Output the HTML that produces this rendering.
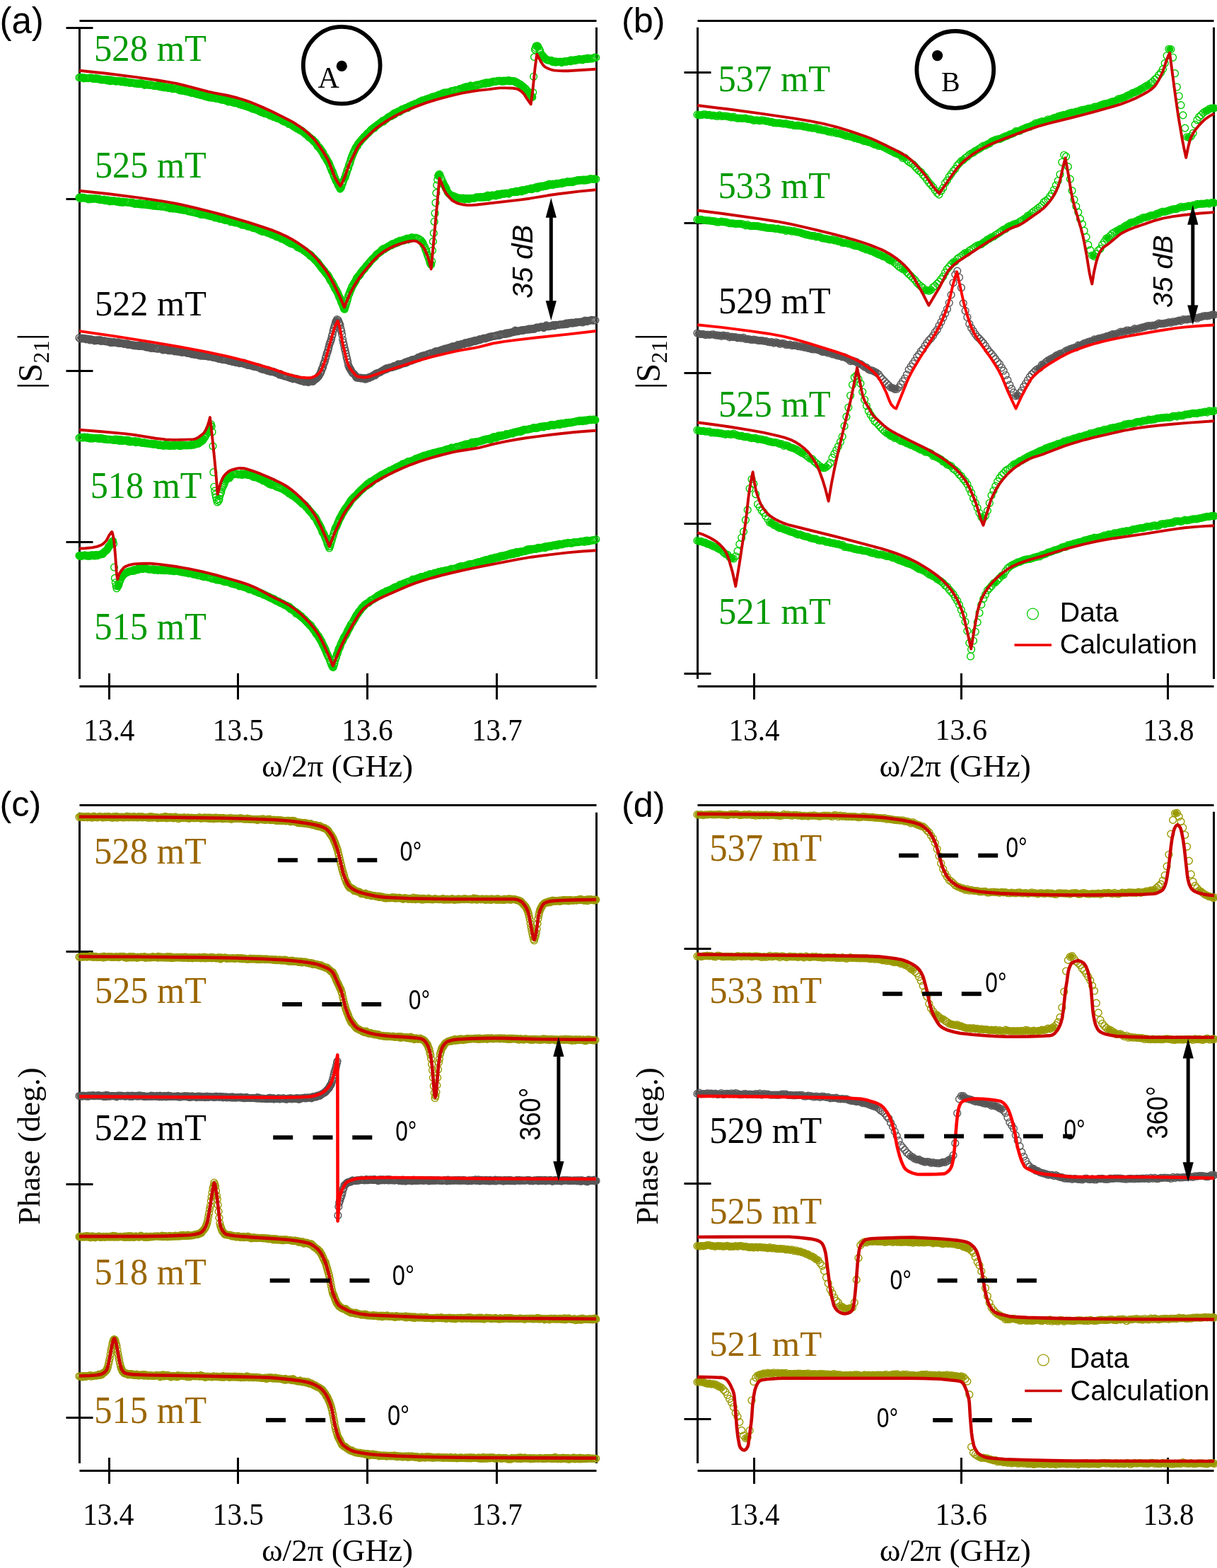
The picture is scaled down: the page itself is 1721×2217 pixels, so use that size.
<!DOCTYPE html>
<html><head><meta charset="utf-8"><title>S21 and phase spectra</title><style>html,body{margin:0;padding:0;background:#fff;}svg{display:block;}</style></head><body>
<svg xmlns="http://www.w3.org/2000/svg" width="1721" height="2217" viewBox="0 0 1721 2217">
<defs><marker id="mg" markerUnits="userSpaceOnUse" markerWidth="14" markerHeight="14" refX="7" refY="7" overflow="visible"><circle cx="7" cy="7" r="4.9" fill="none" stroke="#00cc00" stroke-width="1.4"/></marker><marker id="mk" markerUnits="userSpaceOnUse" markerWidth="14" markerHeight="14" refX="7" refY="7" overflow="visible"><circle cx="7" cy="7" r="4.9" fill="none" stroke="#575757" stroke-width="1.4"/></marker><marker id="mo" markerUnits="userSpaceOnUse" markerWidth="14" markerHeight="14" refX="7" refY="7" overflow="visible"><circle cx="7" cy="7" r="4.9" fill="none" stroke="#999900" stroke-width="1.4"/></marker></defs>
<rect width="100%" height="100%" fill="#fff"/>
<line x1="112.5" y1="29.5" x2="843.5" y2="29.5" stroke="#000" stroke-width="3"/>
<line x1="112.5" y1="38.8" x2="112.5" y2="960" stroke="#000" stroke-width="3"/>
<line x1="843.5" y1="38.8" x2="843.5" y2="960" stroke="#000" stroke-width="3"/>
<line x1="112.5" y1="970.5" x2="843.5" y2="970.5" stroke="#000" stroke-width="3"/>
<line x1="154.5" y1="952.0" x2="154.5" y2="989.0" stroke="#000" stroke-width="3"/>
<line x1="336.5" y1="952.0" x2="336.5" y2="989.0" stroke="#000" stroke-width="3"/>
<line x1="519.5" y1="952.0" x2="519.5" y2="989.0" stroke="#000" stroke-width="3"/>
<line x1="702.5" y1="952.0" x2="702.5" y2="989.0" stroke="#000" stroke-width="3"/>
<line x1="93.5" y1="39.5" x2="131.5" y2="39.5" stroke="#000" stroke-width="3"/>
<line x1="93.5" y1="281.5" x2="131.5" y2="281.5" stroke="#000" stroke-width="3"/>
<line x1="93.5" y1="524.5" x2="131.5" y2="524.5" stroke="#000" stroke-width="3"/>
<line x1="93.5" y1="766.5" x2="131.5" y2="766.5" stroke="#000" stroke-width="3"/>
<line x1="986.5" y1="29.5" x2="1716.5" y2="29.5" stroke="#000" stroke-width="3"/>
<line x1="986.5" y1="38.8" x2="986.5" y2="960" stroke="#000" stroke-width="3"/>
<line x1="1716.5" y1="38.8" x2="1716.5" y2="960" stroke="#000" stroke-width="3"/>
<line x1="986.5" y1="970.5" x2="1716.5" y2="970.5" stroke="#000" stroke-width="3"/>
<line x1="1066.5" y1="952.0" x2="1066.5" y2="989.0" stroke="#000" stroke-width="3"/>
<line x1="1359.5" y1="952.0" x2="1359.5" y2="989.0" stroke="#000" stroke-width="3"/>
<line x1="1651.5" y1="952.0" x2="1651.5" y2="989.0" stroke="#000" stroke-width="3"/>
<line x1="967.5" y1="102.5" x2="1005.5" y2="102.5" stroke="#000" stroke-width="3"/>
<line x1="967.5" y1="315.5" x2="1005.5" y2="315.5" stroke="#000" stroke-width="3"/>
<line x1="967.5" y1="527.5" x2="1005.5" y2="527.5" stroke="#000" stroke-width="3"/>
<line x1="967.5" y1="740.5" x2="1005.5" y2="740.5" stroke="#000" stroke-width="3"/>
<line x1="967.5" y1="952.5" x2="1005.5" y2="952.5" stroke="#000" stroke-width="3"/>
<line x1="112.5" y1="1138.5" x2="843.5" y2="1138.5" stroke="#000" stroke-width="3"/>
<line x1="112.5" y1="1148.7" x2="112.5" y2="2069" stroke="#000" stroke-width="3"/>
<line x1="843.5" y1="1148.7" x2="843.5" y2="2069" stroke="#000" stroke-width="3"/>
<line x1="112.5" y1="2079.5" x2="843.5" y2="2079.5" stroke="#000" stroke-width="3"/>
<line x1="154.5" y1="2061.0" x2="154.5" y2="2098.0" stroke="#000" stroke-width="3"/>
<line x1="336.5" y1="2061.0" x2="336.5" y2="2098.0" stroke="#000" stroke-width="3"/>
<line x1="519.5" y1="2061.0" x2="519.5" y2="2098.0" stroke="#000" stroke-width="3"/>
<line x1="702.5" y1="2061.0" x2="702.5" y2="2098.0" stroke="#000" stroke-width="3"/>
<line x1="93.5" y1="1345.5" x2="131.5" y2="1345.5" stroke="#000" stroke-width="3"/>
<line x1="93.5" y1="1674.5" x2="131.5" y2="1674.5" stroke="#000" stroke-width="3"/>
<line x1="93.5" y1="2004.5" x2="131.5" y2="2004.5" stroke="#000" stroke-width="3"/>
<line x1="986.5" y1="1138.5" x2="1716.5" y2="1138.5" stroke="#000" stroke-width="3"/>
<line x1="986.5" y1="1147.7" x2="986.5" y2="2069" stroke="#000" stroke-width="3"/>
<line x1="1716.5" y1="1147.7" x2="1716.5" y2="2069" stroke="#000" stroke-width="3"/>
<line x1="986.5" y1="2079.5" x2="1716.5" y2="2079.5" stroke="#000" stroke-width="3"/>
<line x1="1066.5" y1="2061.0" x2="1066.5" y2="2098.0" stroke="#000" stroke-width="3"/>
<line x1="1359.5" y1="2061.0" x2="1359.5" y2="2098.0" stroke="#000" stroke-width="3"/>
<line x1="1651.5" y1="2061.0" x2="1651.5" y2="2098.0" stroke="#000" stroke-width="3"/>
<line x1="967.5" y1="1341.5" x2="1005.5" y2="1341.5" stroke="#000" stroke-width="3"/>
<line x1="967.5" y1="1673.5" x2="1005.5" y2="1673.5" stroke="#000" stroke-width="3"/>
<line x1="967.5" y1="2006.5" x2="1005.5" y2="2006.5" stroke="#000" stroke-width="3"/>
<polyline points="117.4,110.1 118.3,110.8 119.2,109.9" fill="none" stroke="#00cc00" stroke-width="8.5" stroke-linejoin="round" stroke-linecap="round"/><polyline points="130.0,110.2 130.9,111.1" fill="none" stroke="#00cc00" stroke-width="8.5" stroke-linejoin="round" stroke-linecap="round"/><polyline points="134.5,111.4 135.4,110.4 136.3,111.4" fill="none" stroke="#00cc00" stroke-width="8.5" stroke-linejoin="round" stroke-linecap="round"/><polyline points="138.1,111.9 139.0,111.2" fill="none" stroke="#00cc00" stroke-width="8.5" stroke-linejoin="round" stroke-linecap="round"/><polyline points="142.6,112.8 143.5,112.0" fill="none" stroke="#00cc00" stroke-width="8.5" stroke-linejoin="round" stroke-linecap="round"/><polyline points="145.3,113.0 146.2,112.4" fill="none" stroke="#00cc00" stroke-width="8.5" stroke-linejoin="round" stroke-linecap="round"/><polyline points="149.8,112.4 150.7,113.1 151.6,113.9 152.5,112.5 153.4,113.8" fill="none" stroke="#00cc00" stroke-width="8.5" stroke-linejoin="round" stroke-linecap="round"/><polyline points="155.2,113.2 156.1,114.7" fill="none" stroke="#00cc00" stroke-width="8.5" stroke-linejoin="round" stroke-linecap="round"/><polyline points="157.9,113.2 158.8,114.0" fill="none" stroke="#00cc00" stroke-width="8.5" stroke-linejoin="round" stroke-linecap="round"/><polyline points="164.2,115.2 165.1,114.3" fill="none" stroke="#00cc00" stroke-width="8.5" stroke-linejoin="round" stroke-linecap="round"/><polyline points="170.5,115.1 171.4,115.8" fill="none" stroke="#00cc00" stroke-width="8.5" stroke-linejoin="round" stroke-linecap="round"/><polyline points="175.0,116.0 175.9,114.8 176.8,115.7" fill="none" stroke="#00cc00" stroke-width="8.5" stroke-linejoin="round" stroke-linecap="round"/><polyline points="182.2,116.4 183.1,117.4 184.0,116.5" fill="none" stroke="#00cc00" stroke-width="8.5" stroke-linejoin="round" stroke-linecap="round"/><polyline points="194.8,117.9 195.7,118.7" fill="none" stroke="#00cc00" stroke-width="8.5" stroke-linejoin="round" stroke-linecap="round"/><polyline points="197.5,118.6 198.4,117.8 199.3,118.7 200.2,117.8" fill="none" stroke="#00cc00" stroke-width="8.5" stroke-linejoin="round" stroke-linecap="round"/><polyline points="203.8,119.2 204.7,120.4 205.6,119.0" fill="none" stroke="#00cc00" stroke-width="8.5" stroke-linejoin="round" stroke-linecap="round"/><polyline points="221.8,121.5 222.7,120.7" fill="none" stroke="#00cc00" stroke-width="8.5" stroke-linejoin="round" stroke-linecap="round"/><polyline points="224.5,122.1 225.4,121.0" fill="none" stroke="#00cc00" stroke-width="8.5" stroke-linejoin="round" stroke-linecap="round"/><polyline points="226.3,122.7 227.2,121.5 228.1,122.9 229.0,122.2 229.9,123.2" fill="none" stroke="#00cc00" stroke-width="8.5" stroke-linejoin="round" stroke-linecap="round"/><polyline points="231.7,122.3 232.6,123.8" fill="none" stroke="#00cc00" stroke-width="8.5" stroke-linejoin="round" stroke-linecap="round"/><polyline points="238.0,124.6 238.9,123.9" fill="none" stroke="#00cc00" stroke-width="8.5" stroke-linejoin="round" stroke-linecap="round"/><polyline points="242.5,124.2 243.4,125.6" fill="none" stroke="#00cc00" stroke-width="8.5" stroke-linejoin="round" stroke-linecap="round"/><polyline points="254.2,127.8 255.1,126.8" fill="none" stroke="#00cc00" stroke-width="8.5" stroke-linejoin="round" stroke-linecap="round"/><polyline points="256.9,127.7 257.8,128.4 258.7,127.2 259.6,128.0" fill="none" stroke="#00cc00" stroke-width="8.5" stroke-linejoin="round" stroke-linecap="round"/><polyline points="261.4,127.7 262.3,129.1" fill="none" stroke="#00cc00" stroke-width="8.5" stroke-linejoin="round" stroke-linecap="round"/><polyline points="269.5,129.9 270.4,131.4 271.3,130.7" fill="none" stroke="#00cc00" stroke-width="8.5" stroke-linejoin="round" stroke-linecap="round"/><polyline points="274.9,131.6 275.8,132.4" fill="none" stroke="#00cc00" stroke-width="8.5" stroke-linejoin="round" stroke-linecap="round"/><polyline points="283.0,133.2 283.9,134.6" fill="none" stroke="#00cc00" stroke-width="8.5" stroke-linejoin="round" stroke-linecap="round"/><polyline points="291.1,136.6 292.0,135.5 292.9,136.7" fill="none" stroke="#00cc00" stroke-width="8.5" stroke-linejoin="round" stroke-linecap="round"/><polyline points="294.7,137.2 295.6,137.9" fill="none" stroke="#00cc00" stroke-width="8.5" stroke-linejoin="round" stroke-linecap="round"/><polyline points="299.2,138.2 300.1,137.5 301.0,138.2" fill="none" stroke="#00cc00" stroke-width="8.5" stroke-linejoin="round" stroke-linecap="round"/><polyline points="311.8,139.7 312.7,140.9" fill="none" stroke="#00cc00" stroke-width="8.5" stroke-linejoin="round" stroke-linecap="round"/><polyline points="318.1,141.4 319.0,142.1" fill="none" stroke="#00cc00" stroke-width="8.5" stroke-linejoin="round" stroke-linecap="round"/><polyline points="322.6,143.9 323.5,142.4 324.4,143.7" fill="none" stroke="#00cc00" stroke-width="8.5" stroke-linejoin="round" stroke-linecap="round"/><polyline points="328.0,144.0 328.9,144.8" fill="none" stroke="#00cc00" stroke-width="8.5" stroke-linejoin="round" stroke-linecap="round"/><polyline points="334.3,144.7 335.2,145.7" fill="none" stroke="#00cc00" stroke-width="8.5" stroke-linejoin="round" stroke-linecap="round"/><polyline points="337.9,146.6 338.8,147.7" fill="none" stroke="#00cc00" stroke-width="8.5" stroke-linejoin="round" stroke-linecap="round"/><polyline points="346.0,149.2 346.9,149.9" fill="none" stroke="#00cc00" stroke-width="8.5" stroke-linejoin="round" stroke-linecap="round"/><polyline points="352.3,151.9 353.2,151.0 354.1,151.9" fill="none" stroke="#00cc00" stroke-width="8.5" stroke-linejoin="round" stroke-linecap="round"/><polyline points="358.6,153.4 359.5,154.4" fill="none" stroke="#00cc00" stroke-width="8.5" stroke-linejoin="round" stroke-linecap="round"/><polyline points="369.4,157.9 370.3,159.0 371.2,158.3" fill="none" stroke="#00cc00" stroke-width="8.5" stroke-linejoin="round" stroke-linecap="round"/><polyline points="381.1,162.4 382.0,163.5" fill="none" stroke="#00cc00" stroke-width="8.5" stroke-linejoin="round" stroke-linecap="round"/><polyline points="385.6,163.9 386.5,165.3" fill="none" stroke="#00cc00" stroke-width="8.5" stroke-linejoin="round" stroke-linecap="round"/><polyline points="390.1,165.5 391.0,166.4 391.9,167.2" fill="none" stroke="#00cc00" stroke-width="8.5" stroke-linejoin="round" stroke-linecap="round"/><polyline points="400.9,171.1 401.8,172.0" fill="none" stroke="#00cc00" stroke-width="8.5" stroke-linejoin="round" stroke-linecap="round"/><polyline points="403.6,171.8 404.5,172.6" fill="none" stroke="#00cc00" stroke-width="8.5" stroke-linejoin="round" stroke-linecap="round"/><polyline points="406.3,172.9 407.2,174.1 408.1,175.3 409.0,174.6" fill="none" stroke="#00cc00" stroke-width="8.5" stroke-linejoin="round" stroke-linecap="round"/><polyline points="410.8,175.1 411.7,176.3" fill="none" stroke="#00cc00" stroke-width="8.5" stroke-linejoin="round" stroke-linecap="round"/><polyline points="416.2,179.2 417.1,179.9" fill="none" stroke="#00cc00" stroke-width="8.5" stroke-linejoin="round" stroke-linecap="round"/><polyline points="418.9,180.5 419.8,181.8" fill="none" stroke="#00cc00" stroke-width="8.5" stroke-linejoin="round" stroke-linecap="round"/><polyline points="423.4,183.1 424.3,184.4" fill="none" stroke="#00cc00" stroke-width="8.5" stroke-linejoin="round" stroke-linecap="round"/><polyline points="426.1,184.4 427.0,185.1 427.9,185.9 428.8,186.9" fill="none" stroke="#00cc00" stroke-width="8.5" stroke-linejoin="round" stroke-linecap="round"/><polyline points="430.6,188.2 431.5,189.0" fill="none" stroke="#00cc00" stroke-width="8.5" stroke-linejoin="round" stroke-linecap="round"/><polyline points="433.3,190.2 434.2,191.0" fill="none" stroke="#00cc00" stroke-width="8.5" stroke-linejoin="round" stroke-linecap="round"/><polyline points="436.0,192.7 436.9,194.1" fill="none" stroke="#00cc00" stroke-width="8.5" stroke-linejoin="round" stroke-linecap="round"/><polyline points="443.2,199.4 444.1,200.3" fill="none" stroke="#00cc00" stroke-width="8.5" stroke-linejoin="round" stroke-linecap="round"/><polyline points="446.8,202.8 447.7,203.7" fill="none" stroke="#00cc00" stroke-width="8.5" stroke-linejoin="round" stroke-linecap="round"/><polyline points="451.3,208.2 452.2,209.3" fill="none" stroke="#00cc00" stroke-width="8.5" stroke-linejoin="round" stroke-linecap="round"/><polyline points="453.1,211.1 454.0,212.3 454.9,213.1" fill="none" stroke="#00cc00" stroke-width="8.5" stroke-linejoin="round" stroke-linecap="round"/><polyline points="455.8,215.1 456.7,215.8" fill="none" stroke="#00cc00" stroke-width="8.5" stroke-linejoin="round" stroke-linecap="round"/><polyline points="457.6,218.4 458.5,219.9 459.4,221.4 460.3,222.2" fill="none" stroke="#00cc00" stroke-width="8.5" stroke-linejoin="round" stroke-linecap="round"/><polyline points="461.2,224.3 462.1,225.6 463.0,227.1" fill="none" stroke="#00cc00" stroke-width="8.5" stroke-linejoin="round" stroke-linecap="round"/><polyline points="463.9,228.9 464.8,230.2" fill="none" stroke="#00cc00" stroke-width="8.5" stroke-linejoin="round" stroke-linecap="round"/><polyline points="469.3,241.6 470.2,242.5" fill="none" stroke="#00cc00" stroke-width="8.5" stroke-linejoin="round" stroke-linecap="round"/><polyline points="474.7,254.7 475.6,256.2 476.5,257.3" fill="none" stroke="#00cc00" stroke-width="8.5" stroke-linejoin="round" stroke-linecap="round"/><polyline points="478.3,261.9 479.2,263.4" fill="none" stroke="#00cc00" stroke-width="8.5" stroke-linejoin="round" stroke-linecap="round"/><polyline points="481.0,267.1 481.9,265.9" fill="none" stroke="#00cc00" stroke-width="8.5" stroke-linejoin="round" stroke-linecap="round"/><polyline points="487.3,251.9 488.2,250.4" fill="none" stroke="#00cc00" stroke-width="8.5" stroke-linejoin="round" stroke-linecap="round"/><polyline points="503.5,208.3 504.4,207.4 505.3,206.4" fill="none" stroke="#00cc00" stroke-width="8.5" stroke-linejoin="round" stroke-linecap="round"/><polyline points="508.0,201.9 508.9,200.5" fill="none" stroke="#00cc00" stroke-width="8.5" stroke-linejoin="round" stroke-linecap="round"/><polyline points="514.3,194.5 515.2,193.3" fill="none" stroke="#00cc00" stroke-width="8.5" stroke-linejoin="round" stroke-linecap="round"/><polyline points="518.8,189.9 519.7,188.5" fill="none" stroke="#00cc00" stroke-width="8.5" stroke-linejoin="round" stroke-linecap="round"/><polyline points="526.9,182.1 527.8,181.0" fill="none" stroke="#00cc00" stroke-width="8.5" stroke-linejoin="round" stroke-linecap="round"/><polyline points="532.3,177.9 533.2,177.1" fill="none" stroke="#00cc00" stroke-width="8.5" stroke-linejoin="round" stroke-linecap="round"/><polyline points="535.0,175.8 535.9,175.2" fill="none" stroke="#00cc00" stroke-width="8.5" stroke-linejoin="round" stroke-linecap="round"/><polyline points="539.5,172.4 540.4,171.7 541.3,170.7 542.2,172.0" fill="none" stroke="#00cc00" stroke-width="8.5" stroke-linejoin="round" stroke-linecap="round"/><polyline points="548.5,166.3 549.4,165.5" fill="none" stroke="#00cc00" stroke-width="8.5" stroke-linejoin="round" stroke-linecap="round"/><polyline points="553.0,164.5 553.9,163.0 554.8,162.3" fill="none" stroke="#00cc00" stroke-width="8.5" stroke-linejoin="round" stroke-linecap="round"/><polyline points="557.5,160.0 558.4,161.2 559.3,159.9" fill="none" stroke="#00cc00" stroke-width="8.5" stroke-linejoin="round" stroke-linecap="round"/><polyline points="564.7,158.2 565.6,157.5 566.5,156.4 567.4,155.7 568.3,154.7" fill="none" stroke="#00cc00" stroke-width="8.5" stroke-linejoin="round" stroke-linecap="round"/><polyline points="571.9,153.9 572.8,152.9" fill="none" stroke="#00cc00" stroke-width="8.5" stroke-linejoin="round" stroke-linecap="round"/><polyline points="576.4,152.7 577.3,151.3 578.2,150.6" fill="none" stroke="#00cc00" stroke-width="8.5" stroke-linejoin="round" stroke-linecap="round"/><polyline points="581.8,149.3 582.7,148.4" fill="none" stroke="#00cc00" stroke-width="8.5" stroke-linejoin="round" stroke-linecap="round"/><polyline points="586.3,147.3 587.2,146.6" fill="none" stroke="#00cc00" stroke-width="8.5" stroke-linejoin="round" stroke-linecap="round"/><polyline points="596.2,143.2 597.1,141.9 598.0,142.7" fill="none" stroke="#00cc00" stroke-width="8.5" stroke-linejoin="round" stroke-linecap="round"/><polyline points="601.6,141.0 602.5,140.4" fill="none" stroke="#00cc00" stroke-width="8.5" stroke-linejoin="round" stroke-linecap="round"/><polyline points="611.5,136.8 612.4,137.6" fill="none" stroke="#00cc00" stroke-width="8.5" stroke-linejoin="round" stroke-linecap="round"/><polyline points="619.6,135.0 620.5,133.9 621.4,134.6" fill="none" stroke="#00cc00" stroke-width="8.5" stroke-linejoin="round" stroke-linecap="round"/><polyline points="623.2,134.3 624.1,133.6 625.0,132.4 625.9,133.4 626.8,132.6 627.7,131.1 628.6,132.3 629.5,131.1" fill="none" stroke="#00cc00" stroke-width="8.5" stroke-linejoin="round" stroke-linecap="round"/><polyline points="631.3,131.0 632.2,131.7 633.1,130.6" fill="none" stroke="#00cc00" stroke-width="8.5" stroke-linejoin="round" stroke-linecap="round"/><polyline points="654.7,125.0 655.6,123.8" fill="none" stroke="#00cc00" stroke-width="8.5" stroke-linejoin="round" stroke-linecap="round"/><polyline points="659.2,122.6 660.1,123.4" fill="none" stroke="#00cc00" stroke-width="8.5" stroke-linejoin="round" stroke-linecap="round"/><polyline points="661.9,123.3 662.8,122.6" fill="none" stroke="#00cc00" stroke-width="8.5" stroke-linejoin="round" stroke-linecap="round"/><polyline points="665.5,120.9 666.4,122.0" fill="none" stroke="#00cc00" stroke-width="8.5" stroke-linejoin="round" stroke-linecap="round"/><polyline points="686.2,118.4 687.1,116.9" fill="none" stroke="#00cc00" stroke-width="8.5" stroke-linejoin="round" stroke-linecap="round"/><polyline points="688.9,117.6 689.8,116.9" fill="none" stroke="#00cc00" stroke-width="8.5" stroke-linejoin="round" stroke-linecap="round"/><polyline points="693.4,116.8 694.3,116.1" fill="none" stroke="#00cc00" stroke-width="8.5" stroke-linejoin="round" stroke-linecap="round"/><polyline points="710.5,115.2 711.4,114.2" fill="none" stroke="#00cc00" stroke-width="8.5" stroke-linejoin="round" stroke-linecap="round"/><polyline points="713.2,115.0 714.1,114.2" fill="none" stroke="#00cc00" stroke-width="8.5" stroke-linejoin="round" stroke-linecap="round"/><polyline points="719.5,113.7 720.4,114.8 721.3,114.1" fill="none" stroke="#00cc00" stroke-width="8.5" stroke-linejoin="round" stroke-linecap="round"/><polyline points="728.5,115.1 729.4,116.6" fill="none" stroke="#00cc00" stroke-width="8.5" stroke-linejoin="round" stroke-linecap="round"/><polyline points="731.2,116.6 732.1,117.3" fill="none" stroke="#00cc00" stroke-width="8.5" stroke-linejoin="round" stroke-linecap="round"/><polyline points="735.7,119.1 736.6,120.0" fill="none" stroke="#00cc00" stroke-width="8.5" stroke-linejoin="round" stroke-linecap="round"/><polyline points="739.3,122.0 740.2,123.2 741.1,124.6" fill="none" stroke="#00cc00" stroke-width="8.5" stroke-linejoin="round" stroke-linecap="round"/><polyline points="747.4,130.7 748.3,131.7" fill="none" stroke="#00cc00" stroke-width="8.5" stroke-linejoin="round" stroke-linecap="round"/><polyline points="751.9,136.3 752.8,137.4" fill="none" stroke="#00cc00" stroke-width="8.5" stroke-linejoin="round" stroke-linecap="round"/><polyline points="760.0,64.9 760.9,66.1" fill="none" stroke="#00cc00" stroke-width="8.5" stroke-linejoin="round" stroke-linecap="round"/><polyline points="767.2,78.4 768.1,79.9 769.0,80.6 769.9,81.8 770.8,82.8" fill="none" stroke="#00cc00" stroke-width="8.5" stroke-linejoin="round" stroke-linecap="round"/><polyline points="779.8,85.4 780.7,86.5 781.6,87.6" fill="none" stroke="#00cc00" stroke-width="8.5" stroke-linejoin="round" stroke-linecap="round"/><polyline points="785.2,86.9 786.1,88.1 787.0,87.4" fill="none" stroke="#00cc00" stroke-width="8.5" stroke-linejoin="round" stroke-linecap="round"/><polyline points="794.2,88.6 795.1,87.4" fill="none" stroke="#00cc00" stroke-width="8.5" stroke-linejoin="round" stroke-linecap="round"/><polyline points="805.9,85.9 806.8,86.8" fill="none" stroke="#00cc00" stroke-width="8.5" stroke-linejoin="round" stroke-linecap="round"/><polyline points="813.1,84.5 814.0,85.6" fill="none" stroke="#00cc00" stroke-width="8.5" stroke-linejoin="round" stroke-linecap="round"/><polyline points="817.6,84.3 818.5,83.6 819.4,84.4 820.3,83.7" fill="none" stroke="#00cc00" stroke-width="8.5" stroke-linejoin="round" stroke-linecap="round"/><polyline points="823.9,84.8 824.8,83.8 825.7,83.0" fill="none" stroke="#00cc00" stroke-width="8.5" stroke-linejoin="round" stroke-linecap="round"/><polyline points="829.3,83.6 830.2,82.9 831.1,82.1 832.0,83.3" fill="none" stroke="#00cc00" stroke-width="8.5" stroke-linejoin="round" stroke-linecap="round"/><polyline points="112.0,109.6 113.8,109.6 115.6,109.7 117.4,110.1 118.3,110.8 119.2,109.9 121.0,110.6 122.8,110.5 124.6,110.6 126.4,110.1 128.2,110.0 130.0,110.2 130.9,111.1 132.7,111.5 134.5,111.4 135.4,110.4 136.3,111.4 138.1,111.9 139.0,111.2 140.8,111.6 142.6,112.8 143.5,112.0 145.3,113.0 146.2,112.4 148.0,112.9 149.8,112.4 150.7,113.1 151.6,113.9 152.5,112.5 153.4,113.8 155.2,113.2 156.1,114.7 157.9,113.2 158.8,114.0 160.6,114.0 162.4,114.3 164.2,115.2 165.1,114.3 166.9,114.6 168.7,114.4 170.5,115.1 171.4,115.8 173.2,114.8 175.0,116.0 175.9,114.8 176.8,115.7 178.6,116.7 180.4,116.2 182.2,116.4 183.1,117.4 184.0,116.5 185.8,117.1 187.6,117.1 189.4,117.4 191.2,118.2 193.0,117.8 194.8,117.9 195.7,118.7 197.5,118.6 198.4,117.8 199.3,118.7 200.2,117.8 202.0,118.8 203.8,119.2 204.7,120.4 205.6,119.0 207.4,119.7 209.2,119.8 211.0,120.4 212.8,119.8 214.6,120.6 216.4,120.9 218.2,121.5 220.0,121.4 221.8,121.5 222.7,120.7 224.5,122.1 225.4,121.0 226.3,122.7 227.2,121.5 228.1,122.9 229.0,122.2 229.9,123.2 231.7,122.3 232.6,123.8 234.4,123.4 236.2,123.7 238.0,124.6 238.9,123.9 240.7,124.1 242.5,124.2 243.4,125.6 245.2,125.7 247.0,125.2 248.8,125.6 250.6,126.0 252.4,125.9 254.2,127.8 255.1,126.8 256.9,127.7 257.8,128.4 258.7,127.2 259.6,128.0 261.4,127.7 262.3,129.1 264.1,129.2 265.9,129.8 267.7,130.0 269.5,129.9 270.4,131.4 271.3,130.7 273.1,131.3 274.9,131.6 275.8,132.4 277.6,132.4 279.4,133.5 281.2,133.6 283.0,133.2 283.9,134.6 285.7,134.5 287.5,135.4 289.3,135.9 291.1,136.6 292.0,135.5 292.9,136.7 294.7,137.2 295.6,137.9 297.4,136.8 299.2,138.2 300.1,137.5 301.0,138.2 302.8,137.8 304.6,139.1 306.4,139.2 308.2,139.3 310.0,140.0 311.8,139.7 312.7,140.9 314.5,141.2 316.3,141.1 318.1,141.4 319.0,142.1 320.8,142.6 322.6,143.9 323.5,142.4 324.4,143.7 326.2,143.7 328.0,144.0 328.9,144.8 330.7,144.9 332.5,145.9 334.3,144.7 335.2,145.7 337.0,144.9 337.9,146.6 338.8,147.7 340.6,147.0 342.4,148.7 344.2,148.7 346.0,149.2 346.9,149.9 348.7,150.2 350.5,150.9 352.3,151.9 353.2,151.0 354.1,151.9 355.9,152.0 356.8,153.8 358.6,153.4 359.5,154.4 361.3,153.4 362.2,155.2 364.0,155.8 365.8,156.3 367.6,157.7 369.4,157.9 370.3,159.0 371.2,158.3 373.0,158.3 373.9,160.4 375.7,160.7 377.5,161.0 379.3,161.6 381.1,162.4 382.0,163.5 383.8,163.4 385.6,163.9 386.5,165.3 388.3,165.3 390.1,165.5 391.0,166.4 391.9,167.2 393.7,167.5 395.5,168.4 397.3,169.1 399.1,170.5 400.9,171.1 401.8,172.0 403.6,171.8 404.5,172.6 406.3,172.9 407.2,174.1 408.1,175.3 409.0,174.6 410.8,175.1 411.7,176.3 413.5,176.6 414.4,178.3 416.2,179.2 417.1,179.9 418.9,180.5 419.8,181.8 421.6,181.6 423.4,183.1 424.3,184.4 426.1,184.4 427.0,185.1 427.9,185.9 428.8,186.9 430.6,188.2 431.5,189.0 433.3,190.2 434.2,191.0 436.0,192.7 436.9,194.1 438.7,194.8 440.5,196.6 442.3,197.4 443.2,199.4 444.1,200.3 445.9,201.0 446.8,202.8 447.7,203.7 448.6,205.4 449.5,207.4 451.3,208.2 452.2,209.3 453.1,211.1 454.0,212.3 454.9,213.1 455.8,215.1 456.7,215.8 457.6,218.4 458.5,219.9 459.4,221.4 460.3,222.2 461.2,224.3 462.1,225.6 463.0,227.1 463.9,228.9 464.8,230.2 465.7,231.9 466.6,235.0 467.5,236.6 468.4,239.0 469.3,241.6 470.2,242.5 471.1,245.3 472.0,248.0 472.9,250.3 473.8,252.1 474.7,254.7 475.6,256.2 476.5,257.3 477.4,259.3 478.3,261.9 479.2,263.4 481.0,267.1 481.9,265.9 482.8,264.0 483.7,260.9 484.6,258.7 485.5,256.0 487.3,251.9 488.2,250.4 489.1,246.9 490.0,244.7 490.9,241.2 491.8,239.1 492.7,237.0 493.6,233.1 494.5,231.5 495.4,228.4 496.3,225.1 497.2,222.8 498.1,220.3 499.0,218.3 499.9,215.9 500.8,213.9 501.7,212.3 502.6,210.1 503.5,208.3 504.4,207.4 505.3,206.4 506.2,203.8 508.0,201.9 508.9,200.5 510.7,198.5 512.5,196.3 514.3,194.5 515.2,193.3 517.0,191.7 518.8,189.9 519.7,188.5 521.5,187.4 523.3,185.3 525.1,183.3 526.9,182.1 527.8,181.0 529.6,181.0 530.5,179.0 532.3,177.9 533.2,177.1 535.0,175.8 535.9,175.2 537.7,173.8 539.5,172.4 540.4,171.7 541.3,170.7 542.2,172.0 543.1,170.2 544.9,169.2 546.7,168.0 548.5,166.3 549.4,165.5 551.2,164.5 553.0,164.5 553.9,163.0 554.8,162.3 556.6,162.6 557.5,160.0 558.4,161.2 559.3,159.9 561.1,158.9 562.9,157.7 564.7,158.2 565.6,157.5 566.5,156.4 567.4,155.7 568.3,154.7 570.1,154.8 571.9,153.9 572.8,152.9 574.6,152.6 576.4,152.7 577.3,151.3 578.2,150.6 580.0,149.8 581.8,149.3 582.7,148.4 584.5,148.1 586.3,147.3 587.2,146.6 589.0,146.1 590.8,145.6 592.6,144.1 594.4,143.4 596.2,143.2 597.1,141.9 598.0,142.7 599.8,141.8 601.6,141.0 602.5,140.4 604.3,140.0 606.1,139.0 607.9,139.0 609.7,138.1 611.5,136.8 612.4,137.6 614.2,136.9 616.0,135.8 617.8,135.8 619.6,135.0 620.5,133.9 621.4,134.6 623.2,134.3 624.1,133.6 625.0,132.4 625.9,133.4 626.8,132.6 627.7,131.1 628.6,132.3 629.5,131.1 631.3,131.0 632.2,131.7 633.1,130.6 634.9,131.1 636.7,129.7 638.5,128.6 640.3,128.9 642.1,128.3 643.9,127.3 645.7,127.6 647.5,127.3 649.3,126.1 651.1,125.3 652.9,125.6 654.7,125.0 655.6,123.8 657.4,123.9 659.2,122.6 660.1,123.4 661.9,123.3 662.8,122.6 664.6,122.9 665.5,120.9 666.4,122.0 668.2,122.0 670.0,121.8 671.8,121.0 673.6,120.2 675.4,120.5 677.2,119.6 679.0,119.4 680.8,118.9 682.6,118.1 684.4,118.1 686.2,118.4 687.1,116.9 688.9,117.6 689.8,116.9 691.6,117.4 693.4,116.8 694.3,116.1 696.1,115.9 697.9,115.2 699.7,115.4 701.5,115.3 703.3,114.3 705.1,114.3 706.9,114.0 708.7,114.8 710.5,115.2 711.4,114.2 713.2,115.0 714.1,114.2 715.9,114.3 717.7,113.9 719.5,113.7 720.4,114.8 721.3,114.1 723.1,114.7 724.9,114.5 726.7,114.5 728.5,115.1 729.4,116.6 731.2,116.6 732.1,117.3 733.9,118.9 735.7,119.1 736.6,120.0 737.5,122.0 739.3,122.0 740.2,123.2 741.1,124.6 742.9,125.0 743.8,126.6 745.6,128.1 747.4,130.7 748.3,131.7 750.1,133.6 751.9,136.3 752.8,137.4 753.7,130.6 754.6,108.3 755.5,80.6 756.4,70.1 757.3,67.7 758.2,65.0 760.0,64.9 760.9,66.1 762.7,69.7 763.6,71.6 764.5,74.7 765.4,77.6 767.2,78.4 768.1,79.9 769.0,80.6 769.9,81.8 770.8,82.8 772.6,84.1 774.4,85.0 776.2,85.2 778.0,85.6 779.8,85.4 780.7,86.5 781.6,87.6 783.4,87.7 785.2,86.9 786.1,88.1 787.0,87.4 788.8,87.4 790.6,87.4 792.4,87.0 794.2,88.6 795.1,87.4 796.9,87.5 798.7,86.5 800.5,87.3 802.3,86.7 804.1,86.1 805.9,85.9 806.8,86.8 807.7,84.9 809.5,85.4 811.3,85.8 813.1,84.5 814.0,85.6 815.8,84.7 817.6,84.3 818.5,83.6 819.4,84.4 820.3,83.7 822.1,84.4 823.9,84.8 824.8,83.8 825.7,83.0 827.5,83.1 829.3,83.6 830.2,82.9 831.1,82.1 832.0,83.3 833.8,82.9 835.6,82.8 837.4,82.9 839.2,82.2 841.0,81.0 842.8,81.4" fill="none" stroke="none" marker-start="url(#mg)" marker-mid="url(#mg)" marker-end="url(#mg)"/>
<path d="M112.0 99.8L150.0 103.8 192.5 109.1 223.3 113.5 248.8 117.9 261.5 120.9 294.8 129.7 302.8 131.4 321.8 135.0 336.0 138.5 345.3 141.3 352.5 143.8 360.5 147.0 373.0 152.4 385.3 158.0 403.3 166.9 410.0 170.4 415.8 173.6 423.0 178.3 429.8 183.3 436.0 188.5 441.8 194.0 445.5 198.3 450.0 204.3 456.3 213.6 460.8 220.9 463.8 226.4 466.0 231.0 472.0 247.0 474.0 251.7 477.8 258.3 481.3 263.0 484.1 258.0 487.3 250.7 489.3 245.5 492.6 235.2 494.8 229.9 500.1 219.7 505.1 209.3 506.8 206.5 509.6 202.9 513.3 198.9 527.1 185.6 531.1 182.0 535.1 178.9 543.6 173.0 552.3 167.6 561.1 162.7 570.3 158.2 586.4 151.4 602.6 145.4 617.9 140.6 637.6 135.4 653.6 131.7 668.2 129.1 676.4 127.9 690.7 126.4 701.9 124.9 706.9 124.4 714.9 124.4 725.7 124.8 730.2 125.5 732.2 126.1 733.4 126.6 737.7 129.6 740.7 132.6 741.9 134.3 744.9 139.2 750.7 147.3 753.2 128.7 756.7 95.2 759.2 76.6 765.7 88.7 767.5 91.2 769.2 93.3 771.2 94.9 773.7 96.3 778.0 98.0 781.5 99.1 784.5 99.6 788.5 99.9 796.2 100.2 803.0 100.2 810.7 99.8 843.0 97.7" fill="none" stroke="#cc0000" stroke-width="3.9" stroke-linejoin="round" stroke-linecap="butt"/>
<polyline points="112.0,279.6 112.9,278.9" fill="none" stroke="#00cc00" stroke-width="8.5" stroke-linejoin="round" stroke-linecap="round"/><polyline points="113.8,280.5 114.7,279.8" fill="none" stroke="#00cc00" stroke-width="8.5" stroke-linejoin="round" stroke-linecap="round"/><polyline points="116.5,279.0 117.4,279.8" fill="none" stroke="#00cc00" stroke-width="8.5" stroke-linejoin="round" stroke-linecap="round"/><polyline points="121.0,280.0 121.9,280.6" fill="none" stroke="#00cc00" stroke-width="8.5" stroke-linejoin="round" stroke-linecap="round"/><polyline points="128.2,280.5 129.1,281.4 130.0,280.5" fill="none" stroke="#00cc00" stroke-width="8.5" stroke-linejoin="round" stroke-linecap="round"/><polyline points="139.0,281.8 139.9,281.1 140.8,281.9 141.7,282.6" fill="none" stroke="#00cc00" stroke-width="8.5" stroke-linejoin="round" stroke-linecap="round"/><polyline points="150.7,283.7 151.6,282.9 152.5,283.7 153.4,283.0" fill="none" stroke="#00cc00" stroke-width="8.5" stroke-linejoin="round" stroke-linecap="round"/><polyline points="155.2,284.8 156.1,284.0" fill="none" stroke="#00cc00" stroke-width="8.5" stroke-linejoin="round" stroke-linecap="round"/><polyline points="159.7,284.6 160.6,283.8" fill="none" stroke="#00cc00" stroke-width="8.5" stroke-linejoin="round" stroke-linecap="round"/><polyline points="164.2,284.5 165.1,285.2" fill="none" stroke="#00cc00" stroke-width="8.5" stroke-linejoin="round" stroke-linecap="round"/><polyline points="166.9,285.2 167.8,284.3 168.7,285.4 169.6,286.1" fill="none" stroke="#00cc00" stroke-width="8.5" stroke-linejoin="round" stroke-linecap="round"/><polyline points="173.2,286.3 174.1,285.1" fill="none" stroke="#00cc00" stroke-width="8.5" stroke-linejoin="round" stroke-linecap="round"/><polyline points="186.7,287.2 187.6,286.4 188.5,287.2" fill="none" stroke="#00cc00" stroke-width="8.5" stroke-linejoin="round" stroke-linecap="round"/><polyline points="190.3,287.8 191.2,288.5" fill="none" stroke="#00cc00" stroke-width="8.5" stroke-linejoin="round" stroke-linecap="round"/><polyline points="196.6,288.7 197.5,287.4 198.4,288.7" fill="none" stroke="#00cc00" stroke-width="8.5" stroke-linejoin="round" stroke-linecap="round"/><polyline points="211.9,290.2 212.8,289.6" fill="none" stroke="#00cc00" stroke-width="8.5" stroke-linejoin="round" stroke-linecap="round"/><polyline points="214.6,290.0 215.5,290.8 216.4,289.6 217.3,291.0 218.2,290.2" fill="none" stroke="#00cc00" stroke-width="8.5" stroke-linejoin="round" stroke-linecap="round"/><polyline points="239.8,293.7 240.7,294.7 241.6,293.3 242.5,294.3" fill="none" stroke="#00cc00" stroke-width="8.5" stroke-linejoin="round" stroke-linecap="round"/><polyline points="246.1,293.4 247.0,294.1 247.9,295.0" fill="none" stroke="#00cc00" stroke-width="8.5" stroke-linejoin="round" stroke-linecap="round"/><polyline points="253.3,295.6 254.2,296.3 255.1,294.8" fill="none" stroke="#00cc00" stroke-width="8.5" stroke-linejoin="round" stroke-linecap="round"/><polyline points="256.0,296.5 256.9,295.8 257.8,297.0" fill="none" stroke="#00cc00" stroke-width="8.5" stroke-linejoin="round" stroke-linecap="round"/><polyline points="259.6,296.4 260.5,297.2" fill="none" stroke="#00cc00" stroke-width="8.5" stroke-linejoin="round" stroke-linecap="round"/><polyline points="282.1,301.6 283.0,303.0" fill="none" stroke="#00cc00" stroke-width="8.5" stroke-linejoin="round" stroke-linecap="round"/><polyline points="292.0,303.2 292.9,304.3 293.8,303.5 294.7,305.0" fill="none" stroke="#00cc00" stroke-width="8.5" stroke-linejoin="round" stroke-linecap="round"/><polyline points="298.3,305.8 299.2,305.2" fill="none" stroke="#00cc00" stroke-width="8.5" stroke-linejoin="round" stroke-linecap="round"/><polyline points="302.8,306.3 303.7,307.8 304.6,306.6 305.5,307.7 306.4,306.9 307.3,308.0" fill="none" stroke="#00cc00" stroke-width="8.5" stroke-linejoin="round" stroke-linecap="round"/><polyline points="319.0,309.7 319.9,310.8 320.8,311.6" fill="none" stroke="#00cc00" stroke-width="8.5" stroke-linejoin="round" stroke-linecap="round"/><polyline points="324.4,311.4 325.3,312.4 326.2,313.8" fill="none" stroke="#00cc00" stroke-width="8.5" stroke-linejoin="round" stroke-linecap="round"/><polyline points="329.8,313.3 330.7,314.3 331.6,313.6" fill="none" stroke="#00cc00" stroke-width="8.5" stroke-linejoin="round" stroke-linecap="round"/><polyline points="337.0,314.7 337.9,315.4" fill="none" stroke="#00cc00" stroke-width="8.5" stroke-linejoin="round" stroke-linecap="round"/><polyline points="341.5,317.0 342.4,318.0" fill="none" stroke="#00cc00" stroke-width="8.5" stroke-linejoin="round" stroke-linecap="round"/><polyline points="344.2,317.0 345.1,318.3" fill="none" stroke="#00cc00" stroke-width="8.5" stroke-linejoin="round" stroke-linecap="round"/><polyline points="351.4,318.6 352.3,319.5 353.2,320.2" fill="none" stroke="#00cc00" stroke-width="8.5" stroke-linejoin="round" stroke-linecap="round"/><polyline points="356.8,321.4 357.7,322.3 358.6,321.0 359.5,322.3" fill="none" stroke="#00cc00" stroke-width="8.5" stroke-linejoin="round" stroke-linecap="round"/><polyline points="369.4,324.9 370.3,326.1 371.2,327.6" fill="none" stroke="#00cc00" stroke-width="8.5" stroke-linejoin="round" stroke-linecap="round"/><polyline points="376.6,328.0 377.5,329.0" fill="none" stroke="#00cc00" stroke-width="8.5" stroke-linejoin="round" stroke-linecap="round"/><polyline points="382.9,330.6 383.8,331.5" fill="none" stroke="#00cc00" stroke-width="8.5" stroke-linejoin="round" stroke-linecap="round"/><polyline points="389.2,333.0 390.1,334.0" fill="none" stroke="#00cc00" stroke-width="8.5" stroke-linejoin="round" stroke-linecap="round"/><polyline points="395.5,335.5 396.4,336.4" fill="none" stroke="#00cc00" stroke-width="8.5" stroke-linejoin="round" stroke-linecap="round"/><polyline points="400.0,336.8 400.9,337.9" fill="none" stroke="#00cc00" stroke-width="8.5" stroke-linejoin="round" stroke-linecap="round"/><polyline points="402.7,339.1 403.6,340.1" fill="none" stroke="#00cc00" stroke-width="8.5" stroke-linejoin="round" stroke-linecap="round"/><polyline points="405.4,339.7 406.3,340.5" fill="none" stroke="#00cc00" stroke-width="8.5" stroke-linejoin="round" stroke-linecap="round"/><polyline points="409.0,342.2 409.9,343.1 410.8,344.3" fill="none" stroke="#00cc00" stroke-width="8.5" stroke-linejoin="round" stroke-linecap="round"/><polyline points="416.2,345.3 417.1,346.4" fill="none" stroke="#00cc00" stroke-width="8.5" stroke-linejoin="round" stroke-linecap="round"/><polyline points="420.7,349.6 421.6,348.5 422.5,349.4" fill="none" stroke="#00cc00" stroke-width="8.5" stroke-linejoin="round" stroke-linecap="round"/><polyline points="424.3,350.8 425.2,351.6" fill="none" stroke="#00cc00" stroke-width="8.5" stroke-linejoin="round" stroke-linecap="round"/><polyline points="428.8,353.0 429.7,354.3" fill="none" stroke="#00cc00" stroke-width="8.5" stroke-linejoin="round" stroke-linecap="round"/><polyline points="431.5,354.8 432.4,355.8 433.3,356.6 434.2,357.5" fill="none" stroke="#00cc00" stroke-width="8.5" stroke-linejoin="round" stroke-linecap="round"/><polyline points="438.7,361.7 439.6,360.6" fill="none" stroke="#00cc00" stroke-width="8.5" stroke-linejoin="round" stroke-linecap="round"/><polyline points="440.5,362.3 441.4,363.4" fill="none" stroke="#00cc00" stroke-width="8.5" stroke-linejoin="round" stroke-linecap="round"/><polyline points="443.2,364.6 444.1,365.9 445.0,366.8 445.9,367.7" fill="none" stroke="#00cc00" stroke-width="8.5" stroke-linejoin="round" stroke-linecap="round"/><polyline points="447.7,369.6 448.6,370.2 449.5,371.4 450.4,372.8 451.3,374.1 452.2,375.3" fill="none" stroke="#00cc00" stroke-width="8.5" stroke-linejoin="round" stroke-linecap="round"/><polyline points="454.0,377.5 454.9,378.7 455.8,379.8 456.7,381.1" fill="none" stroke="#00cc00" stroke-width="8.5" stroke-linejoin="round" stroke-linecap="round"/><polyline points="461.2,386.5 462.1,387.4 463.0,388.8 463.9,389.4" fill="none" stroke="#00cc00" stroke-width="8.5" stroke-linejoin="round" stroke-linecap="round"/><polyline points="466.6,394.9 467.5,396.5 468.4,397.5 469.3,399.0 470.2,400.3" fill="none" stroke="#00cc00" stroke-width="8.5" stroke-linejoin="round" stroke-linecap="round"/><polyline points="471.1,402.5 472.0,403.8" fill="none" stroke="#00cc00" stroke-width="8.5" stroke-linejoin="round" stroke-linecap="round"/><polyline points="473.8,408.3 474.7,409.1 475.6,410.2" fill="none" stroke="#00cc00" stroke-width="8.5" stroke-linejoin="round" stroke-linecap="round"/><polyline points="476.5,412.4 477.4,413.9" fill="none" stroke="#00cc00" stroke-width="8.5" stroke-linejoin="round" stroke-linecap="round"/><polyline points="479.2,419.1 480.1,420.5 481.0,421.7" fill="none" stroke="#00cc00" stroke-width="8.5" stroke-linejoin="round" stroke-linecap="round"/><polyline points="482.8,427.5 483.7,429.0" fill="none" stroke="#00cc00" stroke-width="8.5" stroke-linejoin="round" stroke-linecap="round"/><polyline points="486.4,436.5 487.3,437.2" fill="none" stroke="#00cc00" stroke-width="8.5" stroke-linejoin="round" stroke-linecap="round"/><polyline points="495.4,411.1 496.3,409.5" fill="none" stroke="#00cc00" stroke-width="8.5" stroke-linejoin="round" stroke-linecap="round"/><polyline points="500.8,400.3 501.7,399.1 502.6,397.7" fill="none" stroke="#00cc00" stroke-width="8.5" stroke-linejoin="round" stroke-linecap="round"/><polyline points="506.2,391.5 507.1,390.0 508.0,389.4 508.9,388.7" fill="none" stroke="#00cc00" stroke-width="8.5" stroke-linejoin="round" stroke-linecap="round"/><polyline points="509.8,386.6 510.7,385.2" fill="none" stroke="#00cc00" stroke-width="8.5" stroke-linejoin="round" stroke-linecap="round"/><polyline points="512.5,383.3 513.4,381.7" fill="none" stroke="#00cc00" stroke-width="8.5" stroke-linejoin="round" stroke-linecap="round"/><polyline points="517.9,376.6 518.8,375.2" fill="none" stroke="#00cc00" stroke-width="8.5" stroke-linejoin="round" stroke-linecap="round"/><polyline points="526.9,366.2 527.8,365.1" fill="none" stroke="#00cc00" stroke-width="8.5" stroke-linejoin="round" stroke-linecap="round"/><polyline points="529.6,363.7 530.5,363.0 531.4,361.6 532.3,360.2 533.2,359.4" fill="none" stroke="#00cc00" stroke-width="8.5" stroke-linejoin="round" stroke-linecap="round"/><polyline points="538.6,355.8 539.5,354.4 540.4,352.9" fill="none" stroke="#00cc00" stroke-width="8.5" stroke-linejoin="round" stroke-linecap="round"/><polyline points="542.2,351.8 543.1,352.7" fill="none" stroke="#00cc00" stroke-width="8.5" stroke-linejoin="round" stroke-linecap="round"/><polyline points="547.6,349.8 548.5,348.7" fill="none" stroke="#00cc00" stroke-width="8.5" stroke-linejoin="round" stroke-linecap="round"/><polyline points="558.4,344.5 559.3,343.6" fill="none" stroke="#00cc00" stroke-width="8.5" stroke-linejoin="round" stroke-linecap="round"/><polyline points="561.1,342.2 562.0,343.2 562.9,342.0" fill="none" stroke="#00cc00" stroke-width="8.5" stroke-linejoin="round" stroke-linecap="round"/><polyline points="571.0,338.8 571.9,339.9" fill="none" stroke="#00cc00" stroke-width="8.5" stroke-linejoin="round" stroke-linecap="round"/><polyline points="575.5,337.2 576.4,338.2 577.3,338.8 578.2,337.6" fill="none" stroke="#00cc00" stroke-width="8.5" stroke-linejoin="round" stroke-linecap="round"/><polyline points="580.0,337.1 580.9,336.1 581.8,337.1 582.7,335.7" fill="none" stroke="#00cc00" stroke-width="8.5" stroke-linejoin="round" stroke-linecap="round"/><polyline points="597.1,342.2 598.0,343.7" fill="none" stroke="#00cc00" stroke-width="8.5" stroke-linejoin="round" stroke-linecap="round"/><polyline points="608.8,373.0 609.7,374.2" fill="none" stroke="#00cc00" stroke-width="8.5" stroke-linejoin="round" stroke-linecap="round"/><polyline points="619.6,248.6 620.5,247.1 621.4,246.4" fill="none" stroke="#00cc00" stroke-width="8.5" stroke-linejoin="round" stroke-linecap="round"/><polyline points="627.7,261.1 628.6,262.6 629.5,263.7" fill="none" stroke="#00cc00" stroke-width="8.5" stroke-linejoin="round" stroke-linecap="round"/><polyline points="630.4,266.3 631.3,267.1" fill="none" stroke="#00cc00" stroke-width="8.5" stroke-linejoin="round" stroke-linecap="round"/><polyline points="636.7,275.4 637.6,276.2 638.5,277.0" fill="none" stroke="#00cc00" stroke-width="8.5" stroke-linejoin="round" stroke-linecap="round"/><polyline points="640.3,276.9 641.2,277.9" fill="none" stroke="#00cc00" stroke-width="8.5" stroke-linejoin="round" stroke-linecap="round"/><polyline points="643.0,277.8 643.9,278.9" fill="none" stroke="#00cc00" stroke-width="8.5" stroke-linejoin="round" stroke-linecap="round"/><polyline points="649.3,280.0 650.2,280.8 651.1,280.0" fill="none" stroke="#00cc00" stroke-width="8.5" stroke-linejoin="round" stroke-linecap="round"/><polyline points="652.9,281.1 653.8,280.1" fill="none" stroke="#00cc00" stroke-width="8.5" stroke-linejoin="round" stroke-linecap="round"/><polyline points="655.6,280.2 656.5,281.0 657.4,281.8 658.3,280.6" fill="none" stroke="#00cc00" stroke-width="8.5" stroke-linejoin="round" stroke-linecap="round"/><polyline points="661.9,280.3 662.8,281.6" fill="none" stroke="#00cc00" stroke-width="8.5" stroke-linejoin="round" stroke-linecap="round"/><polyline points="664.6,281.0 665.5,280.3" fill="none" stroke="#00cc00" stroke-width="8.5" stroke-linejoin="round" stroke-linecap="round"/><polyline points="670.9,280.4 671.8,279.7" fill="none" stroke="#00cc00" stroke-width="8.5" stroke-linejoin="round" stroke-linecap="round"/><polyline points="679.0,279.3 679.9,278.3" fill="none" stroke="#00cc00" stroke-width="8.5" stroke-linejoin="round" stroke-linecap="round"/><polyline points="681.7,278.3 682.6,279.1" fill="none" stroke="#00cc00" stroke-width="8.5" stroke-linejoin="round" stroke-linecap="round"/><polyline points="684.4,278.9 685.3,278.1 686.2,278.9" fill="none" stroke="#00cc00" stroke-width="8.5" stroke-linejoin="round" stroke-linecap="round"/><polyline points="687.1,277.3 688.0,278.7 688.9,277.5 689.8,276.2" fill="none" stroke="#00cc00" stroke-width="8.5" stroke-linejoin="round" stroke-linecap="round"/><polyline points="690.7,278.8 691.6,278.1 692.5,276.7" fill="none" stroke="#00cc00" stroke-width="8.5" stroke-linejoin="round" stroke-linecap="round"/><polyline points="699.7,276.6 700.6,275.9 701.5,276.9" fill="none" stroke="#00cc00" stroke-width="8.5" stroke-linejoin="round" stroke-linecap="round"/><polyline points="706.0,275.7 706.9,274.4" fill="none" stroke="#00cc00" stroke-width="8.5" stroke-linejoin="round" stroke-linecap="round"/><polyline points="708.7,274.5 709.6,273.9" fill="none" stroke="#00cc00" stroke-width="8.5" stroke-linejoin="round" stroke-linecap="round"/><polyline points="718.6,273.4 719.5,274.1 720.4,273.0" fill="none" stroke="#00cc00" stroke-width="8.5" stroke-linejoin="round" stroke-linecap="round"/><polyline points="727.6,271.7 728.5,270.9" fill="none" stroke="#00cc00" stroke-width="8.5" stroke-linejoin="round" stroke-linecap="round"/><polyline points="730.3,270.2 731.2,271.5 732.1,270.7" fill="none" stroke="#00cc00" stroke-width="8.5" stroke-linejoin="round" stroke-linecap="round"/><polyline points="738.4,268.7 739.3,269.8" fill="none" stroke="#00cc00" stroke-width="8.5" stroke-linejoin="round" stroke-linecap="round"/><polyline points="742.9,269.1 743.8,268.0" fill="none" stroke="#00cc00" stroke-width="8.5" stroke-linejoin="round" stroke-linecap="round"/><polyline points="751.0,266.2 751.9,267.7" fill="none" stroke="#00cc00" stroke-width="8.5" stroke-linejoin="round" stroke-linecap="round"/><polyline points="753.7,266.7 754.6,265.9" fill="none" stroke="#00cc00" stroke-width="8.5" stroke-linejoin="round" stroke-linecap="round"/><polyline points="758.2,264.5 759.1,265.5 760.0,266.4" fill="none" stroke="#00cc00" stroke-width="8.5" stroke-linejoin="round" stroke-linecap="round"/><polyline points="760.9,263.8 761.8,265.0" fill="none" stroke="#00cc00" stroke-width="8.5" stroke-linejoin="round" stroke-linecap="round"/><polyline points="767.2,264.1 768.1,263.0" fill="none" stroke="#00cc00" stroke-width="8.5" stroke-linejoin="round" stroke-linecap="round"/><polyline points="771.7,263.2 772.6,261.8 773.5,262.5 774.4,261.2 775.3,262.1" fill="none" stroke="#00cc00" stroke-width="8.5" stroke-linejoin="round" stroke-linecap="round"/><polyline points="777.1,260.1 778.0,261.2 778.9,260.5" fill="none" stroke="#00cc00" stroke-width="8.5" stroke-linejoin="round" stroke-linecap="round"/><polyline points="780.7,261.6 781.6,260.1" fill="none" stroke="#00cc00" stroke-width="8.5" stroke-linejoin="round" stroke-linecap="round"/><polyline points="783.4,261.1 784.3,260.3" fill="none" stroke="#00cc00" stroke-width="8.5" stroke-linejoin="round" stroke-linecap="round"/><polyline points="786.1,260.1 787.0,259.4" fill="none" stroke="#00cc00" stroke-width="8.5" stroke-linejoin="round" stroke-linecap="round"/><polyline points="794.2,259.7 795.1,258.6 796.0,257.9" fill="none" stroke="#00cc00" stroke-width="8.5" stroke-linejoin="round" stroke-linecap="round"/><polyline points="801.4,257.7 802.3,256.7" fill="none" stroke="#00cc00" stroke-width="8.5" stroke-linejoin="round" stroke-linecap="round"/><polyline points="804.1,257.7 805.0,256.9" fill="none" stroke="#00cc00" stroke-width="8.5" stroke-linejoin="round" stroke-linecap="round"/><polyline points="808.6,256.7 809.5,257.7 810.4,256.8 811.3,256.2" fill="none" stroke="#00cc00" stroke-width="8.5" stroke-linejoin="round" stroke-linecap="round"/><polyline points="813.1,256.3 814.0,255.6" fill="none" stroke="#00cc00" stroke-width="8.5" stroke-linejoin="round" stroke-linecap="round"/><polyline points="815.8,255.7 816.7,254.7 817.6,255.5" fill="none" stroke="#00cc00" stroke-width="8.5" stroke-linejoin="round" stroke-linecap="round"/><polyline points="819.4,255.1 820.3,254.4" fill="none" stroke="#00cc00" stroke-width="8.5" stroke-linejoin="round" stroke-linecap="round"/><polyline points="823.9,254.2 824.8,255.1 825.7,254.0" fill="none" stroke="#00cc00" stroke-width="8.5" stroke-linejoin="round" stroke-linecap="round"/><polyline points="827.5,255.1 828.4,254.0" fill="none" stroke="#00cc00" stroke-width="8.5" stroke-linejoin="round" stroke-linecap="round"/><polyline points="830.2,254.7 831.1,253.9" fill="none" stroke="#00cc00" stroke-width="8.5" stroke-linejoin="round" stroke-linecap="round"/><polyline points="840.1,253.5 841.0,252.8" fill="none" stroke="#00cc00" stroke-width="8.5" stroke-linejoin="round" stroke-linecap="round"/><polyline points="112.0,279.6 112.9,278.9 113.8,280.5 114.7,279.8 116.5,279.0 117.4,279.8 119.2,279.8 121.0,280.0 121.9,280.6 123.7,280.5 125.5,282.0 126.4,280.3 128.2,280.5 129.1,281.4 130.0,280.5 131.8,281.2 133.6,280.9 135.4,280.5 137.2,281.6 139.0,281.8 139.9,281.1 140.8,281.9 141.7,282.6 143.5,282.3 145.3,282.9 147.1,282.1 148.9,283.6 150.7,283.7 151.6,282.9 152.5,283.7 153.4,283.0 155.2,284.8 156.1,284.0 157.9,283.8 159.7,284.6 160.6,283.8 162.4,284.1 164.2,284.5 165.1,285.2 166.9,285.2 167.8,284.3 168.7,285.4 169.6,286.1 171.4,285.4 173.2,286.3 174.1,285.1 175.9,285.9 177.7,285.7 179.5,286.0 181.3,286.2 183.1,286.5 184.9,286.2 186.7,287.2 187.6,286.4 188.5,287.2 190.3,287.8 191.2,288.5 193.0,287.5 194.8,287.8 196.6,288.7 197.5,287.4 198.4,288.7 200.2,289.1 202.0,288.2 203.8,289.2 205.6,289.2 207.4,288.1 208.3,289.8 210.1,289.6 211.9,290.2 212.8,289.6 214.6,290.0 215.5,290.8 216.4,289.6 217.3,291.0 218.2,290.2 220.0,291.4 221.8,290.3 223.6,291.7 225.4,291.2 227.2,292.0 229.0,292.1 230.8,291.9 232.6,292.4 234.4,292.4 236.2,293.5 238.0,293.6 239.8,293.7 240.7,294.7 241.6,293.3 242.5,294.3 244.3,295.1 246.1,293.4 247.0,294.1 247.9,295.0 249.7,295.4 251.5,295.6 253.3,295.6 254.2,296.3 255.1,294.8 256.0,296.5 256.9,295.8 257.8,297.0 259.6,296.4 260.5,297.2 262.3,296.9 264.1,297.7 265.9,298.6 267.7,299.0 269.5,298.9 271.3,299.8 273.1,299.6 274.9,300.2 276.7,301.0 278.5,301.2 280.3,301.5 282.1,301.6 283.0,303.0 284.8,303.3 286.6,302.5 288.4,303.5 290.2,303.7 292.0,303.2 292.9,304.3 293.8,303.5 294.7,305.0 296.5,304.9 298.3,305.8 299.2,305.2 301.0,305.8 302.8,306.3 303.7,307.8 304.6,306.6 305.5,307.7 306.4,306.9 307.3,308.0 309.1,308.2 310.9,309.6 312.7,309.2 314.5,309.9 316.3,310.5 318.1,311.4 319.0,309.7 319.9,310.8 320.8,311.6 322.6,311.3 324.4,311.4 325.3,312.4 326.2,313.8 328.0,312.5 329.8,313.3 330.7,314.3 331.6,313.6 333.4,315.0 335.2,314.8 337.0,314.7 337.9,315.4 339.7,316.7 341.5,317.0 342.4,318.0 344.2,317.0 345.1,318.3 346.9,318.0 348.7,318.9 350.5,320.2 351.4,318.6 352.3,319.5 353.2,320.2 355.0,321.0 356.8,321.4 357.7,322.3 358.6,321.0 359.5,322.3 361.3,323.0 363.1,323.1 364.9,324.5 366.7,324.4 367.6,326.1 369.4,324.9 370.3,326.1 371.2,327.6 373.0,327.1 374.8,327.3 376.6,328.0 377.5,329.0 379.3,329.1 381.1,329.9 382.9,330.6 383.8,331.5 385.6,332.0 387.4,332.5 389.2,333.0 390.1,334.0 391.9,335.0 393.7,334.7 395.5,335.5 396.4,336.4 398.2,337.7 400.0,336.8 400.9,337.9 402.7,339.1 403.6,340.1 405.4,339.7 406.3,340.5 407.2,342.2 409.0,342.2 409.9,343.1 410.8,344.3 412.6,344.0 414.4,345.2 416.2,345.3 417.1,346.4 418.9,347.3 420.7,349.6 421.6,348.5 422.5,349.4 424.3,350.8 425.2,351.6 427.0,351.9 428.8,353.0 429.7,354.3 431.5,354.8 432.4,355.8 433.3,356.6 434.2,357.5 436.0,358.5 437.8,359.5 438.7,361.7 439.6,360.6 440.5,362.3 441.4,363.4 443.2,364.6 444.1,365.9 445.0,366.8 445.9,367.7 447.7,369.6 448.6,370.2 449.5,371.4 450.4,372.8 451.3,374.1 452.2,375.3 454.0,377.5 454.9,378.7 455.8,379.8 456.7,381.1 458.5,382.7 459.4,384.4 461.2,386.5 462.1,387.4 463.0,388.8 463.9,389.4 464.8,391.2 465.7,393.0 466.6,394.9 467.5,396.5 468.4,397.5 469.3,399.0 470.2,400.3 471.1,402.5 472.0,403.8 472.9,406.0 473.8,408.3 474.7,409.1 475.6,410.2 476.5,412.4 477.4,413.9 478.3,415.9 479.2,419.1 480.1,420.5 481.0,421.7 481.9,424.9 482.8,427.5 483.7,429.0 484.6,431.2 485.5,433.7 486.4,436.5 487.3,437.2 488.2,434.3 489.1,431.2 490.0,428.1 490.9,425.2 491.8,421.9 492.7,418.0 493.6,416.1 494.5,413.8 495.4,411.1 496.3,409.5 497.2,406.9 498.1,404.8 499.9,402.2 500.8,400.3 501.7,399.1 502.6,397.7 503.5,395.9 504.4,393.1 506.2,391.5 507.1,390.0 508.0,389.4 508.9,388.7 509.8,386.6 510.7,385.2 512.5,383.3 513.4,381.7 515.2,380.4 516.1,378.7 517.9,376.6 518.8,375.2 520.6,373.9 521.5,372.1 523.3,370.3 525.1,367.9 526.9,366.2 527.8,365.1 529.6,363.7 530.5,363.0 531.4,361.6 532.3,360.2 533.2,359.4 535.0,358.3 536.8,356.7 538.6,355.8 539.5,354.4 540.4,352.9 542.2,351.8 543.1,352.7 544.0,351.0 545.8,350.6 547.6,349.8 548.5,348.7 550.3,347.9 552.1,346.7 553.9,346.9 554.8,344.8 556.6,344.4 558.4,344.5 559.3,343.6 561.1,342.2 562.0,343.2 562.9,342.0 564.7,341.7 565.6,340.0 567.4,340.8 569.2,340.3 571.0,338.8 571.9,339.9 573.7,338.6 575.5,337.2 576.4,338.2 577.3,338.8 578.2,337.6 580.0,337.1 580.9,336.1 581.8,337.1 582.7,335.7 584.5,336.3 586.3,336.3 588.1,336.0 589.9,337.1 591.7,337.3 593.5,338.9 595.3,339.8 597.1,342.2 598.0,343.7 598.9,346.2 600.7,349.3 601.6,352.5 602.5,354.4 603.4,356.7 604.3,360.2 605.2,362.0 606.1,364.5 607.0,367.2 607.9,370.7 608.8,373.0 609.7,374.2 610.6,369.5 611.5,354.1 612.4,341.4 613.3,329.6 614.2,313.4 615.1,301.5 616.0,286.7 616.9,272.9 617.8,261.8 618.7,254.1 619.6,248.6 620.5,247.1 621.4,246.4 622.3,248.2 624.1,252.5 625.9,256.6 626.8,259.1 627.7,261.1 628.6,262.6 629.5,263.7 630.4,266.3 631.3,267.1 633.1,271.8 634.9,273.7 636.7,275.4 637.6,276.2 638.5,277.0 640.3,276.9 641.2,277.9 643.0,277.8 643.9,278.9 645.7,279.2 647.5,280.7 649.3,280.0 650.2,280.8 651.1,280.0 652.9,281.1 653.8,280.1 655.6,280.2 656.5,281.0 657.4,281.8 658.3,280.6 660.1,280.5 661.9,280.3 662.8,281.6 664.6,281.0 665.5,280.3 667.3,280.4 669.1,280.5 670.9,280.4 671.8,279.7 673.6,278.9 675.4,278.9 677.2,278.9 679.0,279.3 679.9,278.3 681.7,278.3 682.6,279.1 684.4,278.9 685.3,278.1 686.2,278.9 687.1,277.3 688.0,278.7 688.9,277.5 689.8,276.2 690.7,278.8 691.6,278.1 692.5,276.7 694.3,276.8 696.1,275.9 697.9,276.6 699.7,276.6 700.6,275.9 701.5,276.9 702.4,275.3 704.2,274.4 706.0,275.7 706.9,274.4 708.7,274.5 709.6,273.9 711.4,273.9 713.2,274.2 715.0,273.2 716.8,273.3 718.6,273.4 719.5,274.1 720.4,273.0 722.2,272.2 724.0,271.5 725.8,271.4 727.6,271.7 728.5,270.9 730.3,270.2 731.2,271.5 732.1,270.7 733.9,270.6 735.7,269.7 737.5,270.9 738.4,268.7 739.3,269.8 741.1,269.0 742.9,269.1 743.8,268.0 745.6,267.5 747.4,267.3 749.2,267.3 751.0,266.2 751.9,267.7 753.7,266.7 754.6,265.9 756.4,266.0 758.2,264.5 759.1,265.5 760.0,266.4 760.9,263.8 761.8,265.0 763.6,264.1 765.4,263.1 767.2,264.1 768.1,263.0 769.9,262.8 771.7,263.2 772.6,261.8 773.5,262.5 774.4,261.2 775.3,262.1 777.1,260.1 778.0,261.2 778.9,260.5 780.7,261.6 781.6,260.1 783.4,261.1 784.3,260.3 786.1,260.1 787.0,259.4 788.8,260.2 790.6,259.3 792.4,258.9 794.2,259.7 795.1,258.6 796.0,257.9 797.8,258.6 799.6,257.9 801.4,257.7 802.3,256.7 804.1,257.7 805.0,256.9 806.8,257.6 808.6,256.7 809.5,257.7 810.4,256.8 811.3,256.2 813.1,256.3 814.0,255.6 815.8,255.7 816.7,254.7 817.6,255.5 819.4,255.1 820.3,254.4 822.1,255.0 823.9,254.2 824.8,255.1 825.7,254.0 827.5,255.1 828.4,254.0 830.2,254.7 831.1,253.9 832.9,254.0 834.7,252.6 836.5,253.1 838.3,253.0 840.1,253.5 841.0,252.8 842.8,253.3" fill="none" stroke="none" marker-start="url(#mg)" marker-mid="url(#mg)" marker-end="url(#mg)"/>
<path d="M112.0 269.7L152.5 274.0 197.0 279.6 230.8 284.6 246.8 287.4 257.8 289.6 275.2 293.6 300.0 299.9 317.5 304.5 334.2 309.3 349.8 313.9 375.2 322.1 386.8 326.2 397.0 330.4 404.8 334.0 412.2 337.9 419.5 342.3 426.5 347.0 433.2 352.1 438.8 356.7 444.0 361.7 449.5 367.7 454.5 373.8 459.5 380.5 463.2 385.9 466.8 391.8 472.0 401.7 479.8 417.8 487.0 434.4 493.5 418.2 496.3 412.4 499.0 407.3 503.0 400.6 507.0 394.5 511.5 388.3 516.5 382.0 522.8 374.4 527.8 368.8 532.3 364.1 536.6 360.2 540.6 357.2 545.6 354.0 551.4 350.8 557.1 348.1 561.9 346.1 566.4 344.6 575.1 342.1 580.2 341.0 583.7 340.6 586.7 340.6 588.7 341.1 590.9 342.2 593.9 344.5 597.2 347.4 598.9 349.8 600.9 353.4 603.7 359.6 605.2 363.7 607.2 370.4 609.7 380.4 621.5 252.0 625.5 261.8 627.8 267.9 629.0 270.4 630.8 273.2 632.5 275.6 638.2 282.2 640.0 283.7 641.8 284.8 644.8 286.4 647.8 287.6 650.2 288.4 654.2 289.2 660.8 290.1 666.5 290.1 674.2 289.5 734.5 282.6 748.8 280.7 774.8 276.3 791.0 274.0 818.8 270.6 843.0 268.3" fill="none" stroke="#cc0000" stroke-width="3.9" stroke-linejoin="round" stroke-linecap="butt"/>
<polyline points="117.4,478.3 118.3,479.0" fill="none" stroke="#575757" stroke-width="8.5" stroke-linejoin="round" stroke-linecap="round"/><polyline points="121.9,479.9 122.8,479.1" fill="none" stroke="#575757" stroke-width="8.5" stroke-linejoin="round" stroke-linecap="round"/><polyline points="126.4,479.6 127.3,481.0 128.2,479.9" fill="none" stroke="#575757" stroke-width="8.5" stroke-linejoin="round" stroke-linecap="round"/><polyline points="133.6,481.8 134.5,480.9 135.4,481.7" fill="none" stroke="#575757" stroke-width="8.5" stroke-linejoin="round" stroke-linecap="round"/><polyline points="137.2,481.5 138.1,480.6 139.0,481.3" fill="none" stroke="#575757" stroke-width="8.5" stroke-linejoin="round" stroke-linecap="round"/><polyline points="140.8,481.5 141.7,480.7" fill="none" stroke="#575757" stroke-width="8.5" stroke-linejoin="round" stroke-linecap="round"/><polyline points="155.2,484.1 156.1,483.1 157.0,484.5" fill="none" stroke="#575757" stroke-width="8.5" stroke-linejoin="round" stroke-linecap="round"/><polyline points="158.8,483.7 159.7,484.4 160.6,483.4" fill="none" stroke="#575757" stroke-width="8.5" stroke-linejoin="round" stroke-linecap="round"/><polyline points="166.0,484.9 166.9,483.9 167.8,485.4 168.7,484.5" fill="none" stroke="#575757" stroke-width="8.5" stroke-linejoin="round" stroke-linecap="round"/><polyline points="175.9,486.5 176.8,485.8" fill="none" stroke="#575757" stroke-width="8.5" stroke-linejoin="round" stroke-linecap="round"/><polyline points="178.6,486.1 179.5,486.9 180.4,485.8" fill="none" stroke="#575757" stroke-width="8.5" stroke-linejoin="round" stroke-linecap="round"/><polyline points="181.3,487.5 182.2,486.8" fill="none" stroke="#575757" stroke-width="8.5" stroke-linejoin="round" stroke-linecap="round"/><polyline points="187.6,487.8 188.5,488.5" fill="none" stroke="#575757" stroke-width="8.5" stroke-linejoin="round" stroke-linecap="round"/><polyline points="190.3,488.1 191.2,489.0" fill="none" stroke="#575757" stroke-width="8.5" stroke-linejoin="round" stroke-linecap="round"/><polyline points="194.8,488.6 195.7,489.3 196.6,488.4 197.5,489.5" fill="none" stroke="#575757" stroke-width="8.5" stroke-linejoin="round" stroke-linecap="round"/><polyline points="199.3,489.5 200.2,488.4 201.1,489.6" fill="none" stroke="#575757" stroke-width="8.5" stroke-linejoin="round" stroke-linecap="round"/><polyline points="207.4,491.0 208.3,489.7 209.2,491.1" fill="none" stroke="#575757" stroke-width="8.5" stroke-linejoin="round" stroke-linecap="round"/><polyline points="211.0,491.4 211.9,490.7" fill="none" stroke="#575757" stroke-width="8.5" stroke-linejoin="round" stroke-linecap="round"/><polyline points="213.7,492.5 214.6,491.1" fill="none" stroke="#575757" stroke-width="8.5" stroke-linejoin="round" stroke-linecap="round"/><polyline points="229.0,494.1 229.9,493.4" fill="none" stroke="#575757" stroke-width="8.5" stroke-linejoin="round" stroke-linecap="round"/><polyline points="230.8,495.0 231.7,494.0" fill="none" stroke="#575757" stroke-width="8.5" stroke-linejoin="round" stroke-linecap="round"/><polyline points="235.3,494.7 236.2,494.0 237.1,494.9 238.0,495.6 238.9,494.8" fill="none" stroke="#575757" stroke-width="8.5" stroke-linejoin="round" stroke-linecap="round"/><polyline points="244.3,495.4 245.2,496.1" fill="none" stroke="#575757" stroke-width="8.5" stroke-linejoin="round" stroke-linecap="round"/><polyline points="248.8,495.7 249.7,496.8" fill="none" stroke="#575757" stroke-width="8.5" stroke-linejoin="round" stroke-linecap="round"/><polyline points="255.1,497.9 256.0,497.0" fill="none" stroke="#575757" stroke-width="8.5" stroke-linejoin="round" stroke-linecap="round"/><polyline points="257.8,498.4 258.7,497.6" fill="none" stroke="#575757" stroke-width="8.5" stroke-linejoin="round" stroke-linecap="round"/><polyline points="264.1,499.0 265.0,497.8" fill="none" stroke="#575757" stroke-width="8.5" stroke-linejoin="round" stroke-linecap="round"/><polyline points="265.9,499.5 266.8,498.7" fill="none" stroke="#575757" stroke-width="8.5" stroke-linejoin="round" stroke-linecap="round"/><polyline points="271.3,500.9 272.2,499.7 273.1,500.4" fill="none" stroke="#575757" stroke-width="8.5" stroke-linejoin="round" stroke-linecap="round"/><polyline points="274.9,501.3 275.8,500.5 276.7,501.4 277.6,500.6 278.5,501.7 279.4,500.9" fill="none" stroke="#575757" stroke-width="8.5" stroke-linejoin="round" stroke-linecap="round"/><polyline points="281.2,502.5 282.1,501.9" fill="none" stroke="#575757" stroke-width="8.5" stroke-linejoin="round" stroke-linecap="round"/><polyline points="283.9,503.2 284.8,502.4" fill="none" stroke="#575757" stroke-width="8.5" stroke-linejoin="round" stroke-linecap="round"/><polyline points="286.6,502.9 287.5,502.1 288.4,503.4" fill="none" stroke="#575757" stroke-width="8.5" stroke-linejoin="round" stroke-linecap="round"/><polyline points="293.8,503.3 294.7,504.2 295.6,503.1 296.5,504.0" fill="none" stroke="#575757" stroke-width="8.5" stroke-linejoin="round" stroke-linecap="round"/><polyline points="300.1,504.3 301.0,505.4" fill="none" stroke="#575757" stroke-width="8.5" stroke-linejoin="round" stroke-linecap="round"/><polyline points="304.6,505.1 305.5,506.1" fill="none" stroke="#575757" stroke-width="8.5" stroke-linejoin="round" stroke-linecap="round"/><polyline points="307.3,506.3 308.2,506.9" fill="none" stroke="#575757" stroke-width="8.5" stroke-linejoin="round" stroke-linecap="round"/><polyline points="310.0,507.5 310.9,506.8" fill="none" stroke="#575757" stroke-width="8.5" stroke-linejoin="round" stroke-linecap="round"/><polyline points="323.5,509.2 324.4,510.5 325.3,509.8 326.2,510.5" fill="none" stroke="#575757" stroke-width="8.5" stroke-linejoin="round" stroke-linecap="round"/><polyline points="328.0,510.3 328.9,511.6 329.8,510.6" fill="none" stroke="#575757" stroke-width="8.5" stroke-linejoin="round" stroke-linecap="round"/><polyline points="333.4,512.6 334.3,511.9" fill="none" stroke="#575757" stroke-width="8.5" stroke-linejoin="round" stroke-linecap="round"/><polyline points="336.1,511.7 337.0,512.5" fill="none" stroke="#575757" stroke-width="8.5" stroke-linejoin="round" stroke-linecap="round"/><polyline points="338.8,513.7 339.7,512.6 340.6,513.5" fill="none" stroke="#575757" stroke-width="8.5" stroke-linejoin="round" stroke-linecap="round"/><polyline points="342.4,513.1 343.3,513.8" fill="none" stroke="#575757" stroke-width="8.5" stroke-linejoin="round" stroke-linecap="round"/><polyline points="353.2,516.0 354.1,516.9" fill="none" stroke="#575757" stroke-width="8.5" stroke-linejoin="round" stroke-linecap="round"/><polyline points="357.7,517.5 358.6,518.2" fill="none" stroke="#575757" stroke-width="8.5" stroke-linejoin="round" stroke-linecap="round"/><polyline points="372.1,522.5 373.0,521.9" fill="none" stroke="#575757" stroke-width="8.5" stroke-linejoin="round" stroke-linecap="round"/><polyline points="378.4,524.4 379.3,523.2 380.2,524.2" fill="none" stroke="#575757" stroke-width="8.5" stroke-linejoin="round" stroke-linecap="round"/><polyline points="382.0,525.3 382.9,524.6" fill="none" stroke="#575757" stroke-width="8.5" stroke-linejoin="round" stroke-linecap="round"/><polyline points="386.5,525.3 387.4,526.0" fill="none" stroke="#575757" stroke-width="8.5" stroke-linejoin="round" stroke-linecap="round"/><polyline points="394.6,529.1 395.5,530.0 396.4,528.6 397.3,529.8" fill="none" stroke="#575757" stroke-width="8.5" stroke-linejoin="round" stroke-linecap="round"/><polyline points="409.9,533.8 410.8,534.6" fill="none" stroke="#575757" stroke-width="8.5" stroke-linejoin="round" stroke-linecap="round"/><polyline points="419.8,535.7 420.7,536.7" fill="none" stroke="#575757" stroke-width="8.5" stroke-linejoin="round" stroke-linecap="round"/><polyline points="422.5,536.5 423.4,537.8" fill="none" stroke="#575757" stroke-width="8.5" stroke-linejoin="round" stroke-linecap="round"/><polyline points="432.4,538.9 433.3,539.5" fill="none" stroke="#575757" stroke-width="8.5" stroke-linejoin="round" stroke-linecap="round"/><polyline points="435.1,539.8 436.0,540.5" fill="none" stroke="#575757" stroke-width="8.5" stroke-linejoin="round" stroke-linecap="round"/><polyline points="441.4,538.5 442.3,539.5" fill="none" stroke="#575757" stroke-width="8.5" stroke-linejoin="round" stroke-linecap="round"/><polyline points="443.2,537.8 444.1,536.3" fill="none" stroke="#575757" stroke-width="8.5" stroke-linejoin="round" stroke-linecap="round"/><polyline points="445.9,536.6 446.8,535.3" fill="none" stroke="#575757" stroke-width="8.5" stroke-linejoin="round" stroke-linecap="round"/><polyline points="450.4,532.3 451.3,530.8" fill="none" stroke="#575757" stroke-width="8.5" stroke-linejoin="round" stroke-linecap="round"/><polyline points="474.7,455.2 475.6,453.8" fill="none" stroke="#575757" stroke-width="8.5" stroke-linejoin="round" stroke-linecap="round"/><polyline points="494.5,520.5 495.4,522.0 496.3,523.5" fill="none" stroke="#575757" stroke-width="8.5" stroke-linejoin="round" stroke-linecap="round"/><polyline points="502.6,531.2 503.5,532.7 504.4,534.0" fill="none" stroke="#575757" stroke-width="8.5" stroke-linejoin="round" stroke-linecap="round"/><polyline points="509.8,534.8 510.7,534.0 511.6,535.0" fill="none" stroke="#575757" stroke-width="8.5" stroke-linejoin="round" stroke-linecap="round"/><polyline points="517.0,534.5 517.9,535.9" fill="none" stroke="#575757" stroke-width="8.5" stroke-linejoin="round" stroke-linecap="round"/><polyline points="519.7,534.6 520.6,533.9 521.5,534.7" fill="none" stroke="#575757" stroke-width="8.5" stroke-linejoin="round" stroke-linecap="round"/><polyline points="525.1,533.0 526.0,532.2" fill="none" stroke="#575757" stroke-width="8.5" stroke-linejoin="round" stroke-linecap="round"/><polyline points="529.6,529.6 530.5,530.8" fill="none" stroke="#575757" stroke-width="8.5" stroke-linejoin="round" stroke-linecap="round"/><polyline points="531.4,529.0 532.3,527.8" fill="none" stroke="#575757" stroke-width="8.5" stroke-linejoin="round" stroke-linecap="round"/><polyline points="541.3,524.1 542.2,523.3" fill="none" stroke="#575757" stroke-width="8.5" stroke-linejoin="round" stroke-linecap="round"/><polyline points="544.0,522.5 544.9,521.6 545.8,522.3" fill="none" stroke="#575757" stroke-width="8.5" stroke-linejoin="round" stroke-linecap="round"/><polyline points="546.7,520.6 547.6,521.6" fill="none" stroke="#575757" stroke-width="8.5" stroke-linejoin="round" stroke-linecap="round"/><polyline points="554.8,519.3 555.7,518.3" fill="none" stroke="#575757" stroke-width="8.5" stroke-linejoin="round" stroke-linecap="round"/><polyline points="557.5,517.3 558.4,518.2" fill="none" stroke="#575757" stroke-width="8.5" stroke-linejoin="round" stroke-linecap="round"/><polyline points="562.9,514.9 563.8,516.0 564.7,515.0 565.6,515.9" fill="none" stroke="#575757" stroke-width="8.5" stroke-linejoin="round" stroke-linecap="round"/><polyline points="572.8,512.3 573.7,513.3" fill="none" stroke="#575757" stroke-width="8.5" stroke-linejoin="round" stroke-linecap="round"/><polyline points="581.8,510.1 582.7,508.6" fill="none" stroke="#575757" stroke-width="8.5" stroke-linejoin="round" stroke-linecap="round"/><polyline points="591.7,505.0 592.6,506.2 593.5,505.1" fill="none" stroke="#575757" stroke-width="8.5" stroke-linejoin="round" stroke-linecap="round"/><polyline points="595.3,504.1 596.2,503.4" fill="none" stroke="#575757" stroke-width="8.5" stroke-linejoin="round" stroke-linecap="round"/><polyline points="599.8,502.3 600.7,503.5 601.6,502.6" fill="none" stroke="#575757" stroke-width="8.5" stroke-linejoin="round" stroke-linecap="round"/><polyline points="612.4,499.8 613.3,498.9 614.2,498.2 615.1,497.2" fill="none" stroke="#575757" stroke-width="8.5" stroke-linejoin="round" stroke-linecap="round"/><polyline points="616.9,496.7 617.8,497.6 618.7,496.6" fill="none" stroke="#575757" stroke-width="8.5" stroke-linejoin="round" stroke-linecap="round"/><polyline points="622.3,496.5 623.2,495.2" fill="none" stroke="#575757" stroke-width="8.5" stroke-linejoin="round" stroke-linecap="round"/><polyline points="630.4,493.6 631.3,494.4" fill="none" stroke="#575757" stroke-width="8.5" stroke-linejoin="round" stroke-linecap="round"/><polyline points="632.2,492.4 633.1,493.1" fill="none" stroke="#575757" stroke-width="8.5" stroke-linejoin="round" stroke-linecap="round"/><polyline points="639.4,489.8 640.3,490.7" fill="none" stroke="#575757" stroke-width="8.5" stroke-linejoin="round" stroke-linecap="round"/><polyline points="647.5,487.4 648.4,488.9" fill="none" stroke="#575757" stroke-width="8.5" stroke-linejoin="round" stroke-linecap="round"/><polyline points="655.6,486.7 656.5,485.5" fill="none" stroke="#575757" stroke-width="8.5" stroke-linejoin="round" stroke-linecap="round"/><polyline points="660.1,485.0 661.0,484.3" fill="none" stroke="#575757" stroke-width="8.5" stroke-linejoin="round" stroke-linecap="round"/><polyline points="665.5,483.1 666.4,483.9" fill="none" stroke="#575757" stroke-width="8.5" stroke-linejoin="round" stroke-linecap="round"/><polyline points="668.2,483.0 669.1,482.2" fill="none" stroke="#575757" stroke-width="8.5" stroke-linejoin="round" stroke-linecap="round"/><polyline points="670.9,482.6 671.8,481.4 672.7,482.3" fill="none" stroke="#575757" stroke-width="8.5" stroke-linejoin="round" stroke-linecap="round"/><polyline points="678.1,479.7 679.0,480.6 679.9,479.6" fill="none" stroke="#575757" stroke-width="8.5" stroke-linejoin="round" stroke-linecap="round"/><polyline points="685.3,478.0 686.2,478.9" fill="none" stroke="#575757" stroke-width="8.5" stroke-linejoin="round" stroke-linecap="round"/><polyline points="691.6,477.1 692.5,476.2" fill="none" stroke="#575757" stroke-width="8.5" stroke-linejoin="round" stroke-linecap="round"/><polyline points="715.0,471.2 715.9,472.2" fill="none" stroke="#575757" stroke-width="8.5" stroke-linejoin="round" stroke-linecap="round"/><polyline points="719.5,470.5 720.4,471.2 721.3,470.3" fill="none" stroke="#575757" stroke-width="8.5" stroke-linejoin="round" stroke-linecap="round"/><polyline points="729.4,468.9 730.3,467.7 731.2,468.6" fill="none" stroke="#575757" stroke-width="8.5" stroke-linejoin="round" stroke-linecap="round"/><polyline points="738.4,466.7 739.3,467.5 740.2,466.8" fill="none" stroke="#575757" stroke-width="8.5" stroke-linejoin="round" stroke-linecap="round"/><polyline points="749.2,466.0 750.1,464.9" fill="none" stroke="#575757" stroke-width="8.5" stroke-linejoin="round" stroke-linecap="round"/><polyline points="755.5,465.3 756.4,464.2" fill="none" stroke="#575757" stroke-width="8.5" stroke-linejoin="round" stroke-linecap="round"/><polyline points="758.2,463.7 759.1,462.9" fill="none" stroke="#575757" stroke-width="8.5" stroke-linejoin="round" stroke-linecap="round"/><polyline points="766.3,461.8 767.2,462.9" fill="none" stroke="#575757" stroke-width="8.5" stroke-linejoin="round" stroke-linecap="round"/><polyline points="769.0,463.6 769.9,462.5 770.8,461.6" fill="none" stroke="#575757" stroke-width="8.5" stroke-linejoin="round" stroke-linecap="round"/><polyline points="772.6,459.9 773.5,461.2" fill="none" stroke="#575757" stroke-width="8.5" stroke-linejoin="round" stroke-linecap="round"/><polyline points="782.5,459.6 783.4,461.0" fill="none" stroke="#575757" stroke-width="8.5" stroke-linejoin="round" stroke-linecap="round"/><polyline points="785.2,460.4 786.1,459.3" fill="none" stroke="#575757" stroke-width="8.5" stroke-linejoin="round" stroke-linecap="round"/><polyline points="796.9,458.8 797.8,458.2" fill="none" stroke="#575757" stroke-width="8.5" stroke-linejoin="round" stroke-linecap="round"/><polyline points="799.6,457.9 800.5,457.2 801.4,458.3 802.3,457.2 803.2,457.9" fill="none" stroke="#575757" stroke-width="8.5" stroke-linejoin="round" stroke-linecap="round"/><polyline points="808.6,456.2 809.5,457.1" fill="none" stroke="#575757" stroke-width="8.5" stroke-linejoin="round" stroke-linecap="round"/><polyline points="813.1,456.4 814.0,455.7" fill="none" stroke="#575757" stroke-width="8.5" stroke-linejoin="round" stroke-linecap="round"/><polyline points="823.0,455.1 823.9,456.0 824.8,454.5" fill="none" stroke="#575757" stroke-width="8.5" stroke-linejoin="round" stroke-linecap="round"/><polyline points="827.5,453.0 828.4,454.2" fill="none" stroke="#575757" stroke-width="8.5" stroke-linejoin="round" stroke-linecap="round"/><polyline points="830.2,454.6 831.1,453.7" fill="none" stroke="#575757" stroke-width="8.5" stroke-linejoin="round" stroke-linecap="round"/><polyline points="112.0,477.7 113.8,479.2 115.6,478.2 117.4,478.3 118.3,479.0 120.1,478.7 121.9,479.9 122.8,479.1 124.6,479.1 126.4,479.6 127.3,481.0 128.2,479.9 130.0,480.0 131.8,480.8 133.6,481.8 134.5,480.9 135.4,481.7 137.2,481.5 138.1,480.6 139.0,481.3 140.8,481.5 141.7,480.7 142.6,482.3 144.4,481.9 146.2,482.2 148.0,481.9 149.8,482.9 151.6,482.8 153.4,482.8 155.2,484.1 156.1,483.1 157.0,484.5 158.8,483.7 159.7,484.4 160.6,483.4 162.4,483.8 164.2,484.5 166.0,484.9 166.9,483.9 167.8,485.4 168.7,484.5 170.5,485.3 172.3,485.0 174.1,485.9 175.9,486.5 176.8,485.8 178.6,486.1 179.5,486.9 180.4,485.8 181.3,487.5 182.2,486.8 184.0,487.5 185.8,487.7 187.6,487.8 188.5,488.5 190.3,488.1 191.2,489.0 193.0,488.6 194.8,488.6 195.7,489.3 196.6,488.4 197.5,489.5 199.3,489.5 200.2,488.4 201.1,489.6 202.9,489.5 204.7,489.0 205.6,490.6 207.4,491.0 208.3,489.7 209.2,491.1 211.0,491.4 211.9,490.7 213.7,492.5 214.6,491.1 216.4,491.6 218.2,492.6 220.0,491.9 221.8,493.1 223.6,493.2 225.4,492.6 227.2,492.6 229.0,494.1 229.9,493.4 230.8,495.0 231.7,494.0 233.5,494.6 235.3,494.7 236.2,494.0 237.1,494.9 238.0,495.6 238.9,494.8 240.7,495.8 242.5,495.0 244.3,495.4 245.2,496.1 247.0,496.8 248.8,495.7 249.7,496.8 251.5,497.1 253.3,496.9 255.1,497.9 256.0,497.0 257.8,498.4 258.7,497.6 260.5,497.6 262.3,498.0 264.1,499.0 265.0,497.8 265.9,499.5 266.8,498.7 268.6,499.9 270.4,499.1 271.3,500.9 272.2,499.7 273.1,500.4 274.9,501.3 275.8,500.5 276.7,501.4 277.6,500.6 278.5,501.7 279.4,500.9 281.2,502.5 282.1,501.9 283.9,503.2 284.8,502.4 286.6,502.9 287.5,502.1 288.4,503.4 290.2,502.8 292.0,503.5 293.8,503.3 294.7,504.2 295.6,503.1 296.5,504.0 298.3,504.4 300.1,504.3 301.0,505.4 302.8,505.1 304.6,505.1 305.5,506.1 307.3,506.3 308.2,506.9 310.0,507.5 310.9,506.8 312.7,507.8 314.5,508.2 316.3,508.6 318.1,508.7 319.9,508.9 321.7,509.2 323.5,509.2 324.4,510.5 325.3,509.8 326.2,510.5 328.0,510.3 328.9,511.6 329.8,510.6 331.6,510.8 333.4,512.6 334.3,511.9 336.1,511.7 337.0,512.5 338.8,513.7 339.7,512.6 340.6,513.5 342.4,513.1 343.3,513.8 345.1,513.1 346.0,514.8 347.8,514.7 349.6,516.1 351.4,516.3 353.2,516.0 354.1,516.9 355.9,516.9 357.7,517.5 358.6,518.2 360.4,518.1 362.2,518.8 364.0,518.9 365.8,519.4 367.6,519.9 368.5,521.4 370.3,521.2 372.1,522.5 373.0,521.9 374.8,522.4 376.6,523.5 378.4,524.4 379.3,523.2 380.2,524.2 382.0,525.3 382.9,524.6 384.7,525.7 386.5,525.3 387.4,526.0 389.2,526.9 391.0,527.3 392.8,528.0 394.6,529.1 395.5,530.0 396.4,528.6 397.3,529.8 399.1,530.7 400.9,531.0 402.7,532.0 404.5,532.1 406.3,532.7 408.1,533.6 409.9,533.8 410.8,534.6 412.6,534.1 414.4,535.9 416.2,535.2 418.0,535.7 419.8,535.7 420.7,536.7 422.5,536.5 423.4,537.8 425.2,537.8 427.0,538.7 428.8,538.8 430.6,540.0 432.4,538.9 433.3,539.5 435.1,539.8 436.0,540.5 437.8,539.1 439.6,538.4 441.4,538.5 442.3,539.5 443.2,537.8 444.1,536.3 445.9,536.6 446.8,535.3 448.6,534.2 450.4,532.3 451.3,530.8 453.1,527.8 454.0,525.6 454.9,522.8 455.8,520.6 456.7,518.8 457.6,515.0 458.5,512.9 459.4,510.4 460.3,506.7 461.2,503.9 462.1,500.1 463.0,498.1 463.9,494.9 464.8,491.4 465.7,487.4 466.6,484.7 467.5,482.6 468.4,479.8 469.3,475.8 470.2,472.7 471.1,468.1 472.0,464.7 472.9,461.6 473.8,458.9 474.7,455.2 475.6,453.8 476.5,451.7 478.3,452.9 479.2,455.6 480.1,457.6 481.0,459.8 481.9,464.9 482.8,468.5 483.7,473.2 484.6,480.0 485.5,484.1 486.4,488.0 487.3,492.6 488.2,495.9 489.1,499.9 490.0,504.4 490.9,508.0 491.8,512.0 492.7,516.5 493.6,518.7 494.5,520.5 495.4,522.0 496.3,523.5 497.2,525.2 499.0,527.7 500.8,528.9 502.6,531.2 503.5,532.7 504.4,534.0 506.2,534.3 508.0,534.2 509.8,534.8 510.7,534.0 511.6,535.0 513.4,534.8 515.2,534.5 516.1,536.1 517.0,534.5 517.9,535.9 519.7,534.6 520.6,533.9 521.5,534.7 523.3,532.9 525.1,533.0 526.0,532.2 527.8,530.8 529.6,529.6 530.5,530.8 531.4,529.0 532.3,527.8 534.1,527.9 535.9,526.8 537.7,526.2 539.5,524.9 541.3,524.1 542.2,523.3 544.0,522.5 544.9,521.6 545.8,522.3 546.7,520.6 547.6,521.6 549.4,520.4 551.2,519.7 553.0,519.7 554.8,519.3 555.7,518.3 557.5,517.3 558.4,518.2 560.2,517.0 562.0,517.0 562.9,514.9 563.8,516.0 564.7,515.0 565.6,515.9 567.4,514.5 569.2,514.0 571.0,513.8 572.8,512.3 573.7,513.3 574.6,511.7 576.4,512.1 578.2,510.4 580.0,510.0 581.8,510.1 582.7,508.6 584.5,508.9 586.3,508.1 588.1,507.5 589.9,506.9 591.7,505.0 592.6,506.2 593.5,505.1 595.3,504.1 596.2,503.4 598.0,503.3 599.8,502.3 600.7,503.5 601.6,502.6 603.4,501.5 605.2,500.7 607.0,500.6 608.8,499.3 610.6,499.0 612.4,499.8 613.3,498.9 614.2,498.2 615.1,497.2 616.9,496.7 617.8,497.6 618.7,496.6 620.5,496.1 622.3,496.5 623.2,495.2 625.0,494.6 626.8,494.0 628.6,493.2 630.4,493.6 631.3,494.4 632.2,492.4 633.1,493.1 634.9,491.5 636.7,491.4 638.5,492.0 639.4,489.8 640.3,490.7 642.1,489.7 643.9,489.9 645.7,489.1 647.5,487.4 648.4,488.9 650.2,488.2 652.0,486.5 653.8,486.3 655.6,486.7 656.5,485.5 658.3,484.5 660.1,485.0 661.0,484.3 662.8,485.2 663.7,483.4 665.5,483.1 666.4,483.9 668.2,483.0 669.1,482.2 670.9,482.6 671.8,481.4 672.7,482.3 674.5,481.2 676.3,481.1 678.1,479.7 679.0,480.6 679.9,479.6 681.7,479.4 683.5,478.4 685.3,478.0 686.2,478.9 688.0,478.1 689.8,477.1 691.6,477.1 692.5,476.2 694.3,476.3 696.1,475.3 697.9,475.3 699.7,475.1 701.5,474.7 703.3,473.9 705.1,474.3 706.9,474.1 707.8,472.5 709.6,472.7 711.4,472.3 713.2,472.5 715.0,471.2 715.9,472.2 717.7,470.9 719.5,470.5 720.4,471.2 721.3,470.3 723.1,469.9 724.9,469.8 726.7,469.4 728.5,467.2 729.4,468.9 730.3,467.7 731.2,468.6 733.0,468.3 734.8,467.7 736.6,467.2 738.4,466.7 739.3,467.5 740.2,466.8 742.0,466.3 743.8,466.0 745.6,466.2 747.4,465.2 749.2,466.0 750.1,464.9 751.9,465.5 753.7,464.7 755.5,465.3 756.4,464.2 758.2,463.7 759.1,462.9 760.9,463.5 762.7,462.9 764.5,462.1 766.3,461.8 767.2,462.9 769.0,463.6 769.9,462.5 770.8,461.6 772.6,459.9 773.5,461.2 775.3,461.8 777.1,461.3 778.9,461.1 780.7,460.0 782.5,459.6 783.4,461.0 785.2,460.4 786.1,459.3 787.9,459.5 789.7,459.3 791.5,458.9 793.3,459.0 795.1,458.6 796.9,458.8 797.8,458.2 799.6,457.9 800.5,457.2 801.4,458.3 802.3,457.2 803.2,457.9 805.0,456.5 806.8,456.8 808.6,456.2 809.5,457.1 811.3,456.7 813.1,456.4 814.0,455.7 815.8,456.1 817.6,455.4 819.4,455.4 821.2,455.0 823.0,455.1 823.9,456.0 824.8,454.5 826.6,454.6 827.5,453.0 828.4,454.2 830.2,454.6 831.1,453.7 832.9,453.4 834.7,453.0 836.5,452.4 838.3,453.2 840.1,452.9 841.9,452.9" fill="none" stroke="none" marker-start="url(#mk)" marker-mid="url(#mk)" marker-end="url(#mk)"/>
<path d="M112.0 468.1L162.3 475.4 215.8 483.9 258.3 491.1 293.8 497.9 322.8 504.2 336.8 507.6 348.3 510.6 373.6 518.1 388.1 522.7 405.3 528.6 418.1 532.2 421.6 533.0 424.6 533.5 432.1 534.0 437.8 534.2 439.8 534.0 442.1 533.4 445.1 532.0 448.3 530.2 450.1 528.7 452.1 526.6 453.6 524.6 454.8 522.4 457.6 515.8 460.6 507.3 469.8 474.2 473.1 463.5 475.3 457.9 477.6 453.8 479.4 459.3 481.1 466.5 483.9 482.3 485.9 491.3 490.6 510.7 491.6 514.0 492.6 516.3 494.4 519.7 496.6 523.1 501.6 529.1 503.9 531.4 505.1 532.2 506.1 532.5 510.4 533.1 514.6 533.5 518.6 533.4 522.6 532.5 533.9 528.7 546.9 524.0 563.6 518.9 585.1 511.9 596.9 508.4 610.4 504.7 628.2 500.3 644.4 496.6 653.4 494.9 669.9 492.1 677.2 490.7 693.4 486.5 698.7 485.2 713.2 482.9 730.7 480.6 761.5 477.0 803.2 472.6 843.0 468.0" fill="none" stroke="#ff0000" stroke-width="3.9" stroke-linejoin="round" stroke-linecap="butt"/>
<polyline points="119.2,617.8 120.1,618.5" fill="none" stroke="#00cc00" stroke-width="8.5" stroke-linejoin="round" stroke-linecap="round"/><polyline points="123.7,618.2 124.6,619.5" fill="none" stroke="#00cc00" stroke-width="8.5" stroke-linejoin="round" stroke-linecap="round"/><polyline points="126.4,619.3 127.3,620.1" fill="none" stroke="#00cc00" stroke-width="8.5" stroke-linejoin="round" stroke-linecap="round"/><polyline points="129.1,618.8 130.0,620.0" fill="none" stroke="#00cc00" stroke-width="8.5" stroke-linejoin="round" stroke-linecap="round"/><polyline points="139.0,619.5 139.9,620.4" fill="none" stroke="#00cc00" stroke-width="8.5" stroke-linejoin="round" stroke-linecap="round"/><polyline points="141.7,620.4 142.6,619.3" fill="none" stroke="#00cc00" stroke-width="8.5" stroke-linejoin="round" stroke-linecap="round"/><polyline points="146.2,620.2 147.1,621.1" fill="none" stroke="#00cc00" stroke-width="8.5" stroke-linejoin="round" stroke-linecap="round"/><polyline points="168.7,623.3 169.6,622.6 170.5,621.6 171.4,622.7" fill="none" stroke="#00cc00" stroke-width="8.5" stroke-linejoin="round" stroke-linecap="round"/><polyline points="173.2,623.5 174.1,622.1" fill="none" stroke="#00cc00" stroke-width="8.5" stroke-linejoin="round" stroke-linecap="round"/><polyline points="177.7,622.8 178.6,622.0 179.5,623.3 180.4,624.1" fill="none" stroke="#00cc00" stroke-width="8.5" stroke-linejoin="round" stroke-linecap="round"/><polyline points="182.2,624.0 183.1,623.2 184.0,624.8 184.9,623.9" fill="none" stroke="#00cc00" stroke-width="8.5" stroke-linejoin="round" stroke-linecap="round"/><polyline points="188.5,623.8 189.4,624.6" fill="none" stroke="#00cc00" stroke-width="8.5" stroke-linejoin="round" stroke-linecap="round"/><polyline points="192.1,625.6 193.0,624.5" fill="none" stroke="#00cc00" stroke-width="8.5" stroke-linejoin="round" stroke-linecap="round"/><polyline points="194.8,625.1 195.7,624.2" fill="none" stroke="#00cc00" stroke-width="8.5" stroke-linejoin="round" stroke-linecap="round"/><polyline points="199.3,625.5 200.2,626.2 201.1,625.5" fill="none" stroke="#00cc00" stroke-width="8.5" stroke-linejoin="round" stroke-linecap="round"/><polyline points="202.9,626.3 203.8,625.5 204.7,626.3" fill="none" stroke="#00cc00" stroke-width="8.5" stroke-linejoin="round" stroke-linecap="round"/><polyline points="213.7,627.0 214.6,628.0" fill="none" stroke="#00cc00" stroke-width="8.5" stroke-linejoin="round" stroke-linecap="round"/><polyline points="216.4,627.4 217.3,628.4" fill="none" stroke="#00cc00" stroke-width="8.5" stroke-linejoin="round" stroke-linecap="round"/><polyline points="222.7,628.4 223.6,629.3" fill="none" stroke="#00cc00" stroke-width="8.5" stroke-linejoin="round" stroke-linecap="round"/><polyline points="225.4,628.6 226.3,629.6 227.2,628.9" fill="none" stroke="#00cc00" stroke-width="8.5" stroke-linejoin="round" stroke-linecap="round"/><polyline points="230.8,630.4 231.7,629.4 232.6,628.8 233.5,630.1 234.4,629.3" fill="none" stroke="#00cc00" stroke-width="8.5" stroke-linejoin="round" stroke-linecap="round"/><polyline points="240.7,630.6 241.6,629.8" fill="none" stroke="#00cc00" stroke-width="8.5" stroke-linejoin="round" stroke-linecap="round"/><polyline points="247.0,629.2 247.9,630.1" fill="none" stroke="#00cc00" stroke-width="8.5" stroke-linejoin="round" stroke-linecap="round"/><polyline points="253.3,629.3 254.2,630.7" fill="none" stroke="#00cc00" stroke-width="8.5" stroke-linejoin="round" stroke-linecap="round"/><polyline points="255.1,629.1 256.0,629.9" fill="none" stroke="#00cc00" stroke-width="8.5" stroke-linejoin="round" stroke-linecap="round"/><polyline points="257.8,630.1 258.7,629.1" fill="none" stroke="#00cc00" stroke-width="8.5" stroke-linejoin="round" stroke-linecap="round"/><polyline points="269.5,629.7 270.4,628.6" fill="none" stroke="#00cc00" stroke-width="8.5" stroke-linejoin="round" stroke-linecap="round"/><polyline points="282.1,625.2 283.0,624.5" fill="none" stroke="#00cc00" stroke-width="8.5" stroke-linejoin="round" stroke-linecap="round"/><polyline points="286.6,622.9 287.5,621.4" fill="none" stroke="#00cc00" stroke-width="8.5" stroke-linejoin="round" stroke-linecap="round"/><polyline points="293.8,610.7 294.7,609.5" fill="none" stroke="#00cc00" stroke-width="8.5" stroke-linejoin="round" stroke-linecap="round"/><polyline points="295.6,606.8 296.5,605.3" fill="none" stroke="#00cc00" stroke-width="8.5" stroke-linejoin="round" stroke-linecap="round"/><polyline points="319.9,678.2 320.8,677.4" fill="none" stroke="#00cc00" stroke-width="8.5" stroke-linejoin="round" stroke-linecap="round"/><polyline points="325.3,674.2 326.2,673.4 327.1,671.9" fill="none" stroke="#00cc00" stroke-width="8.5" stroke-linejoin="round" stroke-linecap="round"/><polyline points="346.0,670.7 346.9,669.6" fill="none" stroke="#00cc00" stroke-width="8.5" stroke-linejoin="round" stroke-linecap="round"/><polyline points="350.5,670.8 351.4,671.7 352.3,671.0 353.2,671.8" fill="none" stroke="#00cc00" stroke-width="8.5" stroke-linejoin="round" stroke-linecap="round"/><polyline points="355.0,671.8 355.9,672.7" fill="none" stroke="#00cc00" stroke-width="8.5" stroke-linejoin="round" stroke-linecap="round"/><polyline points="357.7,674.0 358.6,673.1" fill="none" stroke="#00cc00" stroke-width="8.5" stroke-linejoin="round" stroke-linecap="round"/><polyline points="359.5,674.7 360.4,673.5 361.3,674.7" fill="none" stroke="#00cc00" stroke-width="8.5" stroke-linejoin="round" stroke-linecap="round"/><polyline points="363.1,674.4 364.0,675.5" fill="none" stroke="#00cc00" stroke-width="8.5" stroke-linejoin="round" stroke-linecap="round"/><polyline points="370.3,678.3 371.2,677.6" fill="none" stroke="#00cc00" stroke-width="8.5" stroke-linejoin="round" stroke-linecap="round"/><polyline points="375.7,680.1 376.6,680.8 377.5,682.2" fill="none" stroke="#00cc00" stroke-width="8.5" stroke-linejoin="round" stroke-linecap="round"/><polyline points="379.3,682.3 380.2,683.0 381.1,684.5" fill="none" stroke="#00cc00" stroke-width="8.5" stroke-linejoin="round" stroke-linecap="round"/><polyline points="382.9,684.3 383.8,685.6" fill="none" stroke="#00cc00" stroke-width="8.5" stroke-linejoin="round" stroke-linecap="round"/><polyline points="403.6,693.4 404.5,694.5" fill="none" stroke="#00cc00" stroke-width="8.5" stroke-linejoin="round" stroke-linecap="round"/><polyline points="406.3,694.7 407.2,695.8 408.1,697.3 409.0,696.6 409.9,698.1 410.8,698.8 411.7,699.4" fill="none" stroke="#00cc00" stroke-width="8.5" stroke-linejoin="round" stroke-linecap="round"/><polyline points="415.3,701.1 416.2,701.8 417.1,702.9" fill="none" stroke="#00cc00" stroke-width="8.5" stroke-linejoin="round" stroke-linecap="round"/><polyline points="418.9,703.9 419.8,705.4" fill="none" stroke="#00cc00" stroke-width="8.5" stroke-linejoin="round" stroke-linecap="round"/><polyline points="422.5,707.3 423.4,708.0 424.3,709.0" fill="none" stroke="#00cc00" stroke-width="8.5" stroke-linejoin="round" stroke-linecap="round"/><polyline points="427.9,712.5 428.8,711.9" fill="none" stroke="#00cc00" stroke-width="8.5" stroke-linejoin="round" stroke-linecap="round"/><polyline points="431.5,714.3 432.4,715.6" fill="none" stroke="#00cc00" stroke-width="8.5" stroke-linejoin="round" stroke-linecap="round"/><polyline points="436.0,720.2 436.9,721.2 437.8,722.3" fill="none" stroke="#00cc00" stroke-width="8.5" stroke-linejoin="round" stroke-linecap="round"/><polyline points="449.5,738.7 450.4,740.0 451.3,741.4" fill="none" stroke="#00cc00" stroke-width="8.5" stroke-linejoin="round" stroke-linecap="round"/><polyline points="452.2,743.5 453.1,744.8" fill="none" stroke="#00cc00" stroke-width="8.5" stroke-linejoin="round" stroke-linecap="round"/><polyline points="455.8,752.2 456.7,753.2 457.6,754.3" fill="none" stroke="#00cc00" stroke-width="8.5" stroke-linejoin="round" stroke-linecap="round"/><polyline points="474.7,745.9 475.6,744.7" fill="none" stroke="#00cc00" stroke-width="8.5" stroke-linejoin="round" stroke-linecap="round"/><polyline points="481.0,732.0 481.9,731.1" fill="none" stroke="#00cc00" stroke-width="8.5" stroke-linejoin="round" stroke-linecap="round"/><polyline points="484.6,725.4 485.5,724.3" fill="none" stroke="#00cc00" stroke-width="8.5" stroke-linejoin="round" stroke-linecap="round"/><polyline points="489.1,718.5 490.0,717.1" fill="none" stroke="#00cc00" stroke-width="8.5" stroke-linejoin="round" stroke-linecap="round"/><polyline points="492.7,713.3 493.6,712.4" fill="none" stroke="#00cc00" stroke-width="8.5" stroke-linejoin="round" stroke-linecap="round"/><polyline points="494.5,710.4 495.4,709.4" fill="none" stroke="#00cc00" stroke-width="8.5" stroke-linejoin="round" stroke-linecap="round"/><polyline points="499.9,703.8 500.8,702.7" fill="none" stroke="#00cc00" stroke-width="8.5" stroke-linejoin="round" stroke-linecap="round"/><polyline points="502.6,701.3 503.5,700.5" fill="none" stroke="#00cc00" stroke-width="8.5" stroke-linejoin="round" stroke-linecap="round"/><polyline points="505.3,698.4 506.2,697.8" fill="none" stroke="#00cc00" stroke-width="8.5" stroke-linejoin="round" stroke-linecap="round"/><polyline points="508.9,694.7 509.8,693.6 510.7,692.9 511.6,692.1 512.5,691.4 513.4,690.8 514.3,689.5 515.2,688.7" fill="none" stroke="#00cc00" stroke-width="8.5" stroke-linejoin="round" stroke-linecap="round"/><polyline points="522.4,682.5 523.3,684.0" fill="none" stroke="#00cc00" stroke-width="8.5" stroke-linejoin="round" stroke-linecap="round"/><polyline points="524.2,680.8 525.1,682.1" fill="none" stroke="#00cc00" stroke-width="8.5" stroke-linejoin="round" stroke-linecap="round"/><polyline points="526.9,680.6 527.8,679.4" fill="none" stroke="#00cc00" stroke-width="8.5" stroke-linejoin="round" stroke-linecap="round"/><polyline points="535.9,674.4 536.8,673.1 537.7,673.8 538.6,672.9 539.5,671.4" fill="none" stroke="#00cc00" stroke-width="8.5" stroke-linejoin="round" stroke-linecap="round"/><polyline points="543.1,670.2 544.0,669.3" fill="none" stroke="#00cc00" stroke-width="8.5" stroke-linejoin="round" stroke-linecap="round"/><polyline points="554.8,664.5 555.7,663.6 556.6,662.9" fill="none" stroke="#00cc00" stroke-width="8.5" stroke-linejoin="round" stroke-linecap="round"/><polyline points="560.2,661.7 561.1,660.3" fill="none" stroke="#00cc00" stroke-width="8.5" stroke-linejoin="round" stroke-linecap="round"/><polyline points="562.9,660.6 563.8,659.6 564.7,658.9" fill="none" stroke="#00cc00" stroke-width="8.5" stroke-linejoin="round" stroke-linecap="round"/><polyline points="568.3,657.1 569.2,656.0 570.1,657.0 571.0,655.5" fill="none" stroke="#00cc00" stroke-width="8.5" stroke-linejoin="round" stroke-linecap="round"/><polyline points="581.8,652.6 582.7,651.4" fill="none" stroke="#00cc00" stroke-width="8.5" stroke-linejoin="round" stroke-linecap="round"/><polyline points="588.1,648.4 589.0,649.3" fill="none" stroke="#00cc00" stroke-width="8.5" stroke-linejoin="round" stroke-linecap="round"/><polyline points="594.4,647.7 595.3,646.6 596.2,645.5" fill="none" stroke="#00cc00" stroke-width="8.5" stroke-linejoin="round" stroke-linecap="round"/><polyline points="598.0,645.4 598.9,644.4" fill="none" stroke="#00cc00" stroke-width="8.5" stroke-linejoin="round" stroke-linecap="round"/><polyline points="600.7,643.9 601.6,644.5" fill="none" stroke="#00cc00" stroke-width="8.5" stroke-linejoin="round" stroke-linecap="round"/><polyline points="611.5,641.3 612.4,640.4" fill="none" stroke="#00cc00" stroke-width="8.5" stroke-linejoin="round" stroke-linecap="round"/><polyline points="618.7,639.6 619.6,638.6 620.5,639.4 621.4,638.3" fill="none" stroke="#00cc00" stroke-width="8.5" stroke-linejoin="round" stroke-linecap="round"/><polyline points="632.2,636.2 633.1,634.9" fill="none" stroke="#00cc00" stroke-width="8.5" stroke-linejoin="round" stroke-linecap="round"/><polyline points="636.7,634.4 637.6,635.1" fill="none" stroke="#00cc00" stroke-width="8.5" stroke-linejoin="round" stroke-linecap="round"/><polyline points="638.5,632.9 639.4,634.4" fill="none" stroke="#00cc00" stroke-width="8.5" stroke-linejoin="round" stroke-linecap="round"/><polyline points="655.6,629.0 656.5,630.1 657.4,629.0 658.3,628.1 659.2,629.1 660.1,628.0" fill="none" stroke="#00cc00" stroke-width="8.5" stroke-linejoin="round" stroke-linecap="round"/><polyline points="665.5,626.9 666.4,627.7" fill="none" stroke="#00cc00" stroke-width="8.5" stroke-linejoin="round" stroke-linecap="round"/><polyline points="667.3,625.3 668.2,626.2" fill="none" stroke="#00cc00" stroke-width="8.5" stroke-linejoin="round" stroke-linecap="round"/><polyline points="671.8,626.3 672.7,624.8 673.6,625.8 674.5,624.8" fill="none" stroke="#00cc00" stroke-width="8.5" stroke-linejoin="round" stroke-linecap="round"/><polyline points="685.3,622.1 686.2,621.4" fill="none" stroke="#00cc00" stroke-width="8.5" stroke-linejoin="round" stroke-linecap="round"/><polyline points="691.6,620.4 692.5,621.2 693.4,619.9 694.3,621.3 695.2,620.0" fill="none" stroke="#00cc00" stroke-width="8.5" stroke-linejoin="round" stroke-linecap="round"/><polyline points="697.0,618.9 697.9,617.5 698.8,618.6" fill="none" stroke="#00cc00" stroke-width="8.5" stroke-linejoin="round" stroke-linecap="round"/><polyline points="701.5,617.3 702.4,618.8 703.3,617.5" fill="none" stroke="#00cc00" stroke-width="8.5" stroke-linejoin="round" stroke-linecap="round"/><polyline points="705.1,615.9 706.0,617.0" fill="none" stroke="#00cc00" stroke-width="8.5" stroke-linejoin="round" stroke-linecap="round"/><polyline points="709.6,615.4 710.5,616.2" fill="none" stroke="#00cc00" stroke-width="8.5" stroke-linejoin="round" stroke-linecap="round"/><polyline points="714.1,615.4 715.0,614.6 715.9,613.7" fill="none" stroke="#00cc00" stroke-width="8.5" stroke-linejoin="round" stroke-linecap="round"/><polyline points="724.9,613.1 725.8,611.9 726.7,611.3" fill="none" stroke="#00cc00" stroke-width="8.5" stroke-linejoin="round" stroke-linecap="round"/><polyline points="730.3,611.1 731.2,610.3" fill="none" stroke="#00cc00" stroke-width="8.5" stroke-linejoin="round" stroke-linecap="round"/><polyline points="734.8,610.2 735.7,609.5 736.6,610.4" fill="none" stroke="#00cc00" stroke-width="8.5" stroke-linejoin="round" stroke-linecap="round"/><polyline points="739.3,608.9 740.2,608.2 741.1,607.4" fill="none" stroke="#00cc00" stroke-width="8.5" stroke-linejoin="round" stroke-linecap="round"/><polyline points="753.7,605.4 754.6,604.7" fill="none" stroke="#00cc00" stroke-width="8.5" stroke-linejoin="round" stroke-linecap="round"/><polyline points="758.2,605.5 759.1,604.6" fill="none" stroke="#00cc00" stroke-width="8.5" stroke-linejoin="round" stroke-linecap="round"/><polyline points="764.5,603.7 765.4,603.0" fill="none" stroke="#00cc00" stroke-width="8.5" stroke-linejoin="round" stroke-linecap="round"/><polyline points="767.2,603.7 768.1,602.8 769.0,603.9 769.9,602.6" fill="none" stroke="#00cc00" stroke-width="8.5" stroke-linejoin="round" stroke-linecap="round"/><polyline points="775.3,602.6 776.2,602.0" fill="none" stroke="#00cc00" stroke-width="8.5" stroke-linejoin="round" stroke-linecap="round"/><polyline points="778.0,601.3 778.9,600.5" fill="none" stroke="#00cc00" stroke-width="8.5" stroke-linejoin="round" stroke-linecap="round"/><polyline points="780.7,600.5 781.6,601.3 782.5,600.6 783.4,601.3" fill="none" stroke="#00cc00" stroke-width="8.5" stroke-linejoin="round" stroke-linecap="round"/><polyline points="788.8,600.1 789.7,599.2" fill="none" stroke="#00cc00" stroke-width="8.5" stroke-linejoin="round" stroke-linecap="round"/><polyline points="791.5,600.6 792.4,599.1" fill="none" stroke="#00cc00" stroke-width="8.5" stroke-linejoin="round" stroke-linecap="round"/><polyline points="796.0,599.2 796.9,598.5" fill="none" stroke="#00cc00" stroke-width="8.5" stroke-linejoin="round" stroke-linecap="round"/><polyline points="800.5,597.5 801.4,598.3" fill="none" stroke="#00cc00" stroke-width="8.5" stroke-linejoin="round" stroke-linecap="round"/><polyline points="805.0,597.3 805.9,598.0" fill="none" stroke="#00cc00" stroke-width="8.5" stroke-linejoin="round" stroke-linecap="round"/><polyline points="818.5,595.8 819.4,594.5 820.3,595.4" fill="none" stroke="#00cc00" stroke-width="8.5" stroke-linejoin="round" stroke-linecap="round"/><polyline points="822.1,595.3 823.0,594.6 823.9,595.7 824.8,594.6" fill="none" stroke="#00cc00" stroke-width="8.5" stroke-linejoin="round" stroke-linecap="round"/><polyline points="830.2,594.5 831.1,593.7" fill="none" stroke="#00cc00" stroke-width="8.5" stroke-linejoin="round" stroke-linecap="round"/><polyline points="834.7,593.1 835.6,593.9" fill="none" stroke="#00cc00" stroke-width="8.5" stroke-linejoin="round" stroke-linecap="round"/><polyline points="841.0,593.1 841.9,594.0" fill="none" stroke="#00cc00" stroke-width="8.5" stroke-linejoin="round" stroke-linecap="round"/><polyline points="112.0,619.2 113.8,618.4 115.6,618.7 117.4,618.8 119.2,617.8 120.1,618.5 121.9,619.0 123.7,618.2 124.6,619.5 126.4,619.3 127.3,620.1 129.1,618.8 130.0,620.0 131.8,619.8 133.6,619.3 135.4,619.4 137.2,619.9 139.0,619.5 139.9,620.4 141.7,620.4 142.6,619.3 144.4,620.1 146.2,620.2 147.1,621.1 148.9,620.7 150.7,621.2 152.5,621.6 154.3,621.2 156.1,621.5 157.9,621.9 159.7,622.0 161.5,622.3 163.3,620.8 164.2,622.5 166.0,621.4 167.8,621.7 168.7,623.3 169.6,622.6 170.5,621.6 171.4,622.7 173.2,623.5 174.1,622.1 175.9,622.8 177.7,622.8 178.6,622.0 179.5,623.3 180.4,624.1 181.3,622.3 182.2,624.0 183.1,623.2 184.0,624.8 184.9,623.9 186.7,624.4 188.5,623.8 189.4,624.6 191.2,623.5 192.1,625.6 193.0,624.5 194.8,625.1 195.7,624.2 197.5,625.0 199.3,625.5 200.2,626.2 201.1,625.5 202.9,626.3 203.8,625.5 204.7,626.3 206.5,627.0 208.3,626.7 210.1,627.0 211.9,627.5 213.7,627.0 214.6,628.0 216.4,627.4 217.3,628.4 219.1,627.9 220.9,627.9 222.7,628.4 223.6,629.3 225.4,628.6 226.3,629.6 227.2,628.9 229.0,629.5 230.8,630.4 231.7,629.4 232.6,628.8 233.5,630.1 234.4,629.3 236.2,628.1 237.1,630.1 238.9,630.1 240.7,630.6 241.6,629.8 243.4,629.5 245.2,630.4 247.0,629.2 247.9,630.1 249.7,629.5 251.5,629.7 253.3,629.3 254.2,630.7 255.1,629.1 256.0,629.9 257.8,630.1 258.7,629.1 260.5,629.7 262.3,629.3 264.1,630.0 265.9,629.6 267.7,629.5 269.5,629.7 270.4,628.6 272.2,629.0 274.0,629.0 275.8,628.4 277.6,627.3 279.4,627.5 281.2,626.9 282.1,625.2 283.0,624.5 284.8,624.2 286.6,622.9 287.5,621.4 289.3,618.9 290.2,617.0 292.0,614.2 292.9,612.6 293.8,610.7 294.7,609.5 295.6,606.8 296.5,605.3 297.4,602.1 298.3,599.8 299.2,602.8 300.1,610.8 301.0,630.8 301.9,667.7 302.8,688.3 303.7,694.1 304.6,699.1 305.5,702.9 306.4,706.7 307.3,710.0 309.1,708.3 310.0,705.7 310.9,700.9 311.8,698.0 312.7,695.7 313.6,691.6 314.5,689.2 315.4,687.5 316.3,685.4 317.2,683.4 318.1,680.6 319.9,678.2 320.8,677.4 322.6,675.8 324.4,676.0 325.3,674.2 326.2,673.4 327.1,671.9 328.9,670.5 330.7,670.0 332.5,670.4 334.3,669.8 336.1,670.7 337.9,671.0 339.7,670.3 341.5,669.8 342.4,671.6 344.2,670.4 346.0,670.7 346.9,669.6 348.7,671.1 350.5,670.8 351.4,671.7 352.3,671.0 353.2,671.8 355.0,671.8 355.9,672.7 357.7,674.0 358.6,673.1 359.5,674.7 360.4,673.5 361.3,674.7 363.1,674.4 364.0,675.5 365.8,675.4 366.7,677.0 368.5,677.2 370.3,678.3 371.2,677.6 372.1,679.8 373.9,679.7 375.7,680.1 376.6,680.8 377.5,682.2 379.3,682.3 380.2,683.0 381.1,684.5 382.9,684.3 383.8,685.6 385.6,685.7 387.4,685.7 389.2,687.0 391.0,688.1 392.8,688.8 394.6,689.0 396.4,690.0 398.2,690.7 400.0,691.3 401.8,692.7 403.6,693.4 404.5,694.5 406.3,694.7 407.2,695.8 408.1,697.3 409.0,696.6 409.9,698.1 410.8,698.8 411.7,699.4 413.5,700.9 415.3,701.1 416.2,701.8 417.1,702.9 418.9,703.9 419.8,705.4 421.6,705.7 422.5,707.3 423.4,708.0 424.3,709.0 426.1,710.6 427.9,712.5 428.8,711.9 429.7,713.4 431.5,714.3 432.4,715.6 433.3,717.4 435.1,718.4 436.0,720.2 436.9,721.2 437.8,722.3 439.6,723.9 440.5,725.5 442.3,726.9 443.2,728.9 444.1,730.5 445.9,731.1 446.8,733.1 447.7,734.8 448.6,736.7 449.5,738.7 450.4,740.0 451.3,741.4 452.2,743.5 453.1,744.8 454.0,747.0 454.9,748.6 455.8,752.2 456.7,753.2 457.6,754.3 458.5,756.2 459.4,758.6 460.3,760.2 461.2,762.9 462.1,765.3 463.0,768.5 463.9,770.4 464.8,772.7 465.7,775.0 466.6,772.4 467.5,769.5 468.4,766.1 469.3,763.6 470.2,759.6 471.1,757.5 472.0,754.2 472.9,751.4 473.8,747.9 474.7,745.9 475.6,744.7 476.5,742.9 477.4,740.2 478.3,738.4 479.2,735.9 480.1,734.0 481.0,732.0 481.9,731.1 482.8,729.0 483.7,727.1 484.6,725.4 485.5,724.3 486.4,722.7 487.3,720.7 489.1,718.5 490.0,717.1 491.8,715.1 492.7,713.3 493.6,712.4 494.5,710.4 495.4,709.4 496.3,707.5 498.1,705.4 499.9,703.8 500.8,702.7 502.6,701.3 503.5,700.5 505.3,698.4 506.2,697.8 507.1,696.1 508.9,694.7 509.8,693.6 510.7,692.9 511.6,692.1 512.5,691.4 513.4,690.8 514.3,689.5 515.2,688.7 517.0,686.7 518.8,686.9 519.7,684.1 521.5,684.4 522.4,682.5 523.3,684.0 524.2,680.8 525.1,682.1 526.9,680.6 527.8,679.4 529.6,677.9 531.4,676.6 533.2,676.5 534.1,674.9 535.9,674.4 536.8,673.1 537.7,673.8 538.6,672.9 539.5,671.4 541.3,670.8 543.1,670.2 544.0,669.3 545.8,668.3 547.6,667.7 549.4,666.5 551.2,665.2 553.0,665.3 554.8,664.5 555.7,663.6 556.6,662.9 558.4,662.1 560.2,661.7 561.1,660.3 562.9,660.6 563.8,659.6 564.7,658.9 566.5,658.0 568.3,657.1 569.2,656.0 570.1,657.0 571.0,655.5 572.8,655.0 574.6,654.5 576.4,652.9 578.2,652.3 580.0,652.4 581.8,652.6 582.7,651.4 584.5,650.5 586.3,650.2 588.1,648.4 589.0,649.3 590.8,648.6 592.6,646.8 594.4,647.7 595.3,646.6 596.2,645.5 598.0,645.4 598.9,644.4 600.7,643.9 601.6,644.5 603.4,643.7 605.2,643.6 606.1,642.0 607.9,642.1 609.7,641.7 611.5,641.3 612.4,640.4 614.2,641.7 615.1,639.9 616.9,640.0 618.7,639.6 619.6,638.6 620.5,639.4 621.4,638.3 623.2,637.9 625.0,638.1 626.8,637.2 628.6,636.8 630.4,635.6 632.2,636.2 633.1,634.9 634.9,635.1 636.7,634.4 637.6,635.1 638.5,632.9 639.4,634.4 641.2,633.5 643.0,633.4 644.8,631.9 646.6,631.9 648.4,631.6 650.2,630.8 652.0,630.2 653.8,630.0 655.6,629.0 656.5,630.1 657.4,629.0 658.3,628.1 659.2,629.1 660.1,628.0 661.9,627.9 663.7,627.5 665.5,626.9 666.4,627.7 667.3,625.3 668.2,626.2 670.0,625.2 671.8,626.3 672.7,624.8 673.6,625.8 674.5,624.8 676.3,624.3 678.1,624.2 679.9,623.3 681.7,623.4 683.5,621.8 685.3,622.1 686.2,621.4 688.0,620.8 689.8,621.0 691.6,620.4 692.5,621.2 693.4,619.9 694.3,621.3 695.2,620.0 697.0,618.9 697.9,617.5 698.8,618.6 700.6,619.2 701.5,617.3 702.4,618.8 703.3,617.5 705.1,615.9 706.0,617.0 707.8,616.8 709.6,615.4 710.5,616.2 712.3,615.6 714.1,615.4 715.0,614.6 715.9,613.7 717.7,614.6 719.5,613.5 721.3,613.0 723.1,612.3 724.9,613.1 725.8,611.9 726.7,611.3 728.5,610.8 730.3,611.1 731.2,610.3 733.0,609.9 734.8,610.2 735.7,609.5 736.6,610.4 737.5,608.5 739.3,608.9 740.2,608.2 741.1,607.4 742.9,607.7 744.7,607.3 746.5,607.4 748.3,606.6 750.1,606.5 751.9,605.9 753.7,605.4 754.6,604.7 756.4,605.4 758.2,605.5 759.1,604.6 760.9,604.9 762.7,603.6 764.5,603.7 765.4,603.0 767.2,603.7 768.1,602.8 769.0,603.9 769.9,602.6 771.7,602.3 773.5,602.3 775.3,602.6 776.2,602.0 778.0,601.3 778.9,600.5 780.7,600.5 781.6,601.3 782.5,600.6 783.4,601.3 785.2,600.6 787.0,600.0 788.8,600.1 789.7,599.2 791.5,600.6 792.4,599.1 794.2,598.5 796.0,599.2 796.9,598.5 798.7,599.1 800.5,597.5 801.4,598.3 803.2,597.8 805.0,597.3 805.9,598.0 807.7,597.1 809.5,597.2 811.3,596.7 813.1,596.5 814.9,595.6 816.7,595.3 818.5,595.8 819.4,594.5 820.3,595.4 822.1,595.3 823.0,594.6 823.9,595.7 824.8,594.6 826.6,594.2 828.4,595.1 830.2,594.5 831.1,593.7 832.9,593.7 834.7,593.1 835.6,593.9 837.4,593.7 839.2,593.1 841.0,593.1 841.9,594.0" fill="none" stroke="none" marker-start="url(#mg)" marker-mid="url(#mg)" marker-end="url(#mg)"/>
<path d="M112.0 607.8L143.8 610.2 178.2 613.4 190.5 615.0 219.8 619.7 234.2 621.4 242.2 621.8 250.2 621.9 262.2 621.6 273.5 621.1 276.8 620.3 280.5 618.4 285.2 614.9 287.5 612.9 288.8 611.5 291.2 607.4 293.2 603.1 295.2 597.2 297.0 590.1 300.1 617.2 303.6 651.6 305.7 673.7 307.7 698.9 311.0 686.4 312.5 681.5 314.5 676.7 316.5 673.3 319.7 669.6 322.0 667.6 324.0 666.1 328.0 664.3 334.0 662.6 336.7 662.1 339.5 662.0 345.2 662.2 348.0 662.8 358.2 666.2 369.0 670.2 377.5 673.7 389.0 678.9 396.3 682.4 402.3 685.7 407.5 689.0 412.8 692.9 419.0 698.1 425.5 704.1 431.5 710.3 436.5 716.0 440.3 720.8 444.0 726.2 446.5 730.2 449.0 734.8 453.0 743.0 459.0 756.1 465.8 772.5 470.1 761.4 473.8 752.3 480.3 737.9 485.1 728.5 488.3 723.1 493.6 715.6 498.8 708.9 504.1 703.0 509.6 697.5 515.3 692.4 522.3 687.1 529.8 682.0 537.8 677.3 547.3 672.2 558.6 666.6 569.4 661.7 581.4 656.8 593.4 652.4 609.6 647.4 625.4 643.0 637.1 640.2 648.6 637.7 670.4 634.3 677.4 633.1 697.9 627.8 715.4 624.2 729.9 621.5 743.7 619.3 778.2 614.7 796.2 612.7 812.7 611.0 828.2 609.7 843.0 608.7" fill="none" stroke="#cc0000" stroke-width="3.9" stroke-linejoin="round" stroke-linecap="butt"/>
<polyline points="112.0,785.5 112.9,786.3 113.8,785.5 114.7,786.5" fill="none" stroke="#00cc00" stroke-width="8.5" stroke-linejoin="round" stroke-linecap="round"/><polyline points="120.1,784.9 121.0,785.8" fill="none" stroke="#00cc00" stroke-width="8.5" stroke-linejoin="round" stroke-linecap="round"/><polyline points="124.6,786.3 125.5,785.3" fill="none" stroke="#00cc00" stroke-width="8.5" stroke-linejoin="round" stroke-linecap="round"/><polyline points="129.1,785.6 130.0,784.5" fill="none" stroke="#00cc00" stroke-width="8.5" stroke-linejoin="round" stroke-linecap="round"/><polyline points="133.6,786.0 134.5,784.5 135.4,785.5 136.3,784.8 137.2,785.7 138.1,784.9" fill="none" stroke="#00cc00" stroke-width="8.5" stroke-linejoin="round" stroke-linecap="round"/><polyline points="145.3,783.3 146.2,782.1 147.1,780.7" fill="none" stroke="#00cc00" stroke-width="8.5" stroke-linejoin="round" stroke-linecap="round"/><polyline points="150.7,778.1 151.6,777.1" fill="none" stroke="#00cc00" stroke-width="8.5" stroke-linejoin="round" stroke-linecap="round"/><polyline points="153.4,773.3 154.3,772.6 155.2,771.1" fill="none" stroke="#00cc00" stroke-width="8.5" stroke-linejoin="round" stroke-linecap="round"/><polyline points="157.9,767.0 158.8,765.6 159.7,765.0" fill="none" stroke="#00cc00" stroke-width="8.5" stroke-linejoin="round" stroke-linecap="round"/><polyline points="166.9,828.8 167.8,827.3" fill="none" stroke="#00cc00" stroke-width="8.5" stroke-linejoin="round" stroke-linecap="round"/><polyline points="171.4,816.8 172.3,815.8" fill="none" stroke="#00cc00" stroke-width="8.5" stroke-linejoin="round" stroke-linecap="round"/><polyline points="173.2,813.7 174.1,812.9 175.0,812.2 175.9,811.6 176.8,810.8" fill="none" stroke="#00cc00" stroke-width="8.5" stroke-linejoin="round" stroke-linecap="round"/><polyline points="180.4,809.1 181.3,808.4" fill="none" stroke="#00cc00" stroke-width="8.5" stroke-linejoin="round" stroke-linecap="round"/><polyline points="188.5,805.8 189.4,807.2 190.3,806.1" fill="none" stroke="#00cc00" stroke-width="8.5" stroke-linejoin="round" stroke-linecap="round"/><polyline points="192.1,806.0 193.0,805.2" fill="none" stroke="#00cc00" stroke-width="8.5" stroke-linejoin="round" stroke-linecap="round"/><polyline points="197.5,804.4 198.4,803.2" fill="none" stroke="#00cc00" stroke-width="8.5" stroke-linejoin="round" stroke-linecap="round"/><polyline points="200.2,803.7 201.1,804.6" fill="none" stroke="#00cc00" stroke-width="8.5" stroke-linejoin="round" stroke-linecap="round"/><polyline points="205.6,803.1 206.5,804.0" fill="none" stroke="#00cc00" stroke-width="8.5" stroke-linejoin="round" stroke-linecap="round"/><polyline points="217.3,804.9 218.2,806.1" fill="none" stroke="#00cc00" stroke-width="8.5" stroke-linejoin="round" stroke-linecap="round"/><polyline points="221.8,805.5 222.7,806.3" fill="none" stroke="#00cc00" stroke-width="8.5" stroke-linejoin="round" stroke-linecap="round"/><polyline points="228.1,806.2 229.0,805.6 229.9,806.2" fill="none" stroke="#00cc00" stroke-width="8.5" stroke-linejoin="round" stroke-linecap="round"/><polyline points="233.5,806.6 234.4,805.7 235.3,806.5" fill="none" stroke="#00cc00" stroke-width="8.5" stroke-linejoin="round" stroke-linecap="round"/><polyline points="238.9,806.8 239.8,805.4 240.7,806.6 241.6,805.8 242.5,807.2 243.4,805.7" fill="none" stroke="#00cc00" stroke-width="8.5" stroke-linejoin="round" stroke-linecap="round"/><polyline points="246.1,807.7 247.0,806.3 247.9,807.1" fill="none" stroke="#00cc00" stroke-width="8.5" stroke-linejoin="round" stroke-linecap="round"/><polyline points="249.7,806.3 250.6,807.1" fill="none" stroke="#00cc00" stroke-width="8.5" stroke-linejoin="round" stroke-linecap="round"/><polyline points="252.4,807.4 253.3,808.1" fill="none" stroke="#00cc00" stroke-width="8.5" stroke-linejoin="round" stroke-linecap="round"/><polyline points="256.9,808.3 257.8,809.2" fill="none" stroke="#00cc00" stroke-width="8.5" stroke-linejoin="round" stroke-linecap="round"/><polyline points="261.4,808.5 262.3,809.8 263.2,808.6" fill="none" stroke="#00cc00" stroke-width="8.5" stroke-linejoin="round" stroke-linecap="round"/><polyline points="267.7,808.9 268.6,810.4" fill="none" stroke="#00cc00" stroke-width="8.5" stroke-linejoin="round" stroke-linecap="round"/><polyline points="272.2,811.2 273.1,812.0 274.0,810.9" fill="none" stroke="#00cc00" stroke-width="8.5" stroke-linejoin="round" stroke-linecap="round"/><polyline points="277.6,812.0 278.5,811.3" fill="none" stroke="#00cc00" stroke-width="8.5" stroke-linejoin="round" stroke-linecap="round"/><polyline points="286.6,813.3 287.5,814.1" fill="none" stroke="#00cc00" stroke-width="8.5" stroke-linejoin="round" stroke-linecap="round"/><polyline points="288.4,815.7 289.3,814.8" fill="none" stroke="#00cc00" stroke-width="8.5" stroke-linejoin="round" stroke-linecap="round"/><polyline points="305.5,819.1 306.4,820.0" fill="none" stroke="#00cc00" stroke-width="8.5" stroke-linejoin="round" stroke-linecap="round"/><polyline points="313.6,820.0 314.5,821.3" fill="none" stroke="#00cc00" stroke-width="8.5" stroke-linejoin="round" stroke-linecap="round"/><polyline points="316.3,822.0 317.2,821.2 318.1,822.6" fill="none" stroke="#00cc00" stroke-width="8.5" stroke-linejoin="round" stroke-linecap="round"/><polyline points="323.5,822.5 324.4,823.3" fill="none" stroke="#00cc00" stroke-width="8.5" stroke-linejoin="round" stroke-linecap="round"/><polyline points="329.8,825.0 330.7,825.8" fill="none" stroke="#00cc00" stroke-width="8.5" stroke-linejoin="round" stroke-linecap="round"/><polyline points="334.3,826.1 335.2,826.9" fill="none" stroke="#00cc00" stroke-width="8.5" stroke-linejoin="round" stroke-linecap="round"/><polyline points="337.0,827.3 337.9,828.2 338.8,828.9 339.7,828.1" fill="none" stroke="#00cc00" stroke-width="8.5" stroke-linejoin="round" stroke-linecap="round"/><polyline points="341.5,827.7 342.4,829.1" fill="none" stroke="#00cc00" stroke-width="8.5" stroke-linejoin="round" stroke-linecap="round"/><polyline points="344.2,828.6 345.1,830.2" fill="none" stroke="#00cc00" stroke-width="8.5" stroke-linejoin="round" stroke-linecap="round"/><polyline points="348.7,830.7 349.6,831.9 350.5,831.1 351.4,832.0 352.3,833.4 353.2,832.8" fill="none" stroke="#00cc00" stroke-width="8.5" stroke-linejoin="round" stroke-linecap="round"/><polyline points="358.6,834.2 359.5,835.2 360.4,836.0" fill="none" stroke="#00cc00" stroke-width="8.5" stroke-linejoin="round" stroke-linecap="round"/><polyline points="362.2,835.4 363.1,836.0" fill="none" stroke="#00cc00" stroke-width="8.5" stroke-linejoin="round" stroke-linecap="round"/><polyline points="368.5,838.2 369.4,839.2" fill="none" stroke="#00cc00" stroke-width="8.5" stroke-linejoin="round" stroke-linecap="round"/><polyline points="371.2,839.5 372.1,840.4 373.0,841.1" fill="none" stroke="#00cc00" stroke-width="8.5" stroke-linejoin="round" stroke-linecap="round"/><polyline points="380.2,843.7 381.1,844.9" fill="none" stroke="#00cc00" stroke-width="8.5" stroke-linejoin="round" stroke-linecap="round"/><polyline points="384.7,845.9 385.6,846.7" fill="none" stroke="#00cc00" stroke-width="8.5" stroke-linejoin="round" stroke-linecap="round"/><polyline points="387.4,846.8 388.3,847.7 389.2,848.9" fill="none" stroke="#00cc00" stroke-width="8.5" stroke-linejoin="round" stroke-linecap="round"/><polyline points="394.6,850.6 395.5,852.1" fill="none" stroke="#00cc00" stroke-width="8.5" stroke-linejoin="round" stroke-linecap="round"/><polyline points="400.9,854.2 401.8,855.0" fill="none" stroke="#00cc00" stroke-width="8.5" stroke-linejoin="round" stroke-linecap="round"/><polyline points="405.4,856.3 406.3,857.1" fill="none" stroke="#00cc00" stroke-width="8.5" stroke-linejoin="round" stroke-linecap="round"/><polyline points="408.1,858.8 409.0,857.8 409.9,859.3" fill="none" stroke="#00cc00" stroke-width="8.5" stroke-linejoin="round" stroke-linecap="round"/><polyline points="410.8,861.2 411.7,860.4" fill="none" stroke="#00cc00" stroke-width="8.5" stroke-linejoin="round" stroke-linecap="round"/><polyline points="413.5,861.8 414.4,863.1" fill="none" stroke="#00cc00" stroke-width="8.5" stroke-linejoin="round" stroke-linecap="round"/><polyline points="418.9,867.5 419.8,866.6" fill="none" stroke="#00cc00" stroke-width="8.5" stroke-linejoin="round" stroke-linecap="round"/><polyline points="421.6,867.8 422.5,869.0 423.4,869.8 424.3,870.7" fill="none" stroke="#00cc00" stroke-width="8.5" stroke-linejoin="round" stroke-linecap="round"/><polyline points="430.6,875.8 431.5,876.6 432.4,877.9" fill="none" stroke="#00cc00" stroke-width="8.5" stroke-linejoin="round" stroke-linecap="round"/><polyline points="434.2,879.7 435.1,880.7" fill="none" stroke="#00cc00" stroke-width="8.5" stroke-linejoin="round" stroke-linecap="round"/><polyline points="436.9,882.2 437.8,883.0" fill="none" stroke="#00cc00" stroke-width="8.5" stroke-linejoin="round" stroke-linecap="round"/><polyline points="438.7,884.9 439.6,884.2" fill="none" stroke="#00cc00" stroke-width="8.5" stroke-linejoin="round" stroke-linecap="round"/><polyline points="445.0,892.2 445.9,892.9" fill="none" stroke="#00cc00" stroke-width="8.5" stroke-linejoin="round" stroke-linecap="round"/><polyline points="446.8,895.5 447.7,896.3 448.6,897.7" fill="none" stroke="#00cc00" stroke-width="8.5" stroke-linejoin="round" stroke-linecap="round"/><polyline points="451.3,901.9 452.2,902.8" fill="none" stroke="#00cc00" stroke-width="8.5" stroke-linejoin="round" stroke-linecap="round"/><polyline points="454.0,906.3 454.9,907.2" fill="none" stroke="#00cc00" stroke-width="8.5" stroke-linejoin="round" stroke-linecap="round"/><polyline points="455.8,910.0 456.7,911.5" fill="none" stroke="#00cc00" stroke-width="8.5" stroke-linejoin="round" stroke-linecap="round"/><polyline points="457.6,913.5 458.5,914.9" fill="none" stroke="#00cc00" stroke-width="8.5" stroke-linejoin="round" stroke-linecap="round"/><polyline points="459.4,917.4 460.3,918.7" fill="none" stroke="#00cc00" stroke-width="8.5" stroke-linejoin="round" stroke-linecap="round"/><polyline points="470.2,942.6 471.1,943.6" fill="none" stroke="#00cc00" stroke-width="8.5" stroke-linejoin="round" stroke-linecap="round"/><polyline points="476.5,924.9 477.4,923.7" fill="none" stroke="#00cc00" stroke-width="8.5" stroke-linejoin="round" stroke-linecap="round"/><polyline points="479.2,917.3 480.1,916.0" fill="none" stroke="#00cc00" stroke-width="8.5" stroke-linejoin="round" stroke-linecap="round"/><polyline points="483.7,907.2 484.6,906.2" fill="none" stroke="#00cc00" stroke-width="8.5" stroke-linejoin="round" stroke-linecap="round"/><polyline points="486.4,901.1 487.3,900.4 488.2,898.9 489.1,897.8" fill="none" stroke="#00cc00" stroke-width="8.5" stroke-linejoin="round" stroke-linecap="round"/><polyline points="492.7,890.1 493.6,888.7" fill="none" stroke="#00cc00" stroke-width="8.5" stroke-linejoin="round" stroke-linecap="round"/><polyline points="494.5,886.8 495.4,885.5" fill="none" stroke="#00cc00" stroke-width="8.5" stroke-linejoin="round" stroke-linecap="round"/><polyline points="500.8,876.0 501.7,874.9" fill="none" stroke="#00cc00" stroke-width="8.5" stroke-linejoin="round" stroke-linecap="round"/><polyline points="502.6,872.5 503.5,871.4" fill="none" stroke="#00cc00" stroke-width="8.5" stroke-linejoin="round" stroke-linecap="round"/><polyline points="507.1,865.4 508.0,864.7 508.9,863.9 509.8,862.5 510.7,861.3" fill="none" stroke="#00cc00" stroke-width="8.5" stroke-linejoin="round" stroke-linecap="round"/><polyline points="511.6,859.6 512.5,858.7" fill="none" stroke="#00cc00" stroke-width="8.5" stroke-linejoin="round" stroke-linecap="round"/><polyline points="515.2,855.9 516.1,855.0" fill="none" stroke="#00cc00" stroke-width="8.5" stroke-linejoin="round" stroke-linecap="round"/><polyline points="521.5,852.1 522.4,850.9" fill="none" stroke="#00cc00" stroke-width="8.5" stroke-linejoin="round" stroke-linecap="round"/><polyline points="531.4,845.1 532.3,844.1" fill="none" stroke="#00cc00" stroke-width="8.5" stroke-linejoin="round" stroke-linecap="round"/><polyline points="537.7,840.4 538.6,841.1 539.5,839.6" fill="none" stroke="#00cc00" stroke-width="8.5" stroke-linejoin="round" stroke-linecap="round"/><polyline points="543.1,838.9 544.0,837.5" fill="none" stroke="#00cc00" stroke-width="8.5" stroke-linejoin="round" stroke-linecap="round"/><polyline points="545.8,836.8 546.7,835.5 547.6,836.4" fill="none" stroke="#00cc00" stroke-width="8.5" stroke-linejoin="round" stroke-linecap="round"/><polyline points="553.0,833.7 553.9,833.0 554.8,834.0" fill="none" stroke="#00cc00" stroke-width="8.5" stroke-linejoin="round" stroke-linecap="round"/><polyline points="555.7,831.7 556.6,832.4" fill="none" stroke="#00cc00" stroke-width="8.5" stroke-linejoin="round" stroke-linecap="round"/><polyline points="560.2,830.7 561.1,829.7" fill="none" stroke="#00cc00" stroke-width="8.5" stroke-linejoin="round" stroke-linecap="round"/><polyline points="562.9,829.7 563.8,828.5 564.7,827.8 565.6,826.5 566.5,827.6 567.4,826.6" fill="none" stroke="#00cc00" stroke-width="8.5" stroke-linejoin="round" stroke-linecap="round"/><polyline points="569.2,826.4 570.1,825.2 571.0,826.4 571.9,825.7" fill="none" stroke="#00cc00" stroke-width="8.5" stroke-linejoin="round" stroke-linecap="round"/><polyline points="583.6,819.1 584.5,819.8" fill="none" stroke="#00cc00" stroke-width="8.5" stroke-linejoin="round" stroke-linecap="round"/><polyline points="586.3,820.0 587.2,819.0" fill="none" stroke="#00cc00" stroke-width="8.5" stroke-linejoin="round" stroke-linecap="round"/><polyline points="594.4,816.4 595.3,815.6 596.2,816.4 597.1,815.5" fill="none" stroke="#00cc00" stroke-width="8.5" stroke-linejoin="round" stroke-linecap="round"/><polyline points="600.7,815.2 601.6,814.2" fill="none" stroke="#00cc00" stroke-width="8.5" stroke-linejoin="round" stroke-linecap="round"/><polyline points="603.4,813.3 604.3,814.5 605.2,813.6" fill="none" stroke="#00cc00" stroke-width="8.5" stroke-linejoin="round" stroke-linecap="round"/><polyline points="607.0,812.7 607.9,811.6 608.8,813.2 609.7,812.2" fill="none" stroke="#00cc00" stroke-width="8.5" stroke-linejoin="round" stroke-linecap="round"/><polyline points="613.3,811.4 614.2,810.1 615.1,811.3 616.0,810.2" fill="none" stroke="#00cc00" stroke-width="8.5" stroke-linejoin="round" stroke-linecap="round"/><polyline points="617.8,810.9 618.7,810.2 619.6,809.4 620.5,808.4 621.4,809.2" fill="none" stroke="#00cc00" stroke-width="8.5" stroke-linejoin="round" stroke-linecap="round"/><polyline points="623.2,808.6 624.1,807.8" fill="none" stroke="#00cc00" stroke-width="8.5" stroke-linejoin="round" stroke-linecap="round"/><polyline points="631.3,806.9 632.2,806.2" fill="none" stroke="#00cc00" stroke-width="8.5" stroke-linejoin="round" stroke-linecap="round"/><polyline points="634.0,807.0 634.9,805.9" fill="none" stroke="#00cc00" stroke-width="8.5" stroke-linejoin="round" stroke-linecap="round"/><polyline points="649.3,801.6 650.2,801.0" fill="none" stroke="#00cc00" stroke-width="8.5" stroke-linejoin="round" stroke-linecap="round"/><polyline points="653.8,801.5 654.7,800.6" fill="none" stroke="#00cc00" stroke-width="8.5" stroke-linejoin="round" stroke-linecap="round"/><polyline points="658.3,799.5 659.2,800.2 660.1,799.5" fill="none" stroke="#00cc00" stroke-width="8.5" stroke-linejoin="round" stroke-linecap="round"/><polyline points="661.9,799.0 662.8,797.8" fill="none" stroke="#00cc00" stroke-width="8.5" stroke-linejoin="round" stroke-linecap="round"/><polyline points="675.4,795.0 676.3,795.8 677.2,794.7" fill="none" stroke="#00cc00" stroke-width="8.5" stroke-linejoin="round" stroke-linecap="round"/><polyline points="687.1,791.6 688.0,792.8 688.9,791.3" fill="none" stroke="#00cc00" stroke-width="8.5" stroke-linejoin="round" stroke-linecap="round"/><polyline points="692.5,791.0 693.4,789.8 694.3,790.6 695.2,789.7" fill="none" stroke="#00cc00" stroke-width="8.5" stroke-linejoin="round" stroke-linecap="round"/><polyline points="700.6,788.2 701.5,789.1 702.4,788.3" fill="none" stroke="#00cc00" stroke-width="8.5" stroke-linejoin="round" stroke-linecap="round"/><polyline points="706.0,788.1 706.9,786.8 707.8,786.1 708.7,787.0 709.6,786.0" fill="none" stroke="#00cc00" stroke-width="8.5" stroke-linejoin="round" stroke-linecap="round"/><polyline points="711.4,786.6 712.3,785.5" fill="none" stroke="#00cc00" stroke-width="8.5" stroke-linejoin="round" stroke-linecap="round"/><polyline points="714.1,785.1 715.0,786.0" fill="none" stroke="#00cc00" stroke-width="8.5" stroke-linejoin="round" stroke-linecap="round"/><polyline points="720.4,784.5 721.3,782.9 722.2,783.9 723.1,782.5" fill="none" stroke="#00cc00" stroke-width="8.5" stroke-linejoin="round" stroke-linecap="round"/><polyline points="725.8,783.6 726.7,782.4" fill="none" stroke="#00cc00" stroke-width="8.5" stroke-linejoin="round" stroke-linecap="round"/><polyline points="728.5,781.5 729.4,782.2" fill="none" stroke="#00cc00" stroke-width="8.5" stroke-linejoin="round" stroke-linecap="round"/><polyline points="730.3,780.4 731.2,781.2 732.1,782.1 733.0,780.6" fill="none" stroke="#00cc00" stroke-width="8.5" stroke-linejoin="round" stroke-linecap="round"/><polyline points="734.8,780.7 735.7,779.8" fill="none" stroke="#00cc00" stroke-width="8.5" stroke-linejoin="round" stroke-linecap="round"/><polyline points="744.7,778.1 745.6,776.8 746.5,778.2" fill="none" stroke="#00cc00" stroke-width="8.5" stroke-linejoin="round" stroke-linecap="round"/><polyline points="748.3,777.0 749.2,776.3" fill="none" stroke="#00cc00" stroke-width="8.5" stroke-linejoin="round" stroke-linecap="round"/><polyline points="751.0,777.4 751.9,776.2" fill="none" stroke="#00cc00" stroke-width="8.5" stroke-linejoin="round" stroke-linecap="round"/><polyline points="757.3,775.5 758.2,776.4" fill="none" stroke="#00cc00" stroke-width="8.5" stroke-linejoin="round" stroke-linecap="round"/><polyline points="760.0,775.2 760.9,774.4" fill="none" stroke="#00cc00" stroke-width="8.5" stroke-linejoin="round" stroke-linecap="round"/><polyline points="762.7,775.1 763.6,774.3 764.5,774.9" fill="none" stroke="#00cc00" stroke-width="8.5" stroke-linejoin="round" stroke-linecap="round"/><polyline points="768.1,774.1 769.0,773.3" fill="none" stroke="#00cc00" stroke-width="8.5" stroke-linejoin="round" stroke-linecap="round"/><polyline points="773.5,773.5 774.4,772.7" fill="none" stroke="#00cc00" stroke-width="8.5" stroke-linejoin="round" stroke-linecap="round"/><polyline points="776.2,771.8 777.1,772.6" fill="none" stroke="#00cc00" stroke-width="8.5" stroke-linejoin="round" stroke-linecap="round"/><polyline points="778.9,772.7 779.8,771.9" fill="none" stroke="#00cc00" stroke-width="8.5" stroke-linejoin="round" stroke-linecap="round"/><polyline points="787.0,770.2 787.9,771.2 788.8,770.2" fill="none" stroke="#00cc00" stroke-width="8.5" stroke-linejoin="round" stroke-linecap="round"/><polyline points="790.6,770.0 791.5,769.2" fill="none" stroke="#00cc00" stroke-width="8.5" stroke-linejoin="round" stroke-linecap="round"/><polyline points="796.9,769.1 797.8,768.3" fill="none" stroke="#00cc00" stroke-width="8.5" stroke-linejoin="round" stroke-linecap="round"/><polyline points="829.3,765.0 830.2,764.2" fill="none" stroke="#00cc00" stroke-width="8.5" stroke-linejoin="round" stroke-linecap="round"/><polyline points="112.0,785.5 112.9,786.3 113.8,785.5 114.7,786.5 116.5,785.5 118.3,785.3 120.1,784.9 121.0,785.8 122.8,785.6 124.6,786.3 125.5,785.3 127.3,786.1 129.1,785.6 130.0,784.5 131.8,785.6 133.6,786.0 134.5,784.5 135.4,785.5 136.3,784.8 137.2,785.7 138.1,784.9 139.9,784.5 141.7,784.0 143.5,783.3 145.3,783.3 146.2,782.1 147.1,780.7 148.9,779.4 150.7,778.1 151.6,777.1 152.5,775.4 153.4,773.3 154.3,772.6 155.2,771.1 157.0,768.9 157.9,767.0 158.8,765.6 159.7,765.0 160.6,768.9 161.5,802.1 162.4,817.4 163.3,823.8 164.2,828.4 165.1,831.9 166.9,828.8 167.8,827.3 168.7,824.1 169.6,821.0 170.5,818.8 171.4,816.8 172.3,815.8 173.2,813.7 174.1,812.9 175.0,812.2 175.9,811.6 176.8,810.8 178.6,809.9 180.4,809.1 181.3,808.4 183.1,807.8 184.9,807.5 186.7,807.4 188.5,805.8 189.4,807.2 190.3,806.1 192.1,806.0 193.0,805.2 194.8,805.7 195.7,803.8 197.5,804.4 198.4,803.2 200.2,803.7 201.1,804.6 202.0,803.0 203.8,803.8 205.6,803.1 206.5,804.0 208.3,804.4 210.1,805.0 211.9,805.0 213.7,805.0 215.5,805.0 217.3,804.9 218.2,806.1 220.0,805.3 221.8,805.5 222.7,806.3 224.5,805.8 226.3,805.9 228.1,806.2 229.0,805.6 229.9,806.2 231.7,806.6 233.5,806.6 234.4,805.7 235.3,806.5 237.1,806.4 238.9,806.8 239.8,805.4 240.7,806.6 241.6,805.8 242.5,807.2 243.4,805.7 245.2,805.9 246.1,807.7 247.0,806.3 247.9,807.1 249.7,806.3 250.6,807.1 252.4,807.4 253.3,808.1 255.1,807.9 256.9,808.3 257.8,809.2 259.6,808.7 261.4,808.5 262.3,809.8 263.2,808.6 265.0,809.5 266.8,810.9 267.7,808.9 268.6,810.4 270.4,810.1 272.2,811.2 273.1,812.0 274.0,810.9 275.8,812.3 277.6,812.0 278.5,811.3 279.4,813.4 281.2,813.6 283.0,813.3 284.8,814.6 286.6,813.3 287.5,814.1 288.4,815.7 289.3,814.8 291.1,815.4 292.9,815.8 294.7,816.2 296.5,816.9 298.3,817.0 300.1,818.2 301.9,818.0 303.7,818.7 305.5,819.1 306.4,820.0 308.2,819.5 310.0,820.4 311.8,820.4 313.6,820.0 314.5,821.3 316.3,822.0 317.2,821.2 318.1,822.6 319.9,822.8 321.7,822.6 323.5,822.5 324.4,823.3 326.2,824.5 328.0,825.3 329.8,825.0 330.7,825.8 332.5,826.4 334.3,826.1 335.2,826.9 337.0,827.3 337.9,828.2 338.8,828.9 339.7,828.1 341.5,827.7 342.4,829.1 344.2,828.6 345.1,830.2 346.9,830.2 348.7,830.7 349.6,831.9 350.5,831.1 351.4,832.0 352.3,833.4 353.2,832.8 355.0,833.3 356.8,834.0 358.6,834.2 359.5,835.2 360.4,836.0 362.2,835.4 363.1,836.0 364.9,837.8 366.7,838.4 368.5,838.2 369.4,839.2 371.2,839.5 372.1,840.4 373.0,841.1 374.8,841.1 376.6,842.3 378.4,843.1 380.2,843.7 381.1,844.9 382.9,845.4 384.7,845.9 385.6,846.7 387.4,846.8 388.3,847.7 389.2,848.9 391.0,849.9 392.8,849.9 394.6,850.6 395.5,852.1 397.3,852.6 399.1,853.2 400.9,854.2 401.8,855.0 403.6,855.9 405.4,856.3 406.3,857.1 408.1,858.8 409.0,857.8 409.9,859.3 410.8,861.2 411.7,860.4 413.5,861.8 414.4,863.1 416.2,864.1 418.0,865.0 418.9,867.5 419.8,866.6 421.6,867.8 422.5,869.0 423.4,869.8 424.3,870.7 426.1,871.2 427.0,873.0 428.8,874.3 430.6,875.8 431.5,876.6 432.4,877.9 434.2,879.7 435.1,880.7 436.9,882.2 437.8,883.0 438.7,884.9 439.6,884.2 440.5,886.3 442.3,888.5 443.2,890.2 445.0,892.2 445.9,892.9 446.8,895.5 447.7,896.3 448.6,897.7 450.4,899.3 451.3,901.9 452.2,902.8 453.1,904.4 454.0,906.3 454.9,907.2 455.8,910.0 456.7,911.5 457.6,913.5 458.5,914.9 459.4,917.4 460.3,918.7 461.2,921.5 462.1,923.6 463.0,925.6 463.9,927.4 464.8,929.6 466.6,934.2 467.5,935.9 468.4,938.5 469.3,940.7 470.2,942.6 471.1,943.6 472.0,940.9 472.9,938.1 473.8,933.9 474.7,930.7 475.6,928.9 476.5,924.9 477.4,923.7 478.3,920.2 479.2,917.3 480.1,916.0 481.0,914.2 481.9,910.6 483.7,907.2 484.6,906.2 485.5,903.4 486.4,901.1 487.3,900.4 488.2,898.9 489.1,897.8 490.0,896.0 490.9,893.9 491.8,891.8 492.7,890.1 493.6,888.7 494.5,886.8 495.4,885.5 496.3,882.8 498.1,880.9 499.9,878.1 500.8,876.0 501.7,874.9 502.6,872.5 503.5,871.4 504.4,869.3 506.2,867.7 507.1,865.4 508.0,864.7 508.9,863.9 509.8,862.5 510.7,861.3 511.6,859.6 512.5,858.7 514.3,857.6 515.2,855.9 516.1,855.0 517.9,853.6 519.7,852.7 521.5,852.1 522.4,850.9 524.2,848.8 526.0,848.3 527.8,847.5 529.6,845.8 531.4,845.1 532.3,844.1 534.1,842.5 535.9,841.5 537.7,840.4 538.6,841.1 539.5,839.6 541.3,838.4 543.1,838.9 544.0,837.5 545.8,836.8 546.7,835.5 547.6,836.4 549.4,834.8 551.2,834.1 553.0,833.7 553.9,833.0 554.8,834.0 555.7,831.7 556.6,832.4 558.4,830.2 560.2,830.7 561.1,829.7 562.9,829.7 563.8,828.5 564.7,827.8 565.6,826.5 566.5,827.6 567.4,826.6 569.2,826.4 570.1,825.2 571.0,826.4 571.9,825.7 573.7,823.8 575.5,823.4 577.3,822.4 579.1,822.3 580.9,821.3 582.7,820.9 583.6,819.1 584.5,819.8 586.3,820.0 587.2,819.0 589.0,818.2 590.8,817.7 592.6,816.9 594.4,816.4 595.3,815.6 596.2,816.4 597.1,815.5 598.9,815.5 600.7,815.2 601.6,814.2 603.4,813.3 604.3,814.5 605.2,813.6 607.0,812.7 607.9,811.6 608.8,813.2 609.7,812.2 611.5,811.7 613.3,811.4 614.2,810.1 615.1,811.3 616.0,810.2 617.8,810.9 618.7,810.2 619.6,809.4 620.5,808.4 621.4,809.2 623.2,808.6 624.1,807.8 625.9,807.3 627.7,807.9 629.5,806.7 631.3,806.9 632.2,806.2 634.0,807.0 634.9,805.9 636.7,805.1 638.5,804.0 640.3,805.0 642.1,804.6 643.9,803.5 645.7,803.0 647.5,802.2 649.3,801.6 650.2,801.0 652.0,800.6 653.8,801.5 654.7,800.6 656.5,800.8 658.3,799.5 659.2,800.2 660.1,799.5 661.9,799.0 662.8,797.8 664.6,798.0 666.4,797.4 668.2,797.6 670.0,797.0 671.8,796.0 673.6,795.9 675.4,795.0 676.3,795.8 677.2,794.7 679.0,794.6 680.8,793.9 682.6,793.2 684.4,792.6 686.2,793.4 687.1,791.6 688.0,792.8 688.9,791.3 690.7,791.7 692.5,791.0 693.4,789.8 694.3,790.6 695.2,789.7 696.1,791.2 697.0,789.6 698.8,788.7 700.6,788.2 701.5,789.1 702.4,788.3 704.2,787.6 706.0,788.1 706.9,786.8 707.8,786.1 708.7,787.0 709.6,786.0 711.4,786.6 712.3,785.5 714.1,785.1 715.0,786.0 716.8,784.5 718.6,783.9 720.4,784.5 721.3,782.9 722.2,783.9 723.1,782.5 724.9,781.9 725.8,783.6 726.7,782.4 728.5,781.5 729.4,782.2 730.3,780.4 731.2,781.2 732.1,782.1 733.0,780.6 734.8,780.7 735.7,779.8 737.5,780.3 739.3,779.6 741.1,779.1 742.9,779.3 744.7,778.1 745.6,776.8 746.5,778.2 748.3,777.0 749.2,776.3 751.0,777.4 751.9,776.2 753.7,776.5 755.5,776.1 757.3,775.5 758.2,776.4 760.0,775.2 760.9,774.4 762.7,775.1 763.6,774.3 764.5,774.9 766.3,774.3 768.1,774.1 769.0,773.3 770.8,774.6 771.7,772.6 773.5,773.5 774.4,772.7 776.2,771.8 777.1,772.6 778.9,772.7 779.8,771.9 781.6,771.0 783.4,770.9 785.2,771.4 787.0,770.2 787.9,771.2 788.8,770.2 790.6,770.0 791.5,769.2 793.3,769.8 795.1,769.7 796.9,769.1 797.8,768.3 799.6,768.3 801.4,768.4 803.2,767.4 805.0,767.8 806.8,767.9 808.6,768.1 810.4,767.2 812.2,766.5 814.0,766.9 815.8,766.5 817.6,766.6 819.4,766.2 821.2,765.5 823.0,765.8 824.8,765.3 826.6,766.3 827.5,764.7 829.3,765.0 830.2,764.2 832.0,765.5 833.8,764.7 835.6,764.3 837.4,763.9 839.2,763.9 841.0,763.8 842.8,762.5" fill="none" stroke="none" marker-start="url(#mg)" marker-mid="url(#mg)" marker-end="url(#mg)"/>
<path d="M112.0 775.6L120.5 775.2 131.0 774.1 137.2 772.8 143.2 770.7 146.2 768.6 149.8 765.1 151.0 763.3 154.2 757.2 158.0 751.9 158.3 752.0 158.8 752.9 159.5 755.5 161.3 765.0 163.0 784.1 164.8 809.0 165.5 815.3 166.3 819.1 167.8 813.5 169.8 809.3 171.8 806.5 174.1 803.7 175.8 802.0 177.6 800.9 180.6 799.7 183.8 798.6 187.1 797.9 190.3 797.4 202.6 796.6 212.8 796.7 225.6 797.9 250.8 801.3 266.8 804.2 286.8 808.4 305.8 813.2 339.1 822.7 350.3 826.4 358.8 829.8 366.3 833.6 384.3 843.2 401.6 851.6 408.6 855.5 414.3 859.3 420.1 863.7 426.1 868.9 432.3 874.9 438.1 880.9 443.1 886.9 447.8 893.3 451.6 899.2 455.6 906.8 460.8 918.0 465.8 929.2 470.8 941.5 475.1 930.7 478.8 921.8 484.3 909.9 489.3 899.9 492.8 893.5 503.6 874.9 508.1 868.0 511.8 863.2 514.8 860.1 519.8 856.2 525.1 852.6 530.8 849.2 540.8 844.2 565.9 833.2 577.1 828.4 587.6 824.4 597.6 821.1 609.6 817.5 624.1 813.5 640.6 809.5 656.9 805.8 674.4 802.2 730.9 791.1 751.2 787.7 778.7 784.1 802.2 781.4 823.5 779.5 843.0 778.2" fill="none" stroke="#cc0000" stroke-width="3.9" stroke-linejoin="round" stroke-linecap="butt"/>
<polyline points="986.0,162.1 988.9,162.9 991.7,162.6 994.5,161.9 997.4,161.9 1000.2,162.7 1003.1,162.3 1006.0,163.3 1008.8,163.0 1011.6,163.9 1014.5,164.4 1017.4,162.9 1020.2,164.4 1023.0,164.1 1025.9,164.0 1028.8,164.7 1031.6,165.2 1034.5,166.1 1037.3,165.1 1040.2,166.6 1043.0,167.4 1045.8,167.0 1048.7,167.3 1051.5,167.3 1054.4,167.1 1057.2,168.3 1060.1,168.5 1063.0,169.1 1065.8,170.3 1068.7,169.8 1071.5,170.0 1074.3,170.9 1077.2,169.8 1080.0,170.3 1082.9,171.1 1085.8,171.3 1088.6,172.4 1091.5,172.3 1094.3,173.7 1097.2,173.9 1100.0,174.0 1102.8,173.8 1105.7,174.6 1108.5,175.1 1111.4,174.6 1114.2,175.7 1117.1,176.2 1120.0,176.4 1122.8,177.5 1125.7,177.7 1128.5,177.1 1131.3,178.0 1134.2,177.9 1137.0,179.1 1139.9,178.8 1142.8,180.2 1145.6,180.4 1148.5,181.1 1151.3,181.1 1154.2,180.9" fill="none" stroke="#00cc00" stroke-width="7.0" stroke-linejoin="round" stroke-linecap="round"/><polyline points="1157.0,183.1 1159.8,182.7 1162.7,184.0 1165.5,184.1 1168.4,184.9 1171.2,186.1 1174.1,186.0 1177.0,187.2 1179.8,186.4" fill="none" stroke="#00cc00" stroke-width="7.0" stroke-linejoin="round" stroke-linecap="round"/><polyline points="1182.7,188.3 1185.5,188.4 1188.4,189.2 1191.2,190.1 1194.0,191.0 1196.9,192.4 1199.8,191.5" fill="none" stroke="#00cc00" stroke-width="7.0" stroke-linejoin="round" stroke-linecap="round"/><polyline points="1202.6,193.2 1205.5,193.6" fill="none" stroke="#00cc00" stroke-width="7.0" stroke-linejoin="round" stroke-linecap="round"/><polyline points="1208.3,195.4 1211.2,195.5 1214.0,196.7 1216.9,197.2 1219.7,198.6 1222.5,199.6 1225.4,199.8 1228.2,201.0 1231.1,201.2" fill="none" stroke="#00cc00" stroke-width="7.0" stroke-linejoin="round" stroke-linecap="round"/><polyline points="1234.0,203.0 1236.8,204.3 1239.7,204.6" fill="none" stroke="#00cc00" stroke-width="7.0" stroke-linejoin="round" stroke-linecap="round"/><polyline points="1242.5,206.5 1245.3,206.0 1248.2,207.3 1251.1,208.7" fill="none" stroke="#00cc00" stroke-width="7.0" stroke-linejoin="round" stroke-linecap="round"/><polyline points="1253.9,210.4 1256.8,211.9 1259.6,213.2 1262.5,214.6" fill="none" stroke="#00cc00" stroke-width="7.0" stroke-linejoin="round" stroke-linecap="round"/><polyline points="1265.3,216.4 1268.2,217.3 1271.0,218.4 1273.9,220.1" fill="none" stroke="#00cc00" stroke-width="7.0" stroke-linejoin="round" stroke-linecap="round"/><polyline points="1276.7,223.5 1279.6,223.0" fill="none" stroke="#00cc00" stroke-width="7.0" stroke-linejoin="round" stroke-linecap="round"/><polyline points="1359.4,227.7 1362.2,226.2" fill="none" stroke="#00cc00" stroke-width="7.0" stroke-linejoin="round" stroke-linecap="round"/><polyline points="1373.6,216.9 1376.5,215.7" fill="none" stroke="#00cc00" stroke-width="7.0" stroke-linejoin="round" stroke-linecap="round"/><polyline points="1379.3,213.3 1382.2,211.9" fill="none" stroke="#00cc00" stroke-width="7.0" stroke-linejoin="round" stroke-linecap="round"/><polyline points="1390.7,206.0 1393.6,205.8" fill="none" stroke="#00cc00" stroke-width="7.0" stroke-linejoin="round" stroke-linecap="round"/><polyline points="1396.4,203.9 1399.3,203.0" fill="none" stroke="#00cc00" stroke-width="7.0" stroke-linejoin="round" stroke-linecap="round"/><polyline points="1402.1,200.1 1405.0,199.0 1407.8,197.5 1410.7,196.9 1413.5,196.7 1416.4,195.3 1419.2,193.8 1422.1,192.7 1424.9,191.9" fill="none" stroke="#00cc00" stroke-width="7.0" stroke-linejoin="round" stroke-linecap="round"/><polyline points="1427.8,190.2 1430.6,189.4 1433.5,188.1" fill="none" stroke="#00cc00" stroke-width="7.0" stroke-linejoin="round" stroke-linecap="round"/><polyline points="1436.3,185.7 1439.2,185.4 1442.0,185.1" fill="none" stroke="#00cc00" stroke-width="7.0" stroke-linejoin="round" stroke-linecap="round"/><polyline points="1444.9,183.1 1447.7,182.1 1450.6,180.7 1453.4,179.6 1456.3,179.3" fill="none" stroke="#00cc00" stroke-width="7.0" stroke-linejoin="round" stroke-linecap="round"/><polyline points="1459.1,177.5 1462.0,176.1" fill="none" stroke="#00cc00" stroke-width="7.0" stroke-linejoin="round" stroke-linecap="round"/><polyline points="1464.8,174.0 1467.7,174.2" fill="none" stroke="#00cc00" stroke-width="7.0" stroke-linejoin="round" stroke-linecap="round"/><polyline points="1470.5,172.5 1473.4,171.6 1476.2,172.0 1479.1,171.0" fill="none" stroke="#00cc00" stroke-width="7.0" stroke-linejoin="round" stroke-linecap="round"/><polyline points="1481.9,168.8 1484.8,169.3 1487.6,168.2 1490.5,166.7 1493.3,166.6" fill="none" stroke="#00cc00" stroke-width="7.0" stroke-linejoin="round" stroke-linecap="round"/><polyline points="1496.2,164.6 1499.0,163.9 1501.9,163.0 1504.7,162.3 1507.6,162.5" fill="none" stroke="#00cc00" stroke-width="7.0" stroke-linejoin="round" stroke-linecap="round"/><polyline points="1510.4,160.6 1513.3,159.9 1516.1,159.2 1519.0,159.0 1521.8,157.9 1524.7,157.8 1527.5,156.3 1530.4,155.3 1533.2,155.0 1536.1,154.5 1538.9,153.3 1541.8,153.2 1544.6,153.2" fill="none" stroke="#00cc00" stroke-width="7.0" stroke-linejoin="round" stroke-linecap="round"/><polyline points="1547.5,151.2 1550.3,150.8 1553.2,150.6" fill="none" stroke="#00cc00" stroke-width="7.0" stroke-linejoin="round" stroke-linecap="round"/><polyline points="1556.0,148.8 1558.9,147.9 1561.7,146.8 1564.6,146.7 1567.4,145.8 1570.3,144.5 1573.1,143.7 1576.0,143.3 1578.8,142.0" fill="none" stroke="#00cc00" stroke-width="7.0" stroke-linejoin="round" stroke-linecap="round"/><polyline points="1581.7,139.8 1584.5,139.5 1587.4,138.4 1590.2,137.5 1593.1,135.9 1595.9,134.5 1598.8,133.3" fill="none" stroke="#00cc00" stroke-width="7.0" stroke-linejoin="round" stroke-linecap="round"/><polyline points="1601.6,131.4 1604.5,130.9" fill="none" stroke="#00cc00" stroke-width="7.0" stroke-linejoin="round" stroke-linecap="round"/><polyline points="1607.3,129.2 1610.2,128.3" fill="none" stroke="#00cc00" stroke-width="7.0" stroke-linejoin="round" stroke-linecap="round"/><polyline points="1613.0,126.1 1615.9,124.8" fill="none" stroke="#00cc00" stroke-width="7.0" stroke-linejoin="round" stroke-linecap="round"/><polyline points="1621.6,121.1 1624.4,120.1" fill="none" stroke="#00cc00" stroke-width="7.0" stroke-linejoin="round" stroke-linecap="round"/><polyline points="1652.9,69.3 1655.8,69.7" fill="none" stroke="#00cc00" stroke-width="7.0" stroke-linejoin="round" stroke-linecap="round"/><polyline points="1678.6,193.5 1681.4,194.9" fill="none" stroke="#00cc00" stroke-width="7.0" stroke-linejoin="round" stroke-linecap="round"/><polyline points="1704.2,157.6 1707.1,156.2" fill="none" stroke="#00cc00" stroke-width="7.0" stroke-linejoin="round" stroke-linecap="round"/><polyline points="1709.9,154.2 1712.8,153.2 1715.6,153.2 1717.0,152.8" fill="none" stroke="#00cc00" stroke-width="7.0" stroke-linejoin="round" stroke-linecap="round"/><polyline points="986.0,162.1 988.9,162.9 991.7,162.6 994.5,161.9 997.4,161.9 1000.2,162.7 1003.1,162.3 1006.0,163.3 1008.8,163.0 1011.6,163.9 1014.5,164.4 1017.4,162.9 1020.2,164.4 1023.0,164.1 1025.9,164.0 1028.8,164.7 1031.6,165.2 1034.5,166.1 1037.3,165.1 1040.2,166.6 1043.0,167.4 1045.8,167.0 1048.7,167.3 1051.5,167.3 1054.4,167.1 1057.2,168.3 1060.1,168.5 1063.0,169.1 1065.8,170.3 1068.7,169.8 1071.5,170.0 1074.3,170.9 1077.2,169.8 1080.0,170.3 1082.9,171.1 1085.8,171.3 1088.6,172.4 1091.5,172.3 1094.3,173.7 1097.2,173.9 1100.0,174.0 1102.8,173.8 1105.7,174.6 1108.5,175.1 1111.4,174.6 1114.2,175.7 1117.1,176.2 1120.0,176.4 1122.8,177.5 1125.7,177.7 1128.5,177.1 1131.3,178.0 1134.2,177.9 1137.0,179.1 1139.9,178.8 1142.8,180.2 1145.6,180.4 1148.5,181.1 1151.3,181.1 1154.2,180.9 1157.0,183.1 1159.8,182.7 1162.7,184.0 1165.5,184.1 1168.4,184.9 1171.2,186.1 1174.1,186.0 1177.0,187.2 1179.8,186.4 1182.7,188.3 1185.5,188.4 1188.4,189.2 1191.2,190.1 1194.0,191.0 1196.9,192.4 1199.8,191.5 1202.6,193.2 1205.5,193.6 1208.3,195.4 1211.2,195.5 1214.0,196.7 1216.9,197.2 1219.7,198.6 1222.5,199.6 1225.4,199.8 1228.2,201.0 1231.1,201.2 1234.0,203.0 1236.8,204.3 1239.7,204.6 1242.5,206.5 1245.3,206.0 1248.2,207.3 1251.1,208.7 1253.9,210.4 1256.8,211.9 1259.6,213.2 1262.5,214.6 1265.3,216.4 1268.2,217.3 1271.0,218.4 1273.9,220.1 1276.7,223.5 1279.6,223.0 1282.4,226.0 1285.2,228.8 1288.1,230.5 1291.0,232.3 1293.8,235.2 1296.7,238.4 1299.5,241.4 1302.4,243.3 1305.2,247.2 1308.1,250.2 1310.9,254.3 1313.8,258.3 1316.6,261.3 1319.5,264.5 1322.3,268.8 1325.2,272.7 1328.0,275.1 1330.9,269.9 1333.7,265.6 1336.6,258.8 1339.4,255.1 1342.3,249.9 1345.1,246.0 1348.0,241.9 1350.8,238.7 1353.7,234.0 1356.5,231.0 1359.4,227.7 1362.2,226.2 1365.1,223.3 1367.9,221.5 1370.8,218.6 1373.6,216.9 1376.5,215.7 1379.3,213.3 1382.2,211.9 1385.0,210.2 1387.9,208.2 1390.7,206.0 1393.6,205.8 1396.4,203.9 1399.3,203.0 1402.1,200.1 1405.0,199.0 1407.8,197.5 1410.7,196.9 1413.5,196.7 1416.4,195.3 1419.2,193.8 1422.1,192.7 1424.9,191.9 1427.8,190.2 1430.6,189.4 1433.5,188.1 1436.3,185.7 1439.2,185.4 1442.0,185.1 1444.9,183.1 1447.7,182.1 1450.6,180.7 1453.4,179.6 1456.3,179.3 1459.1,177.5 1462.0,176.1 1464.8,174.0 1467.7,174.2 1470.5,172.5 1473.4,171.6 1476.2,172.0 1479.1,171.0 1481.9,168.8 1484.8,169.3 1487.6,168.2 1490.5,166.7 1493.3,166.6 1496.2,164.6 1499.0,163.9 1501.9,163.0 1504.7,162.3 1507.6,162.5 1510.4,160.6 1513.3,159.9 1516.1,159.2 1519.0,159.0 1521.8,157.9 1524.7,157.8 1527.5,156.3 1530.4,155.3 1533.2,155.0 1536.1,154.5 1538.9,153.3 1541.8,153.2 1544.6,153.2 1547.5,151.2 1550.3,150.8 1553.2,150.6 1556.0,148.8 1558.9,147.9 1561.7,146.8 1564.6,146.7 1567.4,145.8 1570.3,144.5 1573.1,143.7 1576.0,143.3 1578.8,142.0 1581.7,139.8 1584.5,139.5 1587.4,138.4 1590.2,137.5 1593.1,135.9 1595.9,134.5 1598.8,133.3 1601.6,131.4 1604.5,130.9 1607.3,129.2 1610.2,128.3 1613.0,126.1 1615.9,124.8 1618.7,122.9 1621.6,121.1 1624.4,120.1 1627.3,117.5 1630.1,115.7 1633.0,112.4 1635.8,110.3 1638.7,106.2 1641.5,102.9 1644.4,97.9 1647.2,89.4 1650.1,78.8 1652.9,69.3 1655.8,69.7 1658.6,81.3 1661.5,103.7 1664.3,123.0 1667.2,135.8 1670.0,148.6 1672.9,162.9 1675.7,181.1 1678.6,193.5 1681.4,194.9 1684.3,192.5 1687.1,188.2 1690.0,176.1 1692.8,169.6 1695.7,165.3 1698.5,162.8 1701.4,159.6 1704.2,157.6 1707.1,156.2 1709.9,154.2 1712.8,153.2 1715.6,153.2 1717.0,152.8" fill="none" stroke="none" marker-start="url(#mg)" marker-mid="url(#mg)" marker-end="url(#mg)"/>
<path d="M986.0 149.0L1029.3 154.3 1076.3 160.6 1124.3 167.6 1146.8 171.3 1165.4 175.1 1184.1 179.9 1203.6 185.8 1224.4 193.0 1231.6 195.8 1239.6 199.3 1267.2 212.7 1277.4 218.3 1281.9 221.2 1285.7 224.0 1289.7 227.3 1294.2 231.6 1298.9 236.7 1304.4 242.9 1309.2 248.9 1319.9 264.3 1323.7 268.8 1328.2 273.6 1350.0 242.5 1354.0 237.2 1357.5 233.3 1361.7 229.3 1366.2 225.3 1375.2 218.4 1384.7 212.3 1395.5 206.6 1406.0 201.8 1419.0 196.6 1448.5 185.4 1467.3 178.9 1482.3 174.7 1511.8 167.4 1544.5 158.8 1573.1 150.9 1584.8 147.3 1595.1 143.5 1604.8 139.4 1613.6 135.0 1623.1 129.7 1628.1 126.3 1632.3 122.5 1635.1 119.0 1637.8 114.6 1640.8 108.8 1644.3 101.2 1649.6 85.3 1651.8 79.6 1654.1 74.7 1661.9 133.7 1666.4 165.2 1671.9 197.4 1674.7 211.4 1677.2 222.9 1680.5 206.9 1682.7 198.2 1683.7 195.4 1685.0 192.6 1688.2 186.7 1691.2 182.5 1696.2 176.6 1699.5 173.0 1702.5 170.1 1705.7 167.5 1710.2 164.4 1713.7 162.4 1717.0 161.0" fill="none" stroke="#cc0000" stroke-width="3.9" stroke-linejoin="round" stroke-linecap="butt"/>
<polyline points="986.0,310.5 988.9,310.6 991.7,310.3 994.5,311.4 997.4,311.5 1000.2,311.9 1003.1,311.8 1006.0,312.4 1008.8,312.7 1011.6,313.2 1014.5,314.1 1017.4,313.9 1020.2,313.2 1023.0,313.9 1025.9,313.9 1028.8,314.7 1031.6,315.7 1034.5,315.9 1037.3,315.8 1040.2,316.6 1043.0,316.4 1045.8,316.4 1048.7,316.7 1051.5,317.3 1054.4,318.8 1057.2,317.7 1060.1,319.4 1063.0,319.7 1065.8,319.3 1068.7,319.7 1071.5,319.7 1074.3,320.4 1077.2,321.0 1080.0,321.1 1082.9,321.9 1085.8,322.4 1088.6,322.3 1091.5,322.7 1094.3,322.9 1097.2,323.5 1100.0,323.2 1102.8,324.4 1105.7,324.7 1108.5,324.6" fill="none" stroke="#00cc00" stroke-width="7.0" stroke-linejoin="round" stroke-linecap="round"/><polyline points="1111.4,326.6 1114.2,325.6 1117.1,326.1 1120.0,327.2 1122.8,326.7 1125.7,327.8 1128.5,328.0 1131.3,328.9 1134.2,329.9 1137.0,330.7 1139.9,331.7 1142.8,332.2 1145.6,333.0 1148.5,333.3 1151.3,333.4 1154.2,334.8 1157.0,334.6 1159.8,335.2" fill="none" stroke="#00cc00" stroke-width="7.0" stroke-linejoin="round" stroke-linecap="round"/><polyline points="1162.7,336.9 1165.5,337.1 1168.4,337.5 1171.2,338.4 1174.1,339.0 1177.0,338.6 1179.8,339.8 1182.7,339.9 1185.5,341.2 1188.3,341.5" fill="none" stroke="#00cc00" stroke-width="7.0" stroke-linejoin="round" stroke-linecap="round"/><polyline points="1191.2,343.2 1194.0,343.5 1196.9,343.5 1199.8,344.6 1202.6,344.8 1205.5,346.2 1208.3,347.2 1211.2,347.9 1214.0,347.7" fill="none" stroke="#00cc00" stroke-width="7.0" stroke-linejoin="round" stroke-linecap="round"/><polyline points="1216.8,349.3 1219.7,350.7 1222.5,351.6 1225.4,353.0 1228.2,352.8" fill="none" stroke="#00cc00" stroke-width="7.0" stroke-linejoin="round" stroke-linecap="round"/><polyline points="1231.1,354.8 1234.0,355.4 1236.8,357.0 1239.7,358.4 1242.5,359.8 1245.3,360.5" fill="none" stroke="#00cc00" stroke-width="7.0" stroke-linejoin="round" stroke-linecap="round"/><polyline points="1248.2,362.3 1251.0,363.0 1253.9,364.4" fill="none" stroke="#00cc00" stroke-width="7.0" stroke-linejoin="round" stroke-linecap="round"/><polyline points="1256.8,367.0 1259.6,368.4 1262.5,369.4" fill="none" stroke="#00cc00" stroke-width="7.0" stroke-linejoin="round" stroke-linecap="round"/><polyline points="1276.7,380.6 1279.5,381.6" fill="none" stroke="#00cc00" stroke-width="7.0" stroke-linejoin="round" stroke-linecap="round"/><polyline points="1308.0,410.3 1310.9,410.4 1313.8,411.4 1316.6,409.9" fill="none" stroke="#00cc00" stroke-width="7.0" stroke-linejoin="round" stroke-linecap="round"/><polyline points="1348.0,370.9 1350.8,369.8" fill="none" stroke="#00cc00" stroke-width="7.0" stroke-linejoin="round" stroke-linecap="round"/><polyline points="1365.0,357.5 1367.9,357.2" fill="none" stroke="#00cc00" stroke-width="7.0" stroke-linejoin="round" stroke-linecap="round"/><polyline points="1382.2,347.0 1385.0,346.0 1387.8,345.4" fill="none" stroke="#00cc00" stroke-width="7.0" stroke-linejoin="round" stroke-linecap="round"/><polyline points="1390.7,342.9 1393.5,341.3" fill="none" stroke="#00cc00" stroke-width="7.0" stroke-linejoin="round" stroke-linecap="round"/><polyline points="1396.4,338.5 1399.2,337.6" fill="none" stroke="#00cc00" stroke-width="7.0" stroke-linejoin="round" stroke-linecap="round"/><polyline points="1402.1,335.3 1405.0,334.6" fill="none" stroke="#00cc00" stroke-width="7.0" stroke-linejoin="round" stroke-linecap="round"/><polyline points="1419.2,324.5 1422.0,323.8" fill="none" stroke="#00cc00" stroke-width="7.0" stroke-linejoin="round" stroke-linecap="round"/><polyline points="1424.9,321.1 1427.8,319.6 1430.6,318.6 1433.5,317.0 1436.3,316.3 1439.2,315.4" fill="none" stroke="#00cc00" stroke-width="7.0" stroke-linejoin="round" stroke-linecap="round"/><polyline points="1447.7,309.9 1450.5,308.3" fill="none" stroke="#00cc00" stroke-width="7.0" stroke-linejoin="round" stroke-linecap="round"/><polyline points="1453.4,305.0 1456.2,304.0" fill="none" stroke="#00cc00" stroke-width="7.0" stroke-linejoin="round" stroke-linecap="round"/><polyline points="1544.6,361.0 1547.5,362.6" fill="none" stroke="#00cc00" stroke-width="7.0" stroke-linejoin="round" stroke-linecap="round"/><polyline points="1564.5,337.2 1567.4,335.8" fill="none" stroke="#00cc00" stroke-width="7.0" stroke-linejoin="round" stroke-linecap="round"/><polyline points="1578.8,326.7 1581.6,325.3" fill="none" stroke="#00cc00" stroke-width="7.0" stroke-linejoin="round" stroke-linecap="round"/><polyline points="1584.5,323.3 1587.3,322.6" fill="none" stroke="#00cc00" stroke-width="7.0" stroke-linejoin="round" stroke-linecap="round"/><polyline points="1590.2,320.1 1593.0,318.5 1595.9,317.2" fill="none" stroke="#00cc00" stroke-width="7.0" stroke-linejoin="round" stroke-linecap="round"/><polyline points="1598.8,314.8 1601.6,314.3 1604.5,313.9 1607.3,312.3" fill="none" stroke="#00cc00" stroke-width="7.0" stroke-linejoin="round" stroke-linecap="round"/><polyline points="1610.2,310.6 1613.0,310.0" fill="none" stroke="#00cc00" stroke-width="7.0" stroke-linejoin="round" stroke-linecap="round"/><polyline points="1615.8,307.8 1618.7,307.6 1621.5,307.0 1624.4,306.2 1627.2,304.5 1630.1,304.5 1633.0,304.1" fill="none" stroke="#00cc00" stroke-width="7.0" stroke-linejoin="round" stroke-linecap="round"/><polyline points="1635.8,302.2 1638.7,301.9" fill="none" stroke="#00cc00" stroke-width="7.0" stroke-linejoin="round" stroke-linecap="round"/><polyline points="1641.5,300.0 1644.3,299.0 1647.2,299.5 1650.0,298.5 1652.9,297.7 1655.8,296.5 1658.6,295.9 1661.5,295.7 1664.3,295.4" fill="none" stroke="#00cc00" stroke-width="7.0" stroke-linejoin="round" stroke-linecap="round"/><polyline points="1667.2,293.7 1670.0,292.3 1672.8,293.2 1675.7,292.3 1678.5,291.9 1681.4,291.1 1684.2,291.7 1687.1,290.2 1690.0,290.0 1692.8,288.4 1695.7,288.6 1698.5,288.2 1701.3,288.1 1704.2,288.0 1707.0,287.2 1709.9,288.1 1712.8,286.5 1715.6,286.6 1717.0,286.9" fill="none" stroke="#00cc00" stroke-width="7.0" stroke-linejoin="round" stroke-linecap="round"/><polyline points="986.0,310.5 988.9,310.6 991.7,310.3 994.5,311.4 997.4,311.5 1000.2,311.9 1003.1,311.8 1006.0,312.4 1008.8,312.7 1011.6,313.2 1014.5,314.1 1017.4,313.9 1020.2,313.2 1023.0,313.9 1025.9,313.9 1028.8,314.7 1031.6,315.7 1034.5,315.9 1037.3,315.8 1040.2,316.6 1043.0,316.4 1045.8,316.4 1048.7,316.7 1051.5,317.3 1054.4,318.8 1057.2,317.7 1060.1,319.4 1063.0,319.7 1065.8,319.3 1068.7,319.7 1071.5,319.7 1074.3,320.4 1077.2,321.0 1080.0,321.1 1082.9,321.9 1085.8,322.4 1088.6,322.3 1091.5,322.7 1094.3,322.9 1097.2,323.5 1100.0,323.2 1102.8,324.4 1105.7,324.7 1108.5,324.6 1111.4,326.6 1114.2,325.6 1117.1,326.1 1120.0,327.2 1122.8,326.7 1125.7,327.8 1128.5,328.0 1131.3,328.9 1134.2,329.9 1137.0,330.7 1139.9,331.7 1142.8,332.2 1145.6,333.0 1148.5,333.3 1151.3,333.4 1154.2,334.8 1157.0,334.6 1159.8,335.2 1162.7,336.9 1165.5,337.1 1168.4,337.5 1171.2,338.4 1174.1,339.0 1177.0,338.6 1179.8,339.8 1182.7,339.9 1185.5,341.2 1188.3,341.5 1191.2,343.2 1194.0,343.5 1196.9,343.5 1199.8,344.6 1202.6,344.8 1205.5,346.2 1208.3,347.2 1211.2,347.9 1214.0,347.7 1216.8,349.3 1219.7,350.7 1222.5,351.6 1225.4,353.0 1228.2,352.8 1231.1,354.8 1234.0,355.4 1236.8,357.0 1239.7,358.4 1242.5,359.8 1245.3,360.5 1248.2,362.3 1251.0,363.0 1253.9,364.4 1256.8,367.0 1259.6,368.4 1262.5,369.4 1265.3,371.6 1268.2,374.0 1271.0,376.8 1273.8,378.6 1276.7,380.6 1279.5,381.6 1282.4,384.8 1285.2,387.5 1288.1,390.2 1291.0,393.1 1293.8,395.8 1296.7,399.8 1299.5,402.5 1302.3,404.8 1305.2,406.9 1308.0,410.3 1310.9,410.4 1313.8,411.4 1316.6,409.9 1319.5,406.0 1322.3,404.2 1325.2,401.1 1328.0,398.5 1330.8,394.6 1333.7,390.9 1336.5,385.4 1339.4,380.5 1342.2,377.3 1345.1,373.6 1348.0,370.9 1350.8,369.8 1353.7,366.0 1356.5,364.0 1359.3,362.3 1362.2,359.9 1365.0,357.5 1367.9,357.2 1370.8,354.4 1373.6,352.7 1376.5,350.9 1379.3,348.8 1382.2,347.0 1385.0,346.0 1387.8,345.4 1390.7,342.9 1393.5,341.3 1396.4,338.5 1399.2,337.6 1402.1,335.3 1405.0,334.6 1407.8,332.3 1410.7,330.6 1413.5,328.7 1416.3,326.7 1419.2,324.5 1422.0,323.8 1424.9,321.1 1427.8,319.6 1430.6,318.6 1433.5,317.0 1436.3,316.3 1439.2,315.4 1442.0,313.5 1444.8,311.8 1447.7,309.9 1450.5,308.3 1453.4,305.0 1456.2,304.0 1459.1,301.1 1462.0,298.8 1464.8,297.1 1467.7,294.5 1470.5,292.5 1473.3,290.1 1476.2,285.6 1479.0,283.9 1481.9,281.8 1484.8,277.7 1487.6,273.9 1490.5,268.3 1493.3,262.0 1496.2,255.5 1499.0,246.5 1501.8,229.3 1504.7,219.3 1507.6,221.2 1510.4,235.6 1513.3,253.1 1516.1,269.6 1519.0,282.2 1521.8,291.8 1524.7,300.0 1527.5,309.4 1530.4,316.8 1533.2,326.3 1536.1,335.1 1538.9,346.2 1541.8,353.6 1544.6,361.0 1547.5,362.6 1550.3,358.9 1553.1,354.1 1556.0,351.7 1558.8,345.9 1561.7,341.6 1564.5,337.2 1567.4,335.8 1570.2,333.2 1573.1,330.0 1576.0,328.3 1578.8,326.7 1581.6,325.3 1584.5,323.3 1587.3,322.6 1590.2,320.1 1593.0,318.5 1595.9,317.2 1598.8,314.8 1601.6,314.3 1604.5,313.9 1607.3,312.3 1610.2,310.6 1613.0,310.0 1615.8,307.8 1618.7,307.6 1621.5,307.0 1624.4,306.2 1627.2,304.5 1630.1,304.5 1633.0,304.1 1635.8,302.2 1638.7,301.9 1641.5,300.0 1644.3,299.0 1647.2,299.5 1650.0,298.5 1652.9,297.7 1655.8,296.5 1658.6,295.9 1661.5,295.7 1664.3,295.4 1667.2,293.7 1670.0,292.3 1672.8,293.2 1675.7,292.3 1678.5,291.9 1681.4,291.1 1684.2,291.7 1687.1,290.2 1690.0,290.0 1692.8,288.4 1695.7,288.6 1698.5,288.2 1701.3,288.1 1704.2,288.0 1707.0,287.2 1709.9,288.1 1712.8,286.5 1715.6,286.6 1717.0,286.9" fill="none" stroke="none" marker-start="url(#mg)" marker-mid="url(#mg)" marker-end="url(#mg)"/>
<path d="M986.0 297.5L1025.3 302.5 1076.0 309.6 1098.8 313.2 1117.3 316.7 1132.8 320.1 1153.3 324.9 1177.8 330.9 1195.8 335.6 1208.9 339.3 1219.1 342.5 1230.9 346.6 1240.1 350.2 1246.9 353.1 1252.9 356.1 1258.9 359.5 1264.4 363.1 1269.6 366.9 1274.6 371.1 1279.4 375.5 1284.1 380.5 1288.1 385.8 1292.9 393.6 1304.1 413.7 1313.4 431.8 1328.7 406.0 1336.9 389.8 1339.9 384.5 1341.7 381.9 1343.2 380.1 1346.4 376.8 1349.7 373.8 1353.2 371.0 1357.2 368.1 1369.9 359.9 1384.9 349.8 1395.2 343.2 1416.7 329.9 1422.5 326.5 1427.7 323.7 1432.2 321.7 1440.2 318.8 1443.5 317.1 1447.2 314.9 1470.5 298.6 1475.5 294.5 1479.7 290.3 1484.5 284.7 1489.0 278.3 1492.5 272.3 1495.5 265.8 1497.5 260.2 1499.2 254.3 1503.2 236.4 1506.5 223.2 1510.8 246.8 1514.5 269.6 1516.3 279.0 1518.8 289.3 1528.3 321.8 1531.3 333.5 1533.5 344.2 1536.5 360.3 1540.5 385.1 1542.5 394.6 1544.3 401.5 1546.8 386.0 1549.1 375.3 1550.8 368.6 1552.6 362.9 1554.1 359.0 1555.8 355.6 1558.1 352.2 1560.6 349.6 1567.3 344.9 1580.8 333.7 1584.1 331.2 1586.8 329.4 1591.1 327.2 1595.9 325.0 1606.6 320.8 1631.2 312.4 1638.4 310.3 1644.7 308.7 1658.4 306.1 1674.0 304.0 1697.7 301.5 1717.0 300.1" fill="none" stroke="#cc0000" stroke-width="3.9" stroke-linejoin="round" stroke-linecap="butt"/>
<polyline points="986.0,471.0 988.9,472.2 991.7,472.5 994.5,472.3 997.4,473.6 1000.2,473.0 1003.1,473.4 1006.0,473.0 1008.8,472.9 1011.6,473.8 1014.5,474.2 1017.4,474.4 1020.2,475.3 1023.0,474.1 1025.9,475.0 1028.8,474.9" fill="none" stroke="#575757" stroke-width="7.0" stroke-linejoin="round" stroke-linecap="round"/><polyline points="1031.6,476.8 1034.5,476.2 1037.3,476.6 1040.2,476.6 1043.0,477.9 1045.8,477.6 1048.7,478.2 1051.5,477.4" fill="none" stroke="#575757" stroke-width="7.0" stroke-linejoin="round" stroke-linecap="round"/><polyline points="1054.4,479.4 1057.2,479.3 1060.1,479.8 1063.0,480.5 1065.8,480.1 1068.7,480.5 1071.5,481.3 1074.3,481.6 1077.2,481.6 1080.0,482.1 1082.9,482.3 1085.8,483.3 1088.6,483.8 1091.5,483.7 1094.3,485.1 1097.2,483.8 1100.0,484.9 1102.8,486.3 1105.7,485.7 1108.5,485.5" fill="none" stroke="#575757" stroke-width="7.0" stroke-linejoin="round" stroke-linecap="round"/><polyline points="1111.4,487.5 1114.2,487.5 1117.1,487.1 1120.0,488.6 1122.8,488.2 1125.7,488.5 1128.5,489.6 1131.3,489.9 1134.2,490.2 1137.0,491.1 1139.9,491.3 1142.8,492.4 1145.6,492.9 1148.5,493.9 1151.3,493.9 1154.2,494.0 1157.0,494.7 1159.8,495.9 1162.7,497.4 1165.5,497.7 1168.4,497.7 1171.2,499.2 1174.1,498.9" fill="none" stroke="#575757" stroke-width="7.0" stroke-linejoin="round" stroke-linecap="round"/><polyline points="1177.0,500.8 1179.8,500.9 1182.7,502.3 1185.5,503.0 1188.4,503.5 1191.2,504.7 1194.0,504.9 1196.9,506.4 1199.8,508.0" fill="none" stroke="#575757" stroke-width="7.0" stroke-linejoin="round" stroke-linecap="round"/><polyline points="1202.6,510.6 1205.5,510.0 1208.3,510.9 1211.2,511.8" fill="none" stroke="#575757" stroke-width="7.0" stroke-linejoin="round" stroke-linecap="round"/><polyline points="1214.0,514.3 1216.9,514.6" fill="none" stroke="#575757" stroke-width="7.0" stroke-linejoin="round" stroke-linecap="round"/><polyline points="1222.5,518.8 1225.4,519.6" fill="none" stroke="#575757" stroke-width="7.0" stroke-linejoin="round" stroke-linecap="round"/><polyline points="1228.2,522.4 1231.1,523.5 1234.0,524.1 1236.8,525.6 1239.7,527.1" fill="none" stroke="#575757" stroke-width="7.0" stroke-linejoin="round" stroke-linecap="round"/><polyline points="1259.6,547.9 1262.5,548.6" fill="none" stroke="#575757" stroke-width="7.0" stroke-linejoin="round" stroke-linecap="round"/><polyline points="1265.3,550.3 1268.2,550.2" fill="none" stroke="#575757" stroke-width="7.0" stroke-linejoin="round" stroke-linecap="round"/><polyline points="1436.3,559.8 1439.2,559.1" fill="none" stroke="#575757" stroke-width="7.0" stroke-linejoin="round" stroke-linecap="round"/><polyline points="1467.7,521.5 1470.5,520.0" fill="none" stroke="#575757" stroke-width="7.0" stroke-linejoin="round" stroke-linecap="round"/><polyline points="1473.4,515.7 1476.2,514.5" fill="none" stroke="#575757" stroke-width="7.0" stroke-linejoin="round" stroke-linecap="round"/><polyline points="1481.9,509.7 1484.8,508.2" fill="none" stroke="#575757" stroke-width="7.0" stroke-linejoin="round" stroke-linecap="round"/><polyline points="1487.6,506.5 1490.5,505.3" fill="none" stroke="#575757" stroke-width="7.0" stroke-linejoin="round" stroke-linecap="round"/><polyline points="1493.3,502.9 1496.2,501.5 1499.0,500.1 1501.9,499.8" fill="none" stroke="#575757" stroke-width="7.0" stroke-linejoin="round" stroke-linecap="round"/><polyline points="1507.6,495.8 1510.4,494.8 1513.3,493.4 1516.1,492.6 1519.0,491.5 1521.8,491.4" fill="none" stroke="#575757" stroke-width="7.0" stroke-linejoin="round" stroke-linecap="round"/><polyline points="1524.7,488.1 1527.5,488.5 1530.4,487.1 1533.2,485.4 1536.1,484.6 1538.9,483.4 1541.8,482.7 1544.6,482.2" fill="none" stroke="#575757" stroke-width="7.0" stroke-linejoin="round" stroke-linecap="round"/><polyline points="1547.5,479.9 1550.3,480.4" fill="none" stroke="#575757" stroke-width="7.0" stroke-linejoin="round" stroke-linecap="round"/><polyline points="1553.2,478.6 1556.0,478.7 1558.9,477.3 1561.7,476.8 1564.6,475.7 1567.4,475.1 1570.3,473.8 1573.1,472.6 1576.0,472.5 1578.8,471.8 1581.7,471.7" fill="none" stroke="#575757" stroke-width="7.0" stroke-linejoin="round" stroke-linecap="round"/><polyline points="1584.5,469.0 1587.4,469.1 1590.2,469.1" fill="none" stroke="#575757" stroke-width="7.0" stroke-linejoin="round" stroke-linecap="round"/><polyline points="1593.1,467.2 1595.9,467.0 1598.8,467.5 1601.6,466.5" fill="none" stroke="#575757" stroke-width="7.0" stroke-linejoin="round" stroke-linecap="round"/><polyline points="1604.5,464.7 1607.3,465.3 1610.2,464.5 1613.0,463.7 1615.9,462.9 1618.7,462.3 1621.6,461.1 1624.4,460.7 1627.3,460.8 1630.1,460.0 1633.0,460.4 1635.8,458.8 1638.7,457.2 1641.5,457.8 1644.4,457.6 1647.2,457.2 1650.1,456.6 1652.9,455.6 1655.8,456.3 1658.6,454.8 1661.5,455.0 1664.3,454.0 1667.2,453.1 1670.0,453.9" fill="none" stroke="#575757" stroke-width="7.0" stroke-linejoin="round" stroke-linecap="round"/><polyline points="1672.9,451.5 1675.7,451.8 1678.6,451.9 1681.4,451.0 1684.3,451.1 1687.1,450.1 1690.0,449.4 1692.8,450.2" fill="none" stroke="#575757" stroke-width="7.0" stroke-linejoin="round" stroke-linecap="round"/><polyline points="1695.7,448.5 1698.5,448.0 1701.4,447.0 1704.2,446.7 1707.1,446.8 1709.9,446.3 1712.8,445.5 1715.6,444.6 1717.0,445.0" fill="none" stroke="#575757" stroke-width="7.0" stroke-linejoin="round" stroke-linecap="round"/><polyline points="986.0,471.0 988.9,472.2 991.7,472.5 994.5,472.3 997.4,473.6 1000.2,473.0 1003.1,473.4 1006.0,473.0 1008.8,472.9 1011.6,473.8 1014.5,474.2 1017.4,474.4 1020.2,475.3 1023.0,474.1 1025.9,475.0 1028.8,474.9 1031.6,476.8 1034.5,476.2 1037.3,476.6 1040.2,476.6 1043.0,477.9 1045.8,477.6 1048.7,478.2 1051.5,477.4 1054.4,479.4 1057.2,479.3 1060.1,479.8 1063.0,480.5 1065.8,480.1 1068.7,480.5 1071.5,481.3 1074.3,481.6 1077.2,481.6 1080.0,482.1 1082.9,482.3 1085.8,483.3 1088.6,483.8 1091.5,483.7 1094.3,485.1 1097.2,483.8 1100.0,484.9 1102.8,486.3 1105.7,485.7 1108.5,485.5 1111.4,487.5 1114.2,487.5 1117.1,487.1 1120.0,488.6 1122.8,488.2 1125.7,488.5 1128.5,489.6 1131.3,489.9 1134.2,490.2 1137.0,491.1 1139.9,491.3 1142.8,492.4 1145.6,492.9 1148.5,493.9 1151.3,493.9 1154.2,494.0 1157.0,494.7 1159.8,495.9 1162.7,497.4 1165.5,497.7 1168.4,497.7 1171.2,499.2 1174.1,498.9 1177.0,500.8 1179.8,500.9 1182.7,502.3 1185.5,503.0 1188.4,503.5 1191.2,504.7 1194.0,504.9 1196.9,506.4 1199.8,508.0 1202.6,510.6 1205.5,510.0 1208.3,510.9 1211.2,511.8 1214.0,514.3 1216.9,514.6 1219.7,516.6 1222.5,518.8 1225.4,519.6 1228.2,522.4 1231.1,523.5 1234.0,524.1 1236.8,525.6 1239.7,527.1 1242.5,529.3 1245.3,533.1 1248.2,536.4 1251.1,539.4 1253.9,542.3 1256.8,545.0 1259.6,547.9 1262.5,548.6 1265.3,550.3 1268.2,550.2 1271.0,547.6 1273.9,543.4 1276.7,539.2 1279.6,535.0 1282.4,529.6 1285.2,522.6 1288.1,518.3 1291.0,514.0 1293.8,510.0 1296.7,504.6 1299.5,501.1 1302.4,496.5 1305.2,493.8 1308.1,488.9 1310.9,484.8 1313.8,481.0 1316.6,478.2 1319.5,474.5 1322.3,469.8 1325.2,466.2 1328.0,460.5 1330.9,455.3 1333.7,449.2 1336.6,443.3 1339.4,437.0 1342.2,428.3 1345.1,416.9 1348.0,399.8 1350.8,388.1 1353.7,383.1 1356.5,392.3 1359.4,406.7 1362.2,428.8 1365.1,439.4 1367.9,448.5 1370.8,457.9 1373.6,463.7 1376.5,468.2 1379.3,472.5 1382.2,476.4 1385.0,478.9 1387.9,482.1 1390.7,485.3 1393.6,489.1 1396.4,493.8 1399.3,497.4 1402.1,500.4 1405.0,504.0 1407.8,507.7 1410.7,511.8 1413.5,514.8 1416.4,519.8 1419.2,524.2 1422.1,530.5 1424.9,537.4 1427.8,544.1 1430.6,549.6 1433.5,554.9 1436.3,559.8 1439.2,559.1 1442.0,555.9 1444.9,552.2 1447.7,546.6 1450.6,542.3 1453.4,537.5 1456.3,532.6 1459.1,529.2 1462.0,526.4 1464.8,523.4 1467.7,521.5 1470.5,520.0 1473.4,515.7 1476.2,514.5 1479.1,511.9 1481.9,509.7 1484.8,508.2 1487.6,506.5 1490.5,505.3 1493.3,502.9 1496.2,501.5 1499.0,500.1 1501.9,499.8 1504.7,498.0 1507.6,495.8 1510.4,494.8 1513.3,493.4 1516.1,492.6 1519.0,491.5 1521.8,491.4 1524.7,488.1 1527.5,488.5 1530.4,487.1 1533.2,485.4 1536.1,484.6 1538.9,483.4 1541.8,482.7 1544.6,482.2 1547.5,479.9 1550.3,480.4 1553.2,478.6 1556.0,478.7 1558.9,477.3 1561.7,476.8 1564.6,475.7 1567.4,475.1 1570.3,473.8 1573.1,472.6 1576.0,472.5 1578.8,471.8 1581.7,471.7 1584.5,469.0 1587.4,469.1 1590.2,469.1 1593.1,467.2 1595.9,467.0 1598.8,467.5 1601.6,466.5 1604.5,464.7 1607.3,465.3 1610.2,464.5 1613.0,463.7 1615.9,462.9 1618.7,462.3 1621.6,461.1 1624.4,460.7 1627.3,460.8 1630.1,460.0 1633.0,460.4 1635.8,458.8 1638.7,457.2 1641.5,457.8 1644.4,457.6 1647.2,457.2 1650.1,456.6 1652.9,455.6 1655.8,456.3 1658.6,454.8 1661.5,455.0 1664.3,454.0 1667.2,453.1 1670.0,453.9 1672.9,451.5 1675.7,451.8 1678.6,451.9 1681.4,451.0 1684.3,451.1 1687.1,450.1 1690.0,449.4 1692.8,450.2 1695.7,448.5 1698.5,448.0 1701.4,447.0 1704.2,446.7 1707.1,446.8 1709.9,446.3 1712.8,445.5 1715.6,444.6 1717.0,445.0" fill="none" stroke="none" marker-start="url(#mk)" marker-mid="url(#mk)" marker-end="url(#mk)"/>
<path d="M986.0 459.2L1020.8 462.9 1061.3 468.1 1086.3 471.7 1106.5 475.4 1114.8 477.3 1123.8 479.6 1144.5 485.6 1183.0 497.6 1192.8 501.0 1201.5 504.5 1207.0 506.9 1211.5 509.1 1216.3 511.9 1221.3 515.0 1227.0 519.1 1231.5 522.5 1235.3 525.9 1238.5 529.2 1240.8 531.9 1242.8 534.8 1245.0 538.5 1247.8 543.7 1253.5 555.5 1258.0 567.2 1260.0 571.4 1261.8 573.7 1264.0 576.0 1265.8 577.2 1267.3 577.7 1282.3 540.4 1284.8 534.7 1287.8 528.6 1292.6 520.0 1300.6 506.5 1322.6 471.7 1328.2 461.6 1332.4 452.8 1337.2 440.9 1341.4 428.1 1343.4 420.9 1347.7 402.4 1350.4 392.7 1353.2 384.3 1362.2 425.2 1364.2 433.5 1369.7 451.8 1372.2 458.9 1374.7 465.2 1377.7 471.5 1381.5 477.9 1391.0 491.9 1401.5 506.6 1407.8 516.4 1412.3 524.1 1416.6 532.5 1425.6 554.3 1431.1 566.3 1436.6 577.7 1444.1 561.4 1452.6 545.1 1457.6 536.7 1459.6 534.0 1461.9 531.5 1465.6 528.0 1471.9 522.9 1477.1 519.0 1482.9 515.2 1492.4 509.3 1500.4 504.6 1507.6 500.8 1514.1 497.8 1522.6 494.4 1531.4 491.2 1540.4 488.2 1549.4 485.5 1558.4 483.1 1568.9 480.6 1591.9 475.9 1639.5 467.5 1663.2 463.9 1674.5 462.6 1690.2 461.2 1704.2 460.2 1717.0 459.5" fill="none" stroke="#ff0000" stroke-width="3.9" stroke-linejoin="round" stroke-linecap="butt"/>
<polyline points="986.0,608.2 988.9,609.1 991.7,609.4 994.5,609.4 997.4,610.1 1000.2,610.0 1003.1,610.2 1006.0,611.8 1008.8,611.6 1011.6,612.1 1014.5,611.9 1017.4,612.7 1020.2,612.9 1023.1,613.5 1025.9,614.4 1028.8,613.5 1031.6,614.1 1034.5,614.3 1037.3,613.0 1040.2,614.5 1043.0,615.6 1045.9,616.3 1048.7,616.1 1051.5,617.4 1054.4,617.9 1057.2,617.5 1060.1,618.9 1063.0,619.6 1065.8,619.5 1068.7,619.3" fill="none" stroke="#00cc00" stroke-width="7.0" stroke-linejoin="round" stroke-linecap="round"/><polyline points="1071.5,621.1 1074.4,620.8 1077.2,621.3 1080.0,622.1 1082.9,622.4 1085.8,623.8 1088.6,624.3 1091.5,625.1 1094.3,625.5 1097.2,625.5 1100.0,626.5 1102.9,627.7 1105.7,627.9" fill="none" stroke="#00cc00" stroke-width="7.0" stroke-linejoin="round" stroke-linecap="round"/><polyline points="1108.5,630.3 1111.4,629.6 1114.2,630.4" fill="none" stroke="#00cc00" stroke-width="7.0" stroke-linejoin="round" stroke-linecap="round"/><polyline points="1117.1,632.3 1120.0,633.1 1122.8,634.0 1125.7,635.3" fill="none" stroke="#00cc00" stroke-width="7.0" stroke-linejoin="round" stroke-linecap="round"/><polyline points="1131.4,638.9 1134.2,640.5 1137.1,641.7" fill="none" stroke="#00cc00" stroke-width="7.0" stroke-linejoin="round" stroke-linecap="round"/><polyline points="1145.6,648.4 1148.5,648.9" fill="none" stroke="#00cc00" stroke-width="7.0" stroke-linejoin="round" stroke-linecap="round"/><polyline points="1159.9,659.5 1162.7,661.1 1165.6,661.7 1168.4,660.4" fill="none" stroke="#00cc00" stroke-width="7.0" stroke-linejoin="round" stroke-linecap="round"/><polyline points="1253.9,612.3 1256.8,613.8" fill="none" stroke="#00cc00" stroke-width="7.0" stroke-linejoin="round" stroke-linecap="round"/><polyline points="1259.6,616.4 1262.5,617.2" fill="none" stroke="#00cc00" stroke-width="7.0" stroke-linejoin="round" stroke-linecap="round"/><polyline points="1265.3,619.5 1268.2,619.4" fill="none" stroke="#00cc00" stroke-width="7.0" stroke-linejoin="round" stroke-linecap="round"/><polyline points="1273.9,623.5 1276.7,624.1 1279.6,625.1" fill="none" stroke="#00cc00" stroke-width="7.0" stroke-linejoin="round" stroke-linecap="round"/><polyline points="1282.4,626.9 1285.3,627.6" fill="none" stroke="#00cc00" stroke-width="7.0" stroke-linejoin="round" stroke-linecap="round"/><polyline points="1288.1,629.4 1291.0,629.5" fill="none" stroke="#00cc00" stroke-width="7.0" stroke-linejoin="round" stroke-linecap="round"/><polyline points="1293.8,631.7 1296.7,632.8" fill="none" stroke="#00cc00" stroke-width="7.0" stroke-linejoin="round" stroke-linecap="round"/><polyline points="1299.5,634.6 1302.4,636.0 1305.2,636.4" fill="none" stroke="#00cc00" stroke-width="7.0" stroke-linejoin="round" stroke-linecap="round"/><polyline points="1308.1,638.9 1310.9,639.2 1313.8,639.9 1316.6,641.2" fill="none" stroke="#00cc00" stroke-width="7.0" stroke-linejoin="round" stroke-linecap="round"/><polyline points="1319.5,644.7 1322.3,645.4 1325.2,646.7 1328.0,648.2 1330.9,649.8" fill="none" stroke="#00cc00" stroke-width="7.0" stroke-linejoin="round" stroke-linecap="round"/><polyline points="1333.7,652.7 1336.6,653.9" fill="none" stroke="#00cc00" stroke-width="7.0" stroke-linejoin="round" stroke-linecap="round"/><polyline points="1339.4,656.8 1342.3,657.8 1345.1,659.0" fill="none" stroke="#00cc00" stroke-width="7.0" stroke-linejoin="round" stroke-linecap="round"/><polyline points="1387.9,731.2 1390.7,732.6" fill="none" stroke="#00cc00" stroke-width="7.0" stroke-linejoin="round" stroke-linecap="round"/><polyline points="1433.5,656.7 1436.3,655.7 1439.2,654.3" fill="none" stroke="#00cc00" stroke-width="7.0" stroke-linejoin="round" stroke-linecap="round"/><polyline points="1442.0,651.9 1444.9,651.0" fill="none" stroke="#00cc00" stroke-width="7.0" stroke-linejoin="round" stroke-linecap="round"/><polyline points="1447.7,649.2 1450.6,647.6" fill="none" stroke="#00cc00" stroke-width="7.0" stroke-linejoin="round" stroke-linecap="round"/><polyline points="1453.4,645.8 1456.3,644.3 1459.1,643.0 1462.0,641.8 1464.8,640.6 1467.7,639.2 1470.5,637.6 1473.4,636.6 1476.2,635.6" fill="none" stroke="#00cc00" stroke-width="7.0" stroke-linejoin="round" stroke-linecap="round"/><polyline points="1479.1,633.5 1481.9,632.8 1484.8,631.7 1487.6,630.9 1490.5,629.8 1493.3,628.8 1496.2,627.4 1499.0,627.2 1501.9,626.0" fill="none" stroke="#00cc00" stroke-width="7.0" stroke-linejoin="round" stroke-linecap="round"/><polyline points="1504.7,624.1 1507.6,623.9 1510.4,622.4 1513.3,622.9" fill="none" stroke="#00cc00" stroke-width="7.0" stroke-linejoin="round" stroke-linecap="round"/><polyline points="1516.1,620.8 1519.0,619.9 1521.8,619.3 1524.7,618.2 1527.5,617.4 1530.4,617.3 1533.2,615.8 1536.1,615.2 1538.9,614.5" fill="none" stroke="#00cc00" stroke-width="7.0" stroke-linejoin="round" stroke-linecap="round"/><polyline points="1541.8,612.6 1544.6,613.1 1547.5,611.8 1550.3,611.2" fill="none" stroke="#00cc00" stroke-width="7.0" stroke-linejoin="round" stroke-linecap="round"/><polyline points="1553.2,609.5 1556.0,609.6 1558.9,608.6 1561.7,607.4 1564.6,608.1 1567.4,606.5 1570.3,605.4 1573.1,604.9 1576.0,604.6 1578.8,604.0 1581.7,603.0 1584.5,602.7 1587.4,602.2" fill="none" stroke="#00cc00" stroke-width="7.0" stroke-linejoin="round" stroke-linecap="round"/><polyline points="1590.2,600.2 1593.1,599.9 1595.9,599.0 1598.8,599.0 1601.6,599.0 1604.5,598.0 1607.3,596.6 1610.2,596.4 1613.0,596.5 1615.9,595.2 1618.7,594.9 1621.6,594.6 1624.4,593.1 1627.3,593.9 1630.1,593.2 1633.0,592.9 1635.8,591.6 1638.7,591.3 1641.5,590.9 1644.4,590.9 1647.2,590.4 1650.1,590.0 1652.9,590.5 1655.8,589.8 1658.6,588.4 1661.5,588.0 1664.3,588.8 1667.2,587.4 1670.0,587.9 1672.9,587.6 1675.7,586.1 1678.6,585.9 1681.4,585.7 1684.3,584.8 1687.1,584.4 1690.0,584.3 1692.8,584.6 1695.7,583.6 1698.5,583.3 1701.4,582.8 1704.2,582.0 1707.1,583.1" fill="none" stroke="#00cc00" stroke-width="7.0" stroke-linejoin="round" stroke-linecap="round"/><polyline points="1709.9,580.9 1712.8,581.4 1715.6,581.6 1717.0,580.5" fill="none" stroke="#00cc00" stroke-width="7.0" stroke-linejoin="round" stroke-linecap="round"/><polyline points="986.0,608.2 988.9,609.1 991.7,609.4 994.5,609.4 997.4,610.1 1000.2,610.0 1003.1,610.2 1006.0,611.8 1008.8,611.6 1011.6,612.1 1014.5,611.9 1017.4,612.7 1020.2,612.9 1023.1,613.5 1025.9,614.4 1028.8,613.5 1031.6,614.1 1034.5,614.3 1037.3,613.0 1040.2,614.5 1043.0,615.6 1045.9,616.3 1048.7,616.1 1051.5,617.4 1054.4,617.9 1057.2,617.5 1060.1,618.9 1063.0,619.6 1065.8,619.5 1068.7,619.3 1071.5,621.1 1074.4,620.8 1077.2,621.3 1080.0,622.1 1082.9,622.4 1085.8,623.8 1088.6,624.3 1091.5,625.1 1094.3,625.5 1097.2,625.5 1100.0,626.5 1102.9,627.7 1105.7,627.9 1108.5,630.3 1111.4,629.6 1114.2,630.4 1117.1,632.3 1120.0,633.1 1122.8,634.0 1125.7,635.3 1128.5,637.1 1131.4,638.9 1134.2,640.5 1137.1,641.7 1139.9,643.9 1142.8,646.1 1145.6,648.4 1148.5,648.9 1151.3,652.4 1154.2,654.8 1157.0,657.4 1159.9,659.5 1162.7,661.1 1165.6,661.7 1168.4,660.4 1171.2,657.8 1174.1,654.4 1177.0,647.2 1179.8,641.7 1182.7,636.5 1185.5,631.1 1188.4,624.7 1191.2,617.3 1194.1,602.4 1196.9,589.2 1199.8,576.1 1202.6,559.3 1205.5,544.0 1208.3,533.5 1211.2,530.9 1214.0,536.0 1216.9,542.3 1219.7,554.0 1222.6,565.0 1225.4,573.8 1228.3,581.2 1231.1,586.4 1234.0,590.7 1236.8,595.5 1239.7,597.8 1242.5,601.1 1245.4,604.2 1248.2,607.2 1251.1,610.0 1253.9,612.3 1256.8,613.8 1259.6,616.4 1262.5,617.2 1265.3,619.5 1268.2,619.4 1271.0,621.2 1273.9,623.5 1276.7,624.1 1279.6,625.1 1282.4,626.9 1285.3,627.6 1288.1,629.4 1291.0,629.5 1293.8,631.7 1296.7,632.8 1299.5,634.6 1302.4,636.0 1305.2,636.4 1308.1,638.9 1310.9,639.2 1313.8,639.9 1316.6,641.2 1319.5,644.7 1322.3,645.4 1325.2,646.7 1328.0,648.2 1330.9,649.8 1333.7,652.7 1336.6,653.9 1339.4,656.8 1342.3,657.8 1345.1,659.0 1348.0,662.8 1350.8,664.6 1353.7,667.3 1356.5,671.0 1359.4,673.2 1362.2,677.4 1365.1,680.5 1367.9,684.8 1370.8,691.0 1373.6,696.8 1376.5,704.4 1379.3,711.1 1382.2,718.0 1385.0,725.3 1387.9,731.2 1390.7,732.6 1393.6,729.3 1396.4,722.1 1399.3,711.3 1402.1,700.4 1405.0,693.7 1407.8,687.2 1410.7,680.7 1413.5,675.9 1416.4,671.8 1419.2,669.3 1422.1,665.7 1424.9,663.8 1427.8,662.1 1430.6,659.5 1433.5,656.7 1436.3,655.7 1439.2,654.3 1442.0,651.9 1444.9,651.0 1447.7,649.2 1450.6,647.6 1453.4,645.8 1456.3,644.3 1459.1,643.0 1462.0,641.8 1464.8,640.6 1467.7,639.2 1470.5,637.6 1473.4,636.6 1476.2,635.6 1479.1,633.5 1481.9,632.8 1484.8,631.7 1487.6,630.9 1490.5,629.8 1493.3,628.8 1496.2,627.4 1499.0,627.2 1501.9,626.0 1504.7,624.1 1507.6,623.9 1510.4,622.4 1513.3,622.9 1516.1,620.8 1519.0,619.9 1521.8,619.3 1524.7,618.2 1527.5,617.4 1530.4,617.3 1533.2,615.8 1536.1,615.2 1538.9,614.5 1541.8,612.6 1544.6,613.1 1547.5,611.8 1550.3,611.2 1553.2,609.5 1556.0,609.6 1558.9,608.6 1561.7,607.4 1564.6,608.1 1567.4,606.5 1570.3,605.4 1573.1,604.9 1576.0,604.6 1578.8,604.0 1581.7,603.0 1584.5,602.7 1587.4,602.2 1590.2,600.2 1593.1,599.9 1595.9,599.0 1598.8,599.0 1601.6,599.0 1604.5,598.0 1607.3,596.6 1610.2,596.4 1613.0,596.5 1615.9,595.2 1618.7,594.9 1621.6,594.6 1624.4,593.1 1627.3,593.9 1630.1,593.2 1633.0,592.9 1635.8,591.6 1638.7,591.3 1641.5,590.9 1644.4,590.9 1647.2,590.4 1650.1,590.0 1652.9,590.5 1655.8,589.8 1658.6,588.4 1661.5,588.0 1664.3,588.8 1667.2,587.4 1670.0,587.9 1672.9,587.6 1675.7,586.1 1678.6,585.9 1681.4,585.7 1684.3,584.8 1687.1,584.4 1690.0,584.3 1692.8,584.6 1695.7,583.6 1698.5,583.3 1701.4,582.8 1704.2,582.0 1707.1,583.1 1709.9,580.9 1712.8,581.4 1715.6,581.6 1717.0,580.5" fill="none" stroke="none" marker-start="url(#mg)" marker-mid="url(#mg)" marker-end="url(#mg)"/>
<path d="M986.0 597.3L1008.8 600.2 1033.5 603.8 1060.3 608.1 1079.8 611.7 1098.6 615.8 1109.3 618.7 1114.3 620.3 1118.8 622.1 1122.3 623.7 1126.1 625.8 1130.1 628.4 1134.3 631.5 1138.8 635.3 1142.1 638.5 1145.1 642.0 1148.1 646.2 1151.1 650.8 1154.1 656.1 1156.3 660.5 1158.6 665.7 1163.6 679.5 1167.3 691.8 1171.6 708.6 1176.1 682.3 1180.6 660.0 1184.6 642.1 1192.1 610.1 1202.6 567.2 1207.1 545.9 1212.1 519.8 1218.6 553.1 1219.9 558.7 1220.9 562.2 1222.4 566.0 1224.1 569.5 1227.6 575.3 1232.4 583.9 1234.9 587.5 1236.9 589.7 1249.6 601.5 1253.4 604.6 1257.4 607.3 1263.1 610.8 1270.1 614.6 1288.2 623.7 1309.2 634.0 1323.4 642.0 1332.0 647.4 1339.2 652.5 1346.5 658.4 1352.7 664.2 1358.5 670.4 1363.7 677.1 1367.2 682.5 1371.0 689.6 1375.2 699.2 1380.0 711.2 1381.7 716.5 1386.5 732.6 1388.2 737.4 1390.5 742.7 1398.8 714.6 1401.5 706.5 1404.5 699.8 1407.5 693.8 1410.5 688.5 1413.8 683.6 1417.8 678.3 1422.8 672.5 1427.5 667.7 1432.5 663.3 1437.8 659.3 1443.8 655.3 1450.0 651.7 1456.0 648.8 1462.0 646.3 1469.8 644.0 1477.5 641.3 1505.8 630.4 1519.2 626.1 1533.5 622.0 1548.5 618.2 1573.5 612.4 1590.2 608.7 1601.8 606.5 1612.2 604.7 1623.2 603.3 1636.5 601.7 1654.5 600.0 1679.2 597.9 1717.0 595.2" fill="none" stroke="#cc0000" stroke-width="3.9" stroke-linejoin="round" stroke-linecap="butt"/>
<polyline points="986.0,764.4 988.9,765.6 991.7,765.4 994.5,766.8 997.4,767.1" fill="none" stroke="#00cc00" stroke-width="7.0" stroke-linejoin="round" stroke-linecap="round"/><polyline points="1000.2,769.0 1003.1,769.7 1006.0,770.8 1008.8,772.5 1011.6,773.3" fill="none" stroke="#00cc00" stroke-width="7.0" stroke-linejoin="round" stroke-linecap="round"/><polyline points="1014.5,775.1 1017.4,776.5 1020.2,777.8" fill="none" stroke="#00cc00" stroke-width="7.0" stroke-linejoin="round" stroke-linecap="round"/><polyline points="1025.9,783.2 1028.8,784.3" fill="none" stroke="#00cc00" stroke-width="7.0" stroke-linejoin="round" stroke-linecap="round"/><polyline points="1031.6,787.8 1034.5,788.7 1037.3,790.0" fill="none" stroke="#00cc00" stroke-width="7.0" stroke-linejoin="round" stroke-linecap="round"/><polyline points="1088.6,738.9 1091.5,739.7" fill="none" stroke="#00cc00" stroke-width="7.0" stroke-linejoin="round" stroke-linecap="round"/><polyline points="1094.3,742.4 1097.2,743.2" fill="none" stroke="#00cc00" stroke-width="7.0" stroke-linejoin="round" stroke-linecap="round"/><polyline points="1100.0,745.3 1102.8,746.7 1105.7,746.8 1108.5,748.2 1111.4,749.3 1114.2,750.2 1117.1,751.6 1120.0,752.4 1122.8,753.1 1125.7,754.7 1128.5,755.8 1131.3,755.7 1134.2,756.9 1137.0,758.0 1139.9,758.6 1142.8,759.1 1145.6,760.6 1148.5,761.3 1151.3,761.9 1154.2,762.1" fill="none" stroke="#00cc00" stroke-width="7.0" stroke-linejoin="round" stroke-linecap="round"/><polyline points="1157.0,763.9 1159.8,764.4 1162.7,764.1 1165.5,764.9 1168.4,766.3 1171.2,766.0 1174.1,767.3 1177.0,767.8 1179.8,768.2 1182.7,769.1 1185.5,769.1 1188.3,770.4 1191.2,770.3" fill="none" stroke="#00cc00" stroke-width="7.0" stroke-linejoin="round" stroke-linecap="round"/><polyline points="1194.0,773.2 1196.9,773.5 1199.8,774.1 1202.6,774.3 1205.5,775.4 1208.3,776.2 1211.2,776.8 1214.0,777.4 1216.8,777.2 1219.7,778.6 1222.5,778.8 1225.4,779.1 1228.2,779.8 1231.1,781.2 1234.0,782.1 1236.8,781.5" fill="none" stroke="#00cc00" stroke-width="7.0" stroke-linejoin="round" stroke-linecap="round"/><polyline points="1239.7,783.6 1242.5,784.1 1245.3,783.8 1248.2,784.4 1251.0,785.3 1253.9,786.5 1256.8,786.6 1259.6,787.1 1262.5,788.7 1265.3,788.5" fill="none" stroke="#00cc00" stroke-width="7.0" stroke-linejoin="round" stroke-linecap="round"/><polyline points="1268.2,790.5 1271.0,792.0 1273.8,792.7 1276.7,794.0 1279.5,794.9 1282.4,796.2 1285.2,797.1 1288.1,797.8 1291.0,799.4 1293.8,800.8" fill="none" stroke="#00cc00" stroke-width="7.0" stroke-linejoin="round" stroke-linecap="round"/><polyline points="1296.7,802.9 1299.5,804.5 1302.3,805.4 1305.2,806.3 1308.0,807.9" fill="none" stroke="#00cc00" stroke-width="7.0" stroke-linejoin="round" stroke-linecap="round"/><polyline points="1313.8,812.1 1316.6,813.2 1319.5,814.7 1322.3,816.1" fill="none" stroke="#00cc00" stroke-width="7.0" stroke-linejoin="round" stroke-linecap="round"/><polyline points="1325.2,818.7 1328.0,820.3" fill="none" stroke="#00cc00" stroke-width="7.0" stroke-linejoin="round" stroke-linecap="round"/><polyline points="1405.0,824.7 1407.8,823.3" fill="none" stroke="#00cc00" stroke-width="7.0" stroke-linejoin="round" stroke-linecap="round"/><polyline points="1416.3,814.2 1419.2,812.8" fill="none" stroke="#00cc00" stroke-width="7.0" stroke-linejoin="round" stroke-linecap="round"/><polyline points="1430.6,799.4 1433.5,797.8 1436.3,796.6" fill="none" stroke="#00cc00" stroke-width="7.0" stroke-linejoin="round" stroke-linecap="round"/><polyline points="1439.2,794.9 1442.0,794.6 1444.8,793.1 1447.7,791.8 1450.5,791.2 1453.4,790.6 1456.2,790.5 1459.1,789.5 1462.0,788.3 1464.8,787.7 1467.7,786.9 1470.5,786.8" fill="none" stroke="#00cc00" stroke-width="7.0" stroke-linejoin="round" stroke-linecap="round"/><polyline points="1473.3,784.5 1476.2,784.0 1479.0,783.0" fill="none" stroke="#00cc00" stroke-width="7.0" stroke-linejoin="round" stroke-linecap="round"/><polyline points="1481.9,781.1 1484.8,780.6 1487.6,779.5 1490.5,778.1 1493.3,777.5 1496.2,776.6 1499.0,775.6" fill="none" stroke="#00cc00" stroke-width="7.0" stroke-linejoin="round" stroke-linecap="round"/><polyline points="1501.8,773.9 1504.7,773.1 1507.5,773.1" fill="none" stroke="#00cc00" stroke-width="7.0" stroke-linejoin="round" stroke-linecap="round"/><polyline points="1510.4,770.5 1513.2,770.2 1516.1,769.7 1519.0,768.4 1521.8,767.8 1524.7,766.8 1527.5,766.3 1530.3,765.7 1533.2,764.2 1536.0,763.6 1538.9,762.8 1541.8,761.9 1544.6,761.3 1547.5,760.1 1550.3,760.3 1553.2,760.1 1556.0,759.4 1558.8,758.6" fill="none" stroke="#00cc00" stroke-width="7.0" stroke-linejoin="round" stroke-linecap="round"/><polyline points="1561.7,756.8 1564.5,757.4" fill="none" stroke="#00cc00" stroke-width="7.0" stroke-linejoin="round" stroke-linecap="round"/><polyline points="1567.4,755.7 1570.2,755.4 1573.1,755.7" fill="none" stroke="#00cc00" stroke-width="7.0" stroke-linejoin="round" stroke-linecap="round"/><polyline points="1576.0,753.7 1578.8,754.0 1581.7,753.2 1584.5,752.4 1587.3,751.5 1590.2,751.6 1593.0,750.6 1595.9,750.8 1598.8,750.3" fill="none" stroke="#00cc00" stroke-width="7.0" stroke-linejoin="round" stroke-linecap="round"/><polyline points="1601.6,748.5 1604.5,748.4 1607.3,747.9 1610.2,747.0 1613.0,746.5 1615.8,746.6 1618.7,745.9 1621.5,744.6 1624.4,744.7 1627.2,744.7 1630.1,743.3 1633.0,742.9 1635.8,743.7 1638.7,743.0" fill="none" stroke="#00cc00" stroke-width="7.0" stroke-linejoin="round" stroke-linecap="round"/><polyline points="1641.5,741.1 1644.3,740.7 1647.2,741.1 1650.0,739.8 1652.9,739.8 1655.8,739.2 1658.6,739.2" fill="none" stroke="#00cc00" stroke-width="7.0" stroke-linejoin="round" stroke-linecap="round"/><polyline points="1661.5,737.2 1664.3,736.9 1667.2,736.9 1670.0,737.5 1672.8,736.4 1675.7,735.2 1678.5,735.8 1681.4,735.4 1684.2,734.5 1687.1,733.9 1690.0,733.9 1692.8,733.8 1695.7,732.8 1698.5,732.5 1701.3,731.7 1704.2,731.1 1707.0,730.4 1709.9,730.5 1712.8,729.7 1715.6,729.3 1717.0,729.7" fill="none" stroke="#00cc00" stroke-width="7.0" stroke-linejoin="round" stroke-linecap="round"/><polyline points="986.0,764.4 988.9,765.6 991.7,765.4 994.5,766.8 997.4,767.1 1000.2,769.0 1003.1,769.7 1006.0,770.8 1008.8,772.5 1011.6,773.3 1014.5,775.1 1017.4,776.5 1020.2,777.8 1023.0,780.8 1025.9,783.2 1028.8,784.3 1031.6,787.8 1034.5,788.7 1037.3,790.0 1040.2,786.5 1043.0,779.3 1045.8,769.4 1048.7,760.3 1051.5,751.7 1054.4,735.2 1057.2,720.9 1060.1,690.8 1063.0,677.5 1065.8,684.2 1068.7,698.8 1071.5,712.8 1074.3,717.0 1077.2,722.1 1080.0,724.7 1082.9,729.8 1085.8,734.2 1088.6,738.9 1091.5,739.7 1094.3,742.4 1097.2,743.2 1100.0,745.3 1102.8,746.7 1105.7,746.8 1108.5,748.2 1111.4,749.3 1114.2,750.2 1117.1,751.6 1120.0,752.4 1122.8,753.1 1125.7,754.7 1128.5,755.8 1131.3,755.7 1134.2,756.9 1137.0,758.0 1139.9,758.6 1142.8,759.1 1145.6,760.6 1148.5,761.3 1151.3,761.9 1154.2,762.1 1157.0,763.9 1159.8,764.4 1162.7,764.1 1165.5,764.9 1168.4,766.3 1171.2,766.0 1174.1,767.3 1177.0,767.8 1179.8,768.2 1182.7,769.1 1185.5,769.1 1188.3,770.4 1191.2,770.3 1194.0,773.2 1196.9,773.5 1199.8,774.1 1202.6,774.3 1205.5,775.4 1208.3,776.2 1211.2,776.8 1214.0,777.4 1216.8,777.2 1219.7,778.6 1222.5,778.8 1225.4,779.1 1228.2,779.8 1231.1,781.2 1234.0,782.1 1236.8,781.5 1239.7,783.6 1242.5,784.1 1245.3,783.8 1248.2,784.4 1251.0,785.3 1253.9,786.5 1256.8,786.6 1259.6,787.1 1262.5,788.7 1265.3,788.5 1268.2,790.5 1271.0,792.0 1273.8,792.7 1276.7,794.0 1279.5,794.9 1282.4,796.2 1285.2,797.1 1288.1,797.8 1291.0,799.4 1293.8,800.8 1296.7,802.9 1299.5,804.5 1302.3,805.4 1305.2,806.3 1308.0,807.9 1310.9,809.7 1313.8,812.1 1316.6,813.2 1319.5,814.7 1322.3,816.1 1325.2,818.7 1328.0,820.3 1330.8,822.1 1333.7,824.4 1336.5,827.7 1339.4,829.5 1342.2,833.5 1345.1,836.8 1348.0,840.1 1350.8,844.8 1353.7,849.4 1356.5,855.1 1359.3,862.2 1362.2,869.4 1365.0,879.1 1367.9,892.1 1370.8,909.1 1373.6,918.2 1376.5,906.0 1379.3,893.2 1382.2,879.9 1385.0,866.5 1387.8,854.9 1390.7,846.6 1393.5,840.7 1396.4,834.7 1399.2,831.9 1402.1,828.5 1405.0,824.7 1407.8,823.3 1410.7,820.3 1413.5,817.3 1416.3,814.2 1419.2,812.8 1422.0,807.6 1424.9,803.7 1427.8,801.3 1430.6,799.4 1433.5,797.8 1436.3,796.6 1439.2,794.9 1442.0,794.6 1444.8,793.1 1447.7,791.8 1450.5,791.2 1453.4,790.6 1456.2,790.5 1459.1,789.5 1462.0,788.3 1464.8,787.7 1467.7,786.9 1470.5,786.8 1473.3,784.5 1476.2,784.0 1479.0,783.0 1481.9,781.1 1484.8,780.6 1487.6,779.5 1490.5,778.1 1493.3,777.5 1496.2,776.6 1499.0,775.6 1501.8,773.9 1504.7,773.1 1507.5,773.1 1510.4,770.5 1513.2,770.2 1516.1,769.7 1519.0,768.4 1521.8,767.8 1524.7,766.8 1527.5,766.3 1530.3,765.7 1533.2,764.2 1536.0,763.6 1538.9,762.8 1541.8,761.9 1544.6,761.3 1547.5,760.1 1550.3,760.3 1553.2,760.1 1556.0,759.4 1558.8,758.6 1561.7,756.8 1564.5,757.4 1567.4,755.7 1570.2,755.4 1573.1,755.7 1576.0,753.7 1578.8,754.0 1581.7,753.2 1584.5,752.4 1587.3,751.5 1590.2,751.6 1593.0,750.6 1595.9,750.8 1598.8,750.3 1601.6,748.5 1604.5,748.4 1607.3,747.9 1610.2,747.0 1613.0,746.5 1615.8,746.6 1618.7,745.9 1621.5,744.6 1624.4,744.7 1627.2,744.7 1630.1,743.3 1633.0,742.9 1635.8,743.7 1638.7,743.0 1641.5,741.1 1644.3,740.7 1647.2,741.1 1650.0,739.8 1652.9,739.8 1655.8,739.2 1658.6,739.2 1661.5,737.2 1664.3,736.9 1667.2,736.9 1670.0,737.5 1672.8,736.4 1675.7,735.2 1678.5,735.8 1681.4,735.4 1684.2,734.5 1687.1,733.9 1690.0,733.9 1692.8,733.8 1695.7,732.8 1698.5,732.5 1701.3,731.7 1704.2,731.1 1707.0,730.4 1709.9,730.5 1712.8,729.7 1715.6,729.3 1717.0,729.7 1372.5,928.0" fill="none" stroke="none" marker-start="url(#mg)" marker-mid="url(#mg)" marker-end="url(#mg)"/>
<path d="M986.0 753.0L991.5 754.8 997.5 757.2 1003.8 760.2 1009.0 763.2 1013.5 766.2 1017.8 769.8 1021.0 773.1 1024.0 776.8 1026.3 780.3 1027.8 783.2 1029.5 787.7 1031.5 793.7 1035.8 808.7 1040.3 829.0 1045.8 796.0 1053.6 743.7 1055.8 726.9 1058.3 704.0 1060.3 689.8 1062.6 676.3 1064.6 667.3 1066.9 682.6 1069.1 693.9 1071.1 700.5 1073.9 708.1 1075.6 712.4 1077.6 715.9 1080.1 719.8 1082.4 722.8 1084.9 725.7 1087.1 727.8 1089.9 730.0 1093.4 732.4 1096.9 734.5 1101.4 736.8 1106.1 738.9 1111.4 740.8 1116.6 742.5 1179.1 758.0 1201.1 763.6 1246.2 775.6 1254.4 778.1 1264.4 781.4 1273.4 784.7 1281.7 788.1 1289.2 791.5 1296.7 795.3 1304.7 799.9 1312.7 804.9 1319.9 809.8 1326.2 814.6 1331.2 818.9 1335.7 823.2 1339.4 827.2 1343.2 831.7 1346.9 836.9 1350.4 842.3 1353.4 847.5 1356.2 853.1 1358.4 858.4 1360.4 863.7 1362.9 872.0 1368.9 897.6 1373.2 917.5 1377.2 893.2 1381.2 870.8 1383.0 862.1 1384.0 858.2 1385.7 852.9 1387.7 847.8 1390.0 842.9 1393.2 837.1 1397.5 830.7 1401.7 825.2 1406.5 820.0 1413.0 814.0 1419.7 808.5 1426.0 804.1 1432.2 800.5 1436.7 798.4 1441.7 796.3 1453.5 792.1 1473.7 786.4 1504.2 777.0 1513.5 774.4 1530.0 770.2 1542.0 767.3 1552.7 765.0 1574.5 761.2 1618.2 754.9 1651.0 749.6 1664.5 747.6 1675.0 746.3 1690.5 744.9 1704.2 743.9 1717.0 743.2" fill="none" stroke="#cc0000" stroke-width="3.9" stroke-linejoin="round" stroke-linecap="butt"/>
<polyline points="113.8,1154.3 114.7,1155.4" fill="none" stroke="#999900" stroke-width="8.5" stroke-linejoin="round" stroke-linecap="round"/><polyline points="130.0,1156.2 130.9,1155.0" fill="none" stroke="#999900" stroke-width="8.5" stroke-linejoin="round" stroke-linecap="round"/><polyline points="132.7,1154.2 133.6,1155.3" fill="none" stroke="#999900" stroke-width="8.5" stroke-linejoin="round" stroke-linecap="round"/><polyline points="135.4,1155.0 136.3,1155.7" fill="none" stroke="#999900" stroke-width="8.5" stroke-linejoin="round" stroke-linecap="round"/><polyline points="145.3,1156.1 146.2,1155.1" fill="none" stroke="#999900" stroke-width="8.5" stroke-linejoin="round" stroke-linecap="round"/><polyline points="148.0,1154.6 148.9,1155.7" fill="none" stroke="#999900" stroke-width="8.5" stroke-linejoin="round" stroke-linecap="round"/><polyline points="150.7,1154.9 151.6,1155.5" fill="none" stroke="#999900" stroke-width="8.5" stroke-linejoin="round" stroke-linecap="round"/><polyline points="153.4,1154.3 154.3,1155.6" fill="none" stroke="#999900" stroke-width="8.5" stroke-linejoin="round" stroke-linecap="round"/><polyline points="159.7,1156.2 160.6,1154.7" fill="none" stroke="#999900" stroke-width="8.5" stroke-linejoin="round" stroke-linecap="round"/><polyline points="162.4,1155.7 163.3,1154.7" fill="none" stroke="#999900" stroke-width="8.5" stroke-linejoin="round" stroke-linecap="round"/><polyline points="171.4,1155.6 172.3,1155.0 173.2,1155.9 174.1,1155.1" fill="none" stroke="#999900" stroke-width="8.5" stroke-linejoin="round" stroke-linecap="round"/><polyline points="175.9,1156.0 176.8,1155.3" fill="none" stroke="#999900" stroke-width="8.5" stroke-linejoin="round" stroke-linecap="round"/><polyline points="178.6,1155.2 179.5,1154.2 180.4,1155.6 181.3,1154.7 182.2,1155.9 183.1,1154.6" fill="none" stroke="#999900" stroke-width="8.5" stroke-linejoin="round" stroke-linecap="round"/><polyline points="186.7,1155.5 187.6,1154.8 188.5,1155.9 189.4,1154.7" fill="none" stroke="#999900" stroke-width="8.5" stroke-linejoin="round" stroke-linecap="round"/><polyline points="193.0,1155.9 193.9,1155.2" fill="none" stroke="#999900" stroke-width="8.5" stroke-linejoin="round" stroke-linecap="round"/><polyline points="195.7,1155.8 196.6,1154.7" fill="none" stroke="#999900" stroke-width="8.5" stroke-linejoin="round" stroke-linecap="round"/><polyline points="200.2,1155.7 201.1,1154.6 202.0,1155.9" fill="none" stroke="#999900" stroke-width="8.5" stroke-linejoin="round" stroke-linecap="round"/><polyline points="211.9,1154.5 212.8,1155.2 213.7,1155.9 214.6,1154.9 215.5,1156.1 216.4,1155.1 217.3,1155.8" fill="none" stroke="#999900" stroke-width="8.5" stroke-linejoin="round" stroke-linecap="round"/><polyline points="222.7,1156.9 223.6,1155.8" fill="none" stroke="#999900" stroke-width="8.5" stroke-linejoin="round" stroke-linecap="round"/><polyline points="229.0,1155.4 229.9,1156.4" fill="none" stroke="#999900" stroke-width="8.5" stroke-linejoin="round" stroke-linecap="round"/><polyline points="233.5,1154.4 234.4,1155.6 235.3,1156.8" fill="none" stroke="#999900" stroke-width="8.5" stroke-linejoin="round" stroke-linecap="round"/><polyline points="236.2,1155.0 237.1,1155.7" fill="none" stroke="#999900" stroke-width="8.5" stroke-linejoin="round" stroke-linecap="round"/><polyline points="240.7,1155.1 241.6,1156.0" fill="none" stroke="#999900" stroke-width="8.5" stroke-linejoin="round" stroke-linecap="round"/><polyline points="243.4,1155.4 244.3,1156.0 245.2,1157.0" fill="none" stroke="#999900" stroke-width="8.5" stroke-linejoin="round" stroke-linecap="round"/><polyline points="247.9,1154.8 248.8,1156.0" fill="none" stroke="#999900" stroke-width="8.5" stroke-linejoin="round" stroke-linecap="round"/><polyline points="265.9,1155.8 266.8,1156.5 267.7,1157.3" fill="none" stroke="#999900" stroke-width="8.5" stroke-linejoin="round" stroke-linecap="round"/><polyline points="287.5,1156.0 288.4,1156.8" fill="none" stroke="#999900" stroke-width="8.5" stroke-linejoin="round" stroke-linecap="round"/><polyline points="290.2,1155.9 291.1,1156.9" fill="none" stroke="#999900" stroke-width="8.5" stroke-linejoin="round" stroke-linecap="round"/><polyline points="292.9,1156.9 293.8,1156.1 294.7,1157.0 295.6,1156.0 296.5,1157.5 297.4,1156.8 298.3,1156.2 299.2,1157.5" fill="none" stroke="#999900" stroke-width="8.5" stroke-linejoin="round" stroke-linecap="round"/><polyline points="301.0,1156.5 301.9,1157.9" fill="none" stroke="#999900" stroke-width="8.5" stroke-linejoin="round" stroke-linecap="round"/><polyline points="302.8,1156.3 303.7,1157.0" fill="none" stroke="#999900" stroke-width="8.5" stroke-linejoin="round" stroke-linecap="round"/><polyline points="310.0,1157.1 310.9,1156.4" fill="none" stroke="#999900" stroke-width="8.5" stroke-linejoin="round" stroke-linecap="round"/><polyline points="314.5,1157.8 315.4,1156.4" fill="none" stroke="#999900" stroke-width="8.5" stroke-linejoin="round" stroke-linecap="round"/><polyline points="339.7,1156.6 340.6,1157.5" fill="none" stroke="#999900" stroke-width="8.5" stroke-linejoin="round" stroke-linecap="round"/><polyline points="349.6,1157.2 350.5,1157.9" fill="none" stroke="#999900" stroke-width="8.5" stroke-linejoin="round" stroke-linecap="round"/><polyline points="354.1,1157.9 355.0,1158.5" fill="none" stroke="#999900" stroke-width="8.5" stroke-linejoin="round" stroke-linecap="round"/><polyline points="364.0,1159.6 364.9,1158.5" fill="none" stroke="#999900" stroke-width="8.5" stroke-linejoin="round" stroke-linecap="round"/><polyline points="368.5,1158.7 369.4,1158.1" fill="none" stroke="#999900" stroke-width="8.5" stroke-linejoin="round" stroke-linecap="round"/><polyline points="371.2,1158.8 372.1,1157.9 373.0,1158.9" fill="none" stroke="#999900" stroke-width="8.5" stroke-linejoin="round" stroke-linecap="round"/><polyline points="380.2,1159.1 381.1,1158.1 382.0,1159.2" fill="none" stroke="#999900" stroke-width="8.5" stroke-linejoin="round" stroke-linecap="round"/><polyline points="389.2,1159.6 390.1,1160.4 391.0,1159.7" fill="none" stroke="#999900" stroke-width="8.5" stroke-linejoin="round" stroke-linecap="round"/><polyline points="392.8,1159.3 393.7,1160.5 394.6,1159.5 395.5,1160.3" fill="none" stroke="#999900" stroke-width="8.5" stroke-linejoin="round" stroke-linecap="round"/><polyline points="397.3,1159.6 398.2,1160.6" fill="none" stroke="#999900" stroke-width="8.5" stroke-linejoin="round" stroke-linecap="round"/><polyline points="410.8,1161.9 411.7,1160.5 412.6,1161.5 413.5,1160.4 414.4,1161.1" fill="none" stroke="#999900" stroke-width="8.5" stroke-linejoin="round" stroke-linecap="round"/><polyline points="421.6,1163.6 422.5,1162.6" fill="none" stroke="#999900" stroke-width="8.5" stroke-linejoin="round" stroke-linecap="round"/><polyline points="426.1,1163.0 427.0,1163.9" fill="none" stroke="#999900" stroke-width="8.5" stroke-linejoin="round" stroke-linecap="round"/><polyline points="430.6,1163.3 431.5,1164.5" fill="none" stroke="#999900" stroke-width="8.5" stroke-linejoin="round" stroke-linecap="round"/><polyline points="438.7,1165.2 439.6,1164.6 440.5,1165.8" fill="none" stroke="#999900" stroke-width="8.5" stroke-linejoin="round" stroke-linecap="round"/><polyline points="445.9,1167.3 446.8,1166.6 447.7,1167.8" fill="none" stroke="#999900" stroke-width="8.5" stroke-linejoin="round" stroke-linecap="round"/><polyline points="449.5,1167.8 450.4,1168.6" fill="none" stroke="#999900" stroke-width="8.5" stroke-linejoin="round" stroke-linecap="round"/><polyline points="452.2,1167.7 453.1,1169.0" fill="none" stroke="#999900" stroke-width="8.5" stroke-linejoin="round" stroke-linecap="round"/><polyline points="458.5,1170.3 459.4,1171.3 460.3,1171.9" fill="none" stroke="#999900" stroke-width="8.5" stroke-linejoin="round" stroke-linecap="round"/><polyline points="462.1,1172.7 463.0,1173.5 463.9,1174.3 464.8,1175.8 465.7,1177.2" fill="none" stroke="#999900" stroke-width="8.5" stroke-linejoin="round" stroke-linecap="round"/><polyline points="466.6,1178.8 467.5,1179.7 468.4,1180.8 469.3,1182.4" fill="none" stroke="#999900" stroke-width="8.5" stroke-linejoin="round" stroke-linecap="round"/><polyline points="470.2,1184.1 471.1,1185.1" fill="none" stroke="#999900" stroke-width="8.5" stroke-linejoin="round" stroke-linecap="round"/><polyline points="490.0,1247.7 490.9,1248.6" fill="none" stroke="#999900" stroke-width="8.5" stroke-linejoin="round" stroke-linecap="round"/><polyline points="491.8,1251.2 492.7,1252.8 493.6,1253.5" fill="none" stroke="#999900" stroke-width="8.5" stroke-linejoin="round" stroke-linecap="round"/><polyline points="496.3,1255.1 497.2,1256.4" fill="none" stroke="#999900" stroke-width="8.5" stroke-linejoin="round" stroke-linecap="round"/><polyline points="500.8,1259.6 501.7,1258.7 502.6,1259.4" fill="none" stroke="#999900" stroke-width="8.5" stroke-linejoin="round" stroke-linecap="round"/><polyline points="508.0,1261.0 508.9,1261.6 509.8,1262.4 510.7,1263.6" fill="none" stroke="#999900" stroke-width="8.5" stroke-linejoin="round" stroke-linecap="round"/><polyline points="516.1,1264.0 517.0,1263.1 517.9,1264.3 518.8,1265.5" fill="none" stroke="#999900" stroke-width="8.5" stroke-linejoin="round" stroke-linecap="round"/><polyline points="522.4,1264.8 523.3,1265.5" fill="none" stroke="#999900" stroke-width="8.5" stroke-linejoin="round" stroke-linecap="round"/><polyline points="530.5,1266.5 531.4,1267.3" fill="none" stroke="#999900" stroke-width="8.5" stroke-linejoin="round" stroke-linecap="round"/><polyline points="533.2,1267.8 534.1,1267.1 535.0,1267.8 535.9,1267.1 536.8,1268.6 537.7,1267.7" fill="none" stroke="#999900" stroke-width="8.5" stroke-linejoin="round" stroke-linecap="round"/><polyline points="543.1,1269.7 544.0,1269.1" fill="none" stroke="#999900" stroke-width="8.5" stroke-linejoin="round" stroke-linecap="round"/><polyline points="545.8,1270.1 546.7,1269.1" fill="none" stroke="#999900" stroke-width="8.5" stroke-linejoin="round" stroke-linecap="round"/><polyline points="548.5,1269.3 549.4,1269.9" fill="none" stroke="#999900" stroke-width="8.5" stroke-linejoin="round" stroke-linecap="round"/><polyline points="554.8,1268.6 555.7,1269.6" fill="none" stroke="#999900" stroke-width="8.5" stroke-linejoin="round" stroke-linecap="round"/><polyline points="557.5,1269.6 558.4,1268.8 559.3,1270.2 560.2,1269.4" fill="none" stroke="#999900" stroke-width="8.5" stroke-linejoin="round" stroke-linecap="round"/><polyline points="563.8,1269.8 564.7,1269.1" fill="none" stroke="#999900" stroke-width="8.5" stroke-linejoin="round" stroke-linecap="round"/><polyline points="570.1,1271.3 571.0,1270.5 571.9,1269.7" fill="none" stroke="#999900" stroke-width="8.5" stroke-linejoin="round" stroke-linecap="round"/><polyline points="577.3,1271.3 578.2,1270.5" fill="none" stroke="#999900" stroke-width="8.5" stroke-linejoin="round" stroke-linecap="round"/><polyline points="587.2,1271.7 588.1,1270.8 589.0,1269.9 589.9,1271.1" fill="none" stroke="#999900" stroke-width="8.5" stroke-linejoin="round" stroke-linecap="round"/><polyline points="595.3,1271.3 596.2,1270.4" fill="none" stroke="#999900" stroke-width="8.5" stroke-linejoin="round" stroke-linecap="round"/><polyline points="599.8,1270.3 600.7,1271.7" fill="none" stroke="#999900" stroke-width="8.5" stroke-linejoin="round" stroke-linecap="round"/><polyline points="606.1,1270.2 607.0,1271.6" fill="none" stroke="#999900" stroke-width="8.5" stroke-linejoin="round" stroke-linecap="round"/><polyline points="610.6,1271.4 611.5,1272.0" fill="none" stroke="#999900" stroke-width="8.5" stroke-linejoin="round" stroke-linecap="round"/><polyline points="625.9,1270.6 626.8,1272.1 627.7,1270.8 628.6,1271.9" fill="none" stroke="#999900" stroke-width="8.5" stroke-linejoin="round" stroke-linecap="round"/><polyline points="632.2,1271.0 633.1,1272.0" fill="none" stroke="#999900" stroke-width="8.5" stroke-linejoin="round" stroke-linecap="round"/><polyline points="638.5,1271.6 639.4,1270.7" fill="none" stroke="#999900" stroke-width="8.5" stroke-linejoin="round" stroke-linecap="round"/><polyline points="641.2,1271.6 642.1,1272.4 643.0,1271.7" fill="none" stroke="#999900" stroke-width="8.5" stroke-linejoin="round" stroke-linecap="round"/><polyline points="644.8,1272.1 645.7,1271.5" fill="none" stroke="#999900" stroke-width="8.5" stroke-linejoin="round" stroke-linecap="round"/><polyline points="647.5,1271.6 648.4,1270.8 649.3,1272.0" fill="none" stroke="#999900" stroke-width="8.5" stroke-linejoin="round" stroke-linecap="round"/><polyline points="656.5,1271.7 657.4,1270.7" fill="none" stroke="#999900" stroke-width="8.5" stroke-linejoin="round" stroke-linecap="round"/><polyline points="670.0,1269.9 670.9,1271.0" fill="none" stroke="#999900" stroke-width="8.5" stroke-linejoin="round" stroke-linecap="round"/><polyline points="672.7,1271.6 673.6,1270.7 674.5,1272.2" fill="none" stroke="#999900" stroke-width="8.5" stroke-linejoin="round" stroke-linecap="round"/><polyline points="685.3,1272.2 686.2,1271.0 687.1,1272.4" fill="none" stroke="#999900" stroke-width="8.5" stroke-linejoin="round" stroke-linecap="round"/><polyline points="690.7,1272.1 691.6,1271.4" fill="none" stroke="#999900" stroke-width="8.5" stroke-linejoin="round" stroke-linecap="round"/><polyline points="693.4,1271.6 694.3,1272.5" fill="none" stroke="#999900" stroke-width="8.5" stroke-linejoin="round" stroke-linecap="round"/><polyline points="695.2,1270.8 696.1,1271.8" fill="none" stroke="#999900" stroke-width="8.5" stroke-linejoin="round" stroke-linecap="round"/><polyline points="699.7,1271.4 700.6,1272.1" fill="none" stroke="#999900" stroke-width="8.5" stroke-linejoin="round" stroke-linecap="round"/><polyline points="702.4,1271.0 703.3,1272.3 704.2,1270.9 705.1,1271.9" fill="none" stroke="#999900" stroke-width="8.5" stroke-linejoin="round" stroke-linecap="round"/><polyline points="712.3,1272.6 713.2,1271.2 714.1,1272.1" fill="none" stroke="#999900" stroke-width="8.5" stroke-linejoin="round" stroke-linecap="round"/><polyline points="717.7,1271.8 718.6,1270.8" fill="none" stroke="#999900" stroke-width="8.5" stroke-linejoin="round" stroke-linecap="round"/><polyline points="720.4,1271.9 721.3,1270.8 722.2,1272.3 723.1,1271.4" fill="none" stroke="#999900" stroke-width="8.5" stroke-linejoin="round" stroke-linecap="round"/><polyline points="728.5,1271.6 729.4,1272.3" fill="none" stroke="#999900" stroke-width="8.5" stroke-linejoin="round" stroke-linecap="round"/><polyline points="736.6,1274.4 737.5,1275.6 738.4,1276.6" fill="none" stroke="#999900" stroke-width="8.5" stroke-linejoin="round" stroke-linecap="round"/><polyline points="740.2,1278.7 741.1,1279.5" fill="none" stroke="#999900" stroke-width="8.5" stroke-linejoin="round" stroke-linecap="round"/><polyline points="742.9,1281.5 743.8,1282.9" fill="none" stroke="#999900" stroke-width="8.5" stroke-linejoin="round" stroke-linecap="round"/><polyline points="744.7,1285.0 745.6,1286.3" fill="none" stroke="#999900" stroke-width="8.5" stroke-linejoin="round" stroke-linecap="round"/><polyline points="763.6,1286.7 764.5,1285.2" fill="none" stroke="#999900" stroke-width="8.5" stroke-linejoin="round" stroke-linecap="round"/><polyline points="765.4,1282.9 766.3,1282.1" fill="none" stroke="#999900" stroke-width="8.5" stroke-linejoin="round" stroke-linecap="round"/><polyline points="769.0,1278.1 769.9,1277.0" fill="none" stroke="#999900" stroke-width="8.5" stroke-linejoin="round" stroke-linecap="round"/><polyline points="773.5,1276.5 774.4,1275.4" fill="none" stroke="#999900" stroke-width="8.5" stroke-linejoin="round" stroke-linecap="round"/><polyline points="778.9,1273.8 779.8,1275.0" fill="none" stroke="#999900" stroke-width="8.5" stroke-linejoin="round" stroke-linecap="round"/><polyline points="783.4,1273.5 784.3,1274.4 785.2,1273.6" fill="none" stroke="#999900" stroke-width="8.5" stroke-linejoin="round" stroke-linecap="round"/><polyline points="790.6,1274.1 791.5,1273.1 792.4,1274.3 793.3,1273.2" fill="none" stroke="#999900" stroke-width="8.5" stroke-linejoin="round" stroke-linecap="round"/><polyline points="796.9,1272.3 797.8,1273.3 798.7,1272.5" fill="none" stroke="#999900" stroke-width="8.5" stroke-linejoin="round" stroke-linecap="round"/><polyline points="800.5,1273.5 801.4,1272.7" fill="none" stroke="#999900" stroke-width="8.5" stroke-linejoin="round" stroke-linecap="round"/><polyline points="803.2,1272.9 804.1,1274.0 805.0,1273.0" fill="none" stroke="#999900" stroke-width="8.5" stroke-linejoin="round" stroke-linecap="round"/><polyline points="817.6,1272.4 818.5,1271.8" fill="none" stroke="#999900" stroke-width="8.5" stroke-linejoin="round" stroke-linecap="round"/><polyline points="820.3,1272.7 821.2,1271.3 822.1,1272.3" fill="none" stroke="#999900" stroke-width="8.5" stroke-linejoin="round" stroke-linecap="round"/><polyline points="827.5,1272.3 828.4,1273.1" fill="none" stroke="#999900" stroke-width="8.5" stroke-linejoin="round" stroke-linecap="round"/><polyline points="835.6,1271.7 836.5,1272.3" fill="none" stroke="#999900" stroke-width="8.5" stroke-linejoin="round" stroke-linecap="round"/><polyline points="840.1,1273.1 841.0,1271.9 841.9,1272.8 842.8,1272.2" fill="none" stroke="#999900" stroke-width="8.5" stroke-linejoin="round" stroke-linecap="round"/><polyline points="112.0,1155.3 113.8,1154.3 114.7,1155.4 116.5,1154.7 118.3,1155.7 120.1,1154.7 121.9,1155.1 123.7,1155.9 124.6,1154.4 126.4,1155.0 128.2,1155.2 130.0,1156.2 130.9,1155.0 132.7,1154.2 133.6,1155.3 135.4,1155.0 136.3,1155.7 138.1,1155.9 139.9,1154.6 141.7,1154.4 143.5,1155.3 145.3,1156.1 146.2,1155.1 148.0,1154.6 148.9,1155.7 150.7,1154.9 151.6,1155.5 153.4,1154.3 154.3,1155.6 156.1,1155.0 157.9,1156.1 159.7,1156.2 160.6,1154.7 162.4,1155.7 163.3,1154.7 165.1,1154.4 166.0,1156.2 167.8,1155.5 169.6,1155.1 171.4,1155.6 172.3,1155.0 173.2,1155.9 174.1,1155.1 175.9,1156.0 176.8,1155.3 178.6,1155.2 179.5,1154.2 180.4,1155.6 181.3,1154.7 182.2,1155.9 183.1,1154.6 184.9,1155.6 186.7,1155.5 187.6,1154.8 188.5,1155.9 189.4,1154.7 191.2,1155.1 193.0,1155.9 193.9,1155.2 195.7,1155.8 196.6,1154.7 198.4,1155.3 200.2,1155.7 201.1,1154.6 202.0,1155.9 203.8,1155.5 205.6,1155.6 207.4,1155.9 209.2,1156.0 211.0,1156.4 211.9,1154.5 212.8,1155.2 213.7,1155.9 214.6,1154.9 215.5,1156.1 216.4,1155.1 217.3,1155.8 219.1,1155.5 220.9,1155.7 222.7,1156.9 223.6,1155.8 225.4,1156.3 227.2,1156.4 229.0,1155.4 229.9,1156.4 231.7,1155.9 233.5,1154.4 234.4,1155.6 235.3,1156.8 236.2,1155.0 237.1,1155.7 238.9,1156.3 240.7,1155.1 241.6,1156.0 243.4,1155.4 244.3,1156.0 245.2,1157.0 247.0,1156.3 247.9,1154.8 248.8,1156.0 250.6,1156.0 252.4,1157.7 253.3,1156.0 255.1,1156.3 256.9,1156.0 258.7,1156.6 260.5,1155.6 262.3,1156.5 264.1,1156.9 265.9,1155.8 266.8,1156.5 267.7,1157.3 269.5,1156.3 271.3,1156.0 273.1,1156.7 274.9,1156.7 276.7,1156.6 278.5,1156.7 280.3,1156.5 282.1,1155.7 283.9,1157.3 285.7,1156.7 287.5,1156.0 288.4,1156.8 290.2,1155.9 291.1,1156.9 292.9,1156.9 293.8,1156.1 294.7,1157.0 295.6,1156.0 296.5,1157.5 297.4,1156.8 298.3,1156.2 299.2,1157.5 301.0,1156.5 301.9,1157.9 302.8,1156.3 303.7,1157.0 305.5,1155.8 306.4,1157.4 308.2,1156.9 310.0,1157.1 310.9,1156.4 312.7,1156.8 314.5,1157.8 315.4,1156.4 317.2,1156.9 319.0,1157.5 320.8,1157.0 322.6,1157.2 324.4,1157.6 326.2,1156.3 327.1,1158.4 328.9,1157.5 330.7,1157.1 332.5,1157.3 334.3,1157.2 336.1,1157.4 337.9,1157.3 339.7,1156.6 340.6,1157.5 342.4,1157.1 344.2,1158.0 346.0,1158.0 347.8,1158.2 349.6,1157.2 350.5,1157.9 352.3,1158.3 354.1,1157.9 355.0,1158.5 356.8,1158.5 358.6,1158.4 360.4,1158.7 362.2,1158.4 364.0,1159.6 364.9,1158.5 366.7,1158.3 368.5,1158.7 369.4,1158.1 371.2,1158.8 372.1,1157.9 373.0,1158.9 374.8,1159.4 376.6,1159.1 378.4,1158.4 380.2,1159.1 381.1,1158.1 382.0,1159.2 383.8,1159.6 385.6,1159.4 387.4,1159.2 389.2,1159.6 390.1,1160.4 391.0,1159.7 392.8,1159.3 393.7,1160.5 394.6,1159.5 395.5,1160.3 397.3,1159.6 398.2,1160.6 400.0,1160.3 401.8,1160.4 403.6,1160.8 405.4,1160.8 407.2,1160.1 409.0,1160.8 410.8,1161.9 411.7,1160.5 412.6,1161.5 413.5,1160.4 414.4,1161.1 416.2,1160.7 418.0,1162.2 419.8,1162.3 421.6,1163.6 422.5,1162.6 424.3,1163.8 426.1,1163.0 427.0,1163.9 428.8,1163.9 430.6,1163.3 431.5,1164.5 433.3,1163.8 435.1,1165.0 436.9,1164.9 438.7,1165.2 439.6,1164.6 440.5,1165.8 442.3,1166.3 444.1,1166.4 445.9,1167.3 446.8,1166.6 447.7,1167.8 449.5,1167.8 450.4,1168.6 452.2,1167.7 453.1,1169.0 454.9,1169.3 456.7,1170.5 458.5,1170.3 459.4,1171.3 460.3,1171.9 462.1,1172.7 463.0,1173.5 463.9,1174.3 464.8,1175.8 465.7,1177.2 466.6,1178.8 467.5,1179.7 468.4,1180.8 469.3,1182.4 470.2,1184.1 471.1,1185.1 472.0,1187.7 472.9,1189.7 473.8,1191.8 474.7,1194.1 475.6,1196.6 476.5,1199.4 477.4,1201.8 478.3,1206.0 479.2,1209.4 480.1,1213.4 481.0,1217.3 481.9,1221.2 482.8,1224.5 483.7,1228.7 484.6,1231.7 485.5,1234.5 486.4,1237.2 487.3,1241.3 489.1,1245.2 490.0,1247.7 490.9,1248.6 491.8,1251.2 492.7,1252.8 493.6,1253.5 494.5,1255.2 496.3,1255.1 497.2,1256.4 499.0,1256.7 500.8,1259.6 501.7,1258.7 502.6,1259.4 504.4,1260.3 506.2,1260.8 508.0,1261.0 508.9,1261.6 509.8,1262.4 510.7,1263.6 512.5,1263.9 514.3,1263.5 516.1,1264.0 517.0,1263.1 517.9,1264.3 518.8,1265.5 520.6,1265.7 522.4,1264.8 523.3,1265.5 525.1,1266.7 526.9,1266.1 528.7,1266.7 530.5,1266.5 531.4,1267.3 533.2,1267.8 534.1,1267.1 535.0,1267.8 535.9,1267.1 536.8,1268.6 537.7,1267.7 539.5,1268.2 541.3,1268.1 543.1,1269.7 544.0,1269.1 545.8,1270.1 546.7,1269.1 548.5,1269.3 549.4,1269.9 551.2,1269.6 553.0,1269.7 554.8,1268.6 555.7,1269.6 557.5,1269.6 558.4,1268.8 559.3,1270.2 560.2,1269.4 562.0,1269.7 563.8,1269.8 564.7,1269.1 566.5,1270.0 568.3,1270.2 570.1,1271.3 571.0,1270.5 571.9,1269.7 573.7,1270.1 575.5,1270.1 577.3,1271.3 578.2,1270.5 580.0,1270.4 581.8,1271.3 583.6,1271.2 584.5,1269.1 585.4,1270.9 587.2,1271.7 588.1,1270.8 589.0,1269.9 589.9,1271.1 591.7,1270.0 593.5,1271.4 595.3,1271.3 596.2,1270.4 597.1,1272.2 598.0,1270.4 599.8,1270.3 600.7,1271.7 602.5,1271.5 604.3,1271.1 606.1,1270.2 607.0,1271.6 608.8,1271.0 610.6,1271.4 611.5,1272.0 613.3,1271.3 615.1,1270.5 616.9,1271.4 618.7,1271.4 620.5,1271.6 622.3,1271.7 624.1,1271.4 625.9,1270.6 626.8,1272.1 627.7,1270.8 628.6,1271.9 630.4,1272.0 632.2,1271.0 633.1,1272.0 634.9,1271.6 636.7,1272.0 638.5,1271.6 639.4,1270.7 641.2,1271.6 642.1,1272.4 643.0,1271.7 644.8,1272.1 645.7,1271.5 647.5,1271.6 648.4,1270.8 649.3,1272.0 651.1,1271.4 652.9,1271.6 654.7,1271.2 656.5,1271.7 657.4,1270.7 659.2,1271.3 661.0,1271.4 662.8,1271.7 664.6,1271.2 666.4,1271.8 668.2,1272.0 670.0,1269.9 670.9,1271.0 672.7,1271.6 673.6,1270.7 674.5,1272.2 676.3,1271.2 678.1,1271.4 679.9,1271.8 681.7,1270.8 683.5,1271.5 685.3,1272.2 686.2,1271.0 687.1,1272.4 688.9,1271.1 690.7,1272.1 691.6,1271.4 693.4,1271.6 694.3,1272.5 695.2,1270.8 696.1,1271.8 697.9,1271.5 699.7,1271.4 700.6,1272.1 702.4,1271.0 703.3,1272.3 704.2,1270.9 705.1,1271.9 706.9,1272.1 708.7,1272.1 710.5,1272.0 712.3,1272.6 713.2,1271.2 714.1,1272.1 715.9,1271.6 717.7,1271.8 718.6,1270.8 720.4,1271.9 721.3,1270.8 722.2,1272.3 723.1,1271.4 724.9,1271.6 726.7,1271.4 728.5,1271.6 729.4,1272.3 731.2,1272.9 733.0,1272.8 734.8,1274.0 736.6,1274.4 737.5,1275.6 738.4,1276.6 740.2,1278.7 741.1,1279.5 742.9,1281.5 743.8,1282.9 744.7,1285.0 745.6,1286.3 746.5,1289.1 747.4,1291.8 748.3,1295.7 749.2,1300.2 750.1,1305.8 751.0,1310.7 751.9,1315.4 752.8,1320.3 753.7,1324.2 754.6,1327.8 755.5,1329.7 756.4,1325.6 757.3,1323.3 758.2,1319.0 759.1,1313.6 760.0,1306.0 760.9,1299.3 761.8,1294.4 762.7,1290.3 763.6,1286.7 764.5,1285.2 765.4,1282.9 766.3,1282.1 767.2,1279.8 769.0,1278.1 769.9,1277.0 771.7,1276.0 773.5,1276.5 774.4,1275.4 776.2,1274.5 778.0,1275.8 778.9,1273.8 779.8,1275.0 781.6,1273.2 783.4,1273.5 784.3,1274.4 785.2,1273.6 787.0,1274.1 788.8,1273.7 790.6,1274.1 791.5,1273.1 792.4,1274.3 793.3,1273.2 795.1,1273.7 796.9,1272.3 797.8,1273.3 798.7,1272.5 800.5,1273.5 801.4,1272.7 803.2,1272.9 804.1,1274.0 805.0,1273.0 806.8,1272.4 808.6,1273.0 810.4,1273.3 812.2,1272.9 814.0,1272.7 815.8,1273.1 817.6,1272.4 818.5,1271.8 820.3,1272.7 821.2,1271.3 822.1,1272.3 823.9,1272.2 825.7,1273.4 827.5,1272.3 828.4,1273.1 830.2,1271.9 831.1,1273.7 832.0,1271.9 833.8,1271.8 835.6,1271.7 836.5,1272.3 838.3,1272.4 840.1,1273.1 841.0,1271.9 841.9,1272.8 842.8,1272.2" fill="none" stroke="none" marker-start="url(#mo)" marker-mid="url(#mo)" marker-end="url(#mo)"/>
<path d="M112.0 1154.8L177.0 1155.0 251.0 1155.8 318.0 1156.8 361.0 1158.0 391.2 1159.3 409.5 1160.8 420.5 1162.1 431.8 1163.7 443.2 1165.7 449.8 1167.2 456.5 1169.4 459.5 1170.8 461.2 1171.9 463.2 1173.7 465.2 1175.9 468.0 1179.5 469.5 1181.8 471.2 1185.3 473.0 1189.5 477.2 1201.6 478.8 1207.2 484.8 1232.7 485.8 1236.1 488.8 1243.8 491.2 1249.1 493.8 1252.9 497.2 1255.9 501.8 1258.7 505.5 1260.4 510.0 1262.0 517.0 1263.9 524.2 1265.6 531.0 1266.9 537.5 1267.9 543.8 1268.6 550.2 1269.0 578.2 1270.2 619.5 1271.0 637.0 1271.2 727.0 1271.2 730.5 1271.7 734.5 1273.2 737.0 1274.5 738.0 1275.2 739.5 1276.9 742.8 1281.2 744.0 1283.1 745.2 1285.5 746.8 1289.7 748.5 1296.3 753.0 1320.8 754.5 1327.1 755.2 1328.7 755.8 1328.3 756.2 1327.0 757.8 1321.0 759.5 1310.0 761.2 1296.3 762.5 1290.9 763.8 1286.9 765.5 1283.0 767.5 1279.4 769.2 1277.5 772.5 1275.8 776.2 1274.6 779.5 1274.1 785.5 1273.5 794.8 1273.0 813.8 1272.4 843.0 1272.0" fill="none" stroke="#cc0000" stroke-width="4.6" stroke-linejoin="round" stroke-linecap="butt"/>
<polyline points="126.4,1352.3 127.3,1351.6 128.2,1353.0 129.1,1352.2" fill="none" stroke="#999900" stroke-width="8.5" stroke-linejoin="round" stroke-linecap="round"/><polyline points="130.9,1352.4 131.8,1353.4 132.7,1352.4 133.6,1353.2" fill="none" stroke="#999900" stroke-width="8.5" stroke-linejoin="round" stroke-linecap="round"/><polyline points="147.1,1352.1 148.0,1353.2" fill="none" stroke="#999900" stroke-width="8.5" stroke-linejoin="round" stroke-linecap="round"/><polyline points="157.0,1353.4 157.9,1352.6 158.8,1353.3" fill="none" stroke="#999900" stroke-width="8.5" stroke-linejoin="round" stroke-linecap="round"/><polyline points="167.8,1353.7 168.7,1352.9" fill="none" stroke="#999900" stroke-width="8.5" stroke-linejoin="round" stroke-linecap="round"/><polyline points="175.9,1353.5 176.8,1352.8" fill="none" stroke="#999900" stroke-width="8.5" stroke-linejoin="round" stroke-linecap="round"/><polyline points="178.6,1354.4 179.5,1353.3" fill="none" stroke="#999900" stroke-width="8.5" stroke-linejoin="round" stroke-linecap="round"/><polyline points="181.3,1353.6 182.2,1352.8 183.1,1354.0 184.0,1352.5" fill="none" stroke="#999900" stroke-width="8.5" stroke-linejoin="round" stroke-linecap="round"/><polyline points="187.6,1354.0 188.5,1352.5" fill="none" stroke="#999900" stroke-width="8.5" stroke-linejoin="round" stroke-linecap="round"/><polyline points="193.9,1354.4 194.8,1353.1" fill="none" stroke="#999900" stroke-width="8.5" stroke-linejoin="round" stroke-linecap="round"/><polyline points="203.8,1353.6 204.7,1352.6" fill="none" stroke="#999900" stroke-width="8.5" stroke-linejoin="round" stroke-linecap="round"/><polyline points="207.4,1353.9 208.3,1353.3" fill="none" stroke="#999900" stroke-width="8.5" stroke-linejoin="round" stroke-linecap="round"/><polyline points="213.7,1354.0 214.6,1353.0" fill="none" stroke="#999900" stroke-width="8.5" stroke-linejoin="round" stroke-linecap="round"/><polyline points="221.8,1353.5 222.7,1354.1" fill="none" stroke="#999900" stroke-width="8.5" stroke-linejoin="round" stroke-linecap="round"/><polyline points="223.6,1352.3 224.5,1353.8" fill="none" stroke="#999900" stroke-width="8.5" stroke-linejoin="round" stroke-linecap="round"/><polyline points="228.1,1354.0 229.0,1353.0" fill="none" stroke="#999900" stroke-width="8.5" stroke-linejoin="round" stroke-linecap="round"/><polyline points="232.6,1353.8 233.5,1353.2" fill="none" stroke="#999900" stroke-width="8.5" stroke-linejoin="round" stroke-linecap="round"/><polyline points="237.1,1352.6 238.0,1354.0" fill="none" stroke="#999900" stroke-width="8.5" stroke-linejoin="round" stroke-linecap="round"/><polyline points="239.8,1353.2 240.7,1354.4 241.6,1352.8" fill="none" stroke="#999900" stroke-width="8.5" stroke-linejoin="round" stroke-linecap="round"/><polyline points="242.5,1354.6 243.4,1353.4 244.3,1354.5 245.2,1353.7" fill="none" stroke="#999900" stroke-width="8.5" stroke-linejoin="round" stroke-linecap="round"/><polyline points="250.6,1353.3 251.5,1354.0" fill="none" stroke="#999900" stroke-width="8.5" stroke-linejoin="round" stroke-linecap="round"/><polyline points="255.1,1353.4 256.0,1354.2" fill="none" stroke="#999900" stroke-width="8.5" stroke-linejoin="round" stroke-linecap="round"/><polyline points="259.6,1354.5 260.5,1353.1 261.4,1354.0" fill="none" stroke="#999900" stroke-width="8.5" stroke-linejoin="round" stroke-linecap="round"/><polyline points="263.2,1353.1 264.1,1354.0" fill="none" stroke="#999900" stroke-width="8.5" stroke-linejoin="round" stroke-linecap="round"/><polyline points="269.5,1354.5 270.4,1353.7" fill="none" stroke="#999900" stroke-width="8.5" stroke-linejoin="round" stroke-linecap="round"/><polyline points="272.2,1354.8 273.1,1353.9" fill="none" stroke="#999900" stroke-width="8.5" stroke-linejoin="round" stroke-linecap="round"/><polyline points="276.7,1353.8 277.6,1354.5" fill="none" stroke="#999900" stroke-width="8.5" stroke-linejoin="round" stroke-linecap="round"/><polyline points="281.2,1354.2 282.1,1353.4" fill="none" stroke="#999900" stroke-width="8.5" stroke-linejoin="round" stroke-linecap="round"/><polyline points="285.7,1354.4 286.6,1353.7 287.5,1354.6 288.4,1353.1 289.3,1353.9 290.2,1355.0" fill="none" stroke="#999900" stroke-width="8.5" stroke-linejoin="round" stroke-linecap="round"/><polyline points="297.4,1354.1 298.3,1353.4 299.2,1354.8 300.1,1354.1" fill="none" stroke="#999900" stroke-width="8.5" stroke-linejoin="round" stroke-linecap="round"/><polyline points="301.9,1353.7 302.8,1354.5" fill="none" stroke="#999900" stroke-width="8.5" stroke-linejoin="round" stroke-linecap="round"/><polyline points="306.4,1355.0 307.3,1354.3" fill="none" stroke="#999900" stroke-width="8.5" stroke-linejoin="round" stroke-linecap="round"/><polyline points="310.9,1354.9 311.8,1356.1" fill="none" stroke="#999900" stroke-width="8.5" stroke-linejoin="round" stroke-linecap="round"/><polyline points="318.1,1353.9 319.0,1354.5" fill="none" stroke="#999900" stroke-width="8.5" stroke-linejoin="round" stroke-linecap="round"/><polyline points="320.8,1355.5 321.7,1354.6" fill="none" stroke="#999900" stroke-width="8.5" stroke-linejoin="round" stroke-linecap="round"/><polyline points="339.7,1355.7 340.6,1354.6" fill="none" stroke="#999900" stroke-width="8.5" stroke-linejoin="round" stroke-linecap="round"/><polyline points="342.4,1354.9 343.3,1356.0" fill="none" stroke="#999900" stroke-width="8.5" stroke-linejoin="round" stroke-linecap="round"/><polyline points="354.1,1355.1 355.0,1356.0" fill="none" stroke="#999900" stroke-width="8.5" stroke-linejoin="round" stroke-linecap="round"/><polyline points="364.0,1356.6 364.9,1355.6" fill="none" stroke="#999900" stroke-width="8.5" stroke-linejoin="round" stroke-linecap="round"/><polyline points="366.7,1355.5 367.6,1356.7" fill="none" stroke="#999900" stroke-width="8.5" stroke-linejoin="round" stroke-linecap="round"/><polyline points="374.8,1356.7 375.7,1355.8 376.6,1356.5" fill="none" stroke="#999900" stroke-width="8.5" stroke-linejoin="round" stroke-linecap="round"/><polyline points="389.2,1356.6 390.1,1357.6" fill="none" stroke="#999900" stroke-width="8.5" stroke-linejoin="round" stroke-linecap="round"/><polyline points="395.5,1356.8 396.4,1357.7" fill="none" stroke="#999900" stroke-width="8.5" stroke-linejoin="round" stroke-linecap="round"/><polyline points="398.2,1357.4 399.1,1358.2" fill="none" stroke="#999900" stroke-width="8.5" stroke-linejoin="round" stroke-linecap="round"/><polyline points="402.7,1358.0 403.6,1357.2 404.5,1358.4" fill="none" stroke="#999900" stroke-width="8.5" stroke-linejoin="round" stroke-linecap="round"/><polyline points="408.1,1359.2 409.0,1358.4" fill="none" stroke="#999900" stroke-width="8.5" stroke-linejoin="round" stroke-linecap="round"/><polyline points="410.8,1359.4 411.7,1358.3" fill="none" stroke="#999900" stroke-width="8.5" stroke-linejoin="round" stroke-linecap="round"/><polyline points="413.5,1358.1 414.4,1359.4" fill="none" stroke="#999900" stroke-width="8.5" stroke-linejoin="round" stroke-linecap="round"/><polyline points="419.8,1359.0 420.7,1359.7" fill="none" stroke="#999900" stroke-width="8.5" stroke-linejoin="round" stroke-linecap="round"/><polyline points="422.5,1360.5 423.4,1359.4" fill="none" stroke="#999900" stroke-width="8.5" stroke-linejoin="round" stroke-linecap="round"/><polyline points="425.2,1359.5 426.1,1360.8 427.0,1359.6 427.9,1360.8" fill="none" stroke="#999900" stroke-width="8.5" stroke-linejoin="round" stroke-linecap="round"/><polyline points="431.5,1359.8 432.4,1360.8" fill="none" stroke="#999900" stroke-width="8.5" stroke-linejoin="round" stroke-linecap="round"/><polyline points="436.0,1361.1 436.9,1362.1" fill="none" stroke="#999900" stroke-width="8.5" stroke-linejoin="round" stroke-linecap="round"/><polyline points="440.5,1361.5 441.4,1362.3 442.3,1363.6 443.2,1362.3 444.1,1363.1" fill="none" stroke="#999900" stroke-width="8.5" stroke-linejoin="round" stroke-linecap="round"/><polyline points="449.5,1363.9 450.4,1365.0" fill="none" stroke="#999900" stroke-width="8.5" stroke-linejoin="round" stroke-linecap="round"/><polyline points="454.0,1364.7 454.9,1366.2" fill="none" stroke="#999900" stroke-width="8.5" stroke-linejoin="round" stroke-linecap="round"/><polyline points="464.8,1370.1 465.7,1371.3" fill="none" stroke="#999900" stroke-width="8.5" stroke-linejoin="round" stroke-linecap="round"/><polyline points="467.5,1372.7 468.4,1373.8" fill="none" stroke="#999900" stroke-width="8.5" stroke-linejoin="round" stroke-linecap="round"/><polyline points="472.0,1378.3 472.9,1379.5" fill="none" stroke="#999900" stroke-width="8.5" stroke-linejoin="round" stroke-linecap="round"/><polyline points="477.4,1390.1 478.3,1391.3" fill="none" stroke="#999900" stroke-width="8.5" stroke-linejoin="round" stroke-linecap="round"/><polyline points="481.0,1397.6 481.9,1398.8" fill="none" stroke="#999900" stroke-width="8.5" stroke-linejoin="round" stroke-linecap="round"/><polyline points="494.5,1441.3 495.4,1442.0" fill="none" stroke="#999900" stroke-width="8.5" stroke-linejoin="round" stroke-linecap="round"/><polyline points="497.2,1446.3 498.1,1445.7" fill="none" stroke="#999900" stroke-width="8.5" stroke-linejoin="round" stroke-linecap="round"/><polyline points="499.0,1447.6 499.9,1448.3 500.8,1449.9 501.7,1450.8 502.6,1452.0 503.5,1453.3 504.4,1454.1" fill="none" stroke="#999900" stroke-width="8.5" stroke-linejoin="round" stroke-linecap="round"/><polyline points="508.0,1455.7 508.9,1456.4" fill="none" stroke="#999900" stroke-width="8.5" stroke-linejoin="round" stroke-linecap="round"/><polyline points="512.5,1458.0 513.4,1458.9" fill="none" stroke="#999900" stroke-width="8.5" stroke-linejoin="round" stroke-linecap="round"/><polyline points="518.8,1459.8 519.7,1460.5" fill="none" stroke="#999900" stroke-width="8.5" stroke-linejoin="round" stroke-linecap="round"/><polyline points="523.3,1461.2 524.2,1460.4 525.1,1461.1 526.0,1461.9" fill="none" stroke="#999900" stroke-width="8.5" stroke-linejoin="round" stroke-linecap="round"/><polyline points="529.6,1462.9 530.5,1461.9" fill="none" stroke="#999900" stroke-width="8.5" stroke-linejoin="round" stroke-linecap="round"/><polyline points="534.1,1463.2 535.0,1462.5 535.9,1463.8" fill="none" stroke="#999900" stroke-width="8.5" stroke-linejoin="round" stroke-linecap="round"/><polyline points="541.3,1464.3 542.2,1465.1" fill="none" stroke="#999900" stroke-width="8.5" stroke-linejoin="round" stroke-linecap="round"/><polyline points="545.8,1464.8 546.7,1465.6" fill="none" stroke="#999900" stroke-width="8.5" stroke-linejoin="round" stroke-linecap="round"/><polyline points="555.7,1465.2 556.6,1466.0" fill="none" stroke="#999900" stroke-width="8.5" stroke-linejoin="round" stroke-linecap="round"/><polyline points="563.8,1465.7 564.7,1466.8 565.6,1465.9 566.5,1467.3 567.4,1465.8 568.3,1466.7 569.2,1466.0 570.1,1466.7" fill="none" stroke="#999900" stroke-width="8.5" stroke-linejoin="round" stroke-linecap="round"/><polyline points="575.5,1467.7 576.4,1466.7 577.3,1467.5" fill="none" stroke="#999900" stroke-width="8.5" stroke-linejoin="round" stroke-linecap="round"/><polyline points="579.1,1467.1 580.0,1468.3" fill="none" stroke="#999900" stroke-width="8.5" stroke-linejoin="round" stroke-linecap="round"/><polyline points="580.9,1466.2 581.8,1467.0" fill="none" stroke="#999900" stroke-width="8.5" stroke-linejoin="round" stroke-linecap="round"/><polyline points="586.3,1468.0 587.2,1468.8" fill="none" stroke="#999900" stroke-width="8.5" stroke-linejoin="round" stroke-linecap="round"/><polyline points="598.0,1469.8 598.9,1470.6 599.8,1471.3 600.7,1472.0 601.6,1473.4 602.5,1474.4 603.4,1475.9 604.3,1476.8" fill="none" stroke="#999900" stroke-width="8.5" stroke-linejoin="round" stroke-linecap="round"/><polyline points="625.9,1480.4 626.8,1479.6 627.7,1478.3" fill="none" stroke="#999900" stroke-width="8.5" stroke-linejoin="round" stroke-linecap="round"/><polyline points="637.6,1471.1 638.5,1472.1 639.4,1470.8" fill="none" stroke="#999900" stroke-width="8.5" stroke-linejoin="round" stroke-linecap="round"/><polyline points="643.9,1471.3 644.8,1470.0" fill="none" stroke="#999900" stroke-width="8.5" stroke-linejoin="round" stroke-linecap="round"/><polyline points="646.6,1470.0 647.5,1471.0 648.4,1470.1 649.3,1469.2" fill="none" stroke="#999900" stroke-width="8.5" stroke-linejoin="round" stroke-linecap="round"/><polyline points="651.1,1470.4 652.0,1468.9" fill="none" stroke="#999900" stroke-width="8.5" stroke-linejoin="round" stroke-linecap="round"/><polyline points="653.8,1469.4 654.7,1470.6 655.6,1469.3 656.5,1470.0 657.4,1469.0" fill="none" stroke="#999900" stroke-width="8.5" stroke-linejoin="round" stroke-linecap="round"/><polyline points="661.0,1468.3 661.9,1469.4" fill="none" stroke="#999900" stroke-width="8.5" stroke-linejoin="round" stroke-linecap="round"/><polyline points="670.9,1468.8 671.8,1468.0 672.7,1468.8" fill="none" stroke="#999900" stroke-width="8.5" stroke-linejoin="round" stroke-linecap="round"/><polyline points="674.5,1468.1 675.4,1469.1" fill="none" stroke="#999900" stroke-width="8.5" stroke-linejoin="round" stroke-linecap="round"/><polyline points="677.2,1469.2 678.1,1467.9 679.0,1469.2" fill="none" stroke="#999900" stroke-width="8.5" stroke-linejoin="round" stroke-linecap="round"/><polyline points="682.6,1468.5 683.5,1469.1" fill="none" stroke="#999900" stroke-width="8.5" stroke-linejoin="round" stroke-linecap="round"/><polyline points="688.9,1469.3 689.8,1467.8" fill="none" stroke="#999900" stroke-width="8.5" stroke-linejoin="round" stroke-linecap="round"/><polyline points="706.0,1467.8 706.9,1468.9" fill="none" stroke="#999900" stroke-width="8.5" stroke-linejoin="round" stroke-linecap="round"/><polyline points="712.3,1468.8 713.2,1467.8" fill="none" stroke="#999900" stroke-width="8.5" stroke-linejoin="round" stroke-linecap="round"/><polyline points="718.6,1469.3 719.5,1468.0 720.4,1469.2 721.3,1468.3 722.2,1469.1" fill="none" stroke="#999900" stroke-width="8.5" stroke-linejoin="round" stroke-linecap="round"/><polyline points="724.0,1468.1 724.9,1469.0" fill="none" stroke="#999900" stroke-width="8.5" stroke-linejoin="round" stroke-linecap="round"/><polyline points="735.7,1469.3 736.6,1468.7" fill="none" stroke="#999900" stroke-width="8.5" stroke-linejoin="round" stroke-linecap="round"/><polyline points="740.2,1470.1 741.1,1469.4" fill="none" stroke="#999900" stroke-width="8.5" stroke-linejoin="round" stroke-linecap="round"/><polyline points="750.1,1470.3 751.0,1469.4" fill="none" stroke="#999900" stroke-width="8.5" stroke-linejoin="round" stroke-linecap="round"/><polyline points="752.8,1469.6 753.7,1470.3 754.6,1469.3" fill="none" stroke="#999900" stroke-width="8.5" stroke-linejoin="round" stroke-linecap="round"/><polyline points="765.4,1469.6 766.3,1470.2 767.2,1469.2" fill="none" stroke="#999900" stroke-width="8.5" stroke-linejoin="round" stroke-linecap="round"/><polyline points="769.0,1468.9 769.9,1469.6" fill="none" stroke="#999900" stroke-width="8.5" stroke-linejoin="round" stroke-linecap="round"/><polyline points="771.7,1469.2 772.6,1470.1 773.5,1469.5" fill="none" stroke="#999900" stroke-width="8.5" stroke-linejoin="round" stroke-linecap="round"/><polyline points="777.1,1470.6 778.0,1469.7" fill="none" stroke="#999900" stroke-width="8.5" stroke-linejoin="round" stroke-linecap="round"/><polyline points="785.2,1470.8 786.1,1469.9" fill="none" stroke="#999900" stroke-width="8.5" stroke-linejoin="round" stroke-linecap="round"/><polyline points="787.9,1469.8 788.8,1471.3" fill="none" stroke="#999900" stroke-width="8.5" stroke-linejoin="round" stroke-linecap="round"/><polyline points="799.6,1469.1 800.5,1470.2" fill="none" stroke="#999900" stroke-width="8.5" stroke-linejoin="round" stroke-linecap="round"/><polyline points="804.1,1469.5 805.0,1470.6 805.9,1469.7" fill="none" stroke="#999900" stroke-width="8.5" stroke-linejoin="round" stroke-linecap="round"/><polyline points="807.7,1470.1 808.6,1471.4 809.5,1469.9" fill="none" stroke="#999900" stroke-width="8.5" stroke-linejoin="round" stroke-linecap="round"/><polyline points="813.1,1471.1 814.0,1469.7" fill="none" stroke="#999900" stroke-width="8.5" stroke-linejoin="round" stroke-linecap="round"/><polyline points="824.8,1469.8 825.7,1470.8" fill="none" stroke="#999900" stroke-width="8.5" stroke-linejoin="round" stroke-linecap="round"/><polyline points="827.5,1471.7 828.4,1470.3 829.3,1471.2 830.2,1469.8" fill="none" stroke="#999900" stroke-width="8.5" stroke-linejoin="round" stroke-linecap="round"/><polyline points="839.2,1470.4 840.1,1471.1" fill="none" stroke="#999900" stroke-width="8.5" stroke-linejoin="round" stroke-linecap="round"/><polyline points="112.0,1353.1 113.8,1353.1 115.6,1352.6 117.4,1353.2 119.2,1352.4 121.0,1352.7 122.8,1353.1 124.6,1352.7 126.4,1352.3 127.3,1351.6 128.2,1353.0 129.1,1352.2 130.9,1352.4 131.8,1353.4 132.7,1352.4 133.6,1353.2 135.4,1352.4 137.2,1353.3 139.0,1353.4 140.8,1353.2 142.6,1353.0 144.4,1352.9 146.2,1354.1 147.1,1352.1 148.0,1353.2 149.8,1353.2 151.6,1353.0 153.4,1352.6 155.2,1352.9 157.0,1353.4 157.9,1352.6 158.8,1353.3 160.6,1353.3 162.4,1353.2 164.2,1352.7 166.0,1353.2 167.8,1353.7 168.7,1352.9 170.5,1352.4 172.3,1352.7 174.1,1352.4 175.9,1353.5 176.8,1352.8 178.6,1354.4 179.5,1353.3 181.3,1353.6 182.2,1352.8 183.1,1354.0 184.0,1352.5 185.8,1353.2 187.6,1354.0 188.5,1352.5 190.3,1353.4 192.1,1353.8 193.9,1354.4 194.8,1353.1 196.6,1353.7 198.4,1353.2 200.2,1353.0 202.0,1353.1 203.8,1353.6 204.7,1352.6 205.6,1354.4 207.4,1353.9 208.3,1353.3 210.1,1354.0 211.9,1353.7 213.7,1354.0 214.6,1353.0 216.4,1352.6 218.2,1353.7 220.0,1353.3 221.8,1353.5 222.7,1354.1 223.6,1352.3 224.5,1353.8 226.3,1352.8 228.1,1354.0 229.0,1353.0 230.8,1353.9 232.6,1353.8 233.5,1353.2 235.3,1354.2 237.1,1352.6 238.0,1354.0 239.8,1353.2 240.7,1354.4 241.6,1352.8 242.5,1354.6 243.4,1353.4 244.3,1354.5 245.2,1353.7 247.0,1353.8 248.8,1354.0 250.6,1353.3 251.5,1354.0 253.3,1353.7 255.1,1353.4 256.0,1354.2 257.8,1353.5 259.6,1354.5 260.5,1353.1 261.4,1354.0 263.2,1353.1 264.1,1354.0 265.9,1354.7 267.7,1353.9 269.5,1354.5 270.4,1353.7 272.2,1354.8 273.1,1353.9 274.9,1353.9 276.7,1353.8 277.6,1354.5 279.4,1353.9 281.2,1354.2 282.1,1353.4 283.9,1354.8 285.7,1354.4 286.6,1353.7 287.5,1354.6 288.4,1353.1 289.3,1353.9 290.2,1355.0 292.0,1353.6 293.8,1354.7 295.6,1354.0 297.4,1354.1 298.3,1353.4 299.2,1354.8 300.1,1354.1 301.9,1353.7 302.8,1354.5 304.6,1354.7 306.4,1355.0 307.3,1354.3 309.1,1353.5 310.9,1354.9 311.8,1356.1 312.7,1353.9 314.5,1354.8 316.3,1354.3 318.1,1353.9 319.0,1354.5 320.8,1355.5 321.7,1354.6 323.5,1355.0 325.3,1355.0 327.1,1355.0 328.9,1354.5 330.7,1355.2 332.5,1355.5 334.3,1354.7 336.1,1354.6 337.9,1354.8 339.7,1355.7 340.6,1354.6 342.4,1354.9 343.3,1356.0 345.1,1355.1 346.9,1355.4 348.7,1356.2 350.5,1356.3 352.3,1355.9 354.1,1355.1 355.0,1356.0 356.8,1356.0 358.6,1355.4 360.4,1356.2 362.2,1355.7 364.0,1356.6 364.9,1355.6 366.7,1355.5 367.6,1356.7 369.4,1355.9 371.2,1356.1 373.0,1356.1 374.8,1356.7 375.7,1355.8 376.6,1356.5 378.4,1356.1 380.2,1356.7 382.0,1356.6 383.8,1356.9 385.6,1356.5 387.4,1357.5 389.2,1356.6 390.1,1357.6 391.9,1357.1 393.7,1357.7 395.5,1356.8 396.4,1357.7 398.2,1357.4 399.1,1358.2 400.9,1357.2 402.7,1358.0 403.6,1357.2 404.5,1358.4 406.3,1358.2 408.1,1359.2 409.0,1358.4 410.8,1359.4 411.7,1358.3 413.5,1358.1 414.4,1359.4 416.2,1359.3 418.0,1359.1 419.8,1359.0 420.7,1359.7 422.5,1360.5 423.4,1359.4 425.2,1359.5 426.1,1360.8 427.0,1359.6 427.9,1360.8 429.7,1360.5 431.5,1359.8 432.4,1360.8 434.2,1361.3 436.0,1361.1 436.9,1362.1 438.7,1361.7 440.5,1361.5 441.4,1362.3 442.3,1363.6 443.2,1362.3 444.1,1363.1 445.9,1363.6 447.7,1363.6 449.5,1363.9 450.4,1365.0 452.2,1365.3 454.0,1364.7 454.9,1366.2 456.7,1366.3 458.5,1367.5 460.3,1368.3 462.1,1367.8 463.0,1369.4 464.8,1370.1 465.7,1371.3 467.5,1372.7 468.4,1373.8 470.2,1374.3 471.1,1375.9 472.0,1378.3 472.9,1379.5 473.8,1381.2 474.7,1383.6 475.6,1386.0 476.5,1387.9 477.4,1390.1 478.3,1391.3 479.2,1393.4 480.1,1395.4 481.0,1397.6 481.9,1398.8 482.8,1402.2 483.7,1404.4 484.6,1409.3 485.5,1413.2 486.4,1417.3 487.3,1420.7 488.2,1423.5 489.1,1427.0 490.0,1429.1 490.9,1432.1 491.8,1433.8 492.7,1436.2 493.6,1438.8 494.5,1441.3 495.4,1442.0 496.3,1444.6 497.2,1446.3 498.1,1445.7 499.0,1447.6 499.9,1448.3 500.8,1449.9 501.7,1450.8 502.6,1452.0 503.5,1453.3 504.4,1454.1 506.2,1454.8 508.0,1455.7 508.9,1456.4 510.7,1457.1 512.5,1458.0 513.4,1458.9 515.2,1458.0 516.1,1459.7 517.9,1458.1 518.8,1459.8 519.7,1460.5 521.5,1461.3 523.3,1461.2 524.2,1460.4 525.1,1461.1 526.0,1461.9 527.8,1461.8 529.6,1462.9 530.5,1461.9 532.3,1463.0 534.1,1463.2 535.0,1462.5 535.9,1463.8 537.7,1464.4 539.5,1464.4 541.3,1464.3 542.2,1465.1 544.0,1465.1 545.8,1464.8 546.7,1465.6 548.5,1464.9 550.3,1465.2 552.1,1465.7 553.9,1465.6 555.7,1465.2 556.6,1466.0 558.4,1466.4 560.2,1465.9 562.0,1466.2 563.8,1465.7 564.7,1466.8 565.6,1465.9 566.5,1467.3 567.4,1465.8 568.3,1466.7 569.2,1466.0 570.1,1466.7 571.9,1466.7 573.7,1466.6 575.5,1467.7 576.4,1466.7 577.3,1467.5 579.1,1467.1 580.0,1468.3 580.9,1466.2 581.8,1467.0 583.6,1467.4 585.4,1469.6 586.3,1468.0 587.2,1468.8 589.0,1467.9 590.8,1469.2 592.6,1468.8 594.4,1468.2 596.2,1469.6 598.0,1469.8 598.9,1470.6 599.8,1471.3 600.7,1472.0 601.6,1473.4 602.5,1474.4 603.4,1475.9 604.3,1476.8 605.2,1478.9 606.1,1481.7 607.0,1483.6 607.9,1488.0 608.8,1491.6 609.7,1497.1 610.6,1504.7 611.5,1513.3 612.4,1523.9 613.3,1535.5 614.2,1545.1 615.1,1552.5 616.0,1549.6 616.9,1544.3 617.8,1534.4 618.7,1523.6 619.6,1512.3 620.5,1502.3 621.4,1497.3 622.3,1490.8 623.2,1487.8 624.1,1484.2 625.0,1482.0 625.9,1480.4 626.8,1479.6 627.7,1478.3 628.6,1476.4 630.4,1474.5 632.2,1473.4 634.0,1472.3 635.8,1472.1 637.6,1471.1 638.5,1472.1 639.4,1470.8 641.2,1470.8 643.0,1469.3 643.9,1471.3 644.8,1470.0 646.6,1470.0 647.5,1471.0 648.4,1470.1 649.3,1469.2 651.1,1470.4 652.0,1468.9 653.8,1469.4 654.7,1470.6 655.6,1469.3 656.5,1470.0 657.4,1469.0 659.2,1469.8 661.0,1468.3 661.9,1469.4 663.7,1468.7 665.5,1469.1 667.3,1468.6 669.1,1468.7 670.9,1468.8 671.8,1468.0 672.7,1468.8 674.5,1468.1 675.4,1469.1 677.2,1469.2 678.1,1467.9 679.0,1469.2 680.8,1468.5 682.6,1468.5 683.5,1469.1 685.3,1468.2 687.1,1468.2 688.9,1469.3 689.8,1467.8 691.6,1468.1 693.4,1468.5 695.2,1467.6 697.0,1468.9 698.8,1468.5 700.6,1468.1 702.4,1468.0 704.2,1468.3 706.0,1467.8 706.9,1468.9 708.7,1467.9 710.5,1468.4 712.3,1468.8 713.2,1467.8 715.0,1469.0 716.8,1468.7 718.6,1469.3 719.5,1468.0 720.4,1469.2 721.3,1468.3 722.2,1469.1 724.0,1468.1 724.9,1469.0 726.7,1468.7 728.5,1468.4 730.3,1469.3 732.1,1468.7 733.9,1470.2 735.7,1469.3 736.6,1468.7 738.4,1469.3 740.2,1470.1 741.1,1469.4 742.9,1468.9 744.7,1469.0 746.5,1469.3 748.3,1469.6 750.1,1470.3 751.0,1469.4 752.8,1469.6 753.7,1470.3 754.6,1469.3 756.4,1469.4 758.2,1469.8 760.0,1469.6 761.8,1470.2 763.6,1470.1 765.4,1469.6 766.3,1470.2 767.2,1469.2 769.0,1468.9 769.9,1469.6 771.7,1469.2 772.6,1470.1 773.5,1469.5 775.3,1469.7 777.1,1470.6 778.0,1469.7 779.8,1469.3 781.6,1469.8 783.4,1469.7 785.2,1470.8 786.1,1469.9 787.9,1469.8 788.8,1471.3 790.6,1470.3 792.4,1469.7 794.2,1470.2 796.0,1469.7 797.8,1470.4 799.6,1469.1 800.5,1470.2 802.3,1469.9 804.1,1469.5 805.0,1470.6 805.9,1469.7 807.7,1470.1 808.6,1471.4 809.5,1469.9 811.3,1470.5 813.1,1471.1 814.0,1469.7 815.8,1470.1 817.6,1470.5 819.4,1469.6 821.2,1470.3 823.0,1470.6 824.8,1469.8 825.7,1470.8 827.5,1471.7 828.4,1470.3 829.3,1471.2 830.2,1469.8 832.0,1470.0 833.8,1469.9 835.6,1470.4 837.4,1470.7 839.2,1470.4 840.1,1471.1 841.9,1470.5" fill="none" stroke="none" marker-start="url(#mo)" marker-mid="url(#mo)" marker-end="url(#mo)"/>
<path d="M112.0 1352.5L194.5 1352.8 290.5 1353.8 332.0 1354.5 370.8 1355.7 401.0 1357.2 413.2 1358.2 425.0 1359.5 436.0 1361.0 444.5 1362.4 450.8 1364.1 457.0 1366.3 462.2 1368.6 466.0 1370.8 468.0 1372.4 470.0 1374.3 471.8 1376.9 480.2 1395.4 482.8 1401.7 484.2 1406.7 488.2 1423.4 490.8 1430.9 493.0 1436.7 495.2 1441.3 498.8 1446.7 502.0 1450.9 504.8 1453.4 506.2 1454.3 509.8 1456.0 516.5 1458.6 523.2 1460.7 530.8 1462.4 539.5 1463.8 548.2 1464.8 556.5 1465.4 578.2 1466.6 590.2 1467.8 594.8 1468.5 596.5 1469.0 599.2 1470.5 601.2 1472.2 603.5 1475.5 606.0 1480.8 607.5 1485.8 609.0 1492.6 610.0 1499.2 611.0 1507.6 614.0 1543.0 615.0 1550.2 615.5 1551.5 616.0 1550.2 617.0 1543.0 620.2 1505.2 621.5 1495.5 622.5 1490.0 624.5 1483.3 625.5 1480.9 626.5 1479.1 628.5 1476.3 630.2 1474.4 632.0 1473.0 633.8 1472.2 640.2 1470.4 647.0 1469.5 668.5 1468.4 690.2 1467.9 710.2 1467.9 745.0 1468.9 762.2 1469.2 807.5 1469.7 843.0 1469.9" fill="none" stroke="#cc0000" stroke-width="4.6" stroke-linejoin="round" stroke-linecap="butt"/>
<polyline points="113.8,1549.1 114.7,1550.0" fill="none" stroke="#575757" stroke-width="8.5" stroke-linejoin="round" stroke-linecap="round"/><polyline points="116.5,1550.1 117.4,1549.2" fill="none" stroke="#575757" stroke-width="8.5" stroke-linejoin="round" stroke-linecap="round"/><polyline points="122.8,1549.3 123.7,1550.2 124.6,1549.2 125.5,1550.0" fill="none" stroke="#575757" stroke-width="8.5" stroke-linejoin="round" stroke-linecap="round"/><polyline points="127.3,1548.8 128.2,1549.6" fill="none" stroke="#575757" stroke-width="8.5" stroke-linejoin="round" stroke-linecap="round"/><polyline points="131.8,1548.7 132.7,1549.7" fill="none" stroke="#575757" stroke-width="8.5" stroke-linejoin="round" stroke-linecap="round"/><polyline points="134.5,1549.6 135.4,1549.0" fill="none" stroke="#575757" stroke-width="8.5" stroke-linejoin="round" stroke-linecap="round"/><polyline points="139.0,1548.7 139.9,1549.7" fill="none" stroke="#575757" stroke-width="8.5" stroke-linejoin="round" stroke-linecap="round"/><polyline points="145.3,1549.1 146.2,1549.9 147.1,1550.6 148.0,1549.6 148.9,1550.3" fill="none" stroke="#575757" stroke-width="8.5" stroke-linejoin="round" stroke-linecap="round"/><polyline points="150.7,1550.3 151.6,1549.6 152.5,1548.7 153.4,1550.0" fill="none" stroke="#575757" stroke-width="8.5" stroke-linejoin="round" stroke-linecap="round"/><polyline points="164.2,1549.8 165.1,1550.8" fill="none" stroke="#575757" stroke-width="8.5" stroke-linejoin="round" stroke-linecap="round"/><polyline points="170.5,1549.9 171.4,1549.2" fill="none" stroke="#575757" stroke-width="8.5" stroke-linejoin="round" stroke-linecap="round"/><polyline points="182.2,1549.4 183.1,1550.3" fill="none" stroke="#575757" stroke-width="8.5" stroke-linejoin="round" stroke-linecap="round"/><polyline points="184.9,1549.3 185.8,1550.4 186.7,1549.2 187.6,1550.4" fill="none" stroke="#575757" stroke-width="8.5" stroke-linejoin="round" stroke-linecap="round"/><polyline points="193.0,1549.5 193.9,1550.1 194.8,1549.2 195.7,1549.8" fill="none" stroke="#575757" stroke-width="8.5" stroke-linejoin="round" stroke-linecap="round"/><polyline points="197.5,1548.9 198.4,1550.0 199.3,1549.3" fill="none" stroke="#575757" stroke-width="8.5" stroke-linejoin="round" stroke-linecap="round"/><polyline points="202.9,1550.4 203.8,1549.7 204.7,1550.6" fill="none" stroke="#575757" stroke-width="8.5" stroke-linejoin="round" stroke-linecap="round"/><polyline points="213.7,1549.2 214.6,1550.3" fill="none" stroke="#575757" stroke-width="8.5" stroke-linejoin="round" stroke-linecap="round"/><polyline points="216.4,1549.4 217.3,1550.1" fill="none" stroke="#575757" stroke-width="8.5" stroke-linejoin="round" stroke-linecap="round"/><polyline points="220.9,1550.4 221.8,1549.4" fill="none" stroke="#575757" stroke-width="8.5" stroke-linejoin="round" stroke-linecap="round"/><polyline points="226.3,1549.2 227.2,1550.1" fill="none" stroke="#575757" stroke-width="8.5" stroke-linejoin="round" stroke-linecap="round"/><polyline points="232.6,1549.7 233.5,1550.6 234.4,1549.6 235.3,1550.8" fill="none" stroke="#575757" stroke-width="8.5" stroke-linejoin="round" stroke-linecap="round"/><polyline points="237.1,1550.5 238.0,1549.2 238.9,1549.9 239.8,1550.6 240.7,1549.6" fill="none" stroke="#575757" stroke-width="8.5" stroke-linejoin="round" stroke-linecap="round"/><polyline points="251.5,1549.6 252.4,1551.0 253.3,1550.3 254.2,1551.0" fill="none" stroke="#575757" stroke-width="8.5" stroke-linejoin="round" stroke-linecap="round"/><polyline points="261.4,1549.7 262.3,1550.4" fill="none" stroke="#575757" stroke-width="8.5" stroke-linejoin="round" stroke-linecap="round"/><polyline points="265.9,1549.8 266.8,1551.3" fill="none" stroke="#575757" stroke-width="8.5" stroke-linejoin="round" stroke-linecap="round"/><polyline points="268.6,1551.5 269.5,1550.2" fill="none" stroke="#575757" stroke-width="8.5" stroke-linejoin="round" stroke-linecap="round"/><polyline points="271.3,1550.8 272.2,1549.8 273.1,1550.8" fill="none" stroke="#575757" stroke-width="8.5" stroke-linejoin="round" stroke-linecap="round"/><polyline points="276.7,1550.7 277.6,1551.6" fill="none" stroke="#575757" stroke-width="8.5" stroke-linejoin="round" stroke-linecap="round"/><polyline points="279.4,1550.1 280.3,1551.2 281.2,1550.1 282.1,1550.8 283.0,1550.2" fill="none" stroke="#575757" stroke-width="8.5" stroke-linejoin="round" stroke-linecap="round"/><polyline points="284.8,1551.4 285.7,1550.5" fill="none" stroke="#575757" stroke-width="8.5" stroke-linejoin="round" stroke-linecap="round"/><polyline points="289.3,1551.6 290.2,1550.3" fill="none" stroke="#575757" stroke-width="8.5" stroke-linejoin="round" stroke-linecap="round"/><polyline points="292.0,1551.2 292.9,1550.1" fill="none" stroke="#575757" stroke-width="8.5" stroke-linejoin="round" stroke-linecap="round"/><polyline points="301.9,1551.5 302.8,1550.7" fill="none" stroke="#575757" stroke-width="8.5" stroke-linejoin="round" stroke-linecap="round"/><polyline points="304.6,1551.4 305.5,1550.2 306.4,1550.9" fill="none" stroke="#575757" stroke-width="8.5" stroke-linejoin="round" stroke-linecap="round"/><polyline points="310.0,1551.3 310.9,1550.4" fill="none" stroke="#575757" stroke-width="8.5" stroke-linejoin="round" stroke-linecap="round"/><polyline points="314.5,1550.6 315.4,1551.8 316.3,1551.1" fill="none" stroke="#575757" stroke-width="8.5" stroke-linejoin="round" stroke-linecap="round"/><polyline points="319.9,1550.9 320.8,1552.0" fill="none" stroke="#575757" stroke-width="8.5" stroke-linejoin="round" stroke-linecap="round"/><polyline points="324.4,1551.2 325.3,1551.9" fill="none" stroke="#575757" stroke-width="8.5" stroke-linejoin="round" stroke-linecap="round"/><polyline points="327.1,1551.2 328.0,1552.0 328.9,1550.9 329.8,1552.0 330.7,1551.3 331.6,1551.9" fill="none" stroke="#575757" stroke-width="8.5" stroke-linejoin="round" stroke-linecap="round"/><polyline points="340.6,1551.2 341.5,1552.0" fill="none" stroke="#575757" stroke-width="8.5" stroke-linejoin="round" stroke-linecap="round"/><polyline points="345.1,1552.7 346.0,1551.6 346.9,1552.6" fill="none" stroke="#575757" stroke-width="8.5" stroke-linejoin="round" stroke-linecap="round"/><polyline points="348.7,1551.3 349.6,1552.5" fill="none" stroke="#575757" stroke-width="8.5" stroke-linejoin="round" stroke-linecap="round"/><polyline points="362.2,1552.8 363.1,1552.2 364.0,1551.5" fill="none" stroke="#575757" stroke-width="8.5" stroke-linejoin="round" stroke-linecap="round"/><polyline points="377.5,1553.7 378.4,1553.0 379.3,1553.7 380.2,1552.7 381.1,1553.4 382.0,1552.0 382.9,1552.8 383.8,1553.7" fill="none" stroke="#575757" stroke-width="8.5" stroke-linejoin="round" stroke-linecap="round"/><polyline points="385.6,1553.4 386.5,1552.6" fill="none" stroke="#575757" stroke-width="8.5" stroke-linejoin="round" stroke-linecap="round"/><polyline points="392.8,1553.5 393.7,1552.7" fill="none" stroke="#575757" stroke-width="8.5" stroke-linejoin="round" stroke-linecap="round"/><polyline points="404.5,1553.6 405.4,1554.4 406.3,1553.3" fill="none" stroke="#575757" stroke-width="8.5" stroke-linejoin="round" stroke-linecap="round"/><polyline points="409.9,1553.3 410.8,1552.6" fill="none" stroke="#575757" stroke-width="8.5" stroke-linejoin="round" stroke-linecap="round"/><polyline points="412.6,1554.0 413.5,1553.2" fill="none" stroke="#575757" stroke-width="8.5" stroke-linejoin="round" stroke-linecap="round"/><polyline points="418.9,1552.6 419.8,1553.7 420.7,1552.6" fill="none" stroke="#575757" stroke-width="8.5" stroke-linejoin="round" stroke-linecap="round"/><polyline points="422.5,1554.3 423.4,1553.0 424.3,1553.8 425.2,1552.8" fill="none" stroke="#575757" stroke-width="8.5" stroke-linejoin="round" stroke-linecap="round"/><polyline points="430.6,1552.9 431.5,1551.9" fill="none" stroke="#575757" stroke-width="8.5" stroke-linejoin="round" stroke-linecap="round"/><polyline points="433.3,1552.9 434.2,1552.2" fill="none" stroke="#575757" stroke-width="8.5" stroke-linejoin="round" stroke-linecap="round"/><polyline points="439.6,1551.9 440.5,1552.8 441.4,1551.5 442.3,1550.6 443.2,1551.4" fill="none" stroke="#575757" stroke-width="8.5" stroke-linejoin="round" stroke-linecap="round"/><polyline points="445.0,1551.0 445.9,1550.0 446.8,1551.0 447.7,1550.2" fill="none" stroke="#575757" stroke-width="8.5" stroke-linejoin="round" stroke-linecap="round"/><polyline points="449.5,1548.9 450.4,1549.6" fill="none" stroke="#575757" stroke-width="8.5" stroke-linejoin="round" stroke-linecap="round"/><polyline points="452.2,1549.4 453.1,1548.2 454.0,1547.5" fill="none" stroke="#575757" stroke-width="8.5" stroke-linejoin="round" stroke-linecap="round"/><polyline points="459.4,1544.5 460.3,1543.8 461.2,1542.7 462.1,1541.6" fill="none" stroke="#575757" stroke-width="8.5" stroke-linejoin="round" stroke-linecap="round"/><polyline points="463.9,1539.7 464.8,1538.9 465.7,1537.5" fill="none" stroke="#575757" stroke-width="8.5" stroke-linejoin="round" stroke-linecap="round"/><polyline points="466.6,1535.1 467.5,1534.4 468.4,1533.0" fill="none" stroke="#575757" stroke-width="8.5" stroke-linejoin="round" stroke-linecap="round"/><polyline points="112.0,1549.5 113.8,1549.1 114.7,1550.0 116.5,1550.1 117.4,1549.2 119.2,1549.3 121.0,1549.9 122.8,1549.3 123.7,1550.2 124.6,1549.2 125.5,1550.0 127.3,1548.8 128.2,1549.6 130.0,1549.0 131.8,1548.7 132.7,1549.7 134.5,1549.6 135.4,1549.0 137.2,1549.4 139.0,1548.7 139.9,1549.7 141.7,1549.1 143.5,1549.9 145.3,1549.1 146.2,1549.9 147.1,1550.6 148.0,1549.6 148.9,1550.3 149.8,1548.3 150.7,1550.3 151.6,1549.6 152.5,1548.7 153.4,1550.0 155.2,1550.2 157.0,1549.6 158.8,1549.4 160.6,1549.8 162.4,1549.6 164.2,1549.8 165.1,1550.8 166.9,1549.1 168.7,1549.0 170.5,1549.9 171.4,1549.2 173.2,1549.6 175.0,1549.5 176.8,1550.2 178.6,1549.9 180.4,1549.2 182.2,1549.4 183.1,1550.3 184.9,1549.3 185.8,1550.4 186.7,1549.2 187.6,1550.4 189.4,1549.4 191.2,1549.7 193.0,1549.5 193.9,1550.1 194.8,1549.2 195.7,1549.8 197.5,1548.9 198.4,1550.0 199.3,1549.3 201.1,1549.6 202.9,1550.4 203.8,1549.7 204.7,1550.6 206.5,1550.5 208.3,1550.1 210.1,1550.3 211.9,1550.1 213.7,1549.2 214.6,1550.3 216.4,1549.4 217.3,1550.1 219.1,1550.0 220.9,1550.4 221.8,1549.4 223.6,1550.3 225.4,1550.8 226.3,1549.2 227.2,1550.1 229.0,1550.8 230.8,1549.7 232.6,1549.7 233.5,1550.6 234.4,1549.6 235.3,1550.8 237.1,1550.5 238.0,1549.2 238.9,1549.9 239.8,1550.6 240.7,1549.6 242.5,1550.2 244.3,1550.5 246.1,1550.1 247.9,1550.3 249.7,1550.3 251.5,1549.6 252.4,1551.0 253.3,1550.3 254.2,1551.0 256.0,1550.9 257.8,1550.2 259.6,1550.4 261.4,1549.7 262.3,1550.4 264.1,1550.2 265.9,1549.8 266.8,1551.3 268.6,1551.5 269.5,1550.2 271.3,1550.8 272.2,1549.8 273.1,1550.8 274.9,1550.5 276.7,1550.7 277.6,1551.6 279.4,1550.1 280.3,1551.2 281.2,1550.1 282.1,1550.8 283.0,1550.2 284.8,1551.4 285.7,1550.5 287.5,1550.5 289.3,1551.6 290.2,1550.3 292.0,1551.2 292.9,1550.1 294.7,1551.5 296.5,1550.7 298.3,1550.5 300.1,1551.0 301.9,1551.5 302.8,1550.7 304.6,1551.4 305.5,1550.2 306.4,1550.9 308.2,1550.6 310.0,1551.3 310.9,1550.4 312.7,1550.9 314.5,1550.6 315.4,1551.8 316.3,1551.1 318.1,1551.2 319.9,1550.9 320.8,1552.0 322.6,1551.4 324.4,1551.2 325.3,1551.9 327.1,1551.2 328.0,1552.0 328.9,1550.9 329.8,1552.0 330.7,1551.3 331.6,1551.9 333.4,1552.1 335.2,1551.9 337.0,1551.3 338.8,1552.0 340.6,1551.2 341.5,1552.0 343.3,1552.2 345.1,1552.7 346.0,1551.6 346.9,1552.6 348.7,1551.3 349.6,1552.5 351.4,1552.5 353.2,1552.3 355.0,1552.6 356.8,1552.3 358.6,1552.4 360.4,1552.7 362.2,1552.8 363.1,1552.2 364.0,1551.5 364.9,1553.2 366.7,1552.2 368.5,1553.1 370.3,1553.3 372.1,1553.0 373.9,1553.3 375.7,1553.7 377.5,1553.7 378.4,1553.0 379.3,1553.7 380.2,1552.7 381.1,1553.4 382.0,1552.0 382.9,1552.8 383.8,1553.7 385.6,1553.4 386.5,1552.6 387.4,1554.1 389.2,1553.4 391.0,1553.6 392.8,1553.5 393.7,1552.7 395.5,1554.1 397.3,1553.2 399.1,1553.5 400.9,1552.7 402.7,1553.8 404.5,1553.6 405.4,1554.4 406.3,1553.3 408.1,1553.1 409.9,1553.3 410.8,1552.6 412.6,1554.0 413.5,1553.2 415.3,1553.3 417.1,1553.5 418.9,1552.6 419.8,1553.7 420.7,1552.6 422.5,1554.3 423.4,1553.0 424.3,1553.8 425.2,1552.8 427.0,1552.9 428.8,1552.4 430.6,1552.9 431.5,1551.9 433.3,1552.9 434.2,1552.2 436.0,1551.9 437.8,1552.1 439.6,1551.9 440.5,1552.8 441.4,1551.5 442.3,1550.6 443.2,1551.4 445.0,1551.0 445.9,1550.0 446.8,1551.0 447.7,1550.2 449.5,1548.9 450.4,1549.6 452.2,1549.4 453.1,1548.2 454.0,1547.5 455.8,1546.7 457.6,1545.5 459.4,1544.5 460.3,1543.8 461.2,1542.7 462.1,1541.6 463.9,1539.7 464.8,1538.9 465.7,1537.5 466.6,1535.1 467.5,1534.4 468.4,1533.0 469.3,1530.1 470.2,1527.6 471.1,1524.2 472.0,1519.9 472.9,1515.7 473.8,1513.5 474.7,1510.5 475.6,1506.8 476.5,1502.9 477.0,1500.5" fill="none" stroke="none" marker-start="url(#mk)" marker-mid="url(#mk)" marker-end="url(#mk)"/>
<polyline points="488.7,1674.4 489.6,1673.8 490.5,1672.6 491.4,1671.9" fill="none" stroke="#575757" stroke-width="8.5" stroke-linejoin="round" stroke-linecap="round"/><polyline points="493.2,1671.6 494.1,1670.9" fill="none" stroke="#575757" stroke-width="8.5" stroke-linejoin="round" stroke-linecap="round"/><polyline points="497.7,1669.7 498.6,1668.9 499.5,1669.7" fill="none" stroke="#575757" stroke-width="8.5" stroke-linejoin="round" stroke-linecap="round"/><polyline points="503.1,1669.6 504.0,1668.8" fill="none" stroke="#575757" stroke-width="8.5" stroke-linejoin="round" stroke-linecap="round"/><polyline points="505.8,1669.3 506.7,1668.5" fill="none" stroke="#575757" stroke-width="8.5" stroke-linejoin="round" stroke-linecap="round"/><polyline points="517.5,1667.5 518.4,1668.6 519.3,1667.9 520.2,1668.7" fill="none" stroke="#575757" stroke-width="8.5" stroke-linejoin="round" stroke-linecap="round"/><polyline points="527.4,1668.3 528.3,1667.6 529.2,1668.4 530.1,1667.5 531.0,1668.4" fill="none" stroke="#575757" stroke-width="8.5" stroke-linejoin="round" stroke-linecap="round"/><polyline points="534.6,1669.6 535.5,1668.1" fill="none" stroke="#575757" stroke-width="8.5" stroke-linejoin="round" stroke-linecap="round"/><polyline points="537.3,1667.9 538.2,1668.9 539.1,1668.0 540.0,1668.7 540.9,1667.8" fill="none" stroke="#575757" stroke-width="8.5" stroke-linejoin="round" stroke-linecap="round"/><polyline points="542.7,1668.2 543.6,1668.8" fill="none" stroke="#575757" stroke-width="8.5" stroke-linejoin="round" stroke-linecap="round"/><polyline points="545.4,1668.0 546.3,1668.6 547.2,1667.9" fill="none" stroke="#575757" stroke-width="8.5" stroke-linejoin="round" stroke-linecap="round"/><polyline points="549.0,1668.8 549.9,1667.6 550.8,1668.9" fill="none" stroke="#575757" stroke-width="8.5" stroke-linejoin="round" stroke-linecap="round"/><polyline points="565.2,1669.5 566.1,1668.7" fill="none" stroke="#575757" stroke-width="8.5" stroke-linejoin="round" stroke-linecap="round"/><polyline points="567.9,1668.7 568.8,1669.8" fill="none" stroke="#575757" stroke-width="8.5" stroke-linejoin="round" stroke-linecap="round"/><polyline points="569.7,1668.0 570.6,1669.1" fill="none" stroke="#575757" stroke-width="8.5" stroke-linejoin="round" stroke-linecap="round"/><polyline points="572.4,1669.0 573.3,1670.1" fill="none" stroke="#575757" stroke-width="8.5" stroke-linejoin="round" stroke-linecap="round"/><polyline points="575.1,1669.3 576.0,1668.6 576.9,1669.2" fill="none" stroke="#575757" stroke-width="8.5" stroke-linejoin="round" stroke-linecap="round"/><polyline points="584.1,1669.1 585.0,1668.1 585.9,1669.5" fill="none" stroke="#575757" stroke-width="8.5" stroke-linejoin="round" stroke-linecap="round"/><polyline points="589.5,1669.3 590.4,1668.6 591.3,1669.4 592.2,1668.5" fill="none" stroke="#575757" stroke-width="8.5" stroke-linejoin="round" stroke-linecap="round"/><polyline points="594.0,1669.0 594.9,1668.3 595.8,1669.0" fill="none" stroke="#575757" stroke-width="8.5" stroke-linejoin="round" stroke-linecap="round"/><polyline points="597.6,1668.4 598.5,1669.4 599.4,1668.7" fill="none" stroke="#575757" stroke-width="8.5" stroke-linejoin="round" stroke-linecap="round"/><polyline points="608.4,1668.4 609.3,1669.4" fill="none" stroke="#575757" stroke-width="8.5" stroke-linejoin="round" stroke-linecap="round"/><polyline points="612.9,1669.4 613.8,1668.7" fill="none" stroke="#575757" stroke-width="8.5" stroke-linejoin="round" stroke-linecap="round"/><polyline points="633.6,1668.2 634.5,1669.2" fill="none" stroke="#575757" stroke-width="8.5" stroke-linejoin="round" stroke-linecap="round"/><polyline points="643.5,1669.2 644.4,1668.5" fill="none" stroke="#575757" stroke-width="8.5" stroke-linejoin="round" stroke-linecap="round"/><polyline points="648.0,1669.3 648.9,1668.4" fill="none" stroke="#575757" stroke-width="8.5" stroke-linejoin="round" stroke-linecap="round"/><polyline points="650.7,1668.6 651.6,1669.3" fill="none" stroke="#575757" stroke-width="8.5" stroke-linejoin="round" stroke-linecap="round"/><polyline points="655.2,1668.3 656.1,1669.2" fill="none" stroke="#575757" stroke-width="8.5" stroke-linejoin="round" stroke-linecap="round"/><polyline points="661.5,1669.8 662.4,1669.1" fill="none" stroke="#575757" stroke-width="8.5" stroke-linejoin="round" stroke-linecap="round"/><polyline points="671.4,1668.7 672.3,1667.8 673.2,1668.7 674.1,1669.5" fill="none" stroke="#575757" stroke-width="8.5" stroke-linejoin="round" stroke-linecap="round"/><polyline points="675.9,1668.0 676.8,1669.0 677.7,1668.1" fill="none" stroke="#575757" stroke-width="8.5" stroke-linejoin="round" stroke-linecap="round"/><polyline points="678.6,1669.9 679.5,1669.1 680.4,1668.4 681.3,1669.4 682.2,1668.6" fill="none" stroke="#575757" stroke-width="8.5" stroke-linejoin="round" stroke-linecap="round"/><polyline points="685.8,1669.3 686.7,1668.4 687.6,1669.6" fill="none" stroke="#575757" stroke-width="8.5" stroke-linejoin="round" stroke-linecap="round"/><polyline points="693.0,1668.4 693.9,1669.8 694.8,1669.1" fill="none" stroke="#575757" stroke-width="8.5" stroke-linejoin="round" stroke-linecap="round"/><polyline points="711.9,1670.1 712.8,1668.6 713.7,1669.4" fill="none" stroke="#575757" stroke-width="8.5" stroke-linejoin="round" stroke-linecap="round"/><polyline points="715.5,1668.7 716.4,1669.6" fill="none" stroke="#575757" stroke-width="8.5" stroke-linejoin="round" stroke-linecap="round"/><polyline points="720.0,1669.5 720.9,1668.4 721.8,1669.7" fill="none" stroke="#575757" stroke-width="8.5" stroke-linejoin="round" stroke-linecap="round"/><polyline points="723.6,1668.9 724.5,1669.7" fill="none" stroke="#575757" stroke-width="8.5" stroke-linejoin="round" stroke-linecap="round"/><polyline points="733.5,1668.3 734.4,1669.5" fill="none" stroke="#575757" stroke-width="8.5" stroke-linejoin="round" stroke-linecap="round"/><polyline points="748.8,1668.7 749.7,1669.7" fill="none" stroke="#575757" stroke-width="8.5" stroke-linejoin="round" stroke-linecap="round"/><polyline points="760.5,1668.3 761.4,1669.8 762.3,1668.6" fill="none" stroke="#575757" stroke-width="8.5" stroke-linejoin="round" stroke-linecap="round"/><polyline points="764.1,1669.4 765.0,1668.4 765.9,1669.6" fill="none" stroke="#575757" stroke-width="8.5" stroke-linejoin="round" stroke-linecap="round"/><polyline points="769.5,1668.9 770.4,1668.3 771.3,1669.8" fill="none" stroke="#575757" stroke-width="8.5" stroke-linejoin="round" stroke-linecap="round"/><polyline points="778.5,1668.4 779.4,1669.5" fill="none" stroke="#575757" stroke-width="8.5" stroke-linejoin="round" stroke-linecap="round"/><polyline points="781.2,1670.3 782.1,1669.1" fill="none" stroke="#575757" stroke-width="8.5" stroke-linejoin="round" stroke-linecap="round"/><polyline points="783.9,1668.9 784.8,1669.6 785.7,1668.4 786.6,1669.6" fill="none" stroke="#575757" stroke-width="8.5" stroke-linejoin="round" stroke-linecap="round"/><polyline points="793.8,1670.1 794.7,1669.0" fill="none" stroke="#575757" stroke-width="8.5" stroke-linejoin="round" stroke-linecap="round"/><polyline points="805.5,1668.9 806.4,1669.6" fill="none" stroke="#575757" stroke-width="8.5" stroke-linejoin="round" stroke-linecap="round"/><polyline points="815.4,1668.9 816.3,1669.8" fill="none" stroke="#575757" stroke-width="8.5" stroke-linejoin="round" stroke-linecap="round"/><polyline points="818.1,1668.9 819.0,1669.9" fill="none" stroke="#575757" stroke-width="8.5" stroke-linejoin="round" stroke-linecap="round"/><polyline points="821.7,1670.3 822.6,1668.8" fill="none" stroke="#575757" stroke-width="8.5" stroke-linejoin="round" stroke-linecap="round"/><polyline points="829.8,1670.1 830.7,1670.8 831.6,1669.5 832.5,1668.2 833.4,1669.2" fill="none" stroke="#575757" stroke-width="8.5" stroke-linejoin="round" stroke-linecap="round"/><polyline points="841.5,1670.0 843.0,1669.5" fill="none" stroke="#575757" stroke-width="8.5" stroke-linejoin="round" stroke-linecap="round"/><polyline points="477.9,1718.5 478.8,1706.1 479.7,1700.5 480.6,1697.6 481.5,1694.6 482.4,1692.2 483.3,1689.7 484.2,1686.0 485.1,1681.6 486.0,1679.8 486.9,1676.0 488.7,1674.4 489.6,1673.8 490.5,1672.6 491.4,1671.9 493.2,1671.6 494.1,1670.9 495.9,1671.1 497.7,1669.7 498.6,1668.9 499.5,1669.7 501.3,1669.5 503.1,1669.6 504.0,1668.8 505.8,1669.3 506.7,1668.5 508.5,1668.8 510.3,1668.1 512.1,1668.2 513.9,1668.6 515.7,1668.8 517.5,1667.5 518.4,1668.6 519.3,1667.9 520.2,1668.7 522.0,1668.0 523.8,1667.8 525.6,1668.2 527.4,1668.3 528.3,1667.6 529.2,1668.4 530.1,1667.5 531.0,1668.4 532.8,1668.5 534.6,1669.6 535.5,1668.1 537.3,1667.9 538.2,1668.9 539.1,1668.0 540.0,1668.7 540.9,1667.8 542.7,1668.2 543.6,1668.8 545.4,1668.0 546.3,1668.6 547.2,1667.9 549.0,1668.8 549.9,1667.6 550.8,1668.9 552.6,1668.1 554.4,1668.9 556.2,1668.6 558.0,1669.1 559.8,1668.4 561.6,1668.5 563.4,1669.1 565.2,1669.5 566.1,1668.7 567.9,1668.7 568.8,1669.8 569.7,1668.0 570.6,1669.1 572.4,1669.0 573.3,1670.1 575.1,1669.3 576.0,1668.6 576.9,1669.2 578.7,1669.0 580.5,1668.8 582.3,1669.8 584.1,1669.1 585.0,1668.1 585.9,1669.5 587.7,1668.9 589.5,1669.3 590.4,1668.6 591.3,1669.4 592.2,1668.5 594.0,1669.0 594.9,1668.3 595.8,1669.0 597.6,1668.4 598.5,1669.4 599.4,1668.7 601.2,1669.1 603.0,1668.7 604.8,1668.7 606.6,1669.8 608.4,1668.4 609.3,1669.4 611.1,1668.8 612.9,1669.4 613.8,1668.7 615.6,1669.1 617.4,1669.1 619.2,1668.7 621.0,1669.1 622.8,1669.2 624.6,1669.3 626.4,1669.3 628.2,1668.6 630.0,1668.7 631.8,1669.9 633.6,1668.2 634.5,1669.2 636.3,1669.5 638.1,1668.9 639.9,1669.2 641.7,1668.9 643.5,1669.2 644.4,1668.5 646.2,1668.9 648.0,1669.3 648.9,1668.4 650.7,1668.6 651.6,1669.3 653.4,1669.0 655.2,1668.3 656.1,1669.2 657.9,1668.9 659.7,1669.4 661.5,1669.8 662.4,1669.1 664.2,1668.8 666.0,1669.7 667.8,1668.7 669.6,1669.1 671.4,1668.7 672.3,1667.8 673.2,1668.7 674.1,1669.5 675.9,1668.0 676.8,1669.0 677.7,1668.1 678.6,1669.9 679.5,1669.1 680.4,1668.4 681.3,1669.4 682.2,1668.6 684.0,1669.0 685.8,1669.3 686.7,1668.4 687.6,1669.6 689.4,1668.5 691.2,1669.8 693.0,1668.4 693.9,1669.8 694.8,1669.1 696.6,1669.0 698.4,1669.7 700.2,1668.1 701.1,1670.0 702.9,1668.5 704.7,1668.6 706.5,1669.2 708.3,1668.7 710.1,1669.4 711.9,1670.1 712.8,1668.6 713.7,1669.4 715.5,1668.7 716.4,1669.6 718.2,1668.6 720.0,1669.5 720.9,1668.4 721.8,1669.7 723.6,1668.9 724.5,1669.7 726.3,1669.3 728.1,1669.9 729.9,1668.6 731.7,1668.9 733.5,1668.3 734.4,1669.5 736.2,1669.1 738.0,1668.8 739.8,1669.2 741.6,1669.0 743.4,1669.1 745.2,1668.7 747.0,1668.4 748.8,1668.7 749.7,1669.7 751.5,1669.3 753.3,1669.8 755.1,1668.8 756.9,1669.1 758.7,1668.8 760.5,1668.3 761.4,1669.8 762.3,1668.6 764.1,1669.4 765.0,1668.4 765.9,1669.6 767.7,1669.0 769.5,1668.9 770.4,1668.3 771.3,1669.8 773.1,1668.8 774.9,1669.4 776.7,1668.6 778.5,1668.4 779.4,1669.5 781.2,1670.3 782.1,1669.1 783.9,1668.9 784.8,1669.6 785.7,1668.4 786.6,1669.6 788.4,1669.0 790.2,1669.7 792.0,1669.0 793.8,1670.1 794.7,1669.0 796.5,1668.7 798.3,1669.2 800.1,1668.9 801.9,1668.6 803.7,1669.6 805.5,1668.9 806.4,1669.6 808.2,1669.0 810.0,1669.6 811.8,1668.9 813.6,1669.3 815.4,1668.9 816.3,1669.8 818.1,1668.9 819.0,1669.9 820.8,1668.8 821.7,1670.3 822.6,1668.8 824.4,1669.2 826.2,1669.7 828.0,1670.1 829.8,1670.1 830.7,1670.8 831.6,1669.5 832.5,1668.2 833.4,1669.2 835.2,1669.5 837.0,1668.9 838.8,1669.4 840.6,1668.2 841.5,1670.0 843.0,1669.5" fill="none" stroke="none" marker-start="url(#mk)" marker-mid="url(#mk)" marker-end="url(#mk)"/>
<path d="M112.0 1550.4L252.8 1551.3 400.3 1551.7 424.3 1551.3 435.8 1550.8 439.8 1550.3 443.8 1549.5 448.0 1548.2 453.3 1546.3 455.8 1545.1 458.5 1543.2 461.0 1540.9 463.5 1538.2 466.0 1535.0 467.5 1532.3 469.3 1528.3 471.0 1523.3 472.8 1517.4 474.5 1508.5 477.3 1491.5 477.6 1726.5 479.6 1697.0 480.4 1692.8 481.1 1689.8 482.6 1685.2 484.1 1681.4 487.6 1674.9 488.9 1673.1 490.1 1671.9 492.4 1670.5 494.9 1669.4 501.6 1667.0 504.9 1666.2 513.1 1665.6 525.1 1665.2 550.6 1665.0 588.6 1665.3 691.9 1666.5 843.0 1667.0" fill="none" stroke="#ff0000" stroke-width="4.6" stroke-linejoin="round" stroke-linecap="butt"/>
<polyline points="112.0,1748.7 112.9,1748.1" fill="none" stroke="#999900" stroke-width="8.5" stroke-linejoin="round" stroke-linecap="round"/><polyline points="118.3,1748.2 119.2,1749.2" fill="none" stroke="#999900" stroke-width="8.5" stroke-linejoin="round" stroke-linecap="round"/><polyline points="121.0,1748.4 121.9,1747.5" fill="none" stroke="#999900" stroke-width="8.5" stroke-linejoin="round" stroke-linecap="round"/><polyline points="123.7,1747.7 124.6,1749.2" fill="none" stroke="#999900" stroke-width="8.5" stroke-linejoin="round" stroke-linecap="round"/><polyline points="128.2,1749.9 129.1,1749.2 130.0,1747.9" fill="none" stroke="#999900" stroke-width="8.5" stroke-linejoin="round" stroke-linecap="round"/><polyline points="133.6,1748.7 134.5,1749.8" fill="none" stroke="#999900" stroke-width="8.5" stroke-linejoin="round" stroke-linecap="round"/><polyline points="141.7,1749.5 142.6,1748.7 143.5,1749.4 144.4,1748.7" fill="none" stroke="#999900" stroke-width="8.5" stroke-linejoin="round" stroke-linecap="round"/><polyline points="149.8,1748.4 150.7,1749.0 151.6,1748.3" fill="none" stroke="#999900" stroke-width="8.5" stroke-linejoin="round" stroke-linecap="round"/><polyline points="155.2,1749.0 156.1,1748.0 157.0,1749.0" fill="none" stroke="#999900" stroke-width="8.5" stroke-linejoin="round" stroke-linecap="round"/><polyline points="158.8,1748.4 159.7,1747.4" fill="none" stroke="#999900" stroke-width="8.5" stroke-linejoin="round" stroke-linecap="round"/><polyline points="162.4,1748.8 163.3,1747.7" fill="none" stroke="#999900" stroke-width="8.5" stroke-linejoin="round" stroke-linecap="round"/><polyline points="175.9,1748.2 176.8,1749.5 177.7,1748.0 178.6,1748.8" fill="none" stroke="#999900" stroke-width="8.5" stroke-linejoin="round" stroke-linecap="round"/><polyline points="184.9,1747.5 185.8,1748.3" fill="none" stroke="#999900" stroke-width="8.5" stroke-linejoin="round" stroke-linecap="round"/><polyline points="187.6,1748.4 188.5,1749.3 189.4,1748.3 190.3,1749.2" fill="none" stroke="#999900" stroke-width="8.5" stroke-linejoin="round" stroke-linecap="round"/><polyline points="197.5,1749.0 198.4,1747.8 199.3,1747.1 200.2,1748.4" fill="none" stroke="#999900" stroke-width="8.5" stroke-linejoin="round" stroke-linecap="round"/><polyline points="203.8,1748.8 204.7,1749.5 205.6,1748.5" fill="none" stroke="#999900" stroke-width="8.5" stroke-linejoin="round" stroke-linecap="round"/><polyline points="207.4,1748.1 208.3,1749.5 209.2,1748.5" fill="none" stroke="#999900" stroke-width="8.5" stroke-linejoin="round" stroke-linecap="round"/><polyline points="212.8,1748.0 213.7,1748.9" fill="none" stroke="#999900" stroke-width="8.5" stroke-linejoin="round" stroke-linecap="round"/><polyline points="228.1,1748.1 229.0,1747.1" fill="none" stroke="#999900" stroke-width="8.5" stroke-linejoin="round" stroke-linecap="round"/><polyline points="229.9,1748.7 230.8,1747.8" fill="none" stroke="#999900" stroke-width="8.5" stroke-linejoin="round" stroke-linecap="round"/><polyline points="232.6,1747.7 233.5,1748.6 234.4,1747.6 235.3,1748.3" fill="none" stroke="#999900" stroke-width="8.5" stroke-linejoin="round" stroke-linecap="round"/><polyline points="238.9,1748.2 239.8,1747.3 240.7,1748.5" fill="none" stroke="#999900" stroke-width="8.5" stroke-linejoin="round" stroke-linecap="round"/><polyline points="247.9,1747.1 248.8,1748.0" fill="none" stroke="#999900" stroke-width="8.5" stroke-linejoin="round" stroke-linecap="round"/><polyline points="254.2,1747.8 255.1,1746.6 256.0,1747.7" fill="none" stroke="#999900" stroke-width="8.5" stroke-linejoin="round" stroke-linecap="round"/><polyline points="257.8,1746.6 258.7,1747.5 259.6,1746.4 260.5,1747.5" fill="none" stroke="#999900" stroke-width="8.5" stroke-linejoin="round" stroke-linecap="round"/><polyline points="262.3,1746.8 263.2,1747.4" fill="none" stroke="#999900" stroke-width="8.5" stroke-linejoin="round" stroke-linecap="round"/><polyline points="265.0,1747.2 265.9,1746.1 266.8,1747.1" fill="none" stroke="#999900" stroke-width="8.5" stroke-linejoin="round" stroke-linecap="round"/><polyline points="279.4,1745.5 280.3,1744.6" fill="none" stroke="#999900" stroke-width="8.5" stroke-linejoin="round" stroke-linecap="round"/><polyline points="282.1,1744.4 283.0,1743.3" fill="none" stroke="#999900" stroke-width="8.5" stroke-linejoin="round" stroke-linecap="round"/><polyline points="285.7,1741.7 286.6,1740.2" fill="none" stroke="#999900" stroke-width="8.5" stroke-linejoin="round" stroke-linecap="round"/><polyline points="316.3,1742.7 317.2,1744.2 318.1,1745.4" fill="none" stroke="#999900" stroke-width="8.5" stroke-linejoin="round" stroke-linecap="round"/><polyline points="325.3,1746.0 326.2,1746.7" fill="none" stroke="#999900" stroke-width="8.5" stroke-linejoin="round" stroke-linecap="round"/><polyline points="328.0,1748.0 328.9,1747.2" fill="none" stroke="#999900" stroke-width="8.5" stroke-linejoin="round" stroke-linecap="round"/><polyline points="334.3,1749.1 335.2,1748.1" fill="none" stroke="#999900" stroke-width="8.5" stroke-linejoin="round" stroke-linecap="round"/><polyline points="337.0,1747.6 337.9,1748.7" fill="none" stroke="#999900" stroke-width="8.5" stroke-linejoin="round" stroke-linecap="round"/><polyline points="339.7,1749.5 340.6,1748.5" fill="none" stroke="#999900" stroke-width="8.5" stroke-linejoin="round" stroke-linecap="round"/><polyline points="344.2,1748.3 345.1,1749.7 346.0,1749.0" fill="none" stroke="#999900" stroke-width="8.5" stroke-linejoin="round" stroke-linecap="round"/><polyline points="349.6,1749.1 350.5,1748.2 351.4,1749.7" fill="none" stroke="#999900" stroke-width="8.5" stroke-linejoin="round" stroke-linecap="round"/><polyline points="355.0,1750.8 355.9,1750.0" fill="none" stroke="#999900" stroke-width="8.5" stroke-linejoin="round" stroke-linecap="round"/><polyline points="357.7,1750.7 358.6,1749.6" fill="none" stroke="#999900" stroke-width="8.5" stroke-linejoin="round" stroke-linecap="round"/><polyline points="371.2,1750.3 372.1,1751.0" fill="none" stroke="#999900" stroke-width="8.5" stroke-linejoin="round" stroke-linecap="round"/><polyline points="379.3,1750.8 380.2,1752.0" fill="none" stroke="#999900" stroke-width="8.5" stroke-linejoin="round" stroke-linecap="round"/><polyline points="385.6,1751.6 386.5,1753.0 387.4,1752.2" fill="none" stroke="#999900" stroke-width="8.5" stroke-linejoin="round" stroke-linecap="round"/><polyline points="391.0,1753.1 391.9,1752.2" fill="none" stroke="#999900" stroke-width="8.5" stroke-linejoin="round" stroke-linecap="round"/><polyline points="399.1,1753.9 400.0,1752.9" fill="none" stroke="#999900" stroke-width="8.5" stroke-linejoin="round" stroke-linecap="round"/><polyline points="401.8,1753.6 402.7,1752.7" fill="none" stroke="#999900" stroke-width="8.5" stroke-linejoin="round" stroke-linecap="round"/><polyline points="411.7,1753.6 412.6,1754.4" fill="none" stroke="#999900" stroke-width="8.5" stroke-linejoin="round" stroke-linecap="round"/><polyline points="416.2,1754.7 417.1,1753.9 418.0,1754.7" fill="none" stroke="#999900" stroke-width="8.5" stroke-linejoin="round" stroke-linecap="round"/><polyline points="421.6,1754.8 422.5,1756.3 423.4,1755.3" fill="none" stroke="#999900" stroke-width="8.5" stroke-linejoin="round" stroke-linecap="round"/><polyline points="427.0,1756.6 427.9,1755.7" fill="none" stroke="#999900" stroke-width="8.5" stroke-linejoin="round" stroke-linecap="round"/><polyline points="429.7,1758.3 430.6,1756.8" fill="none" stroke="#999900" stroke-width="8.5" stroke-linejoin="round" stroke-linecap="round"/><polyline points="434.2,1757.1 435.1,1758.1" fill="none" stroke="#999900" stroke-width="8.5" stroke-linejoin="round" stroke-linecap="round"/><polyline points="454.0,1772.9 454.9,1773.6" fill="none" stroke="#999900" stroke-width="8.5" stroke-linejoin="round" stroke-linecap="round"/><polyline points="459.4,1783.7 460.3,1785.0" fill="none" stroke="#999900" stroke-width="8.5" stroke-linejoin="round" stroke-linecap="round"/><polyline points="471.1,1830.2 472.0,1831.3" fill="none" stroke="#999900" stroke-width="8.5" stroke-linejoin="round" stroke-linecap="round"/><polyline points="475.6,1841.2 476.5,1842.7 477.4,1843.8 478.3,1845.1" fill="none" stroke="#999900" stroke-width="8.5" stroke-linejoin="round" stroke-linecap="round"/><polyline points="481.0,1847.5 481.9,1848.7" fill="none" stroke="#999900" stroke-width="8.5" stroke-linejoin="round" stroke-linecap="round"/><polyline points="487.3,1850.6 488.2,1851.5 489.1,1850.7" fill="none" stroke="#999900" stroke-width="8.5" stroke-linejoin="round" stroke-linecap="round"/><polyline points="490.0,1852.7 490.9,1853.4" fill="none" stroke="#999900" stroke-width="8.5" stroke-linejoin="round" stroke-linecap="round"/><polyline points="492.7,1853.6 493.6,1854.7" fill="none" stroke="#999900" stroke-width="8.5" stroke-linejoin="round" stroke-linecap="round"/><polyline points="495.4,1855.3 496.3,1856.2" fill="none" stroke="#999900" stroke-width="8.5" stroke-linejoin="round" stroke-linecap="round"/><polyline points="501.7,1856.6 502.6,1857.3 503.5,1856.2 504.4,1857.0 505.3,1857.6" fill="none" stroke="#999900" stroke-width="8.5" stroke-linejoin="round" stroke-linecap="round"/><polyline points="516.1,1858.1 517.0,1859.4 517.9,1858.5 518.8,1859.8" fill="none" stroke="#999900" stroke-width="8.5" stroke-linejoin="round" stroke-linecap="round"/><polyline points="527.8,1859.5 528.7,1860.7 529.6,1860.0" fill="none" stroke="#999900" stroke-width="8.5" stroke-linejoin="round" stroke-linecap="round"/><polyline points="533.2,1860.2 534.1,1861.0" fill="none" stroke="#999900" stroke-width="8.5" stroke-linejoin="round" stroke-linecap="round"/><polyline points="537.7,1860.1 538.6,1860.8" fill="none" stroke="#999900" stroke-width="8.5" stroke-linejoin="round" stroke-linecap="round"/><polyline points="544.9,1860.4 545.8,1861.1" fill="none" stroke="#999900" stroke-width="8.5" stroke-linejoin="round" stroke-linecap="round"/><polyline points="547.6,1859.9 548.5,1861.0" fill="none" stroke="#999900" stroke-width="8.5" stroke-linejoin="round" stroke-linecap="round"/><polyline points="555.7,1861.1 556.6,1861.9" fill="none" stroke="#999900" stroke-width="8.5" stroke-linejoin="round" stroke-linecap="round"/><polyline points="558.4,1862.4 559.3,1861.4 560.2,1860.7 561.1,1862.0" fill="none" stroke="#999900" stroke-width="8.5" stroke-linejoin="round" stroke-linecap="round"/><polyline points="570.1,1861.3 571.0,1862.1" fill="none" stroke="#999900" stroke-width="8.5" stroke-linejoin="round" stroke-linecap="round"/><polyline points="572.8,1861.8 573.7,1860.9" fill="none" stroke="#999900" stroke-width="8.5" stroke-linejoin="round" stroke-linecap="round"/><polyline points="574.6,1863.0 575.5,1861.7" fill="none" stroke="#999900" stroke-width="8.5" stroke-linejoin="round" stroke-linecap="round"/><polyline points="577.3,1861.7 578.2,1862.5 579.1,1861.6 580.0,1862.4" fill="none" stroke="#999900" stroke-width="8.5" stroke-linejoin="round" stroke-linecap="round"/><polyline points="581.8,1862.9 582.7,1861.9" fill="none" stroke="#999900" stroke-width="8.5" stroke-linejoin="round" stroke-linecap="round"/><polyline points="584.5,1862.4 585.4,1863.6" fill="none" stroke="#999900" stroke-width="8.5" stroke-linejoin="round" stroke-linecap="round"/><polyline points="586.3,1861.9 587.2,1862.8" fill="none" stroke="#999900" stroke-width="8.5" stroke-linejoin="round" stroke-linecap="round"/><polyline points="594.4,1862.8 595.3,1862.1 596.2,1862.8" fill="none" stroke="#999900" stroke-width="8.5" stroke-linejoin="round" stroke-linecap="round"/><polyline points="602.5,1862.0 603.4,1863.3" fill="none" stroke="#999900" stroke-width="8.5" stroke-linejoin="round" stroke-linecap="round"/><polyline points="623.2,1863.3 624.1,1862.5 625.0,1863.9" fill="none" stroke="#999900" stroke-width="8.5" stroke-linejoin="round" stroke-linecap="round"/><polyline points="630.4,1864.5 631.3,1863.4 632.2,1864.0" fill="none" stroke="#999900" stroke-width="8.5" stroke-linejoin="round" stroke-linecap="round"/><polyline points="635.8,1863.2 636.7,1864.1 637.6,1863.5" fill="none" stroke="#999900" stroke-width="8.5" stroke-linejoin="round" stroke-linecap="round"/><polyline points="641.2,1863.3 642.1,1864.3" fill="none" stroke="#999900" stroke-width="8.5" stroke-linejoin="round" stroke-linecap="round"/><polyline points="651.1,1863.8 652.0,1863.1" fill="none" stroke="#999900" stroke-width="8.5" stroke-linejoin="round" stroke-linecap="round"/><polyline points="659.2,1863.1 660.1,1864.3 661.0,1863.6" fill="none" stroke="#999900" stroke-width="8.5" stroke-linejoin="round" stroke-linecap="round"/><polyline points="662.8,1862.7 663.7,1864.0" fill="none" stroke="#999900" stroke-width="8.5" stroke-linejoin="round" stroke-linecap="round"/><polyline points="673.6,1863.6 674.5,1864.4 675.4,1863.5 676.3,1864.4 677.2,1863.2" fill="none" stroke="#999900" stroke-width="8.5" stroke-linejoin="round" stroke-linecap="round"/><polyline points="679.0,1863.3 679.9,1864.7 680.8,1863.2" fill="none" stroke="#999900" stroke-width="8.5" stroke-linejoin="round" stroke-linecap="round"/><polyline points="693.4,1863.7 694.3,1864.7" fill="none" stroke="#999900" stroke-width="8.5" stroke-linejoin="round" stroke-linecap="round"/><polyline points="699.7,1864.1 700.6,1863.4 701.5,1864.5" fill="none" stroke="#999900" stroke-width="8.5" stroke-linejoin="round" stroke-linecap="round"/><polyline points="705.1,1864.4 706.0,1865.2 706.9,1864.4 707.8,1863.6" fill="none" stroke="#999900" stroke-width="8.5" stroke-linejoin="round" stroke-linecap="round"/><polyline points="713.2,1864.4 714.1,1863.6" fill="none" stroke="#999900" stroke-width="8.5" stroke-linejoin="round" stroke-linecap="round"/><polyline points="715.9,1863.5 716.8,1864.2" fill="none" stroke="#999900" stroke-width="8.5" stroke-linejoin="round" stroke-linecap="round"/><polyline points="720.4,1863.4 721.3,1864.7" fill="none" stroke="#999900" stroke-width="8.5" stroke-linejoin="round" stroke-linecap="round"/><polyline points="723.1,1863.7 724.0,1864.5" fill="none" stroke="#999900" stroke-width="8.5" stroke-linejoin="round" stroke-linecap="round"/><polyline points="752.8,1864.2 753.7,1864.9" fill="none" stroke="#999900" stroke-width="8.5" stroke-linejoin="round" stroke-linecap="round"/><polyline points="759.1,1863.5 760.0,1864.8" fill="none" stroke="#999900" stroke-width="8.5" stroke-linejoin="round" stroke-linecap="round"/><polyline points="761.8,1863.5 762.7,1865.0" fill="none" stroke="#999900" stroke-width="8.5" stroke-linejoin="round" stroke-linecap="round"/><polyline points="784.3,1864.1 785.2,1865.0" fill="none" stroke="#999900" stroke-width="8.5" stroke-linejoin="round" stroke-linecap="round"/><polyline points="792.4,1864.3 793.3,1865.4" fill="none" stroke="#999900" stroke-width="8.5" stroke-linejoin="round" stroke-linecap="round"/><polyline points="797.8,1863.9 798.7,1864.9 799.6,1865.8 800.5,1864.2 801.4,1864.9" fill="none" stroke="#999900" stroke-width="8.5" stroke-linejoin="round" stroke-linecap="round"/><polyline points="803.2,1865.0 804.1,1863.9" fill="none" stroke="#999900" stroke-width="8.5" stroke-linejoin="round" stroke-linecap="round"/><polyline points="811.3,1865.4 812.2,1864.6" fill="none" stroke="#999900" stroke-width="8.5" stroke-linejoin="round" stroke-linecap="round"/><polyline points="817.6,1865.6 818.5,1864.9 819.4,1866.1 820.3,1865.0" fill="none" stroke="#999900" stroke-width="8.5" stroke-linejoin="round" stroke-linecap="round"/><polyline points="823.0,1864.1 823.9,1865.3 824.8,1864.3" fill="none" stroke="#999900" stroke-width="8.5" stroke-linejoin="round" stroke-linecap="round"/><polyline points="833.8,1865.6 834.7,1864.6 835.6,1865.6" fill="none" stroke="#999900" stroke-width="8.5" stroke-linejoin="round" stroke-linecap="round"/><polyline points="837.4,1865.1 838.3,1865.8" fill="none" stroke="#999900" stroke-width="8.5" stroke-linejoin="round" stroke-linecap="round"/><polyline points="840.1,1864.3 841.0,1865.5" fill="none" stroke="#999900" stroke-width="8.5" stroke-linejoin="round" stroke-linecap="round"/><polyline points="112.0,1748.7 112.9,1748.1 114.7,1749.1 116.5,1748.8 118.3,1748.2 119.2,1749.2 121.0,1748.4 121.9,1747.5 123.7,1747.7 124.6,1749.2 126.4,1748.2 128.2,1749.9 129.1,1749.2 130.0,1747.9 131.8,1748.0 133.6,1748.7 134.5,1749.8 136.3,1748.6 138.1,1748.7 139.9,1747.9 141.7,1749.5 142.6,1748.7 143.5,1749.4 144.4,1748.7 146.2,1748.3 148.0,1749.4 149.8,1748.4 150.7,1749.0 151.6,1748.3 153.4,1748.9 155.2,1749.0 156.1,1748.0 157.0,1749.0 158.8,1748.4 159.7,1747.4 160.6,1749.1 162.4,1748.8 163.3,1747.7 165.1,1749.1 166.9,1748.8 168.7,1748.8 170.5,1748.4 172.3,1748.7 174.1,1749.1 175.9,1748.2 176.8,1749.5 177.7,1748.0 178.6,1748.8 180.4,1749.2 181.3,1747.5 182.2,1749.1 184.0,1749.3 184.9,1747.5 185.8,1748.3 187.6,1748.4 188.5,1749.3 189.4,1748.3 190.3,1749.2 192.1,1747.9 193.9,1748.4 195.7,1749.1 197.5,1749.0 198.4,1747.8 199.3,1747.1 200.2,1748.4 202.0,1748.4 203.8,1748.8 204.7,1749.5 205.6,1748.5 207.4,1748.1 208.3,1749.5 209.2,1748.5 211.0,1749.1 212.8,1748.0 213.7,1748.9 215.5,1748.7 217.3,1748.1 219.1,1748.1 220.9,1748.0 222.7,1747.8 224.5,1748.1 226.3,1748.3 228.1,1748.1 229.0,1747.1 229.9,1748.7 230.8,1747.8 232.6,1747.7 233.5,1748.6 234.4,1747.6 235.3,1748.3 237.1,1748.8 238.9,1748.2 239.8,1747.3 240.7,1748.5 242.5,1748.2 244.3,1747.8 246.1,1748.2 247.9,1747.1 248.8,1748.0 250.6,1747.9 252.4,1748.0 254.2,1747.8 255.1,1746.6 256.0,1747.7 257.8,1746.6 258.7,1747.5 259.6,1746.4 260.5,1747.5 262.3,1746.8 263.2,1747.4 265.0,1747.2 265.9,1746.1 266.8,1747.1 268.6,1747.0 270.4,1747.0 272.2,1746.6 274.0,1746.1 275.8,1745.8 277.6,1745.0 279.4,1745.5 280.3,1744.6 282.1,1744.4 283.0,1743.3 284.8,1743.3 285.7,1741.7 286.6,1740.2 288.4,1738.7 290.2,1736.0 291.1,1734.1 292.0,1731.5 292.9,1729.3 293.8,1725.1 294.7,1720.3 295.6,1715.4 296.5,1709.6 297.4,1705.2 298.3,1697.9 299.2,1692.2 300.1,1686.3 301.0,1680.8 301.9,1677.2 302.8,1672.2 303.7,1674.7 304.6,1677.4 305.5,1683.7 306.4,1690.5 307.3,1695.5 308.2,1703.6 309.1,1712.9 310.0,1721.9 310.9,1729.6 311.8,1733.8 312.7,1736.1 313.6,1738.8 314.5,1741.0 316.3,1742.7 317.2,1744.2 318.1,1745.4 319.9,1745.8 321.7,1745.9 323.5,1746.3 325.3,1746.0 326.2,1746.7 328.0,1748.0 328.9,1747.2 330.7,1748.1 332.5,1747.9 334.3,1749.1 335.2,1748.1 337.0,1747.6 337.9,1748.7 339.7,1749.5 340.6,1748.5 342.4,1749.2 344.2,1748.3 345.1,1749.7 346.0,1749.0 347.8,1749.0 349.6,1749.1 350.5,1748.2 351.4,1749.7 353.2,1749.1 355.0,1750.8 355.9,1750.0 357.7,1750.7 358.6,1749.6 360.4,1749.8 362.2,1750.6 364.0,1750.0 365.8,1750.5 367.6,1750.5 369.4,1750.3 371.2,1750.3 372.1,1751.0 373.9,1750.5 375.7,1750.8 377.5,1751.2 379.3,1750.8 380.2,1752.0 382.0,1751.4 383.8,1751.6 385.6,1751.6 386.5,1753.0 387.4,1752.2 389.2,1751.6 391.0,1753.1 391.9,1752.2 393.7,1752.8 395.5,1753.1 397.3,1752.7 399.1,1753.9 400.0,1752.9 401.8,1753.6 402.7,1752.7 404.5,1752.8 406.3,1753.1 408.1,1753.4 409.9,1753.5 411.7,1753.6 412.6,1754.4 414.4,1754.3 416.2,1754.7 417.1,1753.9 418.0,1754.7 419.8,1754.6 421.6,1754.8 422.5,1756.3 423.4,1755.3 425.2,1756.2 427.0,1756.6 427.9,1755.7 429.7,1758.3 430.6,1756.8 432.4,1757.3 434.2,1757.1 435.1,1758.1 436.9,1758.8 438.7,1758.9 440.5,1758.9 441.4,1761.1 443.2,1761.5 444.1,1763.2 445.9,1764.0 447.7,1765.5 449.5,1766.6 450.4,1768.4 452.2,1769.3 453.1,1771.0 454.0,1772.9 454.9,1773.6 455.8,1776.1 456.7,1777.9 457.6,1780.3 459.4,1783.7 460.3,1785.0 461.2,1788.4 462.1,1791.6 463.0,1794.8 463.9,1797.9 464.8,1801.3 465.7,1804.5 466.6,1808.7 467.5,1813.7 468.4,1818.6 469.3,1823.2 470.2,1827.3 471.1,1830.2 472.0,1831.3 472.9,1834.3 473.8,1836.7 474.7,1838.5 475.6,1841.2 476.5,1842.7 477.4,1843.8 478.3,1845.1 479.2,1846.7 481.0,1847.5 481.9,1848.7 483.7,1849.9 485.5,1850.5 487.3,1850.6 488.2,1851.5 489.1,1850.7 490.0,1852.7 490.9,1853.4 492.7,1853.6 493.6,1854.7 495.4,1855.3 496.3,1856.2 498.1,1856.1 499.9,1856.2 501.7,1856.6 502.6,1857.3 503.5,1856.2 504.4,1857.0 505.3,1857.6 507.1,1857.6 508.9,1858.3 510.7,1859.1 512.5,1858.3 514.3,1859.2 516.1,1858.1 517.0,1859.4 517.9,1858.5 518.8,1859.8 520.6,1859.9 522.4,1860.0 524.2,1860.1 526.0,1860.0 527.8,1859.5 528.7,1860.7 529.6,1860.0 531.4,1860.1 533.2,1860.2 534.1,1861.0 535.9,1861.2 537.7,1860.1 538.6,1860.8 540.4,1861.8 541.3,1860.0 543.1,1861.0 544.9,1860.4 545.8,1861.1 547.6,1859.9 548.5,1861.0 550.3,1861.4 552.1,1861.3 553.9,1860.9 555.7,1861.1 556.6,1861.9 558.4,1862.4 559.3,1861.4 560.2,1860.7 561.1,1862.0 562.9,1861.1 564.7,1861.8 566.5,1861.3 568.3,1861.5 570.1,1861.3 571.0,1862.1 572.8,1861.8 573.7,1860.9 574.6,1863.0 575.5,1861.7 577.3,1861.7 578.2,1862.5 579.1,1861.6 580.0,1862.4 581.8,1862.9 582.7,1861.9 584.5,1862.4 585.4,1863.6 586.3,1861.9 587.2,1862.8 589.0,1862.8 590.8,1862.8 592.6,1862.9 594.4,1862.8 595.3,1862.1 596.2,1862.8 598.0,1862.9 599.8,1863.2 601.6,1863.6 602.5,1862.0 603.4,1863.3 605.2,1863.1 607.0,1863.5 608.8,1863.7 610.6,1863.6 612.4,1864.2 614.2,1863.4 616.0,1863.4 617.8,1863.2 619.6,1863.1 621.4,1863.6 623.2,1863.3 624.1,1862.5 625.0,1863.9 626.8,1863.5 628.6,1863.6 630.4,1864.5 631.3,1863.4 632.2,1864.0 634.0,1863.3 635.8,1863.2 636.7,1864.1 637.6,1863.5 639.4,1864.3 641.2,1863.3 642.1,1864.3 643.9,1865.0 645.7,1863.5 647.5,1863.3 649.3,1863.8 651.1,1863.8 652.0,1863.1 653.8,1864.5 655.6,1863.7 657.4,1863.8 659.2,1863.1 660.1,1864.3 661.0,1863.6 662.8,1862.7 663.7,1864.0 665.5,1862.8 666.4,1864.6 668.2,1863.6 670.0,1864.5 671.8,1864.2 673.6,1863.6 674.5,1864.4 675.4,1863.5 676.3,1864.4 677.2,1863.2 679.0,1863.3 679.9,1864.7 680.8,1863.2 682.6,1864.4 684.4,1865.1 686.2,1864.4 688.0,1863.2 689.8,1864.0 691.6,1863.5 693.4,1863.7 694.3,1864.7 696.1,1864.0 697.9,1864.3 699.7,1864.1 700.6,1863.4 701.5,1864.5 703.3,1864.4 705.1,1864.4 706.0,1865.2 706.9,1864.4 707.8,1863.6 709.6,1864.6 711.4,1864.7 713.2,1864.4 714.1,1863.6 715.9,1863.5 716.8,1864.2 718.6,1864.4 720.4,1863.4 721.3,1864.7 723.1,1863.7 724.0,1864.5 725.8,1864.3 727.6,1864.5 729.4,1864.5 731.2,1864.7 733.0,1864.6 734.8,1864.1 736.6,1864.2 738.4,1864.6 740.2,1864.5 742.0,1865.3 743.8,1864.3 745.6,1864.4 747.4,1864.5 749.2,1864.0 751.0,1864.7 752.8,1864.2 753.7,1864.9 755.5,1864.8 757.3,1864.6 759.1,1863.5 760.0,1864.8 761.8,1863.5 762.7,1865.0 764.5,1864.8 766.3,1864.5 768.1,1864.5 769.9,1865.8 771.7,1864.6 773.5,1865.0 775.3,1864.5 777.1,1865.8 778.9,1864.1 780.7,1864.5 782.5,1865.1 784.3,1864.1 785.2,1865.0 787.0,1864.9 788.8,1865.2 790.6,1864.4 792.4,1864.3 793.3,1865.4 795.1,1864.5 796.9,1865.6 797.8,1863.9 798.7,1864.9 799.6,1865.8 800.5,1864.2 801.4,1864.9 803.2,1865.0 804.1,1863.9 805.9,1864.8 807.7,1865.2 809.5,1865.6 811.3,1865.4 812.2,1864.6 814.0,1866.7 815.8,1865.5 817.6,1865.6 818.5,1864.9 819.4,1866.1 820.3,1865.0 822.1,1866.2 823.0,1864.1 823.9,1865.3 824.8,1864.3 826.6,1865.1 828.4,1865.3 830.2,1865.2 832.0,1865.0 833.8,1865.6 834.7,1864.6 835.6,1865.6 837.4,1865.1 838.3,1865.8 840.1,1864.3 841.0,1865.5 841.9,1863.8 842.8,1865.4" fill="none" stroke="none" marker-start="url(#mo)" marker-mid="url(#mo)" marker-end="url(#mo)"/>
<path d="M112.0 1748.1L200.0 1748.1 233.2 1747.6 253.0 1746.9 268.0 1746.2 275.8 1745.2 282.5 1743.5 284.0 1742.7 285.5 1741.6 288.8 1738.0 290.8 1734.4 292.8 1729.1 293.8 1725.1 295.0 1718.5 297.5 1703.4 299.8 1688.2 301.8 1676.6 302.5 1673.4 303.0 1672.5 303.2 1672.6 303.8 1673.6 304.2 1675.7 306.5 1689.6 309.0 1710.8 311.0 1730.0 312.2 1734.8 313.5 1738.0 315.0 1740.5 317.5 1743.4 319.2 1744.8 320.8 1745.5 326.5 1746.6 333.0 1747.5 360.2 1749.6 393.8 1751.7 408.5 1753.0 418.5 1754.2 427.5 1755.7 435.5 1757.5 438.8 1758.7 442.2 1760.6 447.5 1764.5 450.0 1766.8 451.5 1768.5 453.2 1770.9 455.2 1774.2 459.0 1781.9 461.8 1789.8 465.5 1803.5 469.2 1822.2 470.5 1827.4 473.5 1835.5 476.5 1841.8 478.8 1845.1 480.0 1846.4 481.5 1847.5 490.2 1852.1 495.2 1854.3 500.8 1855.8 508.0 1857.4 514.5 1858.4 521.0 1859.2 532.5 1859.8 595.2 1862.4 613.5 1862.8 649.8 1863.3 843.0 1864.8" fill="none" stroke="#cc0000" stroke-width="4.6" stroke-linejoin="round" stroke-linecap="butt"/>
<polyline points="115.6,1946.9 116.5,1945.7 117.4,1946.9" fill="none" stroke="#999900" stroke-width="8.5" stroke-linejoin="round" stroke-linecap="round"/><polyline points="121.0,1946.5 121.9,1945.7" fill="none" stroke="#999900" stroke-width="8.5" stroke-linejoin="round" stroke-linecap="round"/><polyline points="136.3,1944.5 137.2,1945.1" fill="none" stroke="#999900" stroke-width="8.5" stroke-linejoin="round" stroke-linecap="round"/><polyline points="139.0,1944.1 139.9,1943.2 140.8,1944.5 141.7,1943.9" fill="none" stroke="#999900" stroke-width="8.5" stroke-linejoin="round" stroke-linecap="round"/><polyline points="143.5,1943.9 144.4,1943.0 145.3,1941.8 146.2,1941.0" fill="none" stroke="#999900" stroke-width="8.5" stroke-linejoin="round" stroke-linecap="round"/><polyline points="149.8,1938.2 150.7,1937.4" fill="none" stroke="#999900" stroke-width="8.5" stroke-linejoin="round" stroke-linecap="round"/><polyline points="160.6,1894.6 161.5,1893.6 162.4,1894.3" fill="none" stroke="#999900" stroke-width="8.5" stroke-linejoin="round" stroke-linecap="round"/><polyline points="171.4,1934.7 172.3,1936.3" fill="none" stroke="#999900" stroke-width="8.5" stroke-linejoin="round" stroke-linecap="round"/><polyline points="173.2,1938.9 174.1,1940.0" fill="none" stroke="#999900" stroke-width="8.5" stroke-linejoin="round" stroke-linecap="round"/><polyline points="177.7,1942.2 178.6,1941.5" fill="none" stroke="#999900" stroke-width="8.5" stroke-linejoin="round" stroke-linecap="round"/><polyline points="180.4,1942.5 181.3,1943.8 182.2,1942.7" fill="none" stroke="#999900" stroke-width="8.5" stroke-linejoin="round" stroke-linecap="round"/><polyline points="185.8,1943.8 186.7,1942.7" fill="none" stroke="#999900" stroke-width="8.5" stroke-linejoin="round" stroke-linecap="round"/><polyline points="190.3,1943.7 191.2,1944.6" fill="none" stroke="#999900" stroke-width="8.5" stroke-linejoin="round" stroke-linecap="round"/><polyline points="193.0,1943.1 193.9,1944.1 194.8,1944.8 195.7,1943.9" fill="none" stroke="#999900" stroke-width="8.5" stroke-linejoin="round" stroke-linecap="round"/><polyline points="201.1,1943.8 202.0,1944.8 202.9,1943.7 203.8,1945.1 204.7,1943.8 205.6,1944.7 206.5,1943.9" fill="none" stroke="#999900" stroke-width="8.5" stroke-linejoin="round" stroke-linecap="round"/><polyline points="210.1,1945.4 211.0,1944.7" fill="none" stroke="#999900" stroke-width="8.5" stroke-linejoin="round" stroke-linecap="round"/><polyline points="214.6,1944.7 215.5,1945.5" fill="none" stroke="#999900" stroke-width="8.5" stroke-linejoin="round" stroke-linecap="round"/><polyline points="219.1,1945.3 220.0,1944.6" fill="none" stroke="#999900" stroke-width="8.5" stroke-linejoin="round" stroke-linecap="round"/><polyline points="227.2,1945.1 228.1,1945.8" fill="none" stroke="#999900" stroke-width="8.5" stroke-linejoin="round" stroke-linecap="round"/><polyline points="229.9,1943.9 230.8,1945.1 231.7,1946.0" fill="none" stroke="#999900" stroke-width="8.5" stroke-linejoin="round" stroke-linecap="round"/><polyline points="233.5,1945.6 234.4,1944.8" fill="none" stroke="#999900" stroke-width="8.5" stroke-linejoin="round" stroke-linecap="round"/><polyline points="236.2,1945.4 237.1,1944.4 238.0,1945.4" fill="none" stroke="#999900" stroke-width="8.5" stroke-linejoin="round" stroke-linecap="round"/><polyline points="239.8,1945.0 240.7,1945.7 241.6,1947.1" fill="none" stroke="#999900" stroke-width="8.5" stroke-linejoin="round" stroke-linecap="round"/><polyline points="246.1,1945.6 247.0,1946.2 247.9,1945.6" fill="none" stroke="#999900" stroke-width="8.5" stroke-linejoin="round" stroke-linecap="round"/><polyline points="249.7,1945.4 250.6,1946.8" fill="none" stroke="#999900" stroke-width="8.5" stroke-linejoin="round" stroke-linecap="round"/><polyline points="251.5,1944.7 252.4,1945.8" fill="none" stroke="#999900" stroke-width="8.5" stroke-linejoin="round" stroke-linecap="round"/><polyline points="254.2,1945.7 255.1,1945.0" fill="none" stroke="#999900" stroke-width="8.5" stroke-linejoin="round" stroke-linecap="round"/><polyline points="265.0,1946.9 265.9,1945.9" fill="none" stroke="#999900" stroke-width="8.5" stroke-linejoin="round" stroke-linecap="round"/><polyline points="267.7,1946.2 268.6,1946.9" fill="none" stroke="#999900" stroke-width="8.5" stroke-linejoin="round" stroke-linecap="round"/><polyline points="270.4,1945.1 271.3,1945.7" fill="none" stroke="#999900" stroke-width="8.5" stroke-linejoin="round" stroke-linecap="round"/><polyline points="283.9,1944.4 284.8,1945.8" fill="none" stroke="#999900" stroke-width="8.5" stroke-linejoin="round" stroke-linecap="round"/><polyline points="290.2,1947.5 291.1,1946.5" fill="none" stroke="#999900" stroke-width="8.5" stroke-linejoin="round" stroke-linecap="round"/><polyline points="314.5,1946.5 315.4,1945.5" fill="none" stroke="#999900" stroke-width="8.5" stroke-linejoin="round" stroke-linecap="round"/><polyline points="323.5,1946.1 324.4,1947.5 325.3,1946.8" fill="none" stroke="#999900" stroke-width="8.5" stroke-linejoin="round" stroke-linecap="round"/><polyline points="327.1,1946.3 328.0,1947.0" fill="none" stroke="#999900" stroke-width="8.5" stroke-linejoin="round" stroke-linecap="round"/><polyline points="329.8,1946.9 330.7,1946.1" fill="none" stroke="#999900" stroke-width="8.5" stroke-linejoin="round" stroke-linecap="round"/><polyline points="332.5,1947.1 333.4,1946.2" fill="none" stroke="#999900" stroke-width="8.5" stroke-linejoin="round" stroke-linecap="round"/><polyline points="337.0,1947.3 337.9,1946.4" fill="none" stroke="#999900" stroke-width="8.5" stroke-linejoin="round" stroke-linecap="round"/><polyline points="339.7,1946.6 340.6,1947.8 341.5,1946.6" fill="none" stroke="#999900" stroke-width="8.5" stroke-linejoin="round" stroke-linecap="round"/><polyline points="346.9,1947.4 347.8,1946.3" fill="none" stroke="#999900" stroke-width="8.5" stroke-linejoin="round" stroke-linecap="round"/><polyline points="349.6,1945.8 350.5,1947.2" fill="none" stroke="#999900" stroke-width="8.5" stroke-linejoin="round" stroke-linecap="round"/><polyline points="357.7,1947.0 358.6,1947.8" fill="none" stroke="#999900" stroke-width="8.5" stroke-linejoin="round" stroke-linecap="round"/><polyline points="376.6,1949.5 377.5,1948.0" fill="none" stroke="#999900" stroke-width="8.5" stroke-linejoin="round" stroke-linecap="round"/><polyline points="379.3,1948.8 380.2,1947.5" fill="none" stroke="#999900" stroke-width="8.5" stroke-linejoin="round" stroke-linecap="round"/><polyline points="389.2,1947.9 390.1,1949.2" fill="none" stroke="#999900" stroke-width="8.5" stroke-linejoin="round" stroke-linecap="round"/><polyline points="391.9,1948.5 392.8,1949.2" fill="none" stroke="#999900" stroke-width="8.5" stroke-linejoin="round" stroke-linecap="round"/><polyline points="401.8,1949.8 402.7,1951.2" fill="none" stroke="#999900" stroke-width="8.5" stroke-linejoin="round" stroke-linecap="round"/><polyline points="409.9,1950.2 410.8,1951.0 411.7,1950.3 412.6,1951.6" fill="none" stroke="#999900" stroke-width="8.5" stroke-linejoin="round" stroke-linecap="round"/><polyline points="414.4,1949.7 415.3,1950.8 416.2,1951.8" fill="none" stroke="#999900" stroke-width="8.5" stroke-linejoin="round" stroke-linecap="round"/><polyline points="421.6,1953.2 422.5,1952.5" fill="none" stroke="#999900" stroke-width="8.5" stroke-linejoin="round" stroke-linecap="round"/><polyline points="424.3,1951.9 425.2,1952.8" fill="none" stroke="#999900" stroke-width="8.5" stroke-linejoin="round" stroke-linecap="round"/><polyline points="428.8,1953.8 429.7,1953.0 430.6,1953.8" fill="none" stroke="#999900" stroke-width="8.5" stroke-linejoin="round" stroke-linecap="round"/><polyline points="432.4,1954.3 433.3,1955.0" fill="none" stroke="#999900" stroke-width="8.5" stroke-linejoin="round" stroke-linecap="round"/><polyline points="436.0,1955.8 436.9,1955.1" fill="none" stroke="#999900" stroke-width="8.5" stroke-linejoin="round" stroke-linecap="round"/><polyline points="442.3,1957.3 443.2,1958.1 444.1,1958.7" fill="none" stroke="#999900" stroke-width="8.5" stroke-linejoin="round" stroke-linecap="round"/><polyline points="445.9,1958.6 446.8,1960.1" fill="none" stroke="#999900" stroke-width="8.5" stroke-linejoin="round" stroke-linecap="round"/><polyline points="454.0,1963.6 454.9,1964.7 455.8,1965.3 456.7,1966.8 457.6,1967.7 458.5,1968.7 459.4,1969.9 460.3,1971.2" fill="none" stroke="#999900" stroke-width="8.5" stroke-linejoin="round" stroke-linecap="round"/><polyline points="461.2,1973.6 462.1,1974.2 463.0,1975.6" fill="none" stroke="#999900" stroke-width="8.5" stroke-linejoin="round" stroke-linecap="round"/><polyline points="479.2,2034.1 480.1,2035.3" fill="none" stroke="#999900" stroke-width="8.5" stroke-linejoin="round" stroke-linecap="round"/><polyline points="485.5,2044.3 486.4,2045.0" fill="none" stroke="#999900" stroke-width="8.5" stroke-linejoin="round" stroke-linecap="round"/><polyline points="488.2,2045.4 489.1,2046.5" fill="none" stroke="#999900" stroke-width="8.5" stroke-linejoin="round" stroke-linecap="round"/><polyline points="490.9,2047.9 491.8,2048.6" fill="none" stroke="#999900" stroke-width="8.5" stroke-linejoin="round" stroke-linecap="round"/><polyline points="493.6,2049.6 494.5,2050.4" fill="none" stroke="#999900" stroke-width="8.5" stroke-linejoin="round" stroke-linecap="round"/><polyline points="496.3,2051.4 497.2,2050.5 498.1,2051.8" fill="none" stroke="#999900" stroke-width="8.5" stroke-linejoin="round" stroke-linecap="round"/><polyline points="508.9,2054.0 509.8,2054.7" fill="none" stroke="#999900" stroke-width="8.5" stroke-linejoin="round" stroke-linecap="round"/><polyline points="517.0,2056.3 517.9,2055.6" fill="none" stroke="#999900" stroke-width="8.5" stroke-linejoin="round" stroke-linecap="round"/><polyline points="519.7,2055.4 520.6,2056.3" fill="none" stroke="#999900" stroke-width="8.5" stroke-linejoin="round" stroke-linecap="round"/><polyline points="526.9,2055.9 527.8,2057.1" fill="none" stroke="#999900" stroke-width="8.5" stroke-linejoin="round" stroke-linecap="round"/><polyline points="529.6,2056.6 530.5,2057.6" fill="none" stroke="#999900" stroke-width="8.5" stroke-linejoin="round" stroke-linecap="round"/><polyline points="535.9,2058.8 536.8,2057.5" fill="none" stroke="#999900" stroke-width="8.5" stroke-linejoin="round" stroke-linecap="round"/><polyline points="540.4,2058.6 541.3,2057.9" fill="none" stroke="#999900" stroke-width="8.5" stroke-linejoin="round" stroke-linecap="round"/><polyline points="546.7,2059.2 547.6,2058.0" fill="none" stroke="#999900" stroke-width="8.5" stroke-linejoin="round" stroke-linecap="round"/><polyline points="553.0,2058.0 553.9,2058.8" fill="none" stroke="#999900" stroke-width="8.5" stroke-linejoin="round" stroke-linecap="round"/><polyline points="557.5,2057.9 558.4,2059.1" fill="none" stroke="#999900" stroke-width="8.5" stroke-linejoin="round" stroke-linecap="round"/><polyline points="560.2,2058.3 561.1,2059.0 562.0,2059.9 562.9,2058.9" fill="none" stroke="#999900" stroke-width="8.5" stroke-linejoin="round" stroke-linecap="round"/><polyline points="570.1,2059.1 571.0,2060.0" fill="none" stroke="#999900" stroke-width="8.5" stroke-linejoin="round" stroke-linecap="round"/><polyline points="576.4,2060.3 577.3,2058.8 578.2,2060.0 579.1,2059.0 580.0,2059.8" fill="none" stroke="#999900" stroke-width="8.5" stroke-linejoin="round" stroke-linecap="round"/><polyline points="581.8,2059.6 582.7,2058.8 583.6,2059.9" fill="none" stroke="#999900" stroke-width="8.5" stroke-linejoin="round" stroke-linecap="round"/><polyline points="587.2,2060.5 588.1,2059.7" fill="none" stroke="#999900" stroke-width="8.5" stroke-linejoin="round" stroke-linecap="round"/><polyline points="589.9,2059.5 590.8,2060.3" fill="none" stroke="#999900" stroke-width="8.5" stroke-linejoin="round" stroke-linecap="round"/><polyline points="592.6,2061.4 593.5,2060.7" fill="none" stroke="#999900" stroke-width="8.5" stroke-linejoin="round" stroke-linecap="round"/><polyline points="595.3,2061.0 596.2,2059.8 597.1,2060.8 598.0,2060.1" fill="none" stroke="#999900" stroke-width="8.5" stroke-linejoin="round" stroke-linecap="round"/><polyline points="601.6,2061.1 602.5,2059.7 603.4,2060.6" fill="none" stroke="#999900" stroke-width="8.5" stroke-linejoin="round" stroke-linecap="round"/><polyline points="605.2,2060.4 606.1,2059.6 607.0,2061.0" fill="none" stroke="#999900" stroke-width="8.5" stroke-linejoin="round" stroke-linecap="round"/><polyline points="610.6,2060.2 611.5,2061.3 612.4,2060.6" fill="none" stroke="#999900" stroke-width="8.5" stroke-linejoin="round" stroke-linecap="round"/><polyline points="619.6,2060.2 620.5,2060.8" fill="none" stroke="#999900" stroke-width="8.5" stroke-linejoin="round" stroke-linecap="round"/><polyline points="625.9,2061.3 626.8,2060.6" fill="none" stroke="#999900" stroke-width="8.5" stroke-linejoin="round" stroke-linecap="round"/><polyline points="637.6,2060.3 638.5,2061.2" fill="none" stroke="#999900" stroke-width="8.5" stroke-linejoin="round" stroke-linecap="round"/><polyline points="643.9,2060.6 644.8,2061.7" fill="none" stroke="#999900" stroke-width="8.5" stroke-linejoin="round" stroke-linecap="round"/><polyline points="650.2,2060.9 651.1,2061.6" fill="none" stroke="#999900" stroke-width="8.5" stroke-linejoin="round" stroke-linecap="round"/><polyline points="660.1,2061.9 661.0,2061.2" fill="none" stroke="#999900" stroke-width="8.5" stroke-linejoin="round" stroke-linecap="round"/><polyline points="662.8,2060.8 663.7,2061.8" fill="none" stroke="#999900" stroke-width="8.5" stroke-linejoin="round" stroke-linecap="round"/><polyline points="665.5,2060.7 666.4,2061.8" fill="none" stroke="#999900" stroke-width="8.5" stroke-linejoin="round" stroke-linecap="round"/><polyline points="675.4,2061.6 676.3,2060.9 677.2,2062.2" fill="none" stroke="#999900" stroke-width="8.5" stroke-linejoin="round" stroke-linecap="round"/><polyline points="679.0,2061.2 679.9,2062.4" fill="none" stroke="#999900" stroke-width="8.5" stroke-linejoin="round" stroke-linecap="round"/><polyline points="681.7,2061.6 682.6,2062.5" fill="none" stroke="#999900" stroke-width="8.5" stroke-linejoin="round" stroke-linecap="round"/><polyline points="687.1,2061.1 688.0,2062.3" fill="none" stroke="#999900" stroke-width="8.5" stroke-linejoin="round" stroke-linecap="round"/><polyline points="693.4,2060.6 694.3,2061.7" fill="none" stroke="#999900" stroke-width="8.5" stroke-linejoin="round" stroke-linecap="round"/><polyline points="696.1,2060.8 697.0,2061.5 697.9,2060.8" fill="none" stroke="#999900" stroke-width="8.5" stroke-linejoin="round" stroke-linecap="round"/><polyline points="706.9,2062.1 707.8,2061.3" fill="none" stroke="#999900" stroke-width="8.5" stroke-linejoin="round" stroke-linecap="round"/><polyline points="718.6,2063.2 719.5,2062.4" fill="none" stroke="#999900" stroke-width="8.5" stroke-linejoin="round" stroke-linecap="round"/><polyline points="721.3,2062.3 722.2,2063.2 723.1,2062.3 724.0,2061.4" fill="none" stroke="#999900" stroke-width="8.5" stroke-linejoin="round" stroke-linecap="round"/><polyline points="731.2,2062.2 732.1,2061.0 733.0,2062.2" fill="none" stroke="#999900" stroke-width="8.5" stroke-linejoin="round" stroke-linecap="round"/><polyline points="734.8,2062.0 735.7,2060.7" fill="none" stroke="#999900" stroke-width="8.5" stroke-linejoin="round" stroke-linecap="round"/><polyline points="741.1,2061.7 742.0,2060.8 742.9,2061.7" fill="none" stroke="#999900" stroke-width="8.5" stroke-linejoin="round" stroke-linecap="round"/><polyline points="750.1,2062.9 751.0,2061.5 751.9,2062.5" fill="none" stroke="#999900" stroke-width="8.5" stroke-linejoin="round" stroke-linecap="round"/><polyline points="753.7,2062.6 754.6,2061.6" fill="none" stroke="#999900" stroke-width="8.5" stroke-linejoin="round" stroke-linecap="round"/><polyline points="769.0,2062.4 769.9,2061.6" fill="none" stroke="#999900" stroke-width="8.5" stroke-linejoin="round" stroke-linecap="round"/><polyline points="771.7,2062.5 772.6,2061.3 773.5,2062.2" fill="none" stroke="#999900" stroke-width="8.5" stroke-linejoin="round" stroke-linecap="round"/><polyline points="777.1,2061.5 778.0,2062.1 778.9,2061.4" fill="none" stroke="#999900" stroke-width="8.5" stroke-linejoin="round" stroke-linecap="round"/><polyline points="780.7,2062.7 781.6,2061.7 782.5,2061.0 783.4,2062.5 784.3,2061.6 785.2,2060.3" fill="none" stroke="#999900" stroke-width="8.5" stroke-linejoin="round" stroke-linecap="round"/><polyline points="787.9,2062.2 788.8,2062.9 789.7,2062.0" fill="none" stroke="#999900" stroke-width="8.5" stroke-linejoin="round" stroke-linecap="round"/><polyline points="795.1,2062.1 796.0,2061.1 796.9,2061.9" fill="none" stroke="#999900" stroke-width="8.5" stroke-linejoin="round" stroke-linecap="round"/><polyline points="798.7,2062.5 799.6,2061.7" fill="none" stroke="#999900" stroke-width="8.5" stroke-linejoin="round" stroke-linecap="round"/><polyline points="801.4,2061.6 802.3,2063.0 803.2,2061.5 804.1,2062.1 805.0,2063.4 805.9,2062.2" fill="none" stroke="#999900" stroke-width="8.5" stroke-linejoin="round" stroke-linecap="round"/><polyline points="809.5,2062.5 810.4,2061.1 811.3,2062.2 812.2,2061.0" fill="none" stroke="#999900" stroke-width="8.5" stroke-linejoin="round" stroke-linecap="round"/><polyline points="813.1,2063.0 814.0,2062.1" fill="none" stroke="#999900" stroke-width="8.5" stroke-linejoin="round" stroke-linecap="round"/><polyline points="817.6,2061.5 818.5,2062.9 819.4,2062.0 820.3,2061.2 821.2,2062.8" fill="none" stroke="#999900" stroke-width="8.5" stroke-linejoin="round" stroke-linecap="round"/><polyline points="824.8,2061.7 825.7,2062.6" fill="none" stroke="#999900" stroke-width="8.5" stroke-linejoin="round" stroke-linecap="round"/><polyline points="829.3,2061.7 830.2,2062.6" fill="none" stroke="#999900" stroke-width="8.5" stroke-linejoin="round" stroke-linecap="round"/><polyline points="112.0,1945.8 113.8,1946.0 115.6,1946.9 116.5,1945.7 117.4,1946.9 119.2,1945.6 121.0,1946.5 121.9,1945.7 123.7,1945.6 125.5,1945.4 127.3,1944.7 129.1,1946.2 130.9,1945.2 132.7,1945.3 134.5,1945.0 136.3,1944.5 137.2,1945.1 139.0,1944.1 139.9,1943.2 140.8,1944.5 141.7,1943.9 143.5,1943.9 144.4,1943.0 145.3,1941.8 146.2,1941.0 148.0,1940.2 149.8,1938.2 150.7,1937.4 151.6,1935.0 152.5,1932.6 153.4,1928.7 154.3,1924.7 155.2,1920.4 156.1,1915.0 157.0,1909.8 157.9,1905.8 158.8,1900.4 159.7,1897.3 160.6,1894.6 161.5,1893.6 162.4,1894.3 163.3,1896.7 164.2,1899.9 165.1,1903.3 166.0,1908.8 166.9,1914.0 167.8,1918.6 168.7,1923.3 169.6,1927.9 170.5,1931.7 171.4,1934.7 172.3,1936.3 173.2,1938.9 174.1,1940.0 175.9,1941.7 177.7,1942.2 178.6,1941.5 180.4,1942.5 181.3,1943.8 182.2,1942.7 184.0,1942.9 185.8,1943.8 186.7,1942.7 188.5,1944.2 190.3,1943.7 191.2,1944.6 193.0,1943.1 193.9,1944.1 194.8,1944.8 195.7,1943.9 197.5,1944.8 199.3,1943.8 201.1,1943.8 202.0,1944.8 202.9,1943.7 203.8,1945.1 204.7,1943.8 205.6,1944.7 206.5,1943.9 208.3,1945.2 210.1,1945.4 211.0,1944.7 212.8,1945.0 214.6,1944.7 215.5,1945.5 217.3,1945.5 219.1,1945.3 220.0,1944.6 221.8,1944.4 223.6,1945.0 225.4,1944.5 226.3,1946.8 227.2,1945.1 228.1,1945.8 229.9,1943.9 230.8,1945.1 231.7,1946.0 232.6,1944.0 233.5,1945.6 234.4,1944.8 236.2,1945.4 237.1,1944.4 238.0,1945.4 239.8,1945.0 240.7,1945.7 241.6,1947.1 242.5,1945.6 244.3,1945.4 246.1,1945.6 247.0,1946.2 247.9,1945.6 249.7,1945.4 250.6,1946.8 251.5,1944.7 252.4,1945.8 254.2,1945.7 255.1,1945.0 256.9,1945.5 258.7,1945.0 260.5,1945.9 262.3,1945.4 264.1,1945.3 265.0,1946.9 265.9,1945.9 267.7,1946.2 268.6,1946.9 270.4,1945.1 271.3,1945.7 273.1,1945.6 274.9,1945.6 276.7,1946.0 278.5,1945.2 280.3,1945.7 282.1,1946.2 283.9,1944.4 284.8,1945.8 286.6,1945.9 288.4,1945.9 290.2,1947.5 291.1,1946.5 292.9,1946.2 294.7,1946.3 296.5,1946.3 298.3,1946.7 300.1,1947.0 301.9,1945.9 303.7,1946.0 305.5,1946.6 307.3,1946.2 309.1,1946.9 310.9,1946.3 312.7,1947.2 314.5,1946.5 315.4,1945.5 316.3,1947.3 318.1,1946.7 319.9,1946.0 321.7,1946.6 323.5,1946.1 324.4,1947.5 325.3,1946.8 327.1,1946.3 328.0,1947.0 329.8,1946.9 330.7,1946.1 332.5,1947.1 333.4,1946.2 335.2,1947.0 337.0,1947.3 337.9,1946.4 339.7,1946.6 340.6,1947.8 341.5,1946.6 343.3,1947.2 345.1,1947.7 346.9,1947.4 347.8,1946.3 349.6,1945.8 350.5,1947.2 352.3,1947.7 354.1,1947.2 355.9,1947.6 357.7,1947.0 358.6,1947.8 360.4,1947.3 362.2,1947.2 364.0,1948.0 365.8,1947.5 367.6,1948.0 369.4,1948.2 371.2,1948.6 373.0,1948.3 374.8,1948.0 376.6,1949.5 377.5,1948.0 379.3,1948.8 380.2,1947.5 382.0,1948.1 383.8,1947.7 385.6,1949.1 387.4,1948.6 389.2,1947.9 390.1,1949.2 391.9,1948.5 392.8,1949.2 394.6,1949.0 396.4,1949.1 398.2,1949.9 400.0,1950.0 401.8,1949.8 402.7,1951.2 403.6,1949.3 404.5,1950.9 406.3,1950.6 408.1,1950.6 409.9,1950.2 410.8,1951.0 411.7,1950.3 412.6,1951.6 414.4,1949.7 415.3,1950.8 416.2,1951.8 418.0,1951.9 419.8,1952.5 421.6,1953.2 422.5,1952.5 424.3,1951.9 425.2,1952.8 427.0,1953.9 428.8,1953.8 429.7,1953.0 430.6,1953.8 432.4,1954.3 433.3,1955.0 435.1,1953.5 436.0,1955.8 436.9,1955.1 438.7,1956.6 440.5,1955.9 442.3,1957.3 443.2,1958.1 444.1,1958.7 445.9,1958.6 446.8,1960.1 448.6,1961.0 450.4,1961.4 452.2,1962.6 454.0,1963.6 454.9,1964.7 455.8,1965.3 456.7,1966.8 457.6,1967.7 458.5,1968.7 459.4,1969.9 460.3,1971.2 461.2,1973.6 462.1,1974.2 463.0,1975.6 463.9,1977.6 464.8,1980.1 465.7,1981.8 466.6,1984.2 467.5,1986.6 468.4,1989.6 469.3,1993.0 470.2,1997.4 471.1,2001.4 472.0,2006.8 472.9,2010.9 473.8,2016.7 474.7,2020.4 475.6,2024.0 476.5,2026.6 477.4,2030.1 478.3,2032.1 479.2,2034.1 480.1,2035.3 481.0,2037.3 481.9,2039.0 482.8,2041.2 483.7,2042.8 485.5,2044.3 486.4,2045.0 488.2,2045.4 489.1,2046.5 490.9,2047.9 491.8,2048.6 493.6,2049.6 494.5,2050.4 496.3,2051.4 497.2,2050.5 498.1,2051.8 499.9,2052.0 501.7,2053.3 503.5,2053.8 505.3,2053.8 507.1,2054.6 508.9,2054.0 509.8,2054.7 511.6,2055.0 513.4,2055.2 515.2,2055.0 517.0,2056.3 517.9,2055.6 519.7,2055.4 520.6,2056.3 522.4,2057.9 523.3,2056.0 525.1,2057.2 526.9,2055.9 527.8,2057.1 529.6,2056.6 530.5,2057.6 532.3,2056.9 534.1,2057.3 535.9,2058.8 536.8,2057.5 538.6,2058.3 540.4,2058.6 541.3,2057.9 543.1,2058.2 544.9,2058.1 546.7,2059.2 547.6,2058.0 549.4,2058.3 551.2,2058.8 553.0,2058.0 553.9,2058.8 555.7,2058.7 557.5,2057.9 558.4,2059.1 560.2,2058.3 561.1,2059.0 562.0,2059.9 562.9,2058.9 564.7,2059.1 566.5,2058.8 568.3,2060.0 570.1,2059.1 571.0,2060.0 572.8,2059.2 574.6,2059.2 576.4,2060.3 577.3,2058.8 578.2,2060.0 579.1,2059.0 580.0,2059.8 581.8,2059.6 582.7,2058.8 583.6,2059.9 585.4,2059.5 587.2,2060.5 588.1,2059.7 589.9,2059.5 590.8,2060.3 592.6,2061.4 593.5,2060.7 595.3,2061.0 596.2,2059.8 597.1,2060.8 598.0,2060.1 599.8,2060.9 601.6,2061.1 602.5,2059.7 603.4,2060.6 605.2,2060.4 606.1,2059.6 607.0,2061.0 608.8,2060.1 610.6,2060.2 611.5,2061.3 612.4,2060.6 614.2,2060.9 616.0,2060.8 617.8,2060.9 619.6,2060.2 620.5,2060.8 622.3,2060.9 624.1,2060.5 625.9,2061.3 626.8,2060.6 628.6,2061.2 630.4,2060.8 632.2,2060.6 634.0,2061.5 635.8,2061.1 637.6,2060.3 638.5,2061.2 640.3,2061.6 642.1,2061.3 643.9,2060.6 644.8,2061.7 646.6,2061.9 648.4,2061.4 650.2,2060.9 651.1,2061.6 652.9,2060.9 654.7,2061.5 656.5,2061.6 658.3,2060.9 660.1,2061.9 661.0,2061.2 662.8,2060.8 663.7,2061.8 665.5,2060.7 666.4,2061.8 668.2,2061.1 670.0,2060.9 671.8,2061.5 673.6,2061.5 675.4,2061.6 676.3,2060.9 677.2,2062.2 679.0,2061.2 679.9,2062.4 681.7,2061.6 682.6,2062.5 683.5,2060.3 685.3,2061.9 687.1,2061.1 688.0,2062.3 689.8,2060.9 691.6,2062.0 693.4,2060.6 694.3,2061.7 696.1,2060.8 697.0,2061.5 697.9,2060.8 699.7,2062.4 701.5,2062.0 703.3,2061.8 705.1,2061.1 706.9,2062.1 707.8,2061.3 709.6,2062.3 711.4,2061.4 713.2,2062.0 715.0,2061.4 716.8,2062.0 718.6,2063.2 719.5,2062.4 721.3,2062.3 722.2,2063.2 723.1,2062.3 724.0,2061.4 725.8,2061.8 727.6,2061.9 729.4,2061.8 731.2,2062.2 732.1,2061.0 733.0,2062.2 734.8,2062.0 735.7,2060.7 736.6,2062.7 737.5,2061.0 739.3,2062.2 741.1,2061.7 742.0,2060.8 742.9,2061.7 744.7,2062.2 746.5,2062.0 748.3,2061.6 750.1,2062.9 751.0,2061.5 751.9,2062.5 753.7,2062.6 754.6,2061.6 756.4,2062.1 758.2,2062.1 760.0,2061.9 761.8,2062.3 763.6,2061.3 765.4,2061.9 767.2,2062.6 769.0,2062.4 769.9,2061.6 771.7,2062.5 772.6,2061.3 773.5,2062.2 775.3,2061.8 777.1,2061.5 778.0,2062.1 778.9,2061.4 780.7,2062.7 781.6,2061.7 782.5,2061.0 783.4,2062.5 784.3,2061.6 785.2,2060.3 786.1,2062.0 787.9,2062.2 788.8,2062.9 789.7,2062.0 791.5,2061.6 793.3,2062.8 795.1,2062.1 796.0,2061.1 796.9,2061.9 798.7,2062.5 799.6,2061.7 801.4,2061.6 802.3,2063.0 803.2,2061.5 804.1,2062.1 805.0,2063.4 805.9,2062.2 807.7,2062.4 809.5,2062.5 810.4,2061.1 811.3,2062.2 812.2,2061.0 813.1,2063.0 814.0,2062.1 815.8,2062.4 817.6,2061.5 818.5,2062.9 819.4,2062.0 820.3,2061.2 821.2,2062.8 823.0,2062.7 824.8,2061.7 825.7,2062.6 827.5,2062.5 829.3,2061.7 830.2,2062.6 832.0,2061.4 833.8,2061.8 835.6,2062.3 837.4,2062.1 839.2,2062.2 841.0,2062.4 842.8,2062.3" fill="none" stroke="none" marker-start="url(#mo)" marker-mid="url(#mo)" marker-end="url(#mo)"/>
<path d="M112.0 1945.5L126.5 1945.0 133.8 1944.5 140.8 1943.6 142.8 1943.1 145.0 1942.1 147.5 1940.7 149.0 1939.3 151.0 1936.6 152.2 1933.2 154.2 1924.2 158.8 1900.0 160.5 1894.0 161.2 1892.6 161.8 1892.4 162.2 1893.0 162.8 1894.2 164.5 1900.2 166.8 1912.9 169.2 1925.5 170.5 1931.2 171.5 1934.8 172.8 1937.3 175.0 1940.2 176.5 1941.3 179.0 1942.0 183.8 1942.9 189.0 1943.4 209.0 1944.2 341.2 1946.6 365.2 1947.2 383.5 1947.9 393.2 1948.7 409.5 1950.4 425.5 1952.5 432.0 1953.7 436.5 1954.8 441.0 1956.2 445.2 1958.0 451.5 1961.4 453.5 1963.0 455.8 1965.1 458.2 1968.0 460.5 1971.1 462.5 1974.5 464.2 1978.0 466.8 1984.2 469.0 1991.1 470.2 1997.0 473.2 2013.4 476.5 2026.1 478.8 2032.7 482.0 2039.0 483.8 2041.6 485.2 2043.3 490.0 2047.0 493.0 2048.8 496.2 2050.5 499.5 2051.8 502.8 2052.7 509.5 2054.1 516.8 2055.2 524.8 2056.2 533.2 2057.0 561.8 2058.6 594.5 2059.7 632.5 2060.5 673.8 2061.0 766.2 2061.4 843.0 2061.6" fill="none" stroke="#cc0000" stroke-width="4.6" stroke-linejoin="round" stroke-linecap="butt"/>
<polyline points="986.0,1151.6 988.9,1152.2 991.7,1151.6 994.5,1152.6 997.4,1151.8 1000.2,1152.0 1003.1,1151.5 1006.0,1151.7 1008.8,1151.9 1011.6,1151.9 1014.5,1151.6 1017.4,1151.3 1020.2,1151.9 1023.0,1152.0 1025.9,1152.2 1028.8,1152.6 1031.6,1151.8 1034.5,1151.0 1037.3,1151.9 1040.2,1151.1 1043.0,1151.4 1045.8,1152.6 1048.7,1152.4 1051.5,1151.8 1054.4,1151.8 1057.2,1152.1 1060.1,1151.3 1063.0,1152.5 1065.8,1152.1 1068.7,1153.2 1071.5,1151.8 1074.3,1152.8 1077.2,1152.0 1080.0,1152.9 1082.9,1151.9 1085.8,1152.8 1088.6,1152.3 1091.5,1152.1 1094.3,1152.5 1097.2,1152.8 1100.0,1152.8 1102.8,1153.5 1105.7,1153.1" fill="none" stroke="#999900" stroke-width="7.0" stroke-linejoin="round" stroke-linecap="round"/><polyline points="1108.5,1151.4 1111.4,1152.6 1114.2,1151.8 1117.1,1152.7 1120.0,1153.2 1122.8,1152.3 1125.7,1152.4 1128.5,1153.1 1131.3,1152.9 1134.2,1153.9 1137.0,1153.3 1139.9,1153.5 1142.8,1154.1 1145.6,1153.0 1148.5,1153.3 1151.3,1152.9 1154.2,1153.5 1157.0,1154.0 1159.8,1154.2 1162.7,1153.5 1165.5,1153.2 1168.4,1153.3 1171.2,1153.0 1174.1,1153.8 1177.0,1154.5" fill="none" stroke="#999900" stroke-width="7.0" stroke-linejoin="round" stroke-linecap="round"/><polyline points="1179.8,1152.7 1182.7,1152.8" fill="none" stroke="#999900" stroke-width="7.0" stroke-linejoin="round" stroke-linecap="round"/><polyline points="1185.5,1154.7 1188.3,1153.2 1191.2,1154.3 1194.0,1153.6 1196.9,1154.7 1199.8,1154.7 1202.6,1154.5 1205.5,1154.9 1208.3,1154.6 1211.2,1155.0 1214.0,1155.7 1216.8,1155.5 1219.7,1154.7 1222.5,1154.8 1225.4,1155.2 1228.2,1155.3 1231.1,1155.6 1234.0,1155.4 1236.8,1156.2 1239.7,1156.1 1242.5,1156.5 1245.3,1156.5 1248.2,1157.1 1251.0,1156.5" fill="none" stroke="#999900" stroke-width="7.0" stroke-linejoin="round" stroke-linecap="round"/><polyline points="1253.9,1158.2 1256.8,1157.9 1259.6,1158.3 1262.5,1158.8 1265.3,1159.4 1268.2,1159.7 1271.0,1159.8 1273.8,1160.1 1276.7,1159.8 1279.5,1161.2 1282.4,1161.4 1285.2,1162.0" fill="none" stroke="#999900" stroke-width="7.0" stroke-linejoin="round" stroke-linecap="round"/><polyline points="1288.1,1164.0 1291.0,1162.6" fill="none" stroke="#999900" stroke-width="7.0" stroke-linejoin="round" stroke-linecap="round"/><polyline points="1293.8,1164.3 1296.7,1165.8 1299.5,1166.7 1302.3,1168.1 1305.2,1168.6" fill="none" stroke="#999900" stroke-width="7.0" stroke-linejoin="round" stroke-linecap="round"/><polyline points="1353.7,1253.4 1356.5,1254.3 1359.3,1255.8 1362.2,1256.2" fill="none" stroke="#999900" stroke-width="7.0" stroke-linejoin="round" stroke-linecap="round"/><polyline points="1365.0,1258.3 1367.9,1257.1" fill="none" stroke="#999900" stroke-width="7.0" stroke-linejoin="round" stroke-linecap="round"/><polyline points="1370.8,1259.2 1373.6,1258.4 1376.5,1259.4 1379.3,1259.5 1382.2,1259.7 1385.0,1260.7 1387.8,1260.9 1390.7,1260.5 1393.5,1260.4 1396.4,1262.1 1399.2,1261.9 1402.1,1261.3 1405.0,1261.2 1407.8,1261.6 1410.7,1261.6 1413.5,1262.3 1416.3,1261.3 1419.2,1261.9 1422.0,1261.6 1424.9,1262.7 1427.8,1263.0 1430.6,1262.1 1433.5,1262.5 1436.3,1263.0 1439.2,1262.2 1442.0,1261.9 1444.8,1263.0 1447.7,1262.8 1450.5,1262.5 1453.4,1263.3 1456.2,1262.8 1459.1,1261.8 1462.0,1263.0 1464.8,1262.8 1467.7,1263.8 1470.5,1262.9 1473.3,1262.9 1476.2,1263.3 1479.0,1263.2 1481.9,1262.5 1484.8,1263.3 1487.6,1263.1 1490.5,1264.0 1493.3,1264.5" fill="none" stroke="#999900" stroke-width="7.0" stroke-linejoin="round" stroke-linecap="round"/><polyline points="1496.2,1262.8 1499.0,1262.9 1501.8,1263.0 1504.7,1263.1 1507.6,1263.2 1510.4,1263.5 1513.2,1264.1 1516.1,1262.9 1519.0,1262.8 1521.8,1262.6 1524.7,1264.1 1527.5,1264.2 1530.3,1262.8 1533.2,1262.7 1536.1,1263.6 1538.9,1264.0 1541.8,1264.0 1544.6,1263.5 1547.5,1263.8 1550.3,1263.6 1553.2,1263.1 1556.0,1264.3 1558.8,1263.3 1561.7,1262.7 1564.6,1263.0 1567.4,1262.4 1570.2,1263.1 1573.1,1263.6 1576.0,1262.4 1578.8,1263.5 1581.7,1264.0 1584.5,1263.0 1587.3,1262.2 1590.2,1262.3 1593.1,1262.5 1595.9,1261.9 1598.8,1261.9 1601.6,1262.2 1604.5,1262.1 1607.3,1262.3 1610.2,1261.1 1613.0,1262.3 1615.8,1261.5 1618.7,1261.0 1621.6,1259.8 1624.4,1260.5 1627.2,1258.9 1630.1,1259.1 1633.0,1257.6" fill="none" stroke="#999900" stroke-width="7.0" stroke-linejoin="round" stroke-linecap="round"/><polyline points="1661.5,1150.0 1664.3,1149.4" fill="none" stroke="#999900" stroke-width="7.0" stroke-linejoin="round" stroke-linecap="round"/><polyline points="1695.7,1259.1 1698.5,1260.7" fill="none" stroke="#999900" stroke-width="7.0" stroke-linejoin="round" stroke-linecap="round"/><polyline points="1704.2,1265.0 1707.1,1266.1 1709.9,1267.7 1712.8,1267.8" fill="none" stroke="#999900" stroke-width="7.0" stroke-linejoin="round" stroke-linecap="round"/><polyline points="1715.6,1269.6 1717.0,1268.8" fill="none" stroke="#999900" stroke-width="7.0" stroke-linejoin="round" stroke-linecap="round"/><polyline points="986.0,1151.6 988.9,1152.2 991.7,1151.6 994.5,1152.6 997.4,1151.8 1000.2,1152.0 1003.1,1151.5 1006.0,1151.7 1008.8,1151.9 1011.6,1151.9 1014.5,1151.6 1017.4,1151.3 1020.2,1151.9 1023.0,1152.0 1025.9,1152.2 1028.8,1152.6 1031.6,1151.8 1034.5,1151.0 1037.3,1151.9 1040.2,1151.1 1043.0,1151.4 1045.8,1152.6 1048.7,1152.4 1051.5,1151.8 1054.4,1151.8 1057.2,1152.1 1060.1,1151.3 1063.0,1152.5 1065.8,1152.1 1068.7,1153.2 1071.5,1151.8 1074.3,1152.8 1077.2,1152.0 1080.0,1152.9 1082.9,1151.9 1085.8,1152.8 1088.6,1152.3 1091.5,1152.1 1094.3,1152.5 1097.2,1152.8 1100.0,1152.8 1102.8,1153.5 1105.7,1153.1 1108.5,1151.4 1111.4,1152.6 1114.2,1151.8 1117.1,1152.7 1120.0,1153.2 1122.8,1152.3 1125.7,1152.4 1128.5,1153.1 1131.3,1152.9 1134.2,1153.9 1137.0,1153.3 1139.9,1153.5 1142.8,1154.1 1145.6,1153.0 1148.5,1153.3 1151.3,1152.9 1154.2,1153.5 1157.0,1154.0 1159.8,1154.2 1162.7,1153.5 1165.5,1153.2 1168.4,1153.3 1171.2,1153.0 1174.1,1153.8 1177.0,1154.5 1179.8,1152.7 1182.7,1152.8 1185.5,1154.7 1188.3,1153.2 1191.2,1154.3 1194.0,1153.6 1196.9,1154.7 1199.8,1154.7 1202.6,1154.5 1205.5,1154.9 1208.3,1154.6 1211.2,1155.0 1214.0,1155.7 1216.8,1155.5 1219.7,1154.7 1222.5,1154.8 1225.4,1155.2 1228.2,1155.3 1231.1,1155.6 1234.0,1155.4 1236.8,1156.2 1239.7,1156.1 1242.5,1156.5 1245.3,1156.5 1248.2,1157.1 1251.0,1156.5 1253.9,1158.2 1256.8,1157.9 1259.6,1158.3 1262.5,1158.8 1265.3,1159.4 1268.2,1159.7 1271.0,1159.8 1273.8,1160.1 1276.7,1159.8 1279.5,1161.2 1282.4,1161.4 1285.2,1162.0 1288.1,1164.0 1291.0,1162.6 1293.8,1164.3 1296.7,1165.8 1299.5,1166.7 1302.3,1168.1 1305.2,1168.6 1308.0,1170.9 1310.9,1174.2 1313.8,1176.6 1316.6,1181.4 1319.5,1185.7 1322.3,1191.9 1325.2,1200.5 1328.0,1210.3 1330.8,1220.7 1333.7,1228.7 1336.5,1235.1 1339.4,1239.9 1342.2,1244.2 1345.1,1246.2 1348.0,1248.6 1350.8,1251.7 1353.7,1253.4 1356.5,1254.3 1359.3,1255.8 1362.2,1256.2 1365.0,1258.3 1367.9,1257.1 1370.8,1259.2 1373.6,1258.4 1376.5,1259.4 1379.3,1259.5 1382.2,1259.7 1385.0,1260.7 1387.8,1260.9 1390.7,1260.5 1393.5,1260.4 1396.4,1262.1 1399.2,1261.9 1402.1,1261.3 1405.0,1261.2 1407.8,1261.6 1410.7,1261.6 1413.5,1262.3 1416.3,1261.3 1419.2,1261.9 1422.0,1261.6 1424.9,1262.7 1427.8,1263.0 1430.6,1262.1 1433.5,1262.5 1436.3,1263.0 1439.2,1262.2 1442.0,1261.9 1444.8,1263.0 1447.7,1262.8 1450.5,1262.5 1453.4,1263.3 1456.2,1262.8 1459.1,1261.8 1462.0,1263.0 1464.8,1262.8 1467.7,1263.8 1470.5,1262.9 1473.3,1262.9 1476.2,1263.3 1479.0,1263.2 1481.9,1262.5 1484.8,1263.3 1487.6,1263.1 1490.5,1264.0 1493.3,1264.5 1496.2,1262.8 1499.0,1262.9 1501.8,1263.0 1504.7,1263.1 1507.6,1263.2 1510.4,1263.5 1513.2,1264.1 1516.1,1262.9 1519.0,1262.8 1521.8,1262.6 1524.7,1264.1 1527.5,1264.2 1530.3,1262.8 1533.2,1262.7 1536.1,1263.6 1538.9,1264.0 1541.8,1264.0 1544.6,1263.5 1547.5,1263.8 1550.3,1263.6 1553.2,1263.1 1556.0,1264.3 1558.8,1263.3 1561.7,1262.7 1564.6,1263.0 1567.4,1262.4 1570.2,1263.1 1573.1,1263.6 1576.0,1262.4 1578.8,1263.5 1581.7,1264.0 1584.5,1263.0 1587.3,1262.2 1590.2,1262.3 1593.1,1262.5 1595.9,1261.9 1598.8,1261.9 1601.6,1262.2 1604.5,1262.1 1607.3,1262.3 1610.2,1261.1 1613.0,1262.3 1615.8,1261.5 1618.7,1261.0 1621.6,1259.8 1624.4,1260.5 1627.2,1258.9 1630.1,1259.1 1633.0,1257.6 1635.8,1255.1 1638.7,1252.6 1641.5,1250.1 1644.3,1245.0 1647.2,1237.7 1650.1,1224.9 1652.9,1208.3 1655.8,1179.1 1658.6,1159.4 1661.5,1150.0 1664.3,1149.4 1667.2,1154.6 1670.0,1161.6 1672.8,1170.3 1675.7,1180.5 1678.6,1197.1 1681.4,1217.1 1684.2,1236.2 1687.1,1246.7 1690.0,1252.4 1692.8,1255.8 1695.7,1259.1 1698.5,1260.7 1701.3,1262.9 1704.2,1265.0 1707.1,1266.1 1709.9,1267.7 1712.8,1267.8 1715.6,1269.6 1717.0,1268.8" fill="none" stroke="none" marker-start="url(#mo)" marker-mid="url(#mo)" marker-end="url(#mo)"/>
<path d="M986.0 1150.9L1041.0 1151.1 1104.0 1151.8 1176.2 1153.0 1215.0 1154.0 1236.5 1155.0 1251.8 1156.3 1262.8 1157.7 1275.2 1159.5 1283.0 1160.9 1289.2 1162.2 1294.2 1163.6 1298.8 1165.1 1301.5 1166.2 1304.0 1167.6 1307.0 1169.7 1310.2 1172.4 1313.8 1175.9 1315.8 1178.5 1317.5 1181.2 1319.5 1184.9 1323.2 1193.3 1325.0 1198.9 1332.0 1223.7 1333.2 1227.2 1336.0 1233.2 1339.2 1239.1 1342.5 1243.6 1347.0 1247.7 1352.0 1251.3 1357.5 1254.2 1363.0 1256.1 1374.0 1258.7 1385.8 1260.7 1396.0 1261.8 1413.8 1263.1 1431.5 1263.9 1450.5 1264.5 1487.0 1265.2 1515.5 1265.5 1554.5 1265.4 1598.8 1264.9 1617.2 1264.5 1631.5 1263.7 1634.8 1263.2 1638.2 1261.8 1642.2 1259.7 1643.8 1258.5 1645.0 1257.2 1646.8 1253.9 1648.8 1248.1 1650.0 1242.1 1652.0 1229.7 1653.5 1218.3 1656.0 1196.1 1657.2 1187.3 1658.5 1180.5 1659.8 1174.8 1660.8 1171.5 1662.0 1169.2 1663.2 1167.5 1664.2 1166.6 1665.2 1166.3 1666.0 1166.6 1667.0 1167.3 1669.2 1170.5 1670.2 1173.4 1671.2 1177.8 1673.0 1187.0 1674.8 1199.6 1679.2 1239.4 1680.2 1244.7 1681.2 1248.7 1682.2 1251.6 1683.5 1254.4 1685.0 1256.8 1687.0 1258.7 1689.8 1260.5 1693.2 1262.0 1697.8 1263.3 1702.8 1264.4 1710.8 1265.7 1717.0 1266.3" fill="none" stroke="#cc0000" stroke-width="4.6" stroke-linejoin="round" stroke-linecap="butt"/>
<polyline points="986.0,1352.2 988.9,1352.0 991.7,1352.5 994.5,1351.9 997.4,1351.6 1000.2,1351.1 1003.1,1351.9 1006.0,1351.5 1008.8,1352.3 1011.6,1352.8" fill="none" stroke="#999900" stroke-width="7.0" stroke-linejoin="round" stroke-linecap="round"/><polyline points="1014.5,1351.0 1017.4,1351.4 1020.2,1352.3 1023.0,1352.7 1025.9,1352.3 1028.8,1352.3 1031.6,1352.4 1034.5,1352.4 1037.3,1353.0 1040.2,1352.5 1043.0,1351.6 1045.8,1352.0 1048.7,1352.3 1051.5,1351.8 1054.4,1352.1 1057.2,1352.0 1060.1,1351.9 1063.0,1352.7 1065.8,1352.1 1068.7,1351.8 1071.5,1352.0 1074.3,1352.4 1077.2,1353.5 1080.0,1352.6 1082.9,1353.2 1085.8,1352.7 1088.6,1351.4 1091.5,1352.7 1094.3,1352.1 1097.2,1351.9 1100.0,1352.1 1102.8,1353.6 1105.7,1351.9 1108.5,1352.4 1111.4,1353.3 1114.2,1353.1 1117.1,1352.0 1120.0,1352.8 1122.8,1352.7 1125.7,1352.9 1128.5,1353.4 1131.3,1352.7 1134.2,1352.9 1137.0,1353.9 1139.9,1352.2 1142.8,1353.0 1145.6,1353.5 1148.5,1352.7 1151.3,1353.0 1154.2,1352.7 1157.0,1353.5 1159.8,1353.2 1162.7,1354.0 1165.5,1354.1 1168.4,1353.7 1171.2,1353.5 1174.1,1353.9 1177.0,1353.9 1179.8,1353.3 1182.7,1354.5 1185.5,1354.1 1188.3,1354.5 1191.2,1353.5 1194.0,1354.6 1196.9,1355.3 1199.8,1354.6 1202.6,1353.7 1205.5,1354.5 1208.3,1354.5 1211.2,1354.7 1214.0,1354.6 1216.8,1355.0 1219.7,1354.6 1222.5,1355.0 1225.4,1354.7 1228.2,1355.3 1231.1,1355.9 1234.0,1355.4 1236.8,1356.2 1239.7,1355.7 1242.5,1356.3 1245.3,1356.7 1248.2,1357.9 1251.0,1357.3 1253.9,1358.7 1256.8,1357.9 1259.6,1359.0 1262.5,1360.1 1265.3,1360.6 1268.2,1360.3 1271.0,1360.8" fill="none" stroke="#999900" stroke-width="7.0" stroke-linejoin="round" stroke-linecap="round"/><polyline points="1273.8,1362.6 1276.7,1362.4" fill="none" stroke="#999900" stroke-width="7.0" stroke-linejoin="round" stroke-linecap="round"/><polyline points="1279.5,1364.4 1282.4,1365.2" fill="none" stroke="#999900" stroke-width="7.0" stroke-linejoin="round" stroke-linecap="round"/><polyline points="1288.1,1370.0 1291.0,1371.6" fill="none" stroke="#999900" stroke-width="7.0" stroke-linejoin="round" stroke-linecap="round"/><polyline points="1322.3,1434.3 1325.2,1435.2" fill="none" stroke="#999900" stroke-width="7.0" stroke-linejoin="round" stroke-linecap="round"/><polyline points="1330.8,1440.1 1333.7,1441.0" fill="none" stroke="#999900" stroke-width="7.0" stroke-linejoin="round" stroke-linecap="round"/><polyline points="1342.2,1447.2 1345.1,1448.2 1348.0,1448.8 1350.8,1449.3 1353.7,1448.8" fill="none" stroke="#999900" stroke-width="7.0" stroke-linejoin="round" stroke-linecap="round"/><polyline points="1356.5,1450.7 1359.3,1450.9 1362.2,1452.4 1365.0,1453.0 1367.9,1454.0 1370.8,1453.7 1373.6,1454.2 1376.5,1453.7 1379.3,1454.6 1382.2,1454.3 1385.0,1455.6 1387.8,1454.9 1390.7,1455.6 1393.5,1455.5 1396.4,1455.9 1399.2,1456.5 1402.1,1456.1 1405.0,1456.7 1407.8,1456.2 1410.7,1457.6 1413.5,1456.7 1416.3,1457.6 1419.2,1458.3" fill="none" stroke="#999900" stroke-width="7.0" stroke-linejoin="round" stroke-linecap="round"/><polyline points="1422.0,1456.1 1424.9,1457.0 1427.8,1457.5 1430.6,1458.2 1433.5,1457.5 1436.3,1458.0 1439.2,1457.5 1442.0,1458.2 1444.8,1457.3 1447.7,1458.4" fill="none" stroke="#999900" stroke-width="7.0" stroke-linejoin="round" stroke-linecap="round"/><polyline points="1450.5,1456.4 1453.4,1456.9" fill="none" stroke="#999900" stroke-width="7.0" stroke-linejoin="round" stroke-linecap="round"/><polyline points="1456.2,1458.8 1459.1,1457.8 1462.0,1457.1 1464.8,1458.5 1467.7,1457.6 1470.5,1457.4 1473.3,1456.2 1476.2,1456.4 1479.0,1455.8 1481.9,1454.2 1484.8,1454.8 1487.6,1453.3 1490.5,1451.8" fill="none" stroke="#999900" stroke-width="7.0" stroke-linejoin="round" stroke-linecap="round"/><polyline points="1513.2,1352.8 1516.1,1351.6" fill="none" stroke="#999900" stroke-width="7.0" stroke-linejoin="round" stroke-linecap="round"/><polyline points="1567.4,1455.4 1570.2,1456.3" fill="none" stroke="#999900" stroke-width="7.0" stroke-linejoin="round" stroke-linecap="round"/><polyline points="1573.1,1458.3 1576.0,1459.9" fill="none" stroke="#999900" stroke-width="7.0" stroke-linejoin="round" stroke-linecap="round"/><polyline points="1578.8,1462.6 1581.7,1462.1 1584.5,1461.8" fill="none" stroke="#999900" stroke-width="7.0" stroke-linejoin="round" stroke-linecap="round"/><polyline points="1587.3,1463.9 1590.2,1465.5 1593.1,1464.3" fill="none" stroke="#999900" stroke-width="7.0" stroke-linejoin="round" stroke-linecap="round"/><polyline points="1595.9,1467.2 1598.8,1466.0 1601.6,1467.1 1604.5,1466.8 1607.3,1467.4 1610.2,1467.3 1613.0,1467.8 1615.8,1467.5" fill="none" stroke="#999900" stroke-width="7.0" stroke-linejoin="round" stroke-linecap="round"/><polyline points="1618.7,1469.5 1621.6,1468.5 1624.4,1469.5 1627.2,1469.6 1630.1,1469.2 1633.0,1469.6 1635.8,1469.5 1638.7,1469.3 1641.5,1469.6 1644.3,1469.6 1647.2,1469.0 1650.1,1468.9 1652.9,1469.1 1655.8,1469.6 1658.6,1470.2 1661.5,1470.3 1664.3,1469.7 1667.2,1470.0 1670.0,1469.6 1672.8,1470.1 1675.7,1469.6 1678.6,1469.7 1681.4,1469.4 1684.2,1469.5 1687.1,1470.5 1690.0,1468.9 1692.8,1469.5 1695.7,1469.2 1698.5,1470.0 1701.3,1470.4 1704.2,1469.3 1707.1,1468.0" fill="none" stroke="#999900" stroke-width="7.0" stroke-linejoin="round" stroke-linecap="round"/><polyline points="1709.9,1469.8 1712.8,1469.8 1715.6,1468.6 1717.0,1469.3" fill="none" stroke="#999900" stroke-width="7.0" stroke-linejoin="round" stroke-linecap="round"/><polyline points="986.0,1352.2 988.9,1352.0 991.7,1352.5 994.5,1351.9 997.4,1351.6 1000.2,1351.1 1003.1,1351.9 1006.0,1351.5 1008.8,1352.3 1011.6,1352.8 1014.5,1351.0 1017.4,1351.4 1020.2,1352.3 1023.0,1352.7 1025.9,1352.3 1028.8,1352.3 1031.6,1352.4 1034.5,1352.4 1037.3,1353.0 1040.2,1352.5 1043.0,1351.6 1045.8,1352.0 1048.7,1352.3 1051.5,1351.8 1054.4,1352.1 1057.2,1352.0 1060.1,1351.9 1063.0,1352.7 1065.8,1352.1 1068.7,1351.8 1071.5,1352.0 1074.3,1352.4 1077.2,1353.5 1080.0,1352.6 1082.9,1353.2 1085.8,1352.7 1088.6,1351.4 1091.5,1352.7 1094.3,1352.1 1097.2,1351.9 1100.0,1352.1 1102.8,1353.6 1105.7,1351.9 1108.5,1352.4 1111.4,1353.3 1114.2,1353.1 1117.1,1352.0 1120.0,1352.8 1122.8,1352.7 1125.7,1352.9 1128.5,1353.4 1131.3,1352.7 1134.2,1352.9 1137.0,1353.9 1139.9,1352.2 1142.8,1353.0 1145.6,1353.5 1148.5,1352.7 1151.3,1353.0 1154.2,1352.7 1157.0,1353.5 1159.8,1353.2 1162.7,1354.0 1165.5,1354.1 1168.4,1353.7 1171.2,1353.5 1174.1,1353.9 1177.0,1353.9 1179.8,1353.3 1182.7,1354.5 1185.5,1354.1 1188.3,1354.5 1191.2,1353.5 1194.0,1354.6 1196.9,1355.3 1199.8,1354.6 1202.6,1353.7 1205.5,1354.5 1208.3,1354.5 1211.2,1354.7 1214.0,1354.6 1216.8,1355.0 1219.7,1354.6 1222.5,1355.0 1225.4,1354.7 1228.2,1355.3 1231.1,1355.9 1234.0,1355.4 1236.8,1356.2 1239.7,1355.7 1242.5,1356.3 1245.3,1356.7 1248.2,1357.9 1251.0,1357.3 1253.9,1358.7 1256.8,1357.9 1259.6,1359.0 1262.5,1360.1 1265.3,1360.6 1268.2,1360.3 1271.0,1360.8 1273.8,1362.6 1276.7,1362.4 1279.5,1364.4 1282.4,1365.2 1285.2,1367.0 1288.1,1370.0 1291.0,1371.6 1293.8,1373.9 1296.7,1376.3 1299.5,1381.3 1302.3,1386.7 1305.2,1393.7 1308.0,1402.1 1310.9,1409.1 1313.8,1419.3 1316.6,1425.9 1319.5,1430.0 1322.3,1434.3 1325.2,1435.2 1328.0,1438.0 1330.8,1440.1 1333.7,1441.0 1336.5,1443.2 1339.4,1445.0 1342.2,1447.2 1345.1,1448.2 1348.0,1448.8 1350.8,1449.3 1353.7,1448.8 1356.5,1450.7 1359.3,1450.9 1362.2,1452.4 1365.0,1453.0 1367.9,1454.0 1370.8,1453.7 1373.6,1454.2 1376.5,1453.7 1379.3,1454.6 1382.2,1454.3 1385.0,1455.6 1387.8,1454.9 1390.7,1455.6 1393.5,1455.5 1396.4,1455.9 1399.2,1456.5 1402.1,1456.1 1405.0,1456.7 1407.8,1456.2 1410.7,1457.6 1413.5,1456.7 1416.3,1457.6 1419.2,1458.3 1422.0,1456.1 1424.9,1457.0 1427.8,1457.5 1430.6,1458.2 1433.5,1457.5 1436.3,1458.0 1439.2,1457.5 1442.0,1458.2 1444.8,1457.3 1447.7,1458.4 1450.5,1456.4 1453.4,1456.9 1456.2,1458.8 1459.1,1457.8 1462.0,1457.1 1464.8,1458.5 1467.7,1457.6 1470.5,1457.4 1473.3,1456.2 1476.2,1456.4 1479.0,1455.8 1481.9,1454.2 1484.8,1454.8 1487.6,1453.3 1490.5,1451.8 1493.3,1449.4 1496.2,1445.1 1499.0,1438.4 1501.8,1424.5 1504.7,1402.2 1507.6,1373.0 1510.4,1357.4 1513.2,1352.8 1516.1,1351.6 1519.0,1355.8 1521.8,1359.5 1524.7,1361.9 1527.5,1364.5 1530.3,1369.3 1533.2,1372.4 1536.1,1376.5 1538.9,1381.3 1541.8,1386.3 1544.6,1393.6 1547.5,1401.0 1550.3,1418.2 1553.2,1431.9 1556.0,1442.2 1558.8,1447.3 1561.7,1450.8 1564.6,1453.4 1567.4,1455.4 1570.2,1456.3 1573.1,1458.3 1576.0,1459.9 1578.8,1462.6 1581.7,1462.1 1584.5,1461.8 1587.3,1463.9 1590.2,1465.5 1593.1,1464.3 1595.9,1467.2 1598.8,1466.0 1601.6,1467.1 1604.5,1466.8 1607.3,1467.4 1610.2,1467.3 1613.0,1467.8 1615.8,1467.5 1618.7,1469.5 1621.6,1468.5 1624.4,1469.5 1627.2,1469.6 1630.1,1469.2 1633.0,1469.6 1635.8,1469.5 1638.7,1469.3 1641.5,1469.6 1644.3,1469.6 1647.2,1469.0 1650.1,1468.9 1652.9,1469.1 1655.8,1469.6 1658.6,1470.2 1661.5,1470.3 1664.3,1469.7 1667.2,1470.0 1670.0,1469.6 1672.8,1470.1 1675.7,1469.6 1678.6,1469.7 1681.4,1469.4 1684.2,1469.5 1687.1,1470.5 1690.0,1468.9 1692.8,1469.5 1695.7,1469.2 1698.5,1470.0 1701.3,1470.4 1704.2,1469.3 1707.1,1468.0 1709.9,1469.8 1712.8,1469.8 1715.6,1468.6 1717.0,1469.3" fill="none" stroke="none" marker-start="url(#mo)" marker-mid="url(#mo)" marker-end="url(#mo)"/>
<path d="M986.0 1349.5L1199.5 1351.6 1233.2 1352.1 1243.8 1352.6 1254.5 1353.7 1266.2 1355.3 1275.8 1357.1 1279.5 1358.3 1283.8 1360.0 1288.8 1362.5 1293.0 1364.9 1295.8 1367.0 1298.5 1369.5 1300.5 1371.8 1302.2 1374.4 1305.0 1380.0 1306.5 1384.5 1309.8 1396.9 1315.2 1420.7 1317.2 1427.7 1318.8 1432.2 1321.8 1439.0 1325.5 1445.4 1328.5 1449.6 1331.2 1452.0 1335.8 1454.7 1340.8 1456.8 1349.5 1459.3 1358.2 1461.0 1375.0 1462.8 1393.2 1464.3 1409.5 1465.3 1424.8 1465.7 1441.5 1465.8 1458.0 1465.5 1472.2 1465.0 1485.5 1464.1 1487.0 1463.8 1488.5 1463.1 1491.0 1461.5 1492.2 1460.4 1495.8 1455.9 1498.2 1451.5 1500.0 1447.0 1501.8 1440.4 1503.5 1430.0 1507.0 1398.0 1508.8 1387.1 1510.5 1374.4 1511.8 1369.5 1513.8 1364.4 1514.8 1362.8 1515.5 1362.0 1518.2 1360.2 1520.8 1359.0 1523.2 1358.4 1525.5 1358.4 1527.2 1358.9 1529.0 1359.6 1532.0 1361.5 1533.0 1362.4 1534.5 1364.4 1536.0 1367.0 1537.8 1371.5 1540.2 1381.1 1542.0 1391.2 1543.0 1400.0 1545.5 1429.9 1546.5 1436.8 1547.8 1443.5 1549.2 1448.7 1550.8 1452.3 1552.0 1454.8 1554.0 1457.5 1557.0 1459.5 1559.8 1460.9 1563.0 1462.0 1568.5 1463.3 1573.5 1464.3 1579.0 1465.0 1595.2 1465.9 1611.2 1466.4 1627.0 1466.7 1717.0 1466.7" fill="none" stroke="#cc0000" stroke-width="4.6" stroke-linejoin="round" stroke-linecap="butt"/>
<polyline points="986.0,1546.4 988.9,1545.2 991.7,1546.8 994.5,1546.7 997.4,1546.6 1000.2,1545.9 1003.1,1546.1 1006.0,1546.2 1008.8,1546.8 1011.6,1546.0 1014.5,1547.3 1017.4,1546.8 1020.2,1545.5" fill="none" stroke="#575757" stroke-width="7.0" stroke-linejoin="round" stroke-linecap="round"/><polyline points="1023.0,1547.5 1025.9,1546.7 1028.8,1546.4 1031.6,1546.8 1034.5,1545.8 1037.3,1546.9 1040.2,1545.6 1043.0,1546.3 1045.8,1547.6 1048.7,1547.6 1051.5,1546.8 1054.4,1546.5 1057.2,1547.6 1060.1,1547.1 1063.0,1547.3 1065.8,1547.5 1068.7,1546.7 1071.5,1547.7 1074.3,1546.2" fill="none" stroke="#575757" stroke-width="7.0" stroke-linejoin="round" stroke-linecap="round"/><polyline points="1077.2,1548.1 1080.0,1546.6 1082.9,1547.2 1085.8,1547.2 1088.6,1548.0 1091.5,1548.1 1094.3,1548.0 1097.2,1548.1 1100.0,1548.2 1102.8,1548.0 1105.7,1547.1 1108.5,1547.0 1111.4,1547.1 1114.2,1548.4 1117.1,1548.4 1120.0,1548.6 1122.8,1548.9 1125.7,1548.7 1128.5,1548.5 1131.3,1548.3 1134.2,1548.3" fill="none" stroke="#575757" stroke-width="7.0" stroke-linejoin="round" stroke-linecap="round"/><polyline points="1137.0,1550.0 1139.9,1550.0 1142.8,1549.0 1145.6,1549.7 1148.5,1550.2 1151.3,1551.0 1154.2,1550.0 1157.0,1550.6 1159.8,1551.3 1162.7,1550.0 1165.5,1550.7 1168.4,1551.3 1171.2,1551.2" fill="none" stroke="#575757" stroke-width="7.0" stroke-linejoin="round" stroke-linecap="round"/><polyline points="1174.1,1552.9 1177.0,1552.5 1179.8,1552.5 1182.7,1552.2 1185.5,1553.5 1188.3,1553.8 1191.2,1553.6 1194.0,1554.0 1196.9,1553.9 1199.8,1555.1 1202.6,1556.1 1205.5,1556.6 1208.3,1556.9 1211.2,1557.6 1214.0,1557.4 1216.8,1558.0 1219.7,1559.6 1222.5,1559.9 1225.4,1560.0 1228.2,1561.5 1231.1,1562.6 1234.0,1563.6 1236.8,1564.5 1239.7,1565.5" fill="none" stroke="#575757" stroke-width="7.0" stroke-linejoin="round" stroke-linecap="round"/><polyline points="1288.1,1634.8 1291.0,1636.3" fill="none" stroke="#575757" stroke-width="7.0" stroke-linejoin="round" stroke-linecap="round"/><polyline points="1293.8,1638.5 1296.7,1639.5 1299.5,1639.4" fill="none" stroke="#575757" stroke-width="7.0" stroke-linejoin="round" stroke-linecap="round"/><polyline points="1302.3,1641.1 1305.2,1642.1 1308.0,1643.1 1310.9,1642.6 1313.8,1642.9 1316.6,1644.3 1319.5,1643.7 1322.3,1644.4 1325.2,1644.7 1328.0,1644.8 1330.8,1644.1 1333.7,1643.0 1336.5,1643.4" fill="none" stroke="#575757" stroke-width="7.0" stroke-linejoin="round" stroke-linecap="round"/><polyline points="1342.2,1639.9 1345.1,1638.4" fill="none" stroke="#575757" stroke-width="7.0" stroke-linejoin="round" stroke-linecap="round"/><polyline points="1359.3,1549.7 1362.2,1549.7" fill="none" stroke="#575757" stroke-width="7.0" stroke-linejoin="round" stroke-linecap="round"/><polyline points="1365.0,1552.4 1367.9,1553.5 1370.8,1554.3 1373.6,1555.0 1376.5,1556.3 1379.3,1557.3 1382.2,1557.2 1385.0,1558.2 1387.8,1558.7 1390.7,1559.9 1393.5,1560.3 1396.4,1560.2 1399.2,1561.3" fill="none" stroke="#575757" stroke-width="7.0" stroke-linejoin="round" stroke-linecap="round"/><polyline points="1402.1,1563.3 1405.0,1562.6 1407.8,1564.1 1410.7,1564.8" fill="none" stroke="#575757" stroke-width="7.0" stroke-linejoin="round" stroke-linecap="round"/><polyline points="1413.5,1567.0 1416.3,1568.0" fill="none" stroke="#575757" stroke-width="7.0" stroke-linejoin="round" stroke-linecap="round"/><polyline points="1459.1,1651.6 1462.0,1652.6" fill="none" stroke="#575757" stroke-width="7.0" stroke-linejoin="round" stroke-linecap="round"/><polyline points="1464.8,1655.1 1467.7,1655.7" fill="none" stroke="#575757" stroke-width="7.0" stroke-linejoin="round" stroke-linecap="round"/><polyline points="1470.5,1657.6 1473.3,1658.3 1476.2,1659.2 1479.0,1659.8 1481.9,1661.2 1484.8,1661.0 1487.6,1661.3 1490.5,1662.6 1493.3,1661.6" fill="none" stroke="#575757" stroke-width="7.0" stroke-linejoin="round" stroke-linecap="round"/><polyline points="1496.2,1663.4 1499.0,1664.3 1501.8,1664.6 1504.7,1666.0 1507.6,1666.2 1510.4,1666.4 1513.2,1666.4 1516.1,1667.4 1519.0,1666.6 1521.8,1666.8 1524.7,1667.4 1527.5,1667.3 1530.3,1668.0 1533.2,1666.9 1536.1,1666.0 1538.9,1667.3 1541.8,1667.6 1544.6,1666.9 1547.5,1667.8 1550.3,1667.9 1553.2,1666.6 1556.0,1666.7 1558.8,1666.3 1561.7,1667.2 1564.6,1667.3 1567.4,1667.2 1570.2,1666.2 1573.1,1666.5 1576.0,1666.1 1578.8,1666.0 1581.7,1666.1 1584.5,1666.0 1587.3,1666.7 1590.2,1667.0 1593.1,1667.1 1595.9,1666.7 1598.8,1666.3 1601.6,1666.7 1604.5,1666.9 1607.3,1666.4 1610.2,1666.6 1613.0,1666.3 1615.8,1666.2 1618.7,1666.4 1621.6,1665.8 1624.4,1666.8 1627.2,1665.4 1630.1,1666.3 1633.0,1665.3 1635.8,1666.7 1638.7,1666.3 1641.5,1665.3 1644.3,1665.4 1647.2,1665.0 1650.1,1665.4 1652.9,1665.5 1655.8,1666.5" fill="none" stroke="#575757" stroke-width="7.0" stroke-linejoin="round" stroke-linecap="round"/><polyline points="1658.6,1664.4 1661.5,1665.6 1664.3,1664.5 1667.2,1664.9 1670.0,1665.0 1672.8,1664.7 1675.7,1664.5 1678.6,1664.1 1681.4,1664.0 1684.2,1663.9 1687.1,1664.3 1690.0,1662.8 1692.8,1663.2 1695.7,1662.6 1698.5,1662.6 1701.3,1662.5 1704.2,1663.3 1707.1,1663.7 1709.9,1663.1 1712.8,1661.6 1715.6,1662.1 1717.0,1661.4" fill="none" stroke="#575757" stroke-width="7.0" stroke-linejoin="round" stroke-linecap="round"/><polyline points="986.0,1546.4 988.9,1545.2 991.7,1546.8 994.5,1546.7 997.4,1546.6 1000.2,1545.9 1003.1,1546.1 1006.0,1546.2 1008.8,1546.8 1011.6,1546.0 1014.5,1547.3 1017.4,1546.8 1020.2,1545.5 1023.0,1547.5 1025.9,1546.7 1028.8,1546.4 1031.6,1546.8 1034.5,1545.8 1037.3,1546.9 1040.2,1545.6 1043.0,1546.3 1045.8,1547.6 1048.7,1547.6 1051.5,1546.8 1054.4,1546.5 1057.2,1547.6 1060.1,1547.1 1063.0,1547.3 1065.8,1547.5 1068.7,1546.7 1071.5,1547.7 1074.3,1546.2 1077.2,1548.1 1080.0,1546.6 1082.9,1547.2 1085.8,1547.2 1088.6,1548.0 1091.5,1548.1 1094.3,1548.0 1097.2,1548.1 1100.0,1548.2 1102.8,1548.0 1105.7,1547.1 1108.5,1547.0 1111.4,1547.1 1114.2,1548.4 1117.1,1548.4 1120.0,1548.6 1122.8,1548.9 1125.7,1548.7 1128.5,1548.5 1131.3,1548.3 1134.2,1548.3 1137.0,1550.0 1139.9,1550.0 1142.8,1549.0 1145.6,1549.7 1148.5,1550.2 1151.3,1551.0 1154.2,1550.0 1157.0,1550.6 1159.8,1551.3 1162.7,1550.0 1165.5,1550.7 1168.4,1551.3 1171.2,1551.2 1174.1,1552.9 1177.0,1552.5 1179.8,1552.5 1182.7,1552.2 1185.5,1553.5 1188.3,1553.8 1191.2,1553.6 1194.0,1554.0 1196.9,1553.9 1199.8,1555.1 1202.6,1556.1 1205.5,1556.6 1208.3,1556.9 1211.2,1557.6 1214.0,1557.4 1216.8,1558.0 1219.7,1559.6 1222.5,1559.9 1225.4,1560.0 1228.2,1561.5 1231.1,1562.6 1234.0,1563.6 1236.8,1564.5 1239.7,1565.5 1242.5,1567.4 1245.3,1570.1 1248.2,1571.8 1251.0,1574.3 1253.9,1578.3 1256.8,1581.4 1259.6,1587.4 1262.5,1593.1 1265.3,1599.9 1268.2,1606.0 1271.0,1612.7 1273.8,1619.2 1276.7,1622.5 1279.5,1625.9 1282.4,1629.8 1285.2,1632.3 1288.1,1634.8 1291.0,1636.3 1293.8,1638.5 1296.7,1639.5 1299.5,1639.4 1302.3,1641.1 1305.2,1642.1 1308.0,1643.1 1310.9,1642.6 1313.8,1642.9 1316.6,1644.3 1319.5,1643.7 1322.3,1644.4 1325.2,1644.7 1328.0,1644.8 1330.8,1644.1 1333.7,1643.0 1336.5,1643.4 1339.4,1641.7 1342.2,1639.9 1345.1,1638.4 1348.0,1633.4 1350.8,1616.4 1353.7,1574.0 1356.5,1553.9 1359.3,1549.7 1362.2,1549.7 1365.0,1552.4 1367.9,1553.5 1370.8,1554.3 1373.6,1555.0 1376.5,1556.3 1379.3,1557.3 1382.2,1557.2 1385.0,1558.2 1387.8,1558.7 1390.7,1559.9 1393.5,1560.3 1396.4,1560.2 1399.2,1561.3 1402.1,1563.3 1405.0,1562.6 1407.8,1564.1 1410.7,1564.8 1413.5,1567.0 1416.3,1568.0 1419.2,1570.4 1422.0,1573.5 1424.9,1580.0 1427.8,1586.8 1430.6,1591.3 1433.5,1595.9 1436.3,1605.1 1439.2,1612.4 1442.0,1620.7 1444.8,1629.0 1447.7,1635.4 1450.5,1641.2 1453.4,1646.3 1456.2,1649.7 1459.1,1651.6 1462.0,1652.6 1464.8,1655.1 1467.7,1655.7 1470.5,1657.6 1473.3,1658.3 1476.2,1659.2 1479.0,1659.8 1481.9,1661.2 1484.8,1661.0 1487.6,1661.3 1490.5,1662.6 1493.3,1661.6 1496.2,1663.4 1499.0,1664.3 1501.8,1664.6 1504.7,1666.0 1507.6,1666.2 1510.4,1666.4 1513.2,1666.4 1516.1,1667.4 1519.0,1666.6 1521.8,1666.8 1524.7,1667.4 1527.5,1667.3 1530.3,1668.0 1533.2,1666.9 1536.1,1666.0 1538.9,1667.3 1541.8,1667.6 1544.6,1666.9 1547.5,1667.8 1550.3,1667.9 1553.2,1666.6 1556.0,1666.7 1558.8,1666.3 1561.7,1667.2 1564.6,1667.3 1567.4,1667.2 1570.2,1666.2 1573.1,1666.5 1576.0,1666.1 1578.8,1666.0 1581.7,1666.1 1584.5,1666.0 1587.3,1666.7 1590.2,1667.0 1593.1,1667.1 1595.9,1666.7 1598.8,1666.3 1601.6,1666.7 1604.5,1666.9 1607.3,1666.4 1610.2,1666.6 1613.0,1666.3 1615.8,1666.2 1618.7,1666.4 1621.6,1665.8 1624.4,1666.8 1627.2,1665.4 1630.1,1666.3 1633.0,1665.3 1635.8,1666.7 1638.7,1666.3 1641.5,1665.3 1644.3,1665.4 1647.2,1665.0 1650.1,1665.4 1652.9,1665.5 1655.8,1666.5 1658.6,1664.4 1661.5,1665.6 1664.3,1664.5 1667.2,1664.9 1670.0,1665.0 1672.8,1664.7 1675.7,1664.5 1678.6,1664.1 1681.4,1664.0 1684.2,1663.9 1687.1,1664.3 1690.0,1662.8 1692.8,1663.2 1695.7,1662.6 1698.5,1662.6 1701.3,1662.5 1704.2,1663.3 1707.1,1663.7 1709.9,1663.1 1712.8,1661.6 1715.6,1662.1 1717.0,1661.4" fill="none" stroke="none" marker-start="url(#mk)" marker-mid="url(#mk)" marker-end="url(#mk)"/>
<path d="M986.0 1549.9L1034.5 1550.1 1087.0 1550.6 1164.2 1551.7 1193.5 1552.4 1210.0 1553.2 1218.8 1553.9 1226.8 1555.6 1237.0 1558.7 1240.5 1560.1 1243.8 1561.7 1246.8 1563.7 1248.8 1565.4 1251.2 1568.3 1253.8 1571.8 1256.2 1575.8 1258.2 1579.7 1261.0 1586.8 1263.5 1595.5 1265.0 1601.8 1268.2 1619.1 1270.0 1626.5 1272.2 1634.7 1274.8 1642.4 1276.8 1647.0 1278.5 1650.3 1279.8 1652.1 1281.2 1653.6 1283.5 1655.3 1285.8 1656.7 1289.8 1658.4 1293.8 1659.6 1296.8 1660.3 1299.5 1660.5 1314.5 1660.4 1325.5 1660.1 1335.2 1659.6 1336.8 1659.1 1338.5 1658.1 1341.2 1655.8 1342.8 1654.2 1344.5 1651.5 1346.0 1648.2 1347.0 1644.0 1348.0 1638.3 1349.0 1631.2 1349.8 1623.9 1352.8 1587.6 1353.8 1578.3 1355.0 1570.0 1356.0 1566.1 1357.0 1563.1 1358.0 1561.0 1359.8 1558.5 1361.0 1557.3 1362.2 1556.7 1367.0 1555.2 1372.0 1554.1 1376.8 1553.6 1382.0 1553.5 1390.5 1553.8 1398.8 1554.5 1406.8 1555.5 1414.8 1557.0 1416.2 1557.6 1418.0 1558.8 1420.5 1561.0 1422.2 1562.9 1424.5 1566.2 1426.2 1569.5 1428.2 1574.8 1430.5 1581.8 1432.5 1589.2 1434.2 1596.9 1435.8 1604.3 1438.0 1617.5 1439.2 1623.2 1442.5 1634.6 1444.2 1639.8 1445.8 1643.5 1448.5 1648.7 1449.5 1650.0 1450.5 1650.9 1452.5 1652.1 1459.5 1655.5 1465.0 1657.7 1469.5 1658.8 1477.2 1660.0 1507.8 1663.4 1517.0 1664.1 1628.0 1664.2 1667.5 1664.8 1717.0 1665.8" fill="none" stroke="#ff0000" stroke-width="4.6" stroke-linejoin="round" stroke-linecap="butt"/>
<polyline points="986.0,1761.6 988.9,1762.1 991.7,1761.7 994.5,1761.9 997.4,1761.4 1000.2,1760.5 1003.1,1760.5 1006.0,1761.5 1008.8,1761.9 1011.6,1762.3 1014.5,1761.5 1017.4,1761.8 1020.2,1761.9 1023.0,1762.4 1025.9,1761.9 1028.8,1761.4 1031.6,1762.6 1034.5,1762.4 1037.3,1762.4 1040.2,1761.7 1043.0,1762.4 1045.8,1761.6 1048.7,1761.5 1051.5,1762.5 1054.4,1762.5 1057.2,1763.1 1060.1,1763.7 1063.0,1763.1 1065.8,1764.1 1068.7,1763.0 1071.5,1763.9 1074.3,1763.0 1077.2,1763.9 1080.0,1763.9 1082.9,1764.1 1085.8,1764.8 1088.6,1763.7 1091.5,1765.0 1094.3,1764.7 1097.2,1765.4 1100.0,1765.8 1102.8,1765.7 1105.7,1765.9 1108.5,1765.8 1111.4,1766.9 1114.2,1766.6 1117.1,1767.4 1120.0,1766.8" fill="none" stroke="#999900" stroke-width="7.0" stroke-linejoin="round" stroke-linecap="round"/><polyline points="1122.8,1768.6 1125.7,1767.8 1128.5,1769.5 1131.3,1769.4 1134.2,1770.7 1137.0,1771.4 1139.9,1772.9 1142.8,1773.7" fill="none" stroke="#999900" stroke-width="7.0" stroke-linejoin="round" stroke-linecap="round"/><polyline points="1145.6,1775.5 1148.5,1776.5 1151.3,1778.2" fill="none" stroke="#999900" stroke-width="7.0" stroke-linejoin="round" stroke-linecap="round"/><polyline points="1154.2,1780.6 1157.0,1781.9" fill="none" stroke="#999900" stroke-width="7.0" stroke-linejoin="round" stroke-linecap="round"/><polyline points="1188.3,1846.4 1191.2,1847.8" fill="none" stroke="#999900" stroke-width="7.0" stroke-linejoin="round" stroke-linecap="round"/><polyline points="1194.0,1849.9 1196.9,1850.7 1199.8,1850.2 1202.6,1849.6 1205.5,1848.7" fill="none" stroke="#999900" stroke-width="7.0" stroke-linejoin="round" stroke-linecap="round"/><polyline points="1222.5,1755.8 1225.4,1756.8 1228.2,1755.3 1231.1,1755.2 1234.0,1755.5 1236.8,1754.9 1239.7,1755.3 1242.5,1755.5 1245.3,1755.4 1248.2,1755.5 1251.0,1756.4 1253.9,1756.0 1256.8,1755.1 1259.6,1755.6 1262.5,1756.3 1265.3,1755.6 1268.2,1756.1 1271.0,1756.0 1273.8,1756.4 1276.7,1756.1 1279.5,1756.1 1282.4,1755.8 1285.2,1756.5 1288.1,1755.9 1291.0,1757.3 1293.8,1756.5 1296.7,1756.4 1299.5,1757.0 1302.3,1756.6 1305.2,1756.8 1308.0,1756.8 1310.9,1756.5 1313.8,1756.5 1316.6,1756.7 1319.5,1757.8 1322.3,1757.0 1325.2,1757.2 1328.0,1757.3 1330.8,1758.1 1333.7,1758.8 1336.5,1757.5 1339.4,1758.4 1342.2,1758.4 1345.1,1758.3 1348.0,1759.0 1350.8,1758.6 1353.7,1760.2 1356.5,1760.5 1359.3,1760.7" fill="none" stroke="#999900" stroke-width="7.0" stroke-linejoin="round" stroke-linecap="round"/><polyline points="1362.2,1762.9 1365.0,1763.5 1367.9,1764.9 1370.8,1765.4" fill="none" stroke="#999900" stroke-width="7.0" stroke-linejoin="round" stroke-linecap="round"/><polyline points="1410.7,1858.0 1413.5,1859.4" fill="none" stroke="#999900" stroke-width="7.0" stroke-linejoin="round" stroke-linecap="round"/><polyline points="1416.3,1861.4 1419.2,1862.2" fill="none" stroke="#999900" stroke-width="7.0" stroke-linejoin="round" stroke-linecap="round"/><polyline points="1422.0,1865.5 1424.9,1865.4 1427.8,1865.4 1430.6,1864.6 1433.5,1864.4 1436.3,1865.3 1439.2,1865.8 1442.0,1867.2 1444.8,1866.9 1447.7,1866.2 1450.5,1867.2 1453.4,1867.3 1456.2,1866.8 1459.1,1867.5 1462.0,1867.2 1464.8,1866.7 1467.7,1866.5 1470.5,1867.1 1473.3,1867.7 1476.2,1866.6 1479.0,1866.5 1481.9,1867.6" fill="none" stroke="#999900" stroke-width="7.0" stroke-linejoin="round" stroke-linecap="round"/><polyline points="1487.6,1868.2 1490.5,1867.1 1493.3,1867.7 1496.2,1868.2" fill="none" stroke="#999900" stroke-width="7.0" stroke-linejoin="round" stroke-linecap="round"/><polyline points="1499.0,1866.5 1501.8,1866.7 1504.7,1868.3 1507.6,1867.0 1510.4,1867.0 1513.2,1867.2 1516.1,1867.6 1519.0,1867.7 1521.8,1867.0 1524.7,1866.8 1527.5,1866.9 1530.3,1867.0 1533.2,1867.5 1536.1,1866.9 1538.9,1867.7 1541.8,1866.3 1544.6,1867.0 1547.5,1867.5 1550.3,1867.3 1553.2,1866.7 1556.0,1866.1 1558.8,1866.1 1561.7,1866.3 1564.6,1866.5 1567.4,1866.2 1570.2,1865.5 1573.1,1865.9 1576.0,1866.5 1578.8,1866.6 1581.7,1865.4 1584.5,1865.8 1587.3,1865.1 1590.2,1865.6" fill="none" stroke="#999900" stroke-width="7.0" stroke-linejoin="round" stroke-linecap="round"/><polyline points="1595.9,1865.8 1598.8,1865.6 1601.6,1865.4 1604.5,1865.0 1607.3,1864.6 1610.2,1865.5 1613.0,1865.3 1615.8,1866.1 1618.7,1864.5 1621.6,1865.5 1624.4,1865.9" fill="none" stroke="#999900" stroke-width="7.0" stroke-linejoin="round" stroke-linecap="round"/><polyline points="1627.2,1864.1 1630.1,1865.4 1633.0,1864.2 1635.8,1865.2 1638.7,1865.6 1641.5,1864.8 1644.3,1864.8 1647.2,1864.3 1650.1,1864.7 1652.9,1865.1 1655.8,1864.3 1658.6,1864.3 1661.5,1864.4 1664.3,1864.6 1667.2,1863.2 1670.0,1864.0 1672.8,1863.6 1675.7,1864.1 1678.6,1864.3 1681.4,1863.8 1684.2,1864.2 1687.1,1863.0 1690.0,1863.2 1692.8,1862.8 1695.7,1863.2 1698.5,1863.2 1701.3,1862.9 1704.2,1862.3 1707.1,1862.8 1709.9,1862.5 1712.8,1863.0 1715.6,1862.4 1717.0,1863.1" fill="none" stroke="#999900" stroke-width="7.0" stroke-linejoin="round" stroke-linecap="round"/><polyline points="986.0,1761.6 988.9,1762.1 991.7,1761.7 994.5,1761.9 997.4,1761.4 1000.2,1760.5 1003.1,1760.5 1006.0,1761.5 1008.8,1761.9 1011.6,1762.3 1014.5,1761.5 1017.4,1761.8 1020.2,1761.9 1023.0,1762.4 1025.9,1761.9 1028.8,1761.4 1031.6,1762.6 1034.5,1762.4 1037.3,1762.4 1040.2,1761.7 1043.0,1762.4 1045.8,1761.6 1048.7,1761.5 1051.5,1762.5 1054.4,1762.5 1057.2,1763.1 1060.1,1763.7 1063.0,1763.1 1065.8,1764.1 1068.7,1763.0 1071.5,1763.9 1074.3,1763.0 1077.2,1763.9 1080.0,1763.9 1082.9,1764.1 1085.8,1764.8 1088.6,1763.7 1091.5,1765.0 1094.3,1764.7 1097.2,1765.4 1100.0,1765.8 1102.8,1765.7 1105.7,1765.9 1108.5,1765.8 1111.4,1766.9 1114.2,1766.6 1117.1,1767.4 1120.0,1766.8 1122.8,1768.6 1125.7,1767.8 1128.5,1769.5 1131.3,1769.4 1134.2,1770.7 1137.0,1771.4 1139.9,1772.9 1142.8,1773.7 1145.6,1775.5 1148.5,1776.5 1151.3,1778.2 1154.2,1780.6 1157.0,1781.9 1159.8,1786.1 1162.7,1789.8 1165.5,1796.7 1168.4,1806.2 1171.2,1814.5 1174.1,1823.3 1177.0,1828.7 1179.8,1834.5 1182.7,1839.2 1185.5,1841.8 1188.3,1846.4 1191.2,1847.8 1194.0,1849.9 1196.9,1850.7 1199.8,1850.2 1202.6,1849.6 1205.5,1848.7 1208.3,1841.8 1211.2,1809.4 1214.0,1778.6 1216.8,1760.6 1219.7,1757.5 1222.5,1755.8 1225.4,1756.8 1228.2,1755.3 1231.1,1755.2 1234.0,1755.5 1236.8,1754.9 1239.7,1755.3 1242.5,1755.5 1245.3,1755.4 1248.2,1755.5 1251.0,1756.4 1253.9,1756.0 1256.8,1755.1 1259.6,1755.6 1262.5,1756.3 1265.3,1755.6 1268.2,1756.1 1271.0,1756.0 1273.8,1756.4 1276.7,1756.1 1279.5,1756.1 1282.4,1755.8 1285.2,1756.5 1288.1,1755.9 1291.0,1757.3 1293.8,1756.5 1296.7,1756.4 1299.5,1757.0 1302.3,1756.6 1305.2,1756.8 1308.0,1756.8 1310.9,1756.5 1313.8,1756.5 1316.6,1756.7 1319.5,1757.8 1322.3,1757.0 1325.2,1757.2 1328.0,1757.3 1330.8,1758.1 1333.7,1758.8 1336.5,1757.5 1339.4,1758.4 1342.2,1758.4 1345.1,1758.3 1348.0,1759.0 1350.8,1758.6 1353.7,1760.2 1356.5,1760.5 1359.3,1760.7 1362.2,1762.9 1365.0,1763.5 1367.9,1764.9 1370.8,1765.4 1373.6,1768.4 1376.5,1771.3 1379.3,1777.2 1382.2,1784.2 1385.0,1789.0 1387.8,1797.4 1390.7,1808.9 1393.5,1821.3 1396.4,1832.5 1399.2,1842.1 1402.1,1848.7 1405.0,1852.5 1407.8,1855.5 1410.7,1858.0 1413.5,1859.4 1416.3,1861.4 1419.2,1862.2 1422.0,1865.5 1424.9,1865.4 1427.8,1865.4 1430.6,1864.6 1433.5,1864.4 1436.3,1865.3 1439.2,1865.8 1442.0,1867.2 1444.8,1866.9 1447.7,1866.2 1450.5,1867.2 1453.4,1867.3 1456.2,1866.8 1459.1,1867.5 1462.0,1867.2 1464.8,1866.7 1467.7,1866.5 1470.5,1867.1 1473.3,1867.7 1476.2,1866.6 1479.0,1866.5 1481.9,1867.6 1484.8,1865.9 1487.6,1868.2 1490.5,1867.1 1493.3,1867.7 1496.2,1868.2 1499.0,1866.5 1501.8,1866.7 1504.7,1868.3 1507.6,1867.0 1510.4,1867.0 1513.2,1867.2 1516.1,1867.6 1519.0,1867.7 1521.8,1867.0 1524.7,1866.8 1527.5,1866.9 1530.3,1867.0 1533.2,1867.5 1536.1,1866.9 1538.9,1867.7 1541.8,1866.3 1544.6,1867.0 1547.5,1867.5 1550.3,1867.3 1553.2,1866.7 1556.0,1866.1 1558.8,1866.1 1561.7,1866.3 1564.6,1866.5 1567.4,1866.2 1570.2,1865.5 1573.1,1865.9 1576.0,1866.5 1578.8,1866.6 1581.7,1865.4 1584.5,1865.8 1587.3,1865.1 1590.2,1865.6 1593.1,1867.7 1595.9,1865.8 1598.8,1865.6 1601.6,1865.4 1604.5,1865.0 1607.3,1864.6 1610.2,1865.5 1613.0,1865.3 1615.8,1866.1 1618.7,1864.5 1621.6,1865.5 1624.4,1865.9 1627.2,1864.1 1630.1,1865.4 1633.0,1864.2 1635.8,1865.2 1638.7,1865.6 1641.5,1864.8 1644.3,1864.8 1647.2,1864.3 1650.1,1864.7 1652.9,1865.1 1655.8,1864.3 1658.6,1864.3 1661.5,1864.4 1664.3,1864.6 1667.2,1863.2 1670.0,1864.0 1672.8,1863.6 1675.7,1864.1 1678.6,1864.3 1681.4,1863.8 1684.2,1864.2 1687.1,1863.0 1690.0,1863.2 1692.8,1862.8 1695.7,1863.2 1698.5,1863.2 1701.3,1862.9 1704.2,1862.3 1707.1,1862.8 1709.9,1862.5 1712.8,1863.0 1715.6,1862.4 1717.0,1863.1" fill="none" stroke="none" marker-start="url(#mo)" marker-mid="url(#mo)" marker-end="url(#mo)"/>
<path d="M986.0 1749.0L1057.2 1748.7 1116.0 1748.8 1130.0 1749.7 1146.2 1751.6 1153.2 1753.0 1156.2 1754.0 1159.0 1755.1 1160.2 1756.0 1161.8 1757.4 1163.0 1759.0 1164.0 1760.7 1165.8 1765.2 1167.5 1771.7 1168.5 1778.1 1170.5 1795.0 1174.0 1821.5 1176.8 1836.4 1178.8 1844.5 1179.5 1846.5 1181.0 1849.2 1182.5 1851.3 1184.0 1853.0 1185.8 1854.3 1188.5 1855.9 1190.8 1856.9 1192.5 1857.4 1194.5 1857.5 1196.8 1857.2 1199.5 1856.5 1202.0 1855.5 1203.2 1854.6 1204.5 1853.2 1205.8 1851.3 1206.5 1849.5 1208.0 1840.0 1209.2 1829.4 1210.2 1818.8 1212.8 1785.1 1213.8 1775.8 1214.8 1768.6 1215.5 1765.0 1217.0 1761.1 1218.5 1758.5 1221.2 1754.9 1222.8 1753.5 1224.0 1752.8 1228.0 1751.9 1232.5 1751.3 1242.0 1750.8 1272.8 1749.8 1290.2 1749.6 1306.0 1750.2 1329.8 1751.5 1342.2 1752.5 1353.0 1753.6 1362.0 1755.0 1366.2 1756.0 1370.8 1757.9 1374.2 1760.5 1377.8 1764.0 1380.5 1768.0 1382.2 1772.0 1384.2 1778.4 1385.8 1784.3 1387.5 1793.0 1390.2 1808.2 1393.2 1826.3 1395.8 1836.5 1398.0 1843.4 1399.2 1845.9 1401.5 1849.6 1403.2 1852.0 1405.0 1853.9 1406.5 1855.1 1408.0 1856.0 1410.5 1857.0 1413.5 1858.0 1426.8 1861.1 1432.5 1861.9 1452.5 1862.9 1508.8 1864.4 1602.5 1865.2 1717.0 1865.5" fill="none" stroke="#cc0000" stroke-width="4.6" stroke-linejoin="round" stroke-linecap="butt"/>
<polyline points="986.0,1954.1 988.9,1953.1 991.7,1954.2 994.5,1953.9" fill="none" stroke="#999900" stroke-width="7.0" stroke-linejoin="round" stroke-linecap="round"/><polyline points="997.4,1955.6 1000.2,1956.3 1003.1,1956.2 1006.0,1957.1 1008.8,1956.9 1011.6,1957.3" fill="none" stroke="#999900" stroke-width="7.0" stroke-linejoin="round" stroke-linecap="round"/><polyline points="1014.5,1959.2 1017.4,1960.7 1020.2,1961.9" fill="none" stroke="#999900" stroke-width="7.0" stroke-linejoin="round" stroke-linecap="round"/><polyline points="1054.4,2033.6 1057.2,2032.3" fill="none" stroke="#999900" stroke-width="7.0" stroke-linejoin="round" stroke-linecap="round"/><polyline points="1071.5,1944.8 1074.3,1943.6 1077.2,1943.2 1080.0,1941.9 1082.9,1942.4 1085.8,1941.0 1088.6,1941.9 1091.5,1941.9 1094.3,1940.8" fill="none" stroke="#999900" stroke-width="7.0" stroke-linejoin="round" stroke-linecap="round"/><polyline points="1097.2,1942.6 1100.0,1941.0 1102.8,1942.2 1105.7,1941.4 1108.5,1941.9 1111.4,1941.4 1114.2,1943.1 1117.1,1942.4 1120.0,1942.9 1122.8,1942.4 1125.7,1942.4 1128.5,1942.2 1131.3,1942.1 1134.2,1942.6 1137.0,1942.4 1139.9,1942.4 1142.8,1941.8 1145.6,1942.5 1148.5,1943.0 1151.3,1942.5 1154.2,1943.0 1157.0,1942.9 1159.8,1942.5 1162.7,1942.7 1165.5,1942.8 1168.4,1943.1 1171.2,1943.2 1174.1,1944.0 1177.0,1943.0 1179.8,1942.6 1182.7,1944.0 1185.5,1943.5 1188.3,1943.8 1191.2,1945.2 1194.0,1944.7 1196.9,1944.3 1199.8,1944.5 1202.6,1944.1 1205.5,1944.6 1208.3,1943.8 1211.2,1943.8 1214.0,1944.0 1216.8,1945.0 1219.7,1945.0 1222.5,1943.9 1225.4,1944.8 1228.2,1944.1 1231.1,1944.8 1234.0,1944.1 1236.8,1944.7 1239.7,1944.2 1242.5,1944.1 1245.3,1944.2 1248.2,1944.3 1251.0,1943.9 1253.9,1943.5 1256.8,1945.1 1259.6,1944.0 1262.5,1943.3 1265.3,1943.1 1268.2,1942.8 1271.0,1943.9 1273.8,1944.9 1276.7,1943.4 1279.5,1944.1 1282.4,1943.3 1285.2,1944.8 1288.1,1944.4 1291.0,1944.4 1293.8,1944.9 1296.7,1945.1 1299.5,1944.7 1302.3,1943.9 1305.2,1943.5 1308.0,1943.7 1310.9,1943.3" fill="none" stroke="#999900" stroke-width="7.0" stroke-linejoin="round" stroke-linecap="round"/><polyline points="1313.8,1945.2 1316.6,1944.1 1319.5,1944.3 1322.3,1944.4 1325.2,1945.4 1328.0,1944.1 1330.8,1945.1 1333.7,1944.7 1336.5,1944.6 1339.4,1943.8 1342.2,1945.4 1345.1,1944.7 1348.0,1945.1 1350.8,1945.6 1353.7,1945.8 1356.5,1946.6 1359.3,1945.9 1362.2,1946.8" fill="none" stroke="#999900" stroke-width="7.0" stroke-linejoin="round" stroke-linecap="round"/><polyline points="1385.0,2060.1 1387.8,2061.4 1390.7,2061.1 1393.5,2061.5 1396.4,2062.2 1399.2,2063.2 1402.1,2063.8 1404.9,2064.9 1407.8,2064.5" fill="none" stroke="#999900" stroke-width="7.0" stroke-linejoin="round" stroke-linecap="round"/><polyline points="1410.6,2066.7 1413.5,2066.6 1416.3,2066.2 1419.2,2067.7 1422.0,2067.5 1424.9,2068.3 1427.8,2067.2" fill="none" stroke="#999900" stroke-width="7.0" stroke-linejoin="round" stroke-linecap="round"/><polyline points="1430.6,2069.0 1433.4,2068.4 1436.3,2067.5" fill="none" stroke="#999900" stroke-width="7.0" stroke-linejoin="round" stroke-linecap="round"/><polyline points="1439.1,2069.2 1442.0,2068.9 1444.8,2068.7 1447.7,2069.2 1450.5,2068.5 1453.4,2069.9 1456.2,2069.6 1459.1,2069.7 1461.9,2070.6 1464.8,2069.9 1467.6,2069.6 1470.5,2069.4 1473.3,2069.9 1476.2,2070.4 1479.0,2069.6 1481.9,2069.3 1484.8,2070.3 1487.6,2069.8 1490.5,2069.8 1493.3,2070.8" fill="none" stroke="#999900" stroke-width="7.0" stroke-linejoin="round" stroke-linecap="round"/><polyline points="1496.1,2069.1 1499.0,2069.8 1501.8,2068.8 1504.7,2069.5 1507.5,2069.9 1510.4,2070.2 1513.2,2068.9 1516.1,2070.0 1519.0,2069.9 1521.8,2069.4 1524.6,2070.8 1527.5,2069.5 1530.3,2069.0 1533.2,2069.7 1536.0,2068.5" fill="none" stroke="#999900" stroke-width="7.0" stroke-linejoin="round" stroke-linecap="round"/><polyline points="1538.9,2070.2 1541.8,2069.9 1544.6,2069.2 1547.5,2069.7 1550.3,2069.7 1553.2,2070.4 1556.0,2069.1 1558.8,2068.7 1561.7,2068.3 1564.5,2069.2 1567.4,2068.5 1570.2,2069.2 1573.1,2069.5 1576.0,2069.1 1578.8,2068.8 1581.7,2069.9 1584.5,2069.2 1587.3,2069.4 1590.2,2069.7 1593.0,2068.6 1595.9,2068.8" fill="none" stroke="#999900" stroke-width="7.0" stroke-linejoin="round" stroke-linecap="round"/><polyline points="1598.8,2070.5 1601.6,2069.1 1604.5,2068.7 1607.3,2069.1 1610.2,2068.9 1613.0,2068.5 1615.8,2069.0 1618.7,2069.2 1621.5,2069.2 1624.4,2069.4 1627.2,2068.3 1630.1,2068.4 1633.0,2069.5 1635.8,2068.9 1638.7,2069.7 1641.5,2069.3 1644.3,2068.4 1647.2,2069.4 1650.0,2068.6 1652.9,2069.2 1655.8,2069.7 1658.6,2070.2 1661.5,2069.0 1664.3,2069.4 1667.2,2069.2 1670.0,2069.5" fill="none" stroke="#999900" stroke-width="7.0" stroke-linejoin="round" stroke-linecap="round"/><polyline points="1672.8,2067.7 1675.7,2068.8 1678.5,2069.2 1681.4,2069.3 1684.2,2068.7 1687.1,2069.5 1690.0,2069.6 1692.8,2069.1 1695.7,2068.9 1698.5,2068.8 1701.3,2069.1 1704.2,2069.6 1707.0,2069.8 1709.9,2068.8 1712.8,2068.5 1715.6,2068.6 1717.0,2069.5" fill="none" stroke="#999900" stroke-width="7.0" stroke-linejoin="round" stroke-linecap="round"/><polyline points="986.0,1954.1 988.9,1953.1 991.7,1954.2 994.5,1953.9 997.4,1955.6 1000.2,1956.3 1003.1,1956.2 1006.0,1957.1 1008.8,1956.9 1011.6,1957.3 1014.5,1959.2 1017.4,1960.7 1020.2,1961.9 1023.0,1964.8 1025.9,1967.9 1028.8,1972.5 1031.6,1977.9 1034.5,1983.0 1037.3,1989.3 1040.2,1997.9 1043.0,2003.0 1045.8,2010.6 1048.7,2022.4 1051.5,2029.9 1054.4,2033.6 1057.2,2032.3 1060.1,2022.6 1063.0,1980.0 1065.8,1953.5 1068.7,1947.9 1071.5,1944.8 1074.3,1943.6 1077.2,1943.2 1080.0,1941.9 1082.9,1942.4 1085.8,1941.0 1088.6,1941.9 1091.5,1941.9 1094.3,1940.8 1097.2,1942.6 1100.0,1941.0 1102.8,1942.2 1105.7,1941.4 1108.5,1941.9 1111.4,1941.4 1114.2,1943.1 1117.1,1942.4 1120.0,1942.9 1122.8,1942.4 1125.7,1942.4 1128.5,1942.2 1131.3,1942.1 1134.2,1942.6 1137.0,1942.4 1139.9,1942.4 1142.8,1941.8 1145.6,1942.5 1148.5,1943.0 1151.3,1942.5 1154.2,1943.0 1157.0,1942.9 1159.8,1942.5 1162.7,1942.7 1165.5,1942.8 1168.4,1943.1 1171.2,1943.2 1174.1,1944.0 1177.0,1943.0 1179.8,1942.6 1182.7,1944.0 1185.5,1943.5 1188.3,1943.8 1191.2,1945.2 1194.0,1944.7 1196.9,1944.3 1199.8,1944.5 1202.6,1944.1 1205.5,1944.6 1208.3,1943.8 1211.2,1943.8 1214.0,1944.0 1216.8,1945.0 1219.7,1945.0 1222.5,1943.9 1225.4,1944.8 1228.2,1944.1 1231.1,1944.8 1234.0,1944.1 1236.8,1944.7 1239.7,1944.2 1242.5,1944.1 1245.3,1944.2 1248.2,1944.3 1251.0,1943.9 1253.9,1943.5 1256.8,1945.1 1259.6,1944.0 1262.5,1943.3 1265.3,1943.1 1268.2,1942.8 1271.0,1943.9 1273.8,1944.9 1276.7,1943.4 1279.5,1944.1 1282.4,1943.3 1285.2,1944.8 1288.1,1944.4 1291.0,1944.4 1293.8,1944.9 1296.7,1945.1 1299.5,1944.7 1302.3,1943.9 1305.2,1943.5 1308.0,1943.7 1310.9,1943.3 1313.8,1945.2 1316.6,1944.1 1319.5,1944.3 1322.3,1944.4 1325.2,1945.4 1328.0,1944.1 1330.8,1945.1 1333.7,1944.7 1336.5,1944.6 1339.4,1943.8 1342.2,1945.4 1345.1,1944.7 1348.0,1945.1 1350.8,1945.6 1353.7,1945.8 1356.5,1946.6 1359.3,1945.9 1362.2,1946.8 1365.0,1949.6 1367.9,1953.1 1370.8,1971.7 1373.6,2045.9 1376.4,2053.9 1379.3,2056.5 1382.1,2058.3 1385.0,2060.1 1387.8,2061.4 1390.7,2061.1 1393.5,2061.5 1396.4,2062.2 1399.2,2063.2 1402.1,2063.8 1404.9,2064.9 1407.8,2064.5 1410.6,2066.7 1413.5,2066.6 1416.3,2066.2 1419.2,2067.7 1422.0,2067.5 1424.9,2068.3 1427.8,2067.2 1430.6,2069.0 1433.4,2068.4 1436.3,2067.5 1439.1,2069.2 1442.0,2068.9 1444.8,2068.7 1447.7,2069.2 1450.5,2068.5 1453.4,2069.9 1456.2,2069.6 1459.1,2069.7 1461.9,2070.6 1464.8,2069.9 1467.6,2069.6 1470.5,2069.4 1473.3,2069.9 1476.2,2070.4 1479.0,2069.6 1481.9,2069.3 1484.8,2070.3 1487.6,2069.8 1490.5,2069.8 1493.3,2070.8 1496.1,2069.1 1499.0,2069.8 1501.8,2068.8 1504.7,2069.5 1507.5,2069.9 1510.4,2070.2 1513.2,2068.9 1516.1,2070.0 1519.0,2069.9 1521.8,2069.4 1524.6,2070.8 1527.5,2069.5 1530.3,2069.0 1533.2,2069.7 1536.0,2068.5 1538.9,2070.2 1541.8,2069.9 1544.6,2069.2 1547.5,2069.7 1550.3,2069.7 1553.2,2070.4 1556.0,2069.1 1558.8,2068.7 1561.7,2068.3 1564.5,2069.2 1567.4,2068.5 1570.2,2069.2 1573.1,2069.5 1576.0,2069.1 1578.8,2068.8 1581.7,2069.9 1584.5,2069.2 1587.3,2069.4 1590.2,2069.7 1593.0,2068.6 1595.9,2068.8 1598.8,2070.5 1601.6,2069.1 1604.5,2068.7 1607.3,2069.1 1610.2,2068.9 1613.0,2068.5 1615.8,2069.0 1618.7,2069.2 1621.5,2069.2 1624.4,2069.4 1627.2,2068.3 1630.1,2068.4 1633.0,2069.5 1635.8,2068.9 1638.7,2069.7 1641.5,2069.3 1644.3,2068.4 1647.2,2069.4 1650.0,2068.6 1652.9,2069.2 1655.8,2069.7 1658.6,2070.2 1661.5,2069.0 1664.3,2069.4 1667.2,2069.2 1670.0,2069.5 1672.8,2067.7 1675.7,2068.8 1678.5,2069.2 1681.4,2069.3 1684.2,2068.7 1687.1,2069.5 1690.0,2069.6 1692.8,2069.1 1695.7,2068.9 1698.5,2068.8 1701.3,2069.1 1704.2,2069.6 1707.0,2069.8 1709.9,2068.8 1712.8,2068.5 1715.6,2068.6 1717.0,2069.5" fill="none" stroke="none" marker-start="url(#mo)" marker-mid="url(#mo)" marker-end="url(#mo)"/>
<path d="M986.0 1946.9L1006.0 1947.2 1021.5 1947.9 1024.5 1948.8 1027.0 1950.1 1028.8 1951.9 1031.2 1955.3 1032.8 1958.1 1036.5 1966.4 1037.5 1969.5 1038.2 1972.8 1039.2 1982.6 1042.0 2019.2 1043.5 2031.9 1045.2 2041.6 1046.0 2044.7 1046.8 2046.7 1049.2 2049.2 1050.5 2050.0 1051.8 2050.4 1052.8 2050.4 1053.5 2050.1 1054.5 2049.4 1055.5 2048.4 1057.5 2045.3 1058.2 2042.6 1062.2 2012.5 1063.0 2005.1 1064.2 1987.8 1065.0 1980.5 1066.0 1973.1 1067.5 1965.4 1069.2 1960.2 1071.5 1955.6 1073.2 1953.3 1074.8 1952.2 1076.0 1951.6 1080.0 1950.7 1085.5 1950.0 1099.5 1949.0 1107.5 1948.7 1286.0 1948.7 1306.0 1949.0 1329.2 1949.8 1353.0 1952.2 1356.5 1952.8 1358.8 1953.4 1360.5 1954.5 1362.2 1956.3 1364.0 1959.5 1366.8 1966.2 1369.2 1974.2 1370.2 1979.0 1370.8 1983.4 1372.0 2003.4 1373.8 2025.2 1375.0 2034.3 1377.0 2043.6 1378.2 2046.8 1380.0 2050.3 1381.5 2052.6 1383.2 2054.7 1385.0 2056.1 1388.2 2058.1 1391.2 2059.5 1394.0 2060.5 1397.0 2061.1 1404.8 2062.0 1420.8 2063.2 1452.0 2064.3 1487.0 2065.1 1514.5 2065.5 1570.2 2065.7 1717.0 2066.0" fill="none" stroke="#cc0000" stroke-width="4.6" stroke-linejoin="round" stroke-linecap="butt"/>
<line x1="392.9" y1="1216.2" x2="420.9" y2="1216.2" stroke="#000" stroke-width="6"/>
<line x1="449.2" y1="1216.2" x2="477.2" y2="1216.2" stroke="#000" stroke-width="6"/>
<line x1="505.3" y1="1216.2" x2="533.3" y2="1216.2" stroke="#000" stroke-width="6"/>
<line x1="399.1" y1="1420.0" x2="427.1" y2="1420.0" stroke="#000" stroke-width="6"/>
<line x1="455.4" y1="1420.0" x2="483.4" y2="1420.0" stroke="#000" stroke-width="6"/>
<line x1="511.2" y1="1420.0" x2="539.2" y2="1420.0" stroke="#000" stroke-width="6"/>
<line x1="386.2" y1="1608.3" x2="414.2" y2="1608.3" stroke="#000" stroke-width="6"/>
<line x1="442.5" y1="1608.3" x2="470.5" y2="1608.3" stroke="#000" stroke-width="6"/>
<line x1="498.3" y1="1608.3" x2="526.3" y2="1608.3" stroke="#000" stroke-width="6"/>
<line x1="381.7" y1="1810.6" x2="409.7" y2="1810.6" stroke="#000" stroke-width="6"/>
<line x1="438.6" y1="1810.6" x2="466.6" y2="1810.6" stroke="#000" stroke-width="6"/>
<line x1="494.5" y1="1810.6" x2="522.5" y2="1810.6" stroke="#000" stroke-width="6"/>
<line x1="376.0" y1="2007.9" x2="404.0" y2="2007.9" stroke="#000" stroke-width="6"/>
<line x1="432.2" y1="2007.9" x2="460.2" y2="2007.9" stroke="#000" stroke-width="6"/>
<line x1="488.3" y1="2007.9" x2="516.3" y2="2007.9" stroke="#000" stroke-width="6"/>
<line x1="1271.0" y1="1209.6" x2="1299.0" y2="1209.6" stroke="#000" stroke-width="6"/>
<line x1="1327.1" y1="1209.6" x2="1355.1" y2="1209.6" stroke="#000" stroke-width="6"/>
<line x1="1383.2" y1="1209.6" x2="1411.2" y2="1209.6" stroke="#000" stroke-width="6"/>
<line x1="1248.1" y1="1405.2" x2="1276.1" y2="1405.2" stroke="#000" stroke-width="6"/>
<line x1="1304.1" y1="1405.2" x2="1332.1" y2="1405.2" stroke="#000" stroke-width="6"/>
<line x1="1359.8" y1="1405.2" x2="1387.8" y2="1405.2" stroke="#000" stroke-width="6"/>
<line x1="1222.7" y1="1606.5" x2="1250.7" y2="1606.5" stroke="#000" stroke-width="6"/>
<line x1="1278.8" y1="1606.5" x2="1306.8" y2="1606.5" stroke="#000" stroke-width="6"/>
<line x1="1335.0" y1="1606.5" x2="1363.0" y2="1606.5" stroke="#000" stroke-width="6"/>
<line x1="1391.0" y1="1606.5" x2="1419.0" y2="1606.5" stroke="#000" stroke-width="6"/>
<line x1="1446.9" y1="1606.5" x2="1474.9" y2="1606.5" stroke="#000" stroke-width="6"/>
<line x1="1503.2" y1="1606.5" x2="1516.2" y2="1606.5" stroke="#000" stroke-width="6"/>
<line x1="1325.7" y1="1810.6" x2="1353.7" y2="1810.6" stroke="#000" stroke-width="6"/>
<line x1="1382.0" y1="1810.6" x2="1410.0" y2="1810.6" stroke="#000" stroke-width="6"/>
<line x1="1437.9" y1="1810.6" x2="1465.9" y2="1810.6" stroke="#000" stroke-width="6"/>
<line x1="1319.2" y1="2008.0" x2="1347.2" y2="2008.0" stroke="#000" stroke-width="6"/>
<line x1="1375.1" y1="2008.0" x2="1403.1" y2="2008.0" stroke="#000" stroke-width="6"/>
<line x1="1431.1" y1="2008.0" x2="1459.1" y2="2008.0" stroke="#000" stroke-width="6"/>
<line x1="779.3" y1="305.7" x2="779.3" y2="427.3" stroke="#000" stroke-width="5"/>
<polygon points="779.3,279.7 771.6999999999999,307.7 786.9,307.7" fill="#000"/>
<polygon points="779.3,453.3 771.6999999999999,425.3 786.9,425.3" fill="#000"/>
<line x1="1686.8" y1="315.7" x2="1686.8" y2="433.4" stroke="#000" stroke-width="5"/>
<polygon points="1686.8,289.7 1679.2,317.7 1694.3999999999999,317.7" fill="#000"/>
<polygon points="1686.8,459.4 1679.2,431.4 1694.3999999999999,431.4" fill="#000"/>
<line x1="789.9" y1="1492.1" x2="789.9" y2="1644.1" stroke="#000" stroke-width="5"/>
<polygon points="789.9,1466.1 782.3,1494.1 797.5,1494.1" fill="#000"/>
<polygon points="789.9,1670.1 782.3,1642.1 797.5,1642.1" fill="#000"/>
<line x1="1680.2" y1="1494.5" x2="1680.2" y2="1645.2" stroke="#000" stroke-width="5"/>
<polygon points="1680.2,1468.5 1672.6000000000001,1496.5 1687.8,1496.5" fill="#000"/>
<polygon points="1680.2,1671.2 1672.6000000000001,1643.2 1687.8,1643.2" fill="#000"/>
<circle cx="483.2" cy="92.3" r="54.4" fill="none" stroke="#000" stroke-width="5.8"/>
<circle cx="483.3" cy="93.4" r="7.6" fill="#000"/>
<circle cx="1350.8" cy="98.4" r="54.4" fill="none" stroke="#000" stroke-width="5.8"/>
<circle cx="1325.6" cy="78.6" r="7.6" fill="#000"/>
<text transform="translate(133.00,86.30) scale(0.9422,1)" font-family="Liberation Serif, serif" font-size="53.78" fill="#009a00">528 mT</text>
<text transform="translate(133.90,250.80) scale(0.9436,1)" font-family="Liberation Serif, serif" font-size="53.32" fill="#009a00">525 mT</text>
<text transform="translate(134.00,445.90) scale(0.9757,1)" font-family="Liberation Serif, serif" font-size="51.60" fill="#000">522 mT</text>
<text transform="translate(127.70,703.80) scale(0.9409,1)" font-family="Liberation Serif, serif" font-size="53.47" fill="#009a00">518 mT</text>
<text transform="translate(133.30,903.90) scale(0.9167,1)" font-family="Liberation Serif, serif" font-size="55.17" fill="#009a00">515 mT</text>
<text transform="translate(1015.60,128.70) scale(0.9452,1)" font-family="Liberation Serif, serif" font-size="53.47" fill="#009a00">537 mT</text>
<text transform="translate(1015.60,279.90) scale(0.9647,1)" font-family="Liberation Serif, serif" font-size="52.39" fill="#009a00">533 mT</text>
<text transform="translate(1015.90,443.30) scale(0.9729,1)" font-family="Liberation Serif, serif" font-size="52.05" fill="#000">529 mT</text>
<text transform="translate(1015.90,588.70) scale(0.9443,1)" font-family="Liberation Serif, serif" font-size="53.63" fill="#009a00">525 mT</text>
<text transform="translate(1015.90,882.40) scale(0.9470,1)" font-family="Liberation Serif, serif" font-size="53.47" fill="#009a00">521 mT</text>
<text transform="translate(133.00,1221.00) scale(0.9504,1)" font-family="Liberation Serif, serif" font-size="53.32" fill="#9a6600">528 mT</text>
<text transform="translate(134.00,1418.40) scale(0.9470,1)" font-family="Liberation Serif, serif" font-size="53.16" fill="#9a6600">525 mT</text>
<text transform="translate(133.50,1611.90) scale(0.9748,1)" font-family="Liberation Serif, serif" font-size="51.75" fill="#000">522 mT</text>
<text transform="translate(133.50,1815.90) scale(0.9714,1)" font-family="Liberation Serif, serif" font-size="51.93" fill="#9a6600">518 mT</text>
<text transform="translate(133.30,2012.00) scale(0.9350,1)" font-family="Liberation Serif, serif" font-size="54.09" fill="#9a6600">515 mT</text>
<text transform="translate(1003.20,1217.30) scale(0.9256,1)" font-family="Liberation Serif, serif" font-size="54.71" fill="#9a6600">537 mT</text>
<text transform="translate(1003.20,1418.10) scale(0.9498,1)" font-family="Liberation Serif, serif" font-size="53.32" fill="#9a6600">533 mT</text>
<text transform="translate(1003.20,1615.90) scale(0.9786,1)" font-family="Liberation Serif, serif" font-size="51.75" fill="#000">529 mT</text>
<text transform="translate(1003.20,1730.00) scale(0.9723,1)" font-family="Liberation Serif, serif" font-size="52.08" fill="#9a6600">525 mT</text>
<text transform="translate(1003.20,1917.10) scale(1.0021,1)" font-family="Liberation Serif, serif" font-size="50.54" fill="#9a6600">521 mT</text>
<text transform="translate(118.20,1046.50) scale(0.9544,1)" font-family="Liberation Serif, serif" font-size="43.26" fill="#000">13.4</text>
<text transform="translate(117.20,2156.00) scale(0.9510,1)" font-family="Liberation Serif, serif" font-size="43.41" fill="#000">13.4</text>
<text transform="translate(300.80,1046.50) scale(0.9540,1)" font-family="Liberation Serif, serif" font-size="43.26" fill="#000">13.5</text>
<text transform="translate(300.80,2156.00) scale(0.9506,1)" font-family="Liberation Serif, serif" font-size="43.41" fill="#000">13.5</text>
<text transform="translate(483.20,1046.50) scale(0.9583,1)" font-family="Liberation Serif, serif" font-size="43.26" fill="#000">13.6</text>
<text transform="translate(483.20,2156.00) scale(0.9549,1)" font-family="Liberation Serif, serif" font-size="43.41" fill="#000">13.6</text>
<text transform="translate(667.20,1046.50) scale(0.9440,1)" font-family="Liberation Serif, serif" font-size="43.26" fill="#000">13.7</text>
<text transform="translate(667.20,2156.00) scale(0.9407,1)" font-family="Liberation Serif, serif" font-size="43.41" fill="#000">13.7</text>
<text transform="translate(1030.80,1046.50) scale(0.9474,1)" font-family="Liberation Serif, serif" font-size="43.26" fill="#000">13.4</text>
<text transform="translate(1030.80,2156.00) scale(0.9441,1)" font-family="Liberation Serif, serif" font-size="43.41" fill="#000">13.4</text>
<text transform="translate(1322.40,1045.50) scale(0.9739,1)" font-family="Liberation Serif, serif" font-size="43.26" fill="#000">13.6</text>
<text transform="translate(1322.40,2156.00) scale(0.9705,1)" font-family="Liberation Serif, serif" font-size="43.41" fill="#000">13.6</text>
<text transform="translate(1616.50,1046.50) scale(0.9511,1)" font-family="Liberation Serif, serif" font-size="43.26" fill="#000">13.8</text>
<text transform="translate(1616.50,2156.00) scale(0.9478,1)" font-family="Liberation Serif, serif" font-size="43.41" fill="#000">13.8</text>
<text transform="translate(369.90,1098.40) scale(1.0000,1)" font-family="Liberation Serif, serif" font-size="45.15" fill="#000">ω/2π (GHz)</text>
<text transform="translate(1243.50,1098.40) scale(1.0000,1)" font-family="Liberation Serif, serif" font-size="45.15" fill="#000">ω/2π (GHz)</text>
<text transform="translate(369.90,2207.40) scale(1.0000,1)" font-family="Liberation Serif, serif" font-size="45.15" fill="#000">ω/2π (GHz)</text>
<text transform="translate(1243.70,2207.40) scale(1.0000,1)" font-family="Liberation Serif, serif" font-size="45.15" fill="#000">ω/2π (GHz)</text>
<text transform="translate(-0.60,46.80) scale(1.0000,1)" font-family="Liberation Sans, sans-serif" font-size="51.15" fill="#000">(a)</text>
<text transform="translate(879.00,45.50) scale(1.0000,1)" font-family="Liberation Sans, sans-serif" font-size="50.41" fill="#000">(b)</text>
<text transform="translate(-0.50,1154.20) scale(1.0000,1)" font-family="Liberation Sans, sans-serif" font-size="50.51" fill="#000">(c)</text>
<text transform="translate(879.00,1154.50) scale(1.0000,1)" font-family="Liberation Sans, sans-serif" font-size="50.41" fill="#000">(d)</text>
<text transform="translate(449.50,124.00) scale(1.0000,1)" font-family="Liberation Serif, serif" font-size="42.00" fill="#000">A</text>
<text transform="translate(1331.00,129.10) scale(1.0000,1)" font-family="Liberation Serif, serif" font-size="40.00" fill="#000">B</text>
<text transform="translate(1498.70,879.40) scale(1.0000,1)" font-family="Liberation Sans, sans-serif" font-size="39.30" fill="#000">Data</text>
<text transform="translate(1498.75,924.00) scale(1.0000,1)" font-family="Liberation Sans, sans-serif" font-size="39.30" fill="#000">Calculation</text>
<text transform="translate(1512.60,1934.20) scale(1.0000,1)" font-family="Liberation Sans, sans-serif" font-size="39.80" fill="#000">Data</text>
<text transform="translate(1513.60,1980.40) scale(1.0000,1)" font-family="Liberation Sans, sans-serif" font-size="39.80" fill="#000">Calculation</text>
<text transform="translate(565.40,1217.20) scale(0.8330,1)" font-family="Liberation Sans, sans-serif" font-size="38.84" fill="#000">0°</text>
<text transform="translate(577.80,1427.40) scale(0.8182,1)" font-family="Liberation Sans, sans-serif" font-size="38.84" fill="#000">0°</text>
<text transform="translate(559.20,1613.30) scale(0.7922,1)" font-family="Liberation Sans, sans-serif" font-size="39.83" fill="#000">0°</text>
<text transform="translate(554.80,1816.50) scale(0.8182,1)" font-family="Liberation Sans, sans-serif" font-size="39.83" fill="#000">0°</text>
<text transform="translate(548.00,2014.60) scale(0.8153,1)" font-family="Liberation Sans, sans-serif" font-size="39.97" fill="#000">0°</text>
<text transform="translate(1422.50,1212.00) scale(0.7951,1)" font-family="Liberation Sans, sans-serif" font-size="39.83" fill="#000">0°</text>
<text transform="translate(1393.30,1403.10) scale(0.7923,1)" font-family="Liberation Sans, sans-serif" font-size="39.97" fill="#000">0°</text>
<text transform="translate(1504.50,1610.70) scale(0.7951,1)" font-family="Liberation Sans, sans-serif" font-size="39.83" fill="#000">0°</text>
<text transform="translate(1258.50,1822.60) scale(0.8301,1)" font-family="Liberation Sans, sans-serif" font-size="38.56" fill="#000">0°</text>
<text transform="translate(1239.80,2018.20) scale(0.8271,1)" font-family="Liberation Sans, sans-serif" font-size="38.56" fill="#000">0°</text>
<text transform="translate(59.20,550.00) rotate(-90) scale(1.0000,1)" font-family="Liberation Serif, serif" font-size="48.00" fill="#000">|S<tspan font-size="32.6" dy="9.6">21</tspan><tspan dy="-9.6">|</tspan></text>
<text transform="translate(55.70,1731.40) rotate(-90) scale(1.0000,1)" font-family="Liberation Serif, serif" font-size="44.95" fill="#000">Phase (deg.)</text>
<text transform="translate(929.70,1731.40) rotate(-90) scale(1.0000,1)" font-family="Liberation Serif, serif" font-size="44.95" fill="#000">Phase (deg.)</text>
<text transform="translate(933.20,550.00) rotate(-90) scale(1.0000,1)" font-family="Liberation Serif, serif" font-size="48.00" fill="#000">|S<tspan font-size="32.6" dy="9.6">21</tspan><tspan dy="-9.6">|</tspan></text>
<text transform="translate(753.00,422.00) rotate(-90) scale(1.0000,1)" font-family="Liberation Sans, sans-serif" font-size="39.80" fill="#000" font-style="italic">35 dB</text>
<text transform="translate(1658.00,435.20) rotate(-90) scale(1.0000,1)" font-family="Liberation Sans, sans-serif" font-size="39.33" fill="#000" font-style="italic">35 dB</text>
<text transform="translate(764.20,1612.70) rotate(-90) scale(0.8476,1)" font-family="Liberation Sans, sans-serif" font-size="42.71" fill="#000">360°</text>
<text transform="translate(1650.90,1610.50) rotate(-90) scale(0.8444,1)" font-family="Liberation Sans, sans-serif" font-size="43.00" fill="#000">360°</text>
<circle cx="1460.5" cy="868" r="7.9" fill="none" stroke="#00cc00" stroke-width="1.3"/>
<line x1="1434.5" y1="911.9" x2="1487" y2="911.9" stroke="#ee0000" stroke-width="3.5"/>
<circle cx="1475.4" cy="1923" r="7.9" fill="none" stroke="#999900" stroke-width="1.3"/>
<line x1="1449.2" y1="1966.4" x2="1501.8" y2="1966.4" stroke="#cc0000" stroke-width="3.5"/>
</svg>
</body></html>
